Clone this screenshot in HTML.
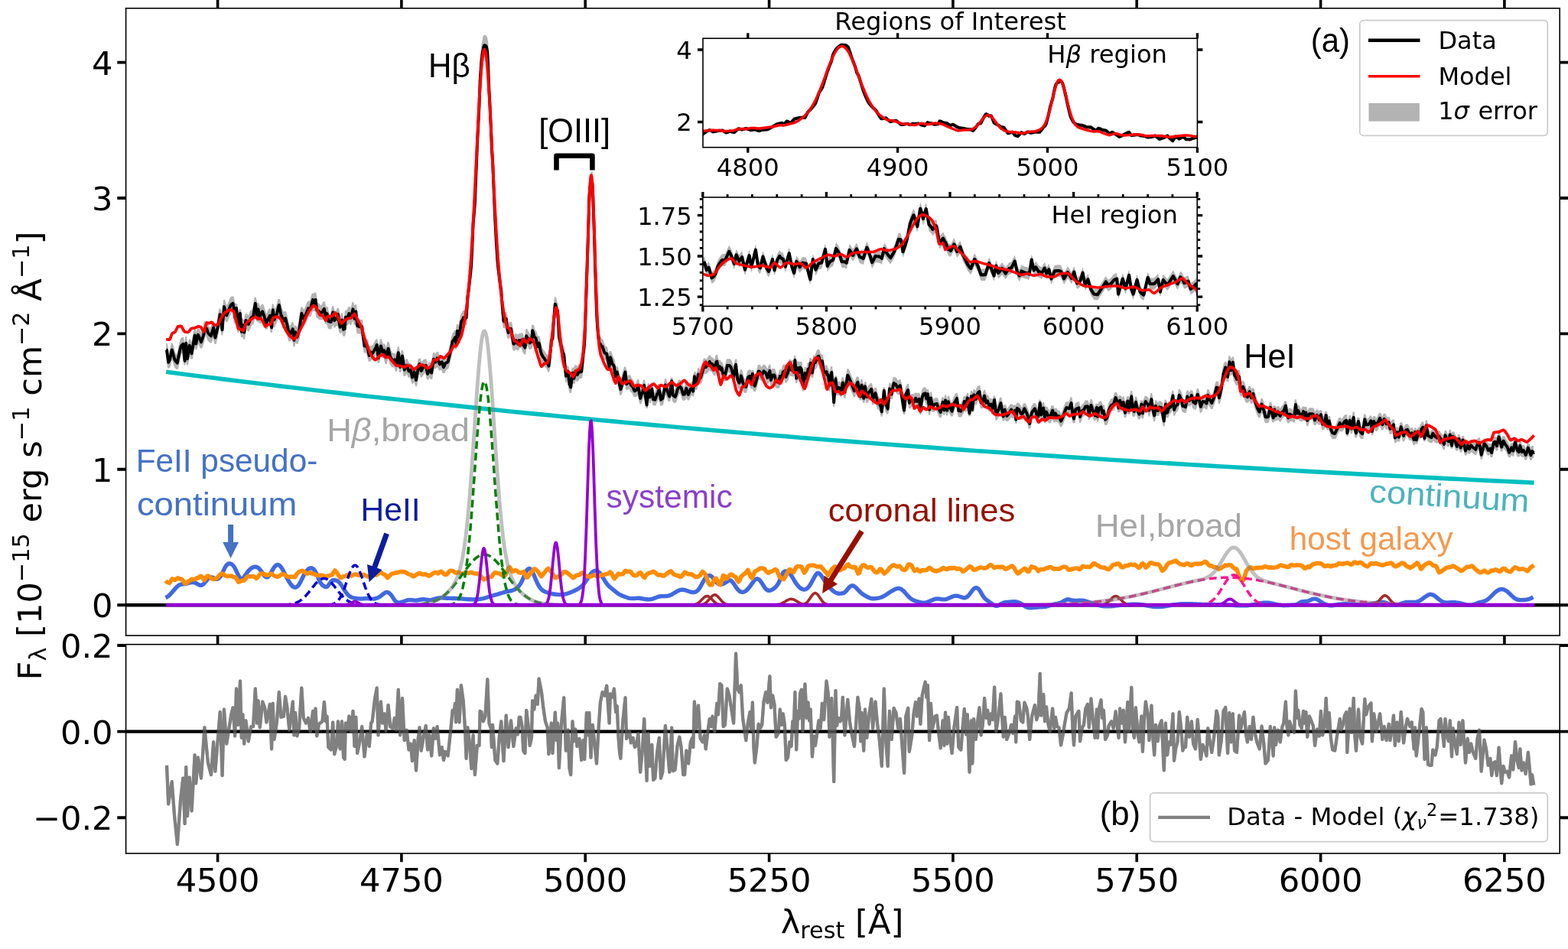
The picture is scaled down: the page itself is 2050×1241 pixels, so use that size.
<!DOCTYPE html>
<html><head><meta charset="utf-8"><title>Spectral decomposition</title>
<style>html,body{margin:0;padding:0;background:#fff}svg{display:block}</style></head>
<body>
<svg width="2050" height="1241" viewBox="0 0 2050 1241" role="img" aria-label="Spectral decomposition of an AGN spectrum">
<defs>
<clipPath id="cm"><rect x="164.6" y="10.8" width="1874.6" height="820.3"/></clipPath>
<clipPath id="c2"><rect x="164.6" y="842.7" width="1874.6" height="273.3"/></clipPath>
</defs>
<rect width="2050" height="1241" fill="#fff"/>
<g clip-path="url(#cm)" fill="none" stroke-linejoin="round" stroke-linecap="butt">
<path d="M164.6,791.2 H2039.2" stroke="#000" stroke-width="4.4"/>
<path d="M217.2,448.7 L218.2,448.7 L219.1,450.0 L220.1,457.0 L221.0,461.3 L222.0,457.1 L223.0,452.4 L223.9,448.8 L224.9,448.8 L225.8,448.8 L226.8,452.1 L227.8,455.6 L228.7,459.2 L229.7,462.0 L230.7,463.6 L231.6,462.0 L232.6,457.2 L233.5,452.7 L234.5,448.2 L235.5,444.6 L236.4,442.6 L237.4,441.5 L238.3,440.8 L239.3,440.8 L240.3,440.8 L241.2,450.3 L242.2,439.9 L243.2,439.9 L244.1,439.9 L245.1,450.5 L246.0,447.4 L247.0,443.5 L248.0,443.5 L248.9,443.5 L249.9,446.8 L250.8,446.0 L251.8,440.3 L252.8,434.6 L253.7,429.6 L254.7,429.6 L255.6,429.6 L256.6,434.3 L257.6,430.1 L258.5,429.6 L259.5,429.6 L260.5,429.6 L261.4,431.8 L262.4,434.1 L263.3,434.4 L264.3,431.6 L265.3,428.5 L266.2,422.6 L267.2,420.1 L268.1,419.9 L269.1,419.9 L270.1,419.9 L271.0,420.2 L272.0,422.8 L273.0,426.0 L273.9,427.3 L274.9,428.4 L275.8,426.6 L276.8,423.4 L277.8,420.3 L278.7,420.3 L279.7,420.3 L280.6,422.6 L281.6,427.4 L282.6,423.3 L283.5,419.1 L284.5,414.6 L285.4,409.2 L286.4,403.4 L287.4,403.4 L288.3,403.4 L289.3,405.9 L290.3,412.5 L291.2,400.4 L292.2,392.1 L293.1,392.1 L294.1,392.1 L295.1,395.1 L296.0,398.6 L297.0,398.5 L297.9,396.1 L298.9,393.7 L299.9,391.4 L300.8,389.3 L301.8,388.1 L302.8,387.4 L303.7,387.4 L304.7,387.4 L305.6,387.6 L306.6,392.8 L307.6,397.0 L308.5,397.0 L309.5,397.0 L310.4,398.0 L311.4,408.2 L312.4,404.5 L313.3,404.2 L314.3,404.2 L315.2,404.2 L316.2,416.8 L317.2,416.8 L318.1,416.8 L319.1,418.8 L320.1,411.8 L321.0,410.2 L322.0,410.2 L322.9,410.2 L323.9,411.7 L324.9,412.0 L325.8,409.6 L326.8,407.2 L327.7,405.8 L328.7,405.2 L329.7,404.5 L330.6,400.9 L331.6,394.6 L332.6,388.6 L333.5,388.6 L334.5,388.6 L335.4,391.9 L336.4,396.2 L337.4,396.2 L338.3,396.2 L339.3,398.3 L340.2,401.2 L341.2,399.3 L342.2,397.8 L343.1,397.8 L344.1,397.8 L345.0,400.0 L346.0,403.0 L347.0,406.0 L347.9,409.8 L348.9,408.9 L349.9,407.0 L350.8,405.3 L351.8,403.5 L352.7,403.5 L353.7,403.5 L354.7,409.8 L355.6,397.4 L356.6,397.4 L357.5,397.4 L358.5,401.4 L359.5,404.1 L360.4,402.1 L361.4,399.1 L362.4,395.0 L363.3,391.1 L364.3,391.1 L365.2,391.1 L366.2,391.3 L367.2,396.1 L368.1,401.0 L369.1,403.6 L370.0,405.7 L371.0,408.0 L372.0,407.0 L372.9,407.0 L373.9,407.0 L374.8,409.7 L375.8,413.5 L376.8,417.6 L377.7,421.9 L378.7,426.2 L379.7,424.9 L380.6,423.1 L381.6,421.3 L382.5,421.3 L383.5,421.3 L384.5,427.6 L385.4,425.6 L386.4,425.6 L387.3,425.6 L388.3,428.6 L389.3,426.0 L390.2,422.6 L391.2,415.6 L392.2,408.5 L393.1,401.4 L394.1,401.4 L395.0,401.4 L396.0,402.5 L397.0,405.1 L397.9,403.4 L398.9,401.7 L399.8,399.4 L400.8,396.8 L401.8,394.3 L402.7,393.8 L403.7,393.8 L404.6,393.8 L405.6,391.6 L406.6,387.8 L407.5,384.2 L408.5,383.6 L409.5,383.6 L410.4,383.6 L411.4,382.5 L412.3,382.5 L413.3,382.5 L414.3,388.4 L415.2,395.8 L416.2,396.2 L417.1,396.8 L418.1,397.7 L419.1,399.0 L420.0,398.9 L421.0,397.4 L422.0,395.7 L422.9,394.3 L423.9,394.3 L424.8,394.3 L425.8,399.5 L426.8,401.3 L427.7,401.3 L428.7,401.3 L429.6,406.4 L430.6,410.7 L431.6,411.0 L432.5,408.0 L433.5,403.0 L434.4,400.2 L435.4,400.2 L436.4,400.2 L437.3,405.3 L438.3,407.3 L439.3,407.3 L440.2,404.0 L441.2,402.8 L442.1,402.8 L443.1,402.8 L444.1,408.9 L445.0,413.6 L446.0,409.4 L446.9,409.4 L447.9,409.4 L448.9,414.8 L449.8,419.3 L450.8,405.9 L451.8,405.8 L452.7,405.8 L453.7,405.2 L454.6,402.4 L455.6,401.0 L456.6,401.0 L457.5,401.0 L458.5,403.1 L459.4,399.2 L460.4,395.1 L461.4,395.1 L462.3,395.1 L463.3,399.6 L464.2,398.2 L465.2,398.2 L466.2,398.2 L467.1,406.9 L468.1,416.7 L469.1,417.1 L470.0,417.5 L471.0,417.7 L471.9,417.7 L472.9,417.7 L473.9,418.0 L474.8,423.3 L475.8,430.5 L476.7,437.7 L477.7,443.4 L478.7,443.4 L479.6,443.4 L480.6,443.4 L481.6,446.4 L482.5,450.7 L483.5,453.0 L484.4,452.0 L485.4,452.0 L486.4,452.0 L487.3,450.9 L488.3,449.3 L489.2,447.6 L490.2,446.1 L491.2,443.6 L492.1,443.6 L493.1,443.6 L494.1,445.5 L495.0,452.3 L496.0,447.8 L496.9,443.4 L497.9,443.4 L498.9,443.4 L499.8,446.7 L500.8,449.4 L501.7,449.4 L502.7,449.4 L503.7,450.5 L504.6,454.6 L505.6,450.9 L506.5,447.1 L507.5,447.1 L508.5,447.1 L509.4,450.2 L510.4,454.3 L511.4,458.4 L512.3,459.9 L513.3,461.4 L514.2,461.9 L515.2,461.9 L516.2,461.9 L517.1,462.2 L518.1,463.2 L519.0,457.2 L520.0,453.3 L521.0,453.3 L521.9,453.3 L522.9,461.5 L523.9,462.5 L524.8,457.8 L525.8,457.8 L526.7,457.8 L527.7,461.7 L528.7,468.2 L529.6,471.3 L530.6,469.2 L531.5,469.2 L532.5,469.2 L533.5,471.0 L534.4,473.6 L535.4,475.3 L536.3,475.3 L537.3,475.3 L538.3,477.1 L539.2,481.5 L540.2,479.9 L541.2,479.6 L542.1,479.6 L543.1,479.6 L544.0,482.9 L545.0,477.5 L546.0,472.5 L546.9,469.3 L547.9,468.6 L548.8,468.6 L549.8,468.6 L550.8,472.3 L551.7,472.9 L552.7,471.3 L553.7,470.2 L554.6,469.8 L555.6,469.4 L556.5,469.4 L557.5,469.4 L558.5,472.9 L559.4,476.6 L560.4,473.8 L561.3,473.8 L562.3,473.8 L563.3,475.3 L564.2,472.3 L565.2,465.7 L566.1,461.0 L567.1,461.0 L568.1,461.0 L569.0,462.7 L570.0,461.2 L571.0,460.1 L571.9,460.1 L572.9,460.1 L573.8,462.6 L574.8,464.8 L575.8,465.0 L576.7,464.6 L577.7,464.6 L578.6,464.6 L579.6,467.6 L580.6,468.0 L581.5,466.2 L582.5,465.7 L583.5,465.1 L584.4,464.6 L585.4,461.4 L586.3,457.5 L587.3,453.5 L588.3,449.3 L589.2,444.7 L590.2,439.9 L591.1,436.6 L592.1,435.3 L593.1,433.9 L594.0,432.0 L595.0,432.0 L595.9,432.0 L596.9,424.0 L597.9,424.0 L598.8,424.0 L599.8,426.0 L600.8,422.0 L601.7,413.1 L602.7,410.6 L603.6,408.9 L604.6,406.7 L605.6,406.2 L606.5,405.8 L607.5,405.7 L608.4,405.7 L609.4,395.1 L610.4,379.8 L611.3,371.8 L612.3,363.8 L613.3,355.5 L614.2,346.7 L615.2,336.7 L616.1,318.1 L617.1,295.6 L618.1,277.3 L619.0,265.8 L620.0,252.8 L620.9,228.8 L621.9,204.6 L622.9,180.4 L623.8,160.5 L624.8,141.3 L625.7,120.6 L626.7,92.5 L627.7,77.9 L628.6,65.9 L629.6,57.8 L630.6,52.3 L631.5,47.7 L632.5,45.8 L633.4,45.8 L634.4,45.8 L635.4,46.8 L636.3,46.8 L637.3,49.7 L638.2,55.2 L639.2,75.9 L640.2,98.8 L641.1,118.9 L642.1,138.1 L643.1,160.0 L644.0,184.4 L645.0,196.5 L645.9,220.2 L646.9,243.9 L647.9,266.8 L648.8,287.2 L649.8,304.6 L650.7,320.8 L651.7,333.8 L652.7,342.9 L653.6,350.7 L654.6,358.4 L655.5,365.8 L656.5,374.2 L657.5,387.1 L658.4,399.3 L659.4,409.4 L660.4,407.9 L661.3,407.9 L662.3,407.9 L663.2,412.3 L664.2,419.0 L665.2,422.4 L666.1,421.4 L667.1,420.8 L668.0,420.8 L669.0,420.8 L670.0,426.2 L670.9,432.0 L671.9,437.9 L672.9,437.9 L673.8,436.2 L674.8,436.2 L675.7,436.2 L676.7,437.8 L677.7,436.3 L678.6,436.3 L679.6,436.3 L680.5,436.1 L681.5,435.3 L682.5,435.3 L683.4,435.3 L684.4,438.5 L685.3,442.3 L686.3,438.3 L687.3,429.9 L688.2,429.9 L689.2,429.9 L690.2,432.2 L691.1,433.6 L692.1,435.3 L693.0,437.5 L694.0,437.4 L695.0,425.0 L695.9,424.9 L696.9,424.9 L697.8,424.9 L698.8,428.6 L699.8,431.4 L700.7,432.4 L701.7,433.9 L702.7,438.6 L703.6,439.5 L704.6,439.5 L705.5,439.5 L706.5,443.7 L707.5,448.4 L708.4,452.5 L709.4,455.1 L710.3,456.9 L711.3,458.3 L712.3,459.3 L713.2,460.9 L714.2,462.7 L715.1,463.3 L716.1,463.6 L717.1,465.5 L718.0,456.8 L719.0,446.6 L720.0,436.0 L720.9,434.6 L721.9,426.7 L722.8,412.5 L723.8,399.4 L724.8,388.5 L725.7,388.5 L726.7,388.5 L727.6,391.1 L728.6,396.0 L729.6,396.0 L730.5,404.5 L731.5,423.3 L732.5,434.0 L733.4,438.2 L734.4,441.9 L735.3,446.7 L736.3,450.8 L737.3,453.3 L738.2,454.7 L739.2,465.7 L740.1,475.8 L741.1,478.5 L742.1,478.5 L743.0,478.5 L744.0,480.8 L744.9,489.8 L745.9,492.8 L746.9,484.6 L747.8,480.7 L748.8,480.7 L749.8,480.7 L750.7,480.1 L751.7,477.2 L752.6,477.2 L753.6,477.2 L754.6,479.1 L755.5,478.4 L756.5,476.3 L757.4,476.3 L758.4,476.3 L759.4,476.2 L760.3,467.8 L761.3,457.0 L762.3,449.5 L763.2,439.3 L764.2,413.8 L765.1,383.1 L766.1,350.4 L767.1,324.5 L768.0,295.1 L769.0,259.9 L769.9,238.4 L770.9,229.9 L771.9,226.7 L772.8,224.6 L773.8,224.6 L774.7,224.6 L775.7,232.6 L776.7,257.1 L777.6,287.9 L778.6,321.3 L779.6,354.9 L780.5,386.2 L781.5,408.3 L782.4,422.5 L783.4,432.0 L784.4,437.9 L785.3,440.6 L786.3,441.9 L787.2,443.2 L788.2,443.8 L789.2,446.0 L790.1,448.9 L791.1,451.7 L792.1,452.9 L793.0,453.3 L794.0,453.6 L794.9,458.2 L795.9,463.3 L796.9,459.1 L797.8,459.1 L798.8,459.1 L799.7,460.6 L800.7,464.2 L801.7,466.8 L802.6,468.4 L803.6,470.1 L804.6,475.4 L805.5,478.9 L806.5,478.9 L807.4,478.9 L808.4,481.3 L809.4,486.0 L810.3,490.6 L811.3,496.1 L812.2,494.8 L813.2,489.7 L814.2,486.3 L815.1,482.9 L816.1,479.4 L817.0,479.4 L818.0,479.4 L819.0,483.1 L819.9,492.1 L820.9,491.1 L821.9,490.3 L822.8,490.3 L823.8,490.3 L824.7,491.6 L825.7,494.6 L826.7,495.8 L827.6,496.8 L828.6,497.8 L829.5,500.9 L830.5,502.0 L831.5,500.8 L832.4,498.3 L833.4,496.2 L834.4,496.2 L835.3,496.2 L836.3,502.0 L837.2,507.9 L838.2,506.9 L839.2,504.6 L840.1,500.6 L841.1,496.5 L842.0,496.5 L843.0,496.5 L844.0,502.5 L844.9,510.3 L845.9,506.3 L846.8,501.6 L847.8,501.6 L848.8,501.6 L849.7,506.6 L850.7,503.1 L851.7,502.3 L852.6,502.3 L853.6,502.3 L854.5,509.7 L855.5,513.8 L856.5,511.8 L857.4,509.2 L858.4,506.8 L859.3,505.1 L860.3,502.1 L861.3,502.1 L862.2,502.1 L863.2,503.1 L864.2,509.1 L865.1,513.2 L866.1,509.3 L867.0,504.6 L868.0,499.8 L869.0,495.3 L869.9,495.3 L870.9,495.3 L871.8,498.6 L872.8,501.4 L873.8,504.0 L874.7,506.5 L875.7,500.5 L876.6,493.8 L877.6,493.8 L878.6,493.8 L879.5,494.2 L880.5,505.8 L881.5,509.3 L882.4,509.1 L883.4,506.3 L884.3,502.7 L885.3,500.3 L886.3,498.4 L887.2,496.5 L888.2,496.5 L889.1,496.5 L890.1,497.2 L891.1,498.4 L892.0,500.5 L893.0,503.7 L894.0,506.9 L894.9,504.3 L895.9,501.1 L896.8,501.1 L897.8,501.1 L898.8,501.1 L899.7,504.1 L900.7,503.6 L901.6,501.1 L902.6,500.0 L903.6,499.6 L904.5,499.6 L905.5,499.6 L906.4,489.7 L907.4,485.8 L908.4,485.8 L909.3,485.8 L910.3,489.5 L911.3,485.3 L912.2,481.2 L913.2,481.2 L914.1,481.2 L915.1,483.2 L916.1,481.8 L917.0,478.6 L918.0,475.3 L918.9,471.4 L919.9,468.4 L920.9,468.4 L921.8,468.4 L922.8,469.7 L923.8,469.4 L924.7,468.4 L925.7,466.5 L926.6,464.4 L927.6,464.4 L928.6,464.4 L929.5,465.8 L930.5,467.4 L931.4,467.4 L932.4,467.4 L933.4,470.6 L934.3,469.5 L935.3,465.5 L936.2,463.9 L937.2,463.9 L938.2,463.9 L939.1,469.1 L940.1,470.9 L941.1,470.9 L942.0,470.9 L943.0,473.3 L943.9,473.3 L944.9,474.3 L945.9,478.3 L946.8,480.7 L947.8,478.7 L948.7,475.0 L949.7,470.0 L950.7,469.2 L951.6,469.2 L952.6,469.2 L953.6,469.2 L954.5,469.3 L955.5,470.2 L956.4,471.6 L957.4,474.3 L958.4,477.4 L959.3,478.0 L960.3,472.7 L961.2,469.4 L962.2,469.4 L963.2,469.4 L964.1,478.2 L965.1,486.4 L966.0,489.7 L967.0,486.7 L968.0,483.1 L968.9,483.1 L969.9,483.1 L970.9,486.1 L971.8,490.6 L972.8,493.3 L973.7,495.3 L974.7,495.9 L975.7,491.2 L976.6,486.9 L977.6,484.5 L978.5,483.7 L979.5,483.5 L980.5,483.5 L981.4,483.5 L982.4,484.9 L983.4,484.1 L984.3,484.1 L985.3,484.1 L986.2,492.4 L987.2,491.6 L988.2,488.3 L989.1,484.3 L990.1,479.9 L991.0,476.9 L992.0,476.9 L993.0,476.9 L993.9,477.3 L994.9,479.0 L995.8,479.9 L996.8,478.1 L997.8,476.9 L998.7,476.9 L999.7,476.9 L1000.7,477.8 L1001.6,478.6 L1002.6,480.4 L1003.5,482.2 L1004.5,479.1 L1005.5,476.7 L1006.4,476.7 L1007.4,476.7 L1008.3,484.3 L1009.3,481.9 L1010.3,481.9 L1011.2,481.9 L1012.2,482.0 L1013.2,482.0 L1014.1,484.4 L1015.1,488.3 L1016.0,490.3 L1017.0,490.6 L1018.0,487.2 L1018.9,483.5 L1019.9,483.5 L1020.8,483.5 L1021.8,482.7 L1022.8,477.9 L1023.7,477.5 L1024.7,476.7 L1025.6,476.7 L1026.6,476.7 L1027.6,479.2 L1028.5,479.9 L1029.5,476.9 L1030.5,473.1 L1031.4,470.1 L1032.4,470.1 L1033.3,470.1 L1034.3,471.2 L1035.3,471.1 L1036.2,471.1 L1037.2,471.1 L1038.1,465.0 L1039.1,465.0 L1040.1,465.0 L1041.0,471.1 L1042.0,472.6 L1043.0,472.6 L1043.9,472.6 L1044.9,473.2 L1045.8,472.7 L1046.8,472.7 L1047.8,472.7 L1048.7,474.1 L1049.7,484.9 L1050.6,485.4 L1051.6,479.8 L1052.6,479.8 L1053.5,479.8 L1054.5,481.4 L1055.4,474.6 L1056.4,474.6 L1057.4,474.5 L1058.3,468.3 L1059.3,468.3 L1060.3,468.3 L1061.2,469.5 L1062.2,470.8 L1063.1,464.7 L1064.1,464.7 L1065.1,464.7 L1066.0,462.7 L1067.0,460.3 L1067.9,457.9 L1068.9,457.1 L1069.9,457.1 L1070.8,457.1 L1071.8,458.4 L1072.8,462.3 L1073.7,463.5 L1074.7,463.5 L1075.6,463.5 L1076.6,468.2 L1077.6,474.9 L1078.5,478.3 L1079.5,477.5 L1080.4,477.5 L1081.4,477.5 L1082.4,481.8 L1083.3,481.9 L1084.3,486.2 L1085.2,484.5 L1086.2,479.0 L1087.2,479.0 L1088.1,479.0 L1089.1,488.3 L1090.1,501.3 L1091.0,494.5 L1092.0,491.3 L1092.9,491.3 L1093.9,491.3 L1094.9,499.0 L1095.8,498.7 L1096.8,498.7 L1097.7,498.7 L1098.7,500.0 L1099.7,498.8 L1100.6,493.3 L1101.6,493.3 L1102.6,493.3 L1103.5,496.1 L1104.5,498.9 L1105.4,493.1 L1106.4,487.5 L1107.4,482.2 L1108.3,482.2 L1109.3,482.2 L1110.2,483.9 L1111.2,485.9 L1112.2,488.6 L1113.1,490.9 L1114.1,493.3 L1115.1,495.8 L1116.0,498.1 L1117.0,500.3 L1117.9,497.9 L1118.9,495.0 L1119.9,492.6 L1120.8,492.6 L1121.8,492.6 L1122.7,493.4 L1123.7,497.4 L1124.7,500.7 L1125.6,495.7 L1126.6,495.7 L1127.5,495.7 L1128.5,501.8 L1129.5,502.2 L1130.4,499.2 L1131.4,499.2 L1132.4,499.2 L1133.3,505.2 L1134.3,506.5 L1135.2,504.5 L1136.2,503.3 L1137.2,502.1 L1138.1,500.9 L1139.1,500.9 L1140.0,500.9 L1141.0,506.0 L1142.0,509.8 L1142.9,507.3 L1143.9,507.1 L1144.9,507.1 L1145.8,507.1 L1146.8,511.2 L1147.7,515.2 L1148.7,518.3 L1149.7,519.4 L1150.6,520.2 L1151.6,521.7 L1152.5,524.2 L1153.5,515.8 L1154.5,506.4 L1155.4,506.4 L1156.4,506.4 L1157.3,507.7 L1158.3,515.3 L1159.3,521.1 L1160.2,521.0 L1161.2,509.6 L1162.2,500.4 L1163.1,500.4 L1164.1,500.4 L1165.0,502.9 L1166.0,500.1 L1167.0,495.6 L1167.9,492.9 L1168.9,492.9 L1169.8,492.9 L1170.8,493.5 L1171.8,494.1 L1172.7,495.3 L1173.7,497.3 L1174.7,497.7 L1175.6,496.0 L1176.6,496.0 L1177.5,496.0 L1178.5,499.9 L1179.5,506.3 L1180.4,513.0 L1181.4,519.4 L1182.3,517.0 L1183.3,507.5 L1184.3,505.6 L1185.2,503.8 L1186.2,501.9 L1187.1,501.9 L1188.1,501.9 L1189.1,511.1 L1190.0,516.1 L1191.0,515.5 L1192.0,515.1 L1192.9,515.1 L1193.9,515.1 L1194.8,515.7 L1195.8,513.6 L1196.8,513.6 L1197.7,513.6 L1198.7,513.9 L1199.6,514.3 L1200.6,513.8 L1201.6,513.8 L1202.5,513.8 L1203.5,520.0 L1204.5,513.1 L1205.4,509.4 L1206.4,507.3 L1207.3,506.7 L1208.3,506.3 L1209.3,506.3 L1210.2,506.3 L1211.2,508.6 L1212.1,509.2 L1213.1,509.2 L1214.1,509.2 L1215.0,518.0 L1216.0,512.6 L1216.9,512.6 L1217.9,512.6 L1218.9,517.4 L1219.8,522.3 L1220.8,521.3 L1221.8,520.4 L1222.7,520.4 L1223.7,520.1 L1224.6,520.1 L1225.6,520.1 L1226.6,522.2 L1227.5,524.8 L1228.5,527.0 L1229.4,528.0 L1230.4,523.5 L1231.4,519.2 L1232.3,519.2 L1233.3,519.2 L1234.3,521.5 L1235.2,516.4 L1236.2,516.4 L1237.1,516.4 L1238.1,522.3 L1239.1,517.7 L1240.0,517.7 L1241.0,517.7 L1241.9,521.0 L1242.9,524.4 L1243.9,526.5 L1244.8,525.1 L1245.8,521.7 L1246.7,519.1 L1247.7,517.4 L1248.7,515.6 L1249.6,513.8 L1250.6,513.8 L1251.6,513.8 L1252.5,516.4 L1253.5,523.4 L1254.4,529.4 L1255.4,529.5 L1256.4,527.2 L1257.3,525.4 L1258.3,523.5 L1259.2,519.5 L1260.2,518.0 L1261.2,518.0 L1262.1,518.0 L1263.1,516.8 L1264.1,513.8 L1265.0,513.8 L1266.0,513.8 L1266.9,520.9 L1267.9,518.9 L1268.9,511.0 L1269.8,511.0 L1270.8,511.0 L1271.7,512.8 L1272.7,509.3 L1273.7,509.3 L1274.6,509.3 L1275.6,511.2 L1276.5,507.8 L1277.5,505.8 L1278.5,504.7 L1279.4,504.0 L1280.4,504.0 L1281.4,504.0 L1282.3,509.8 L1283.3,516.7 L1284.2,516.2 L1285.2,512.7 L1286.2,509.7 L1287.1,509.7 L1288.1,509.7 L1289.0,513.9 L1290.0,516.5 L1291.0,516.5 L1291.9,516.5 L1292.9,518.7 L1293.9,521.2 L1294.8,521.0 L1295.8,521.0 L1296.7,521.0 L1297.7,522.2 L1298.7,517.4 L1299.6,517.4 L1300.6,517.4 L1301.5,519.4 L1302.5,527.7 L1303.5,530.3 L1304.4,528.3 L1305.4,525.7 L1306.3,522.6 L1307.3,519.6 L1308.3,519.6 L1309.2,519.6 L1310.2,523.8 L1311.2,529.1 L1312.1,530.4 L1313.1,529.3 L1314.0,529.3 L1315.0,529.3 L1316.0,532.3 L1316.9,534.3 L1317.9,533.1 L1318.8,531.6 L1319.8,530.0 L1320.8,528.4 L1321.7,528.4 L1322.7,528.4 L1323.7,528.5 L1324.6,529.9 L1325.6,529.4 L1326.5,529.4 L1327.5,529.4 L1328.5,529.4 L1329.4,526.6 L1330.4,526.6 L1331.3,526.6 L1332.3,527.5 L1333.3,528.0 L1334.2,530.0 L1335.2,531.9 L1336.1,532.8 L1337.1,529.8 L1338.1,527.3 L1339.0,527.3 L1340.0,527.3 L1341.0,527.6 L1341.9,529.8 L1342.9,531.7 L1343.8,534.0 L1344.8,536.9 L1345.8,541.5 L1346.7,538.1 L1347.7,533.3 L1348.6,530.9 L1349.6,529.6 L1350.6,528.2 L1351.5,527.0 L1352.5,527.0 L1353.5,527.0 L1354.4,527.7 L1355.4,530.7 L1356.3,534.5 L1357.3,530.9 L1358.3,522.8 L1359.2,522.8 L1360.2,522.8 L1361.1,524.0 L1362.1,528.4 L1363.1,526.0 L1364.0,526.0 L1365.0,526.0 L1365.9,531.1 L1366.9,531.4 L1367.9,531.4 L1368.8,531.4 L1369.8,532.7 L1370.8,534.8 L1371.7,536.1 L1372.7,535.7 L1373.6,533.0 L1374.6,530.3 L1375.6,530.3 L1376.5,530.3 L1377.5,530.5 L1378.4,534.1 L1379.4,533.7 L1380.4,533.7 L1381.3,533.7 L1382.3,535.4 L1383.3,536.6 L1384.2,536.6 L1385.2,536.6 L1386.1,538.4 L1387.1,540.8 L1388.1,539.1 L1389.0,536.8 L1390.0,533.9 L1390.9,531.0 L1391.9,528.4 L1392.9,526.1 L1393.8,525.2 L1394.8,525.2 L1395.7,525.2 L1396.7,525.6 L1397.7,525.1 L1398.6,522.1 L1399.6,519.2 L1400.6,519.2 L1401.5,519.2 L1402.5,526.4 L1403.4,533.6 L1404.4,532.2 L1405.4,527.4 L1406.3,526.9 L1407.3,526.4 L1408.2,525.9 L1409.2,525.3 L1410.2,525.3 L1411.1,525.3 L1412.1,531.3 L1413.1,531.5 L1414.0,529.2 L1415.0,528.5 L1415.9,528.5 L1416.9,526.6 L1417.9,524.4 L1418.8,523.5 L1419.8,523.5 L1420.7,523.4 L1421.7,523.4 L1422.7,523.4 L1423.6,527.6 L1424.6,526.4 L1425.5,522.1 L1426.5,522.1 L1427.5,522.1 L1428.4,525.0 L1429.4,527.8 L1430.4,530.1 L1431.3,532.4 L1432.3,527.8 L1433.2,527.8 L1434.2,527.8 L1435.2,528.5 L1436.1,526.3 L1437.1,525.4 L1438.0,524.6 L1439.0,524.6 L1440.0,524.6 L1440.9,526.7 L1441.9,529.6 L1442.9,529.6 L1443.8,529.6 L1444.8,534.5 L1445.7,539.4 L1446.7,537.5 L1447.7,533.9 L1448.6,529.3 L1449.6,526.7 L1450.5,524.6 L1451.5,522.7 L1452.5,521.5 L1453.4,521.3 L1454.4,521.2 L1455.4,519.2 L1456.3,516.1 L1457.3,513.0 L1458.2,513.0 L1459.2,513.0 L1460.2,513.4 L1461.1,516.0 L1462.1,519.5 L1463.0,517.1 L1464.0,517.1 L1465.0,517.1 L1465.9,517.9 L1466.9,519.9 L1467.8,518.6 L1468.8,518.6 L1469.8,518.6 L1470.7,524.6 L1471.7,524.2 L1472.7,519.8 L1473.6,518.3 L1474.6,518.3 L1475.5,518.3 L1476.5,520.5 L1477.5,515.1 L1478.4,511.1 L1479.4,511.1 L1480.3,511.1 L1481.3,520.3 L1482.3,527.8 L1483.2,522.0 L1484.2,518.7 L1485.2,518.7 L1486.1,518.7 L1487.1,522.8 L1488.0,527.0 L1489.0,530.8 L1490.0,528.3 L1490.9,523.2 L1491.9,523.2 L1492.8,523.2 L1493.8,524.2 L1494.8,523.1 L1495.7,519.9 L1496.7,517.7 L1497.6,517.7 L1498.6,517.7 L1499.6,518.6 L1500.5,519.6 L1501.5,520.2 L1502.5,523.2 L1503.4,518.6 L1504.4,514.1 L1505.3,514.1 L1506.3,514.1 L1507.3,520.6 L1508.2,527.5 L1509.2,528.9 L1510.1,523.2 L1511.1,523.2 L1512.1,523.2 L1513.0,525.4 L1514.0,526.2 L1515.0,524.4 L1515.9,524.4 L1516.9,524.4 L1517.8,524.8 L1518.8,525.2 L1519.8,526.4 L1520.7,532.0 L1521.7,533.2 L1522.6,522.7 L1523.6,522.7 L1524.6,522.7 L1525.5,524.4 L1526.5,527.7 L1527.4,525.0 L1528.4,524.7 L1529.4,524.5 L1530.3,520.6 L1531.3,515.6 L1532.3,510.7 L1533.2,510.7 L1534.2,510.7 L1535.1,517.7 L1536.1,523.3 L1537.1,522.3 L1538.0,521.7 L1539.0,519.1 L1539.9,513.8 L1540.9,508.7 L1541.9,508.7 L1542.8,508.7 L1543.8,510.8 L1544.8,512.8 L1545.7,516.2 L1546.7,520.4 L1547.6,523.2 L1548.6,523.2 L1549.6,521.4 L1550.5,515.3 L1551.5,510.6 L1552.4,510.6 L1553.4,510.6 L1554.4,512.6 L1555.3,512.9 L1556.3,510.5 L1557.2,510.3 L1558.2,510.3 L1559.2,510.3 L1560.1,514.1 L1561.1,517.9 L1562.1,518.4 L1563.0,515.4 L1564.0,511.1 L1564.9,508.0 L1565.9,508.0 L1566.9,508.0 L1567.8,511.4 L1568.8,514.8 L1569.7,519.2 L1570.7,519.3 L1571.7,517.0 L1572.6,517.0 L1573.6,517.0 L1574.6,517.1 L1575.5,517.3 L1576.5,517.7 L1577.4,513.7 L1578.4,509.1 L1579.4,509.1 L1580.3,509.1 L1581.3,511.5 L1582.2,513.8 L1583.2,515.7 L1584.2,516.8 L1585.1,514.5 L1586.1,512.1 L1587.0,508.5 L1588.0,504.6 L1589.0,500.6 L1589.9,498.5 L1590.9,498.5 L1591.9,498.5 L1592.8,498.8 L1593.8,503.6 L1594.7,504.5 L1595.7,500.3 L1596.7,493.9 L1597.6,486.9 L1598.6,480.2 L1599.5,477.0 L1600.5,473.9 L1601.5,472.9 L1602.4,472.9 L1603.4,472.9 L1604.4,476.9 L1605.3,473.6 L1606.3,465.3 L1607.2,465.3 L1608.2,465.3 L1609.2,468.4 L1610.1,468.5 L1611.1,466.5 L1612.0,466.5 L1613.0,466.5 L1614.0,473.7 L1614.9,481.4 L1615.9,483.5 L1616.8,485.0 L1617.8,484.6 L1618.8,483.8 L1619.7,483.8 L1620.7,483.8 L1621.7,490.0 L1622.6,498.8 L1623.6,498.4 L1624.5,498.3 L1625.5,498.3 L1626.5,498.3 L1627.4,501.5 L1628.4,503.7 L1629.3,507.1 L1630.3,509.7 L1631.3,507.7 L1632.2,505.1 L1633.2,505.1 L1634.2,505.1 L1635.1,505.6 L1636.1,509.1 L1637.0,507.5 L1638.0,507.5 L1639.0,507.5 L1639.9,509.2 L1640.9,513.4 L1641.8,516.9 L1642.8,519.6 L1643.8,522.4 L1644.7,525.1 L1645.7,527.4 L1646.6,527.5 L1647.6,524.2 L1648.6,520.8 L1649.5,520.8 L1650.5,520.8 L1651.5,523.0 L1652.4,525.9 L1653.4,529.0 L1654.3,532.9 L1655.3,536.9 L1656.3,537.7 L1657.2,536.5 L1658.2,532.2 L1659.1,528.0 L1660.1,525.5 L1661.1,525.5 L1662.0,525.5 L1663.0,529.0 L1664.0,532.5 L1664.9,530.2 L1665.9,530.2 L1666.8,530.2 L1667.8,530.4 L1668.8,532.9 L1669.7,531.1 L1670.7,531.1 L1671.6,531.1 L1672.6,532.0 L1673.6,534.0 L1674.5,532.4 L1675.5,530.7 L1676.4,530.4 L1677.4,529.6 L1678.4,526.9 L1679.3,524.2 L1680.3,524.2 L1681.3,524.2 L1682.2,525.2 L1683.2,531.3 L1684.1,535.4 L1685.1,533.6 L1686.1,533.6 L1687.0,533.6 L1688.0,534.3 L1688.9,534.9 L1689.9,535.4 L1690.9,535.7 L1691.8,530.9 L1692.8,522.2 L1693.8,522.2 L1694.7,522.2 L1695.7,526.5 L1696.6,530.1 L1697.6,530.1 L1698.6,530.1 L1699.5,532.3 L1700.5,534.4 L1701.4,534.4 L1702.4,531.9 L1703.4,531.5 L1704.3,531.5 L1705.3,531.5 L1706.2,532.1 L1707.2,532.1 L1708.2,532.1 L1709.1,536.3 L1710.1,536.1 L1711.1,533.4 L1712.0,533.4 L1713.0,533.3 L1713.9,533.3 L1714.9,533.3 L1715.9,533.3 L1716.8,533.4 L1717.8,534.0 L1718.7,537.4 L1719.7,538.1 L1720.7,535.8 L1721.6,535.8 L1722.6,535.8 L1723.6,536.1 L1724.5,538.1 L1725.5,536.2 L1726.4,536.2 L1727.4,536.2 L1728.4,537.1 L1729.3,542.6 L1730.3,545.1 L1731.2,542.2 L1732.2,537.8 L1733.2,537.8 L1734.1,537.8 L1735.1,538.8 L1736.0,544.7 L1737.0,544.0 L1738.0,544.0 L1738.9,544.0 L1739.9,548.7 L1740.9,553.4 L1741.8,555.8 L1742.8,557.9 L1743.7,559.0 L1744.7,558.6 L1745.7,556.6 L1746.6,554.5 L1747.6,552.4 L1748.5,550.3 L1749.5,548.1 L1750.5,546.0 L1751.4,546.0 L1752.4,546.0 L1753.4,547.1 L1754.3,547.8 L1755.3,546.5 L1756.2,544.8 L1757.2,543.3 L1758.2,542.7 L1759.1,542.1 L1760.1,542.1 L1761.0,542.1 L1762.0,550.7 L1763.0,545.9 L1763.9,542.9 L1764.9,542.9 L1765.9,542.9 L1766.8,547.6 L1767.8,543.2 L1768.7,538.4 L1769.7,538.4 L1770.7,538.4 L1771.6,546.9 L1772.6,554.5 L1773.5,550.7 L1774.5,545.7 L1775.5,545.7 L1776.4,545.7 L1777.4,546.0 L1778.3,551.7 L1779.3,556.7 L1780.3,558.2 L1781.2,553.4 L1782.2,547.5 L1783.2,541.6 L1784.1,541.6 L1785.1,541.6 L1786.0,543.5 L1787.0,547.6 L1788.0,547.6 L1788.9,546.7 L1789.9,545.3 L1790.8,543.6 L1791.8,543.6 L1792.8,543.6 L1793.7,546.1 L1794.7,546.4 L1795.7,544.0 L1796.6,544.0 L1797.6,544.0 L1798.5,545.6 L1799.5,547.0 L1800.5,544.9 L1801.4,542.8 L1802.4,540.7 L1803.3,539.8 L1804.3,539.8 L1805.3,539.8 L1806.2,542.4 L1807.2,544.9 L1808.1,542.1 L1809.1,540.7 L1810.1,540.7 L1811.0,540.7 L1812.0,542.1 L1813.0,544.9 L1813.9,545.4 L1814.9,545.2 L1815.8,545.2 L1816.8,545.2 L1817.8,549.8 L1818.7,551.2 L1819.7,549.7 L1820.6,548.2 L1821.6,548.2 L1822.6,548.2 L1823.5,552.7 L1824.5,562.1 L1825.5,558.2 L1826.4,558.2 L1827.4,558.2 L1828.3,560.2 L1829.3,557.3 L1830.3,552.8 L1831.2,552.3 L1832.2,552.3 L1833.1,552.3 L1834.1,555.7 L1835.1,559.1 L1836.0,557.4 L1837.0,555.2 L1837.9,554.7 L1838.9,554.4 L1839.9,554.4 L1840.8,554.4 L1841.8,556.1 L1842.8,558.3 L1843.7,560.2 L1844.7,558.9 L1845.6,558.9 L1846.6,558.9 L1847.6,561.7 L1848.5,561.8 L1849.5,559.5 L1850.4,559.5 L1851.4,559.5 L1852.4,562.6 L1853.3,560.0 L1854.3,559.0 L1855.3,558.2 L1856.2,557.2 L1857.2,555.0 L1858.1,552.9 L1859.1,551.5 L1860.1,551.5 L1861.0,551.5 L1862.0,556.1 L1862.9,555.3 L1863.9,549.4 L1864.9,549.4 L1865.8,549.4 L1866.8,554.8 L1867.7,560.9 L1868.7,562.8 L1869.7,563.4 L1870.6,563.9 L1871.6,561.7 L1872.6,559.7 L1873.5,559.7 L1874.5,559.7 L1875.4,561.0 L1876.4,562.3 L1877.4,563.7 L1878.3,564.1 L1879.3,563.5 L1880.2,563.2 L1881.2,563.2 L1882.2,563.2 L1883.1,564.7 L1884.1,566.3 L1885.1,567.1 L1886.0,568.4 L1887.0,569.6 L1887.9,566.3 L1888.9,562.8 L1889.9,562.8 L1890.8,562.8 L1891.8,565.5 L1892.7,568.1 L1893.7,566.7 L1894.7,561.8 L1895.6,561.8 L1896.6,561.8 L1897.5,566.2 L1898.5,564.5 L1899.5,564.5 L1900.4,564.5 L1901.4,565.1 L1902.4,567.1 L1903.3,569.7 L1904.3,572.4 L1905.2,571.5 L1906.2,567.9 L1907.2,567.9 L1908.1,567.9 L1909.1,570.1 L1910.0,574.7 L1911.0,570.4 L1912.0,570.1 L1912.9,570.1 L1913.9,570.1 L1914.9,573.6 L1915.8,577.3 L1916.8,578.0 L1917.7,575.4 L1918.7,575.4 L1919.7,575.4 L1920.6,577.5 L1921.6,576.7 L1922.5,575.6 L1923.5,575.6 L1924.5,575.6 L1925.4,576.6 L1926.4,577.7 L1927.3,578.6 L1928.3,579.2 L1929.3,578.1 L1930.2,575.2 L1931.2,573.7 L1932.2,572.9 L1933.1,572.2 L1934.1,572.2 L1935.0,572.2 L1936.0,578.0 L1937.0,583.1 L1937.9,579.4 L1938.9,575.7 L1939.8,573.3 L1940.8,573.3 L1941.8,573.3 L1942.7,574.3 L1943.7,575.4 L1944.7,577.2 L1945.6,579.3 L1946.6,580.3 L1947.5,580.0 L1948.5,580.0 L1949.5,580.0 L1950.4,579.1 L1951.4,574.4 L1952.3,571.1 L1953.3,570.7 L1954.3,570.7 L1955.2,570.7 L1956.2,571.9 L1957.1,570.9 L1958.1,566.6 L1959.1,565.6 L1960.0,565.6 L1961.0,565.6 L1962.0,569.4 L1962.9,572.9 L1963.9,571.7 L1964.8,569.8 L1965.8,569.8 L1966.8,569.8 L1967.7,571.6 L1968.7,573.8 L1969.6,574.9 L1970.6,576.2 L1971.6,577.6 L1972.5,580.3 L1973.5,582.8 L1974.5,580.5 L1975.4,578.9 L1976.4,578.9 L1977.3,578.9 L1978.3,578.0 L1979.3,573.9 L1980.2,571.7 L1981.2,571.7 L1982.1,571.7 L1983.1,575.6 L1984.1,579.6 L1985.0,582.1 L1986.0,577.4 L1986.9,577.4 L1987.9,577.4 L1988.9,577.8 L1989.8,581.4 L1990.8,581.8 L1991.8,581.8 L1992.7,581.8 L1993.7,583.8 L1994.6,585.9 L1995.6,583.1 L1996.6,579.8 L1997.5,579.8 L1998.5,579.8 L1999.4,580.2 L2000.4,582.7 L2001.4,585.2 L2002.3,583.1 L2003.3,583.1 L2004.3,583.1 L2005.2,584.0 L2005.2,598.7 L2004.3,598.7 L2003.3,599.3 L2002.3,602.0 L2001.4,602.0 L2000.4,602.0 L1999.4,599.1 L1998.5,596.6 L1997.5,597.1 L1996.6,599.8 L1995.6,601.7 L1994.6,601.7 L1993.7,601.7 L1992.7,599.8 L1991.8,597.8 L1990.8,597.7 L1989.8,597.7 L1988.9,597.7 L1987.9,595.4 L1986.9,596.7 L1986.0,597.4 L1985.0,597.4 L1984.1,597.4 L1983.1,596.2 L1982.1,593.7 L1981.2,589.9 L1980.2,592.2 L1979.3,596.7 L1978.3,596.7 L1977.3,596.7 L1976.4,594.9 L1975.4,596.8 L1974.5,598.2 L1973.5,598.2 L1972.5,598.2 L1971.6,597.0 L1970.6,594.3 L1969.6,591.8 L1968.7,590.4 L1967.7,589.2 L1966.8,588.1 L1965.8,586.1 L1964.8,589.4 L1963.9,590.5 L1962.9,590.5 L1962.0,590.5 L1961.0,587.3 L1960.0,583.8 L1959.1,585.3 L1958.1,589.4 L1957.1,589.4 L1956.2,589.4 L1955.2,588.5 L1954.3,586.2 L1953.3,588.7 L1952.3,593.3 L1951.4,598.1 L1950.4,598.1 L1949.5,598.1 L1948.5,597.7 L1947.5,595.1 L1946.6,595.6 L1945.6,595.6 L1944.7,595.6 L1943.7,593.4 L1942.7,591.4 L1941.8,589.6 L1940.8,589.9 L1939.8,593.5 L1938.9,597.1 L1937.9,600.8 L1937.0,600.8 L1936.0,600.8 L1935.0,597.7 L1934.1,592.2 L1933.1,588.0 L1932.2,589.5 L1931.2,592.2 L1930.2,595.0 L1929.3,595.0 L1928.3,595.0 L1927.3,593.9 L1926.4,593.3 L1925.4,592.7 L1924.5,591.9 L1923.5,590.9 L1922.5,593.0 L1921.6,593.6 L1920.6,593.6 L1919.7,593.6 L1918.7,592.2 L1917.7,594.5 L1916.8,595.4 L1915.8,595.4 L1914.9,595.4 L1913.9,591.5 L1912.9,587.9 L1912.0,589.0 L1911.0,591.8 L1910.0,591.8 L1909.1,591.8 L1908.1,589.5 L1907.2,585.9 L1906.2,589.4 L1905.2,589.6 L1904.3,589.6 L1903.3,589.6 L1902.4,586.7 L1901.4,584.1 L1900.4,581.6 L1899.5,586.3 L1898.5,586.8 L1897.5,586.8 L1896.6,586.8 L1895.6,581.2 L1894.7,584.3 L1893.7,584.3 L1892.7,584.3 L1891.8,583.4 L1890.8,582.6 L1889.9,580.8 L1888.9,587.9 L1887.9,587.9 L1887.0,587.9 L1886.0,585.9 L1885.1,584.0 L1884.1,582.8 L1883.1,581.6 L1882.2,580.9 L1881.2,579.3 L1880.2,579.1 L1879.3,579.4 L1878.3,579.4 L1877.4,579.4 L1876.4,578.7 L1875.4,578.3 L1874.5,576.9 L1873.5,576.4 L1872.6,579.2 L1871.6,579.2 L1870.6,579.2 L1869.7,579.0 L1868.7,578.5 L1867.7,578.0 L1866.8,577.5 L1865.8,575.6 L1864.9,570.2 L1863.9,577.3 L1862.9,577.3 L1862.0,577.3 L1861.0,577.0 L1860.1,571.0 L1859.1,569.9 L1858.1,572.0 L1857.2,573.0 L1856.2,573.8 L1855.3,574.8 L1854.3,577.3 L1853.3,580.4 L1852.4,580.5 L1851.4,580.5 L1850.4,580.5 L1849.5,582.1 L1848.5,582.1 L1847.6,582.1 L1846.6,579.3 L1845.6,576.4 L1844.7,576.0 L1843.7,576.0 L1842.8,576.0 L1841.8,575.0 L1840.8,573.1 L1839.9,571.0 L1838.9,570.1 L1837.9,572.2 L1837.0,574.7 L1836.0,577.2 L1835.1,577.2 L1834.1,577.2 L1833.1,573.8 L1832.2,570.5 L1831.2,572.2 L1830.3,576.6 L1829.3,577.7 L1828.3,577.7 L1827.4,577.7 L1826.4,576.7 L1825.5,579.2 L1824.5,579.2 L1823.5,579.2 L1822.6,576.8 L1821.6,567.7 L1820.6,566.3 L1819.7,567.2 L1818.7,568.1 L1817.8,568.1 L1816.8,568.1 L1815.8,564.9 L1814.9,561.2 L1813.9,561.7 L1813.0,561.7 L1812.0,561.7 L1811.0,560.1 L1810.1,557.4 L1809.1,560.5 L1808.1,562.4 L1807.2,562.4 L1806.2,562.4 L1805.3,560.2 L1804.3,557.7 L1803.3,558.1 L1802.4,560.1 L1801.4,562.2 L1800.5,564.0 L1799.5,564.0 L1798.5,564.0 L1797.6,562.4 L1796.6,561.5 L1795.7,566.9 L1794.7,569.6 L1793.7,569.6 L1792.8,569.6 L1791.8,561.3 L1790.8,561.8 L1789.9,562.7 L1788.9,562.9 L1788.0,562.9 L1787.0,562.9 L1786.0,562.8 L1785.1,562.8 L1784.1,562.6 L1783.2,568.3 L1782.2,574.0 L1781.2,574.0 L1780.3,574.0 L1779.3,574.0 L1778.3,573.0 L1777.4,571.5 L1776.4,566.7 L1775.5,565.8 L1774.5,570.9 L1773.5,572.4 L1772.6,572.4 L1771.6,572.4 L1770.7,569.5 L1769.7,562.1 L1768.7,563.7 L1767.8,567.3 L1766.8,567.3 L1765.9,567.3 L1764.9,562.8 L1763.9,565.8 L1763.0,570.5 L1762.0,570.5 L1761.0,570.5 L1760.1,569.4 L1759.1,558.6 L1758.2,560.0 L1757.2,561.7 L1756.2,563.0 L1755.3,563.9 L1754.3,564.5 L1753.4,564.5 L1752.4,564.5 L1751.4,563.3 L1750.5,565.3 L1749.5,567.4 L1748.5,569.4 L1747.6,571.5 L1746.6,573.4 L1745.7,574.3 L1744.7,574.3 L1743.7,574.3 L1742.8,574.0 L1741.8,573.8 L1740.9,572.8 L1739.9,570.7 L1738.9,568.4 L1738.0,563.8 L1737.0,562.5 L1736.0,562.5 L1735.1,562.5 L1734.1,561.2 L1733.2,557.5 L1732.2,560.3 L1731.2,561.3 L1730.3,562.2 L1729.3,562.2 L1728.4,562.2 L1727.4,557.9 L1726.4,555.0 L1725.5,555.8 L1724.5,555.8 L1723.6,555.8 L1722.6,553.6 L1721.6,553.5 L1720.7,555.8 L1719.7,556.2 L1718.7,556.2 L1717.8,556.2 L1716.8,552.9 L1715.9,549.6 L1714.9,549.0 L1713.9,549.1 L1713.0,549.1 L1712.0,551.6 L1711.1,554.6 L1710.1,557.2 L1709.1,557.2 L1708.2,557.2 L1707.2,551.8 L1706.2,550.6 L1705.3,550.6 L1704.3,550.6 L1703.4,550.0 L1702.4,551.2 L1701.4,551.2 L1700.5,551.2 L1699.5,550.2 L1698.6,549.9 L1697.6,547.9 L1696.6,548.4 L1695.7,548.4 L1694.7,548.4 L1693.8,546.5 L1692.8,552.4 L1691.8,552.4 L1690.9,552.4 L1689.9,551.5 L1688.9,551.2 L1688.0,551.0 L1687.0,550.4 L1686.1,552.1 L1685.1,553.4 L1684.1,553.4 L1683.2,553.4 L1682.2,551.0 L1681.3,547.0 L1680.3,542.7 L1679.3,545.3 L1678.4,546.1 L1677.4,546.4 L1676.4,548.0 L1675.5,549.9 L1674.5,551.6 L1673.6,551.6 L1672.6,551.6 L1671.6,549.6 L1670.7,548.5 L1669.7,550.1 L1668.8,550.3 L1667.8,550.3 L1666.8,550.3 L1665.9,552.4 L1664.9,552.4 L1664.0,552.4 L1663.0,551.5 L1662.0,548.1 L1661.1,544.7 L1660.1,547.8 L1659.1,552.0 L1658.2,553.1 L1657.2,553.2 L1656.3,553.2 L1655.3,553.2 L1654.3,553.2 L1653.4,552.3 L1652.4,548.5 L1651.5,544.7 L1650.5,541.7 L1649.5,540.0 L1648.6,543.3 L1647.6,546.4 L1646.6,546.4 L1645.7,546.4 L1644.7,545.2 L1643.8,543.2 L1642.8,540.9 L1641.8,538.3 L1640.9,535.6 L1639.9,532.9 L1639.0,529.6 L1638.0,526.0 L1637.0,528.0 L1636.1,528.0 L1635.1,528.0 L1634.2,525.4 L1633.2,524.0 L1632.2,526.5 L1631.3,526.7 L1630.3,526.7 L1629.3,526.7 L1628.4,526.0 L1627.4,523.4 L1626.5,520.1 L1625.5,518.0 L1624.5,516.7 L1623.6,518.4 L1622.6,518.4 L1621.7,518.4 L1620.7,515.4 L1619.7,506.9 L1618.8,503.0 L1617.8,504.0 L1616.8,504.0 L1615.9,504.0 L1614.9,502.0 L1614.0,500.5 L1613.0,498.5 L1612.0,491.1 L1611.1,490.5 L1610.1,490.7 L1609.2,490.7 L1608.2,490.7 L1607.2,490.9 L1606.3,499.3 L1605.3,499.3 L1604.4,499.3 L1603.4,498.1 L1602.4,494.1 L1601.5,494.2 L1600.5,497.4 L1599.5,503.9 L1598.6,510.6 L1597.6,516.9 L1596.7,520.9 L1595.7,524.9 L1594.7,528.0 L1593.8,528.0 L1592.8,528.0 L1591.9,520.1 L1590.9,517.2 L1589.9,521.1 L1589.0,524.9 L1588.0,528.4 L1587.0,530.6 L1586.1,532.8 L1585.1,535.0 L1584.2,535.0 L1583.2,535.0 L1582.2,533.4 L1581.3,531.8 L1580.3,530.0 L1579.4,529.9 L1578.4,535.6 L1577.4,535.6 L1576.5,535.6 L1575.5,534.4 L1574.6,533.7 L1573.6,533.4 L1572.6,535.3 L1571.7,537.8 L1570.7,539.7 L1569.7,539.7 L1568.8,539.7 L1567.8,535.2 L1566.9,530.9 L1565.9,527.7 L1564.9,531.6 L1564.0,535.7 L1563.0,535.7 L1562.1,535.7 L1561.1,535.0 L1560.1,534.5 L1559.2,533.9 L1558.2,530.3 L1557.2,529.1 L1556.3,531.4 L1555.3,531.4 L1554.4,531.4 L1553.4,530.9 L1552.4,531.4 L1551.5,537.4 L1550.5,540.1 L1549.6,540.1 L1548.6,540.1 L1547.6,539.2 L1546.7,539.1 L1545.7,539.1 L1544.8,536.3 L1543.8,532.3 L1542.8,529.0 L1541.9,530.0 L1540.9,535.1 L1539.9,537.6 L1539.0,538.3 L1538.0,539.2 L1537.1,541.1 L1536.1,543.6 L1535.1,543.6 L1534.2,543.6 L1533.2,533.8 L1532.3,536.6 L1531.3,540.4 L1530.3,540.6 L1529.4,540.8 L1528.4,543.4 L1527.4,546.3 L1526.5,546.3 L1525.5,546.3 L1524.6,545.1 L1523.6,548.8 L1522.6,557.6 L1521.7,557.6 L1520.7,557.6 L1519.8,552.7 L1518.8,547.6 L1517.8,542.2 L1516.9,541.0 L1515.9,542.0 L1515.0,544.0 L1514.0,544.0 L1513.0,544.0 L1512.1,543.4 L1511.1,544.6 L1510.1,551.2 L1509.2,551.2 L1508.2,551.2 L1507.3,547.4 L1506.3,543.3 L1505.3,536.6 L1504.4,539.1 L1503.4,544.4 L1502.5,544.4 L1501.5,544.4 L1500.5,540.0 L1499.6,536.2 L1498.6,535.6 L1497.6,535.9 L1496.7,539.0 L1495.7,543.8 L1494.8,547.4 L1493.8,547.4 L1492.8,547.4 L1491.9,544.0 L1490.9,547.7 L1490.0,548.6 L1489.0,548.6 L1488.0,548.6 L1487.1,546.5 L1486.1,542.8 L1485.2,538.7 L1484.2,543.9 L1483.2,545.1 L1482.3,545.1 L1481.3,545.1 L1480.3,543.6 L1479.4,536.3 L1478.4,536.5 L1477.5,541.7 L1476.5,541.9 L1475.5,541.9 L1474.6,541.9 L1473.6,540.1 L1472.7,544.4 L1471.7,546.3 L1470.7,546.3 L1469.8,546.3 L1468.8,540.5 L1467.8,537.8 L1466.9,537.8 L1465.9,537.8 L1465.0,536.9 L1464.0,539.1 L1463.0,539.2 L1462.1,539.2 L1461.1,539.2 L1460.2,535.5 L1459.2,532.1 L1458.2,532.2 L1457.3,535.2 L1456.3,537.1 L1455.4,537.2 L1454.4,537.5 L1453.4,538.6 L1452.5,540.4 L1451.5,542.5 L1450.5,545.0 L1449.6,549.5 L1448.6,552.9 L1447.7,554.9 L1446.7,555.9 L1445.7,555.9 L1444.8,555.9 L1443.8,554.8 L1442.9,550.1 L1441.9,547.5 L1440.9,547.5 L1440.0,547.5 L1439.0,542.5 L1438.0,542.1 L1437.1,545.5 L1436.1,551.7 L1435.2,551.7 L1434.2,551.7 L1433.2,548.1 L1432.3,550.3 L1431.3,550.3 L1430.4,550.3 L1429.4,548.0 L1428.4,545.8 L1427.5,543.6 L1426.5,542.2 L1425.5,546.3 L1424.6,548.9 L1423.6,548.9 L1422.7,548.9 L1421.7,543.4 L1420.7,539.4 L1419.8,540.3 L1418.8,542.4 L1417.9,544.3 L1416.9,544.3 L1415.9,544.9 L1415.0,547.2 L1414.0,549.9 L1413.1,552.7 L1412.1,552.7 L1411.1,552.7 L1410.2,546.9 L1409.2,542.2 L1408.2,542.7 L1407.3,543.2 L1406.3,547.8 L1405.4,553.0 L1404.4,553.1 L1403.4,553.1 L1402.5,553.1 L1401.5,549.2 L1400.6,542.2 L1399.6,541.0 L1398.6,542.2 L1397.7,542.2 L1396.7,542.2 L1395.7,541.9 L1394.8,541.9 L1393.8,544.1 L1392.9,546.6 L1391.9,549.5 L1390.9,552.3 L1390.0,554.5 L1389.0,556.5 L1388.1,558.3 L1387.1,558.3 L1386.1,558.3 L1385.2,556.1 L1384.2,553.9 L1383.3,552.2 L1382.3,552.2 L1381.3,552.2 L1380.4,550.9 L1379.4,552.5 L1378.4,552.5 L1377.5,552.5 L1376.5,549.7 L1375.6,548.6 L1374.6,551.2 L1373.6,553.6 L1372.7,553.6 L1371.7,553.6 L1370.8,552.4 L1369.8,551.6 L1368.8,550.3 L1367.9,550.4 L1366.9,553.0 L1365.9,553.0 L1365.0,553.0 L1364.0,546.7 L1363.1,547.1 L1362.1,549.3 L1361.1,549.3 L1360.2,549.3 L1359.2,546.6 L1358.3,552.1 L1357.3,552.1 L1356.3,552.1 L1355.4,551.1 L1354.4,550.0 L1353.5,546.4 L1352.5,544.0 L1351.5,545.3 L1350.6,546.6 L1349.6,548.9 L1348.6,553.6 L1347.7,558.8 L1346.7,560.7 L1345.8,560.7 L1344.8,560.7 L1343.8,556.8 L1342.9,552.3 L1341.9,549.6 L1341.0,547.3 L1340.0,545.5 L1339.0,545.5 L1338.1,548.4 L1337.1,548.5 L1336.1,548.8 L1335.2,548.8 L1334.2,548.8 L1333.3,547.5 L1332.3,545.7 L1331.3,543.7 L1330.4,545.1 L1329.4,554.0 L1328.5,554.0 L1327.5,554.0 L1326.5,549.0 L1325.6,547.1 L1324.6,547.1 L1323.7,547.1 L1322.7,545.6 L1321.7,545.7 L1320.8,547.2 L1319.8,548.7 L1318.8,549.9 L1317.9,551.0 L1316.9,551.0 L1316.0,551.0 L1315.0,550.8 L1314.0,547.9 L1313.1,550.6 L1312.1,550.6 L1311.2,550.6 L1310.2,549.3 L1309.2,544.8 L1308.3,539.7 L1307.3,541.5 L1306.3,544.0 L1305.4,545.9 L1304.4,547.8 L1303.5,549.7 L1302.5,549.7 L1301.5,549.7 L1300.6,543.4 L1299.6,538.1 L1298.7,541.5 L1297.7,541.5 L1296.7,541.5 L1295.8,539.3 L1294.8,538.1 L1293.9,538.1 L1292.9,538.1 L1291.9,537.4 L1291.0,534.7 L1290.0,533.9 L1289.0,533.9 L1288.1,533.9 L1287.1,530.1 L1286.2,532.3 L1285.2,533.9 L1284.2,534.2 L1283.3,534.2 L1282.3,534.2 L1281.4,532.8 L1280.4,526.1 L1279.4,522.2 L1278.5,524.1 L1277.5,527.4 L1276.5,529.7 L1275.6,529.7 L1274.6,529.7 L1273.7,529.0 L1272.7,539.3 L1271.7,539.3 L1270.8,539.3 L1269.8,537.8 L1268.9,544.2 L1267.9,544.2 L1266.9,544.2 L1266.0,543.9 L1265.0,536.9 L1264.1,538.6 L1263.1,538.6 L1262.1,538.6 L1261.2,536.7 L1260.2,539.4 L1259.2,541.2 L1258.3,543.0 L1257.3,545.2 L1256.4,545.4 L1255.4,545.4 L1254.4,545.4 L1253.5,545.2 L1252.5,545.1 L1251.6,539.3 L1250.6,532.5 L1249.6,533.4 L1248.7,535.1 L1247.7,537.6 L1246.7,541.0 L1245.8,544.6 L1244.8,544.6 L1243.9,544.6 L1242.9,544.2 L1241.9,542.3 L1241.0,540.2 L1240.0,538.8 L1239.1,543.6 L1238.1,543.6 L1237.1,543.6 L1236.2,538.2 L1235.2,543.1 L1234.3,543.1 L1233.3,543.1 L1232.3,539.4 L1231.4,543.8 L1230.4,546.4 L1229.4,546.4 L1228.5,546.4 L1227.5,544.7 L1226.6,542.8 L1225.6,540.6 L1224.6,538.1 L1223.7,536.4 L1222.7,537.2 L1221.8,538.2 L1220.8,539.1 L1219.8,539.1 L1218.9,539.1 L1217.9,538.3 L1216.9,536.1 L1216.0,542.9 L1215.0,542.9 L1214.1,542.9 L1213.1,534.1 L1212.1,529.2 L1211.2,529.2 L1210.2,529.2 L1209.3,524.9 L1208.3,523.7 L1207.3,525.7 L1206.4,529.3 L1205.4,536.0 L1204.5,542.1 L1203.5,542.1 L1202.5,542.1 L1201.6,536.8 L1200.6,531.3 L1199.6,532.4 L1198.7,532.4 L1197.7,532.4 L1196.8,532.4 L1195.8,532.8 L1194.8,532.8 L1193.9,532.8 L1192.9,531.8 L1192.0,532.2 L1191.0,533.1 L1190.0,534.3 L1189.1,534.3 L1188.1,534.3 L1187.1,527.4 L1186.2,522.0 L1185.2,523.9 L1184.3,533.1 L1183.3,542.0 L1182.3,542.0 L1181.4,542.0 L1180.4,540.8 L1179.5,535.4 L1178.5,529.2 L1177.5,522.7 L1176.6,516.5 L1175.6,516.0 L1174.7,516.0 L1173.7,516.0 L1172.7,515.9 L1171.8,514.0 L1170.8,512.0 L1169.8,510.9 L1168.9,512.3 L1167.9,516.6 L1167.0,521.8 L1166.0,522.0 L1165.0,522.0 L1164.1,522.0 L1163.1,525.9 L1162.2,537.0 L1161.2,541.5 L1160.2,541.5 L1159.3,541.5 L1158.3,539.2 L1157.3,537.0 L1156.4,531.4 L1155.4,531.9 L1154.5,540.3 L1153.5,544.8 L1152.5,544.8 L1151.6,544.8 L1150.6,540.0 L1149.7,537.6 L1148.7,536.1 L1147.7,535.4 L1146.8,534.3 L1145.8,531.3 L1144.9,527.5 L1143.9,526.1 L1142.9,528.5 L1142.0,529.5 L1141.0,529.5 L1140.0,529.5 L1139.1,522.4 L1138.1,519.8 L1137.2,521.0 L1136.2,522.9 L1135.2,525.0 L1134.3,527.1 L1133.3,527.1 L1132.4,527.1 L1131.4,521.6 L1130.4,526.9 L1129.5,526.9 L1128.5,526.9 L1127.5,524.4 L1126.6,521.6 L1125.6,523.6 L1124.7,523.6 L1123.7,523.6 L1122.7,517.3 L1121.8,514.1 L1120.8,511.8 L1119.9,514.5 L1118.9,516.8 L1117.9,519.2 L1117.0,519.2 L1116.0,519.2 L1115.1,517.2 L1114.1,514.7 L1113.1,512.5 L1112.2,510.1 L1111.2,507.7 L1110.2,505.5 L1109.3,502.9 L1108.3,504.4 L1107.4,509.9 L1106.4,515.5 L1105.4,521.1 L1104.5,521.1 L1103.5,521.1 L1102.6,517.3 L1101.6,515.4 L1100.6,518.7 L1099.7,518.7 L1098.7,518.7 L1097.7,518.0 L1096.8,516.6 L1095.8,517.0 L1094.9,517.0 L1093.9,517.0 L1092.9,516.9 L1092.0,524.1 L1091.0,532.0 L1090.1,532.0 L1089.1,532.0 L1088.1,517.9 L1087.2,505.2 L1086.2,506.9 L1085.2,511.5 L1084.3,511.5 L1083.3,511.5 L1082.4,503.1 L1081.4,499.0 L1080.4,498.9 L1079.5,495.5 L1078.5,495.7 L1077.6,495.7 L1076.6,495.7 L1075.6,492.2 L1074.7,485.7 L1073.7,483.3 L1072.8,483.3 L1071.8,483.3 L1070.8,479.9 L1069.9,476.1 L1068.9,478.0 L1067.9,480.3 L1067.0,482.7 L1066.0,482.7 L1065.1,482.7 L1064.1,488.2 L1063.1,494.3 L1062.2,494.3 L1061.2,494.3 L1060.3,492.2 L1059.3,491.8 L1058.3,492.6 L1057.4,492.6 L1056.4,498.5 L1055.4,503.3 L1054.5,503.3 L1053.5,503.3 L1052.6,502.4 L1051.6,507.4 L1050.6,511.8 L1049.7,511.8 L1048.7,511.8 L1047.8,501.9 L1046.8,491.4 L1045.8,494.7 L1044.9,494.7 L1043.9,494.7 L1043.0,496.8 L1042.0,501.0 L1041.0,501.0 L1040.1,501.0 L1039.1,491.6 L1038.1,492.6 L1037.2,492.6 L1036.2,492.6 L1035.3,491.9 L1034.3,491.9 L1033.3,491.9 L1032.4,490.4 L1031.4,494.2 L1030.5,497.0 L1029.5,498.9 L1028.5,500.7 L1027.6,500.7 L1026.6,500.7 L1025.6,496.4 L1024.7,495.1 L1023.7,499.8 L1022.8,503.0 L1021.8,503.0 L1020.8,503.0 L1019.9,504.2 L1018.9,507.4 L1018.0,508.1 L1017.0,508.1 L1016.0,508.1 L1015.1,507.5 L1014.1,507.1 L1013.2,505.2 L1012.2,501.5 L1011.2,499.5 L1010.3,501.5 L1009.3,504.3 L1008.3,504.3 L1007.4,504.3 L1006.4,501.3 L1005.5,499.3 L1004.5,502.1 L1003.5,502.1 L1002.6,502.1 L1001.6,500.2 L1000.7,497.5 L999.7,495.8 L998.7,495.3 L997.8,497.3 L996.8,498.2 L995.8,498.2 L994.9,498.2 L993.9,497.1 L993.0,496.2 L992.0,497.0 L991.0,501.3 L990.1,505.2 L989.1,508.4 L988.2,511.7 L987.2,512.0 L986.2,512.0 L985.3,512.0 L984.3,509.2 L983.4,508.2 L982.4,508.2 L981.4,508.2 L980.5,506.1 L979.5,501.5 L978.5,503.8 L977.6,508.0 L976.6,512.6 L975.7,514.1 L974.7,514.1 L973.7,514.1 L972.8,513.5 L971.8,512.0 L970.9,510.1 L969.9,507.5 L968.9,503.6 L968.0,507.7 L967.0,508.4 L966.0,508.4 L965.1,508.4 L964.1,506.6 L963.2,503.4 L962.2,495.4 L961.2,495.2 L960.3,500.5 L959.3,500.5 L958.4,500.5 L957.4,498.0 L956.4,494.7 L955.5,491.6 L954.5,488.9 L953.6,487.6 L952.6,486.7 L951.6,487.4 L950.7,492.2 L949.7,495.9 L948.7,498.8 L947.8,498.8 L946.8,498.8 L945.9,498.1 L944.9,498.1 L943.9,495.5 L943.0,491.6 L942.0,491.6 L941.1,491.6 L940.1,490.7 L939.1,490.7 L938.2,490.7 L937.2,486.6 L936.2,486.9 L935.3,491.2 L934.3,491.2 L933.4,491.2 L932.4,490.2 L931.4,488.0 L930.5,485.9 L929.5,485.9 L928.6,485.4 L927.6,484.0 L926.6,485.8 L925.7,486.8 L924.7,487.7 L923.8,488.9 L922.8,488.9 L921.8,488.9 L920.9,488.7 L919.9,492.6 L918.9,495.8 L918.0,498.9 L917.0,501.8 L916.1,501.8 L915.1,501.8 L914.1,501.7 L913.2,502.3 L912.2,506.4 L911.3,510.0 L910.3,510.0 L909.3,510.0 L908.4,506.5 L907.4,518.2 L906.4,518.2 L905.5,518.2 L904.5,516.9 L903.6,517.7 L902.6,520.1 L901.6,522.5 L900.7,523.4 L899.7,523.4 L898.8,523.4 L897.8,520.6 L896.8,520.8 L895.9,523.6 L894.9,523.7 L894.0,523.7 L893.0,523.7 L892.0,523.3 L891.1,520.1 L890.1,517.1 L889.1,515.0 L888.2,515.1 L887.2,516.9 L886.3,519.2 L885.3,522.7 L884.3,525.4 L883.4,527.0 L882.4,527.0 L881.5,527.0 L880.5,526.3 L879.5,525.6 L878.6,522.2 L877.6,517.1 L876.6,523.8 L875.7,525.3 L874.7,525.3 L873.8,525.3 L872.8,522.9 L871.8,520.5 L870.9,517.9 L869.9,516.4 L869.0,521.0 L868.0,525.6 L867.0,529.4 L866.1,530.0 L865.1,530.8 L864.2,530.8 L863.2,530.8 L862.2,525.4 L861.3,521.6 L860.3,523.2 L859.3,525.5 L858.4,528.1 L857.4,530.6 L856.5,530.6 L855.5,530.6 L854.5,530.2 L853.6,530.0 L852.6,526.0 L851.7,523.3 L850.7,527.2 L849.7,527.2 L848.8,527.2 L847.8,523.0 L846.8,534.1 L845.9,534.1 L844.9,534.1 L844.0,533.0 L843.0,526.6 L842.0,519.0 L841.1,521.0 L840.1,523.3 L839.2,525.6 L838.2,528.5 L837.2,528.5 L836.3,528.5 L835.3,524.3 L834.4,518.5 L833.4,517.3 L832.4,518.6 L831.5,519.2 L830.5,519.2 L829.5,519.2 L828.6,519.2 L827.6,517.4 L826.7,514.4 L825.7,513.5 L824.7,512.5 L823.8,511.3 L822.8,508.4 L821.9,508.9 L820.9,509.8 L819.9,509.8 L819.0,509.8 L818.0,509.8 L817.0,500.1 L816.1,503.3 L815.1,506.6 L814.2,511.5 L813.2,515.0 L812.2,516.8 L811.3,516.8 L810.3,516.8 L809.4,512.8 L808.4,507.5 L807.4,502.9 L806.5,499.9 L805.5,499.9 L804.6,499.9 L803.6,498.8 L802.6,492.7 L801.7,487.5 L800.7,485.8 L799.7,484.4 L798.8,481.7 L797.8,485.5 L796.9,485.5 L795.9,485.5 L794.9,485.0 L794.0,480.9 L793.0,476.0 L792.1,471.4 L791.1,471.2 L790.1,470.8 L789.2,469.6 L788.2,466.9 L787.2,464.0 L786.3,461.9 L785.3,461.4 L784.4,460.1 L783.4,458.8 L782.4,456.2 L781.5,450.5 L780.5,441.2 L779.6,427.3 L778.6,405.8 L777.6,375.2 L776.7,342.4 L775.7,309.8 L774.7,279.7 L773.8,255.7 L772.8,253.0 L771.9,261.4 L770.9,282.4 L769.9,316.8 L769.0,345.6 L768.0,370.8 L767.1,402.8 L766.1,432.7 L765.1,457.6 L764.2,467.5 L763.2,474.8 L762.3,485.3 L761.3,493.4 L760.3,495.0 L759.4,495.0 L758.4,495.0 L757.4,495.6 L756.5,497.2 L755.5,498.7 L754.6,498.7 L753.6,498.7 L752.6,497.2 L751.7,502.1 L750.7,502.1 L749.8,502.1 L748.8,501.7 L747.8,509.6 L746.9,514.0 L745.9,514.0 L744.9,514.0 L744.0,511.7 L743.0,506.7 L742.1,497.9 L741.1,499.9 L740.1,499.9 L739.2,499.9 L738.2,493.1 L737.3,483.3 L736.3,472.5 L735.3,471.2 L734.4,468.7 L733.4,464.8 L732.5,460.1 L731.5,456.5 L730.5,452.4 L729.6,441.9 L728.6,423.6 L727.6,416.0 L726.7,416.0 L725.7,418.6 L724.8,431.4 L723.8,445.3 L722.8,452.9 L721.9,454.4 L720.9,464.6 L720.0,474.6 L719.0,483.1 L718.0,486.5 L717.1,486.5 L716.1,486.5 L715.1,483.0 L714.2,481.2 L713.2,480.9 L712.3,480.3 L711.3,478.6 L710.3,477.0 L709.4,476.1 L708.4,474.6 L707.5,472.9 L706.5,470.4 L705.5,466.4 L704.6,461.8 L703.6,461.5 L702.7,461.5 L701.7,461.5 L700.7,456.9 L699.8,452.3 L698.8,450.8 L697.8,449.8 L696.9,447.2 L695.9,455.7 L695.0,456.3 L694.0,457.0 L693.0,457.0 L692.1,457.0 L691.1,455.8 L690.2,453.6 L689.2,452.0 L688.2,456.6 L687.3,463.6 L686.3,463.6 L685.3,463.6 L684.4,461.9 L683.4,460.4 L682.5,456.8 L681.5,454.8 L680.5,455.0 L679.6,455.0 L678.6,457.2 L677.7,458.3 L676.7,458.3 L675.7,458.3 L674.8,456.2 L673.8,457.8 L672.9,458.8 L671.9,458.8 L670.9,458.8 L670.0,456.1 L669.0,450.5 L668.0,444.8 L667.1,441.1 L666.1,442.8 L665.2,442.8 L664.2,442.8 L663.2,442.5 L662.3,437.8 L661.3,431.2 L660.4,429.3 L659.4,429.3 L658.4,429.3 L657.5,428.6 L656.5,418.5 L655.5,406.7 L654.6,394.1 L653.6,385.9 L652.7,378.7 L651.7,371.1 L650.7,363.5 L649.8,354.6 L648.8,341.9 L647.9,326.1 L646.9,309.1 L645.9,289.2 L645.0,266.7 L644.0,243.5 L643.1,220.2 L642.1,208.4 L641.1,184.5 L640.2,163.0 L639.2,144.3 L638.2,124.5 L637.3,102.0 L636.3,81.7 L635.4,76.3 L634.4,73.5 L633.4,74.3 L632.5,78.8 L631.5,84.2 L630.6,92.2 L629.6,104.0 L628.6,118.3 L627.7,145.9 L626.7,166.2 L625.7,185.0 L624.8,204.5 L623.8,228.2 L622.9,252.0 L621.9,275.4 L620.9,288.2 L620.0,299.4 L619.0,317.3 L618.1,339.3 L617.1,357.5 L616.1,367.3 L615.2,375.8 L614.2,383.9 L613.3,391.7 L612.3,399.5 L611.3,414.5 L610.4,425.3 L609.4,425.3 L608.4,425.3 L607.5,425.3 L606.5,425.8 L605.6,428.0 L604.6,429.5 L603.6,432.0 L602.7,440.7 L601.7,449.0 L600.8,449.0 L599.8,449.0 L598.8,447.4 L597.9,451.3 L596.9,456.7 L595.9,456.7 L595.0,456.7 L594.0,453.6 L593.1,454.9 L592.1,458.1 L591.1,462.8 L590.2,467.3 L589.2,471.4 L588.3,475.3 L587.3,479.1 L586.3,482.1 L585.4,482.7 L584.4,483.2 L583.5,483.7 L582.5,485.5 L581.5,487.8 L580.6,487.9 L579.6,487.9 L578.6,487.9 L577.7,485.1 L576.7,483.6 L575.8,484.6 L574.8,484.6 L573.8,484.6 L572.9,482.4 L571.9,480.2 L571.0,480.9 L570.0,482.2 L569.0,482.2 L568.1,482.2 L567.1,483.3 L566.1,489.7 L565.2,496.1 L564.2,496.1 L563.3,496.1 L562.3,494.9 L561.3,493.9 L560.4,496.6 L559.4,496.6 L558.5,496.6 L557.5,495.1 L556.5,490.3 L555.6,487.7 L554.6,488.7 L553.7,490.2 L552.7,491.8 L551.7,493.5 L550.8,493.5 L549.8,493.5 L548.8,489.6 L547.9,489.9 L546.9,494.7 L546.0,499.9 L545.0,505.3 L544.0,505.3 L543.1,505.3 L542.1,501.3 L541.2,499.8 L540.2,501.7 L539.2,501.7 L538.3,501.7 L537.3,498.6 L536.3,494.4 L535.4,493.8 L534.4,493.8 L533.5,493.8 L532.5,491.0 L531.5,488.7 L530.6,490.7 L529.6,492.0 L528.7,492.0 L527.7,492.0 L526.7,485.7 L525.8,480.1 L524.8,484.8 L523.9,487.1 L522.9,487.1 L521.9,487.1 L521.0,479.1 L520.0,480.8 L519.0,485.8 L518.1,485.8 L517.1,485.8 L516.2,482.9 L515.2,480.3 L514.2,480.3 L513.3,480.3 L512.3,480.3 L511.4,479.1 L510.4,477.6 L509.4,476.1 L508.5,472.2 L507.5,468.8 L506.5,472.5 L505.6,476.0 L504.6,476.0 L503.7,476.0 L502.7,472.8 L501.7,468.5 L500.8,468.2 L499.8,468.2 L498.9,468.2 L497.9,465.9 L496.9,470.2 L496.0,474.8 L495.0,474.8 L494.1,474.8 L493.1,472.7 L492.1,464.1 L491.2,465.6 L490.2,467.3 L489.2,468.9 L488.3,470.2 L487.3,470.8 L486.4,470.8 L485.4,470.9 L484.4,472.8 L483.5,472.8 L482.5,472.8 L481.6,472.7 L480.6,468.6 L479.6,464.5 L478.7,461.6 L477.7,461.6 L476.7,461.6 L475.8,461.5 L474.8,456.0 L473.9,448.9 L472.9,442.0 L471.9,436.8 L471.0,436.6 L470.0,436.6 L469.1,436.6 L468.1,436.3 L467.1,435.9 L466.2,435.5 L465.2,426.0 L464.2,424.8 L463.3,424.8 L462.3,424.8 L461.4,418.9 L460.4,422.3 L459.4,425.0 L458.5,425.0 L457.5,425.0 L456.6,422.6 L455.6,424.3 L454.6,425.7 L453.7,425.7 L452.7,425.7 L451.8,438.1 L450.8,439.8 L449.8,439.8 L448.9,439.8 L447.9,438.9 L446.9,433.7 L446.0,435.9 L445.0,435.9 L444.1,435.9 L443.1,433.9 L442.1,427.9 L441.2,426.4 L440.2,426.4 L439.3,426.5 L438.3,428.4 L437.3,428.4 L436.4,428.4 L435.4,424.4 L434.4,427.1 L433.5,430.6 L432.5,430.6 L431.6,430.6 L430.6,430.3 L429.6,430.0 L428.7,429.7 L427.7,425.5 L426.8,423.8 L425.8,423.8 L424.8,423.8 L423.9,418.8 L422.9,416.7 L422.0,418.2 L421.0,418.3 L420.0,418.3 L419.1,418.3 L418.1,418.3 L417.1,418.3 L416.2,417.0 L415.2,416.2 L414.3,415.6 L413.3,415.2 L412.3,408.0 L411.4,407.3 L410.4,407.3 L409.5,407.3 L408.5,407.4 L407.5,411.0 L406.6,414.2 L405.6,414.2 L404.6,414.2 L403.7,413.7 L402.7,416.2 L401.8,418.7 L400.8,421.0 L399.8,422.5 L398.9,424.2 L397.9,425.8 L397.0,425.8 L396.0,425.8 L395.0,424.3 L394.1,427.6 L393.1,434.5 L392.2,441.3 L391.2,444.6 L390.2,447.4 L389.3,449.7 L388.3,449.7 L387.3,449.7 L386.4,447.9 L385.4,453.5 L384.5,453.5 L383.5,453.5 L382.5,446.2 L381.6,443.5 L380.6,445.2 L379.7,446.6 L378.7,446.6 L377.7,446.6 L376.8,444.8 L375.8,440.6 L374.8,436.4 L373.9,432.4 L372.9,428.8 L372.0,428.9 L371.0,428.9 L370.0,428.9 L369.1,427.1 L368.1,424.8 L367.2,422.8 L366.2,420.3 L365.2,415.4 L364.3,414.4 L363.3,418.3 L362.4,421.3 L361.4,423.2 L360.4,425.4 L359.5,427.9 L358.5,427.9 L357.5,427.9 L356.6,430.5 L355.6,435.2 L354.7,435.2 L353.7,435.2 L352.7,428.8 L351.8,426.1 L350.8,428.0 L349.9,430.3 L348.9,430.7 L347.9,430.7 L347.0,430.7 L346.0,428.8 L345.0,425.1 L344.1,422.2 L343.1,419.3 L342.2,420.4 L341.2,423.0 L340.2,423.0 L339.3,423.0 L338.3,421.9 L337.4,420.4 L336.4,420.4 L335.4,420.4 L334.5,418.2 L333.5,414.0 L332.6,420.1 L331.6,423.7 L330.6,424.3 L329.7,424.9 L328.7,426.3 L327.7,428.6 L326.8,430.9 L325.8,433.3 L324.9,433.3 L323.9,433.3 L322.9,432.1 L322.0,430.7 L321.0,437.6 L320.1,443.7 L319.1,443.7 L318.1,443.7 L317.2,440.9 L316.2,440.9 L315.2,440.9 L314.3,436.0 L313.3,429.8 L312.4,435.0 L311.4,435.0 L310.4,435.0 L309.5,427.2 L308.5,422.7 L307.6,422.7 L306.6,422.7 L305.6,419.6 L304.7,412.3 L303.7,407.7 L302.8,408.8 L301.8,410.9 L300.8,413.1 L299.9,415.4 L298.9,417.8 L297.9,420.1 L297.0,421.3 L296.0,421.3 L295.1,421.3 L294.1,417.9 L293.1,419.7 L292.2,432.6 L291.2,438.2 L290.3,438.2 L289.3,438.2 L288.3,431.5 L287.4,428.2 L286.4,433.5 L285.4,437.8 L284.5,441.9 L283.5,445.9 L282.6,449.9 L281.6,449.9 L280.6,449.9 L279.7,447.0 L278.7,442.0 L277.8,445.2 L276.8,448.5 L275.8,448.5 L274.9,448.5 L273.9,447.7 L273.0,446.9 L272.0,445.8 L271.0,444.6 L270.1,441.5 L269.1,438.9 L268.1,441.3 L267.2,447.0 L266.2,450.0 L265.3,452.7 L264.3,455.4 L263.3,455.4 L262.4,455.4 L261.4,454.8 L260.5,452.5 L259.5,450.3 L258.5,452.7 L257.6,456.9 L256.6,456.9 L255.6,456.9 L254.7,454.8 L253.7,458.6 L252.8,464.1 L251.8,469.7 L250.8,469.7 L249.9,469.7 L248.9,468.2 L248.0,465.4 L247.0,471.8 L246.0,477.4 L245.1,477.4 L244.1,477.4 L243.2,472.1 L242.2,477.5 L241.2,477.5 L240.3,477.5 L239.3,468.2 L238.3,460.8 L237.4,462.7 L236.4,466.3 L235.5,470.6 L234.5,475.0 L233.5,479.6 L232.6,483.1 L231.6,483.1 L230.7,483.1 L229.7,482.1 L228.7,481.2 L227.8,479.6 L226.8,476.9 L225.8,473.4 L224.9,470.3 L223.9,474.8 L223.0,479.0 L222.0,481.1 L221.0,481.6 L220.1,481.6 L219.1,481.6 L218.2,474.8 L217.2,468.0Z" fill="#808080" fill-opacity="0.6" stroke="none"/>
<path d="M217.2,457.7 L218.0,457.8 L218.4,461.1 L219.7,470.0 L220.2,473.9 L220.9,472.5 L221.9,470.6 L222.2,469.5 L223.4,463.7 L224.7,457.6 L224.7,457.5 L225.0,458.1 L225.9,461.4 L227.2,466.0 L228.1,469.3 L228.4,470.1 L228.9,471.2 L229.7,472.4 L230.9,473.6 L231.9,474.7 L232.2,473.0 L232.8,469.4 L233.4,466.5 L234.7,460.8 L235.9,455.1 L236.0,454.9 L236.7,452.8 L237.2,451.9 L238.4,450.5 L239.3,449.9 L239.7,453.5 L240.9,466.0 L241.4,470.5 L241.6,472.0 L242.2,463.2 L243.2,448.8 L243.4,451.9 L244.7,466.0 L245.0,469.1 L245.9,463.5 L246.1,462.4 L247.2,455.1 L247.7,451.6 L248.4,454.1 L249.7,458.4 L250.0,459.7 L250.6,462.3 L250.9,460.2 L252.2,452.8 L253.4,445.5 L254.6,438.5 L254.7,438.8 L254.7,439.0 L255.9,447.6 L256.2,449.5 L257.2,445.2 L258.4,439.7 L258.9,437.8 L259.4,438.7 L259.7,439.3 L260.9,442.2 L262.2,445.2 L262.5,446.0 L263.0,447.5 L263.4,445.9 L264.7,442.5 L265.9,438.8 L266.4,437.0 L267.2,431.9 L267.4,429.8 L268.4,429.4 L269.7,429.1 L270.3,429.9 L270.9,431.8 L271.9,435.2 L272.2,435.5 L273.4,437.2 L273.5,437.2 L274.7,438.3 L275.9,439.3 L276.0,439.4 L276.6,436.6 L277.2,434.5 L278.4,430.6 L279.1,428.4 L279.7,432.0 L280.5,437.0 L280.9,439.2 L281.4,441.6 L282.2,438.3 L283.4,433.0 L284.7,427.6 L285.2,425.4 L285.9,421.5 L287.2,414.2 L287.7,411.1 L288.4,416.1 L289.7,424.6 L289.9,426.1 L290.6,431.4 L290.9,427.0 L292.2,410.0 L292.9,401.0 L293.4,402.6 L293.8,403.8 L294.7,406.8 L295.9,411.3 L296.2,412.4 L297.2,410.0 L297.7,408.7 L298.4,406.9 L299.7,403.9 L300.9,400.9 L301.6,399.4 L302.2,398.4 L302.3,398.3 L303.4,397.4 L304.5,396.7 L304.7,397.4 L305.5,401.8 L305.9,404.5 L307.2,414.6 L307.2,415.2 L308.4,407.3 L308.6,405.7 L309.0,403.0 L309.7,409.7 L310.9,422.7 L311.3,426.1 L311.8,424.1 L312.2,421.5 L313.4,413.5 L314.0,409.8 L314.7,418.8 L314.9,421.9 L315.8,433.8 L315.9,433.1 L317.2,426.2 L317.4,425.1 L318.0,429.8 L318.4,431.9 L319.2,434.7 L319.7,431.0 L320.9,421.9 L321.2,420.3 L321.4,419.0 L322.2,420.0 L323.4,421.9 L324.7,423.9 L324.8,424.1 L325.1,423.4 L325.9,421.2 L327.2,418.1 L328.2,415.7 L328.4,415.6 L329.7,414.8 L329.8,414.7 L330.9,413.9 L331.1,413.8 L332.2,406.7 L333.4,398.9 L333.7,397.4 L333.8,396.8 L334.7,403.0 L335.9,412.0 L336.0,412.7 L337.2,406.9 L337.6,404.7 L337.6,404.5 L338.4,408.4 L339.7,414.0 L339.8,414.8 L340.7,411.9 L340.9,411.4 L342.2,408.9 L343.2,407.4 L343.4,407.9 L343.8,408.9 L344.7,411.4 L345.9,415.3 L346.1,415.9 L346.9,419.2 L347.2,419.7 L348.4,422.1 L348.4,422.0 L349.7,418.9 L350.1,418.0 L350.9,416.4 L352.2,414.1 L352.9,412.8 L353.4,417.0 L354.0,421.5 L354.7,425.8 L355.1,428.3 L355.9,416.7 L356.7,405.3 L357.1,407.7 L357.2,408.1 L358.4,417.6 L358.5,418.4 L359.7,415.4 L360.2,414.0 L360.9,412.7 L361.9,410.7 L362.2,409.5 L363.4,404.3 L364.1,401.3 L364.7,399.4 L364.8,399.0 L365.9,404.3 L367.2,410.6 L367.5,412.4 L368.1,413.1 L368.4,413.8 L369.7,416.6 L370.9,419.6 L370.9,419.5 L372.0,418.2 L372.2,417.9 L373.1,416.3 L373.4,417.4 L374.7,422.2 L375.4,424.8 L375.9,427.3 L375.9,427.4 L377.2,433.0 L378.3,438.0 L378.4,437.8 L379.7,435.9 L379.8,435.7 L380.9,433.7 L382.2,431.4 L382.8,430.2 L383.4,436.0 L384.4,444.8 L384.5,444.3 L384.7,443.2 L385.9,435.8 L386.2,434.2 L387.2,437.2 L387.6,438.6 L388.4,440.7 L388.4,440.8 L389.7,437.0 L390.9,433.2 L391.1,432.6 L391.5,429.7 L392.2,425.0 L393.4,415.9 L394.3,409.7 L394.7,410.9 L395.4,413.2 L395.9,414.5 L396.7,416.7 L397.2,416.0 L398.4,413.8 L399.7,411.7 L400.1,410.9 L400.1,410.9 L400.9,408.8 L402.2,405.5 L403.0,403.3 L403.4,403.4 L404.6,403.9 L404.8,403.9 L405.7,404.6 L405.9,403.9 L407.1,399.1 L408.4,394.4 L409.1,392.0 L409.6,394.1 L410.3,396.7 L410.7,398.8 L410.9,397.8 L412.1,393.0 L412.5,391.9 L413.4,398.9 L414.2,404.7 L414.3,405.5 L414.6,405.5 L415.9,406.3 L417.0,407.0 L417.1,407.4 L418.1,408.7 L418.4,408.7 L419.6,408.7 L420.9,408.6 L421.5,408.6 L422.0,407.0 L422.1,406.6 L423.4,404.6 L423.9,403.9 L424.6,408.2 L425.9,414.7 L425.9,414.7 L426.0,414.8 L427.1,411.3 L427.5,410.0 L428.4,414.3 L429.0,417.9 L429.3,420.1 L429.6,420.2 L430.9,420.6 L432.1,421.0 L432.7,421.1 L433.4,418.0 L433.7,416.5 L434.6,411.6 L435.2,408.5 L435.9,412.3 L437.1,418.9 L437.2,419.2 L438.4,416.8 L438.4,416.8 L439.6,416.9 L440.1,417.3 L440.9,414.6 L441.9,411.0 L442.1,412.4 L442.3,413.4 L443.4,420.2 L444.6,427.9 L444.6,427.8 L445.9,423.5 L446.2,422.1 L446.9,418.4 L447.1,420.0 L448.4,426.9 L449.1,430.9 L449.6,430.5 L450.1,430.3 L450.7,430.2 L450.9,427.4 L451.8,414.7 L452.1,414.9 L453.4,415.9 L454.1,416.5 L454.6,414.7 L454.8,414.2 L455.9,411.2 L456.3,410.0 L457.1,412.1 L458.4,415.2 L458.6,415.6 L459.5,412.5 L459.6,412.0 L460.9,406.8 L461.5,404.3 L462.1,408.0 L463.4,415.8 L463.4,416.0 L463.5,416.7 L464.6,410.6 L465.3,407.5 L465.9,413.5 L467.1,426.0 L467.1,426.1 L467.3,426.2 L468.4,426.6 L469.6,427.2 L469.8,427.3 L470.9,427.1 L472.1,427.1 L472.8,427.2 L473.2,427.6 L473.4,429.1 L474.6,438.3 L475.9,447.6 L476.5,452.3 L476.7,452.5 L477.1,452.5 L478.4,452.6 L479.6,452.5 L479.9,452.4 L480.6,455.5 L480.9,456.7 L482.1,462.1 L482.8,465.1 L483.4,464.1 L484.6,461.6 L485.1,460.6 L485.3,460.9 L485.9,461.4 L486.7,462.2 L487.1,461.5 L488.4,459.7 L489.6,457.6 L490.0,456.8 L490.8,456.0 L490.9,455.8 L492.1,452.7 L492.7,451.0 L493.4,457.3 L494.5,468.4 L494.6,467.8 L495.5,463.7 L495.9,461.7 L497.1,455.9 L497.9,452.4 L498.4,454.1 L499.6,458.5 L500.1,460.4 L500.9,458.9 L500.9,458.8 L502.1,458.1 L502.4,458.1 L503.4,462.7 L504.1,465.4 L504.6,467.2 L504.6,467.2 L505.9,462.5 L507.1,457.6 L507.6,455.9 L508.0,457.2 L508.4,458.8 L509.6,464.1 L510.3,467.0 L510.9,468.0 L512.1,469.9 L512.7,470.7 L513.4,471.7 L513.6,472.0 L514.1,471.7 L514.6,471.2 L515.9,470.2 L515.9,470.2 L517.1,474.2 L518.1,477.2 L518.4,475.9 L518.8,473.7 L519.6,468.5 L520.8,461.1 L520.9,461.4 L522.1,471.9 L523.1,480.0 L523.4,478.5 L523.4,478.1 L524.6,472.3 L525.9,466.2 L526.0,465.5 L527.1,473.1 L528.4,481.5 L528.7,483.7 L528.9,483.4 L529.6,482.1 L530.9,479.4 L531.6,477.7 L532.1,478.8 L532.8,480.5 L533.4,482.0 L534.5,485.5 L534.6,485.4 L535.9,484.3 L536.7,483.6 L536.8,483.6 L537.1,484.9 L538.4,490.5 L539.0,493.6 L539.6,492.6 L540.6,490.3 L540.9,489.5 L541.7,486.3 L542.1,488.2 L543.4,494.2 L544.0,497.1 L544.6,493.6 L545.3,489.5 L545.9,486.6 L546.7,482.0 L547.1,480.5 L548.4,476.4 L548.5,476.0 L549.6,480.2 L550.0,481.8 L550.7,484.9 L550.9,484.7 L552.1,482.5 L553.4,480.5 L553.9,479.5 L554.1,479.3 L554.6,479.0 L555.9,478.4 L556.8,478.0 L557.1,479.6 L558.4,486.0 L558.6,487.3 L559.1,489.0 L559.6,487.5 L560.9,483.9 L561.5,481.9 L562.1,483.4 L563.3,486.4 L563.4,486.5 L563.4,486.5 L564.0,487.3 L564.2,487.5 L564.5,485.5 L564.6,485.0 L565.1,481.6 L565.7,477.6 L565.9,476.4 L566.3,473.8 L566.8,470.2 L566.9,469.8 L567.1,469.8 L567.2,469.9 L567.4,470.3 L568.0,471.3 L568.4,472.0 L568.6,472.5 L569.1,473.6 L569.2,473.7 L569.6,472.8 L569.7,472.6 L570.3,471.5 L570.9,470.3 L570.9,470.2 L571.1,469.7 L571.5,468.8 L571.6,468.3 L572.0,469.3 L572.1,469.5 L572.6,470.7 L573.2,472.1 L573.4,472.5 L573.8,473.4 L574.3,474.8 L574.6,475.4 L574.9,476.2 L575.0,476.4 L575.5,475.4 L575.8,474.7 L575.9,474.6 L576.1,474.4 L576.6,473.9 L577.1,473.6 L577.2,473.5 L577.7,473.3 L577.8,473.6 L578.4,475.4 L578.4,475.5 L579.0,477.3 L579.5,479.0 L579.6,479.2 L580.0,480.1 L580.1,479.9 L580.5,479.2 L580.7,478.8 L580.9,478.4 L581.3,477.5 L581.8,476.0 L582.1,475.3 L582.2,475.1 L582.4,475.0 L583.0,474.7 L583.4,474.5 L583.6,474.4 L584.1,474.1 L584.6,473.8 L584.7,473.7 L585.2,473.4 L585.3,473.4 L585.6,473.2 L585.9,472.2 L585.9,472.1 L586.4,469.8 L587.0,467.5 L587.1,467.2 L587.6,465.2 L588.2,462.8 L588.4,462.1 L588.8,460.4 L589.0,459.5 L589.3,457.8 L589.6,456.5 L589.9,455.2 L589.9,455.1 L590.5,452.3 L590.9,450.4 L591.1,449.4 L591.6,446.5 L591.7,446.4 L592.1,445.8 L592.2,445.6 L592.8,444.8 L593.0,444.5 L593.4,444.4 L593.4,444.4 L593.5,444.4 L593.9,443.2 L594.5,442.1 L594.6,442.0 L595.0,441.2 L595.1,441.7 L595.7,445.8 L595.9,447.0 L596.1,448.8 L596.1,448.9 L596.3,448.0 L596.8,442.8 L597.1,440.4 L597.4,437.6 L597.9,432.6 L598.0,432.7 L598.4,433.8 L598.6,434.5 L599.1,436.2 L599.6,437.6 L599.7,437.9 L600.0,438.9 L600.3,439.6 L600.6,440.7 L600.9,438.9 L600.9,438.8 L601.4,433.7 L602.0,428.6 L602.1,427.9 L602.6,423.3 L602.9,420.5 L603.2,420.4 L603.4,420.3 L603.8,419.9 L604.0,419.7 L604.3,419.0 L604.6,418.5 L604.9,417.8 L605.5,416.5 L605.8,415.6 L605.8,415.7 L606.1,415.7 L606.6,415.7 L607.1,415.6 L607.2,415.5 L607.8,415.1 L608.1,414.8 L608.3,415.2 L608.4,415.2 L608.9,415.6 L609.5,415.7 L609.6,415.7 L609.6,415.7 L610.1,408.9 L610.7,400.1 L610.8,397.4 L611.2,391.0 L611.4,387.9 L611.8,385.2 L612.1,383.2 L612.4,380.9 L613.0,376.2 L613.3,373.0 L613.6,371.1 L613.7,369.9 L614.1,366.3 L614.6,362.4 L614.7,361.3 L615.3,355.9 L615.8,350.3 L615.9,350.1 L616.4,344.4 L616.4,343.2 L617.0,330.5 L617.1,328.7 L617.6,317.4 L618.2,303.8 L618.3,299.6 L618.6,292.7 L618.7,291.5 L619.3,284.9 L619.6,281.7 L619.9,278.0 L620.5,270.8 L620.8,266.1 L620.9,265.6 L621.1,261.3 L621.6,247.1 L622.1,235.6 L622.2,232.8 L622.8,218.4 L623.3,204.4 L623.4,203.9 L623.8,193.0 L623.9,190.1 L624.5,178.3 L624.6,176.6 L625.1,166.6 L625.7,155.3 L625.8,151.9 L626.2,144.3 L626.5,139.7 L626.8,129.8 L627.1,121.6 L627.4,112.6 L627.6,106.1 L628.0,100.5 L628.3,95.0 L628.6,92.0 L629.1,84.4 L629.4,80.8 L629.6,79.1 L629.7,78.0 L630.3,72.9 L630.8,69.0 L630.9,68.9 L631.4,65.8 L631.7,65.0 L632.0,62.9 L632.1,62.6 L632.6,60.6 L633.2,59.3 L633.3,59.1 L633.7,59.1 L634.3,60.1 L634.4,60.2 L634.6,59.9 L634.9,59.7 L635.5,60.3 L635.8,61.1 L636.1,61.8 L636.6,64.4 L637.1,67.1 L637.2,67.8 L637.3,68.5 L637.8,78.7 L638.3,91.1 L638.4,91.5 L638.9,105.0 L639.5,119.2 L639.5,119.9 L639.6,120.8 L640.1,130.1 L640.7,141.2 L640.8,144.7 L641.2,152.8 L641.8,164.1 L641.8,164.9 L642.1,172.3 L642.4,180.6 L642.9,194.7 L643.0,195.4 L643.3,200.0 L643.5,202.6 L644.0,208.7 L644.1,210.9 L644.6,222.4 L644.7,225.2 L645.3,239.4 L645.8,253.0 L645.9,253.4 L646.4,267.2 L647.0,280.6 L647.1,282.5 L647.4,289.8 L647.6,293.1 L648.2,303.7 L648.3,306.9 L648.7,314.0 L649.3,323.8 L649.6,328.3 L649.9,333.2 L650.3,340.0 L650.5,341.5 L650.8,345.2 L651.0,347.2 L651.6,352.5 L652.1,356.4 L652.2,357.4 L652.8,361.8 L653.0,363.5 L653.3,366.2 L653.4,366.4 L653.9,371.0 L654.5,375.3 L654.6,375.8 L655.1,379.2 L655.3,380.3 L655.7,385.7 L655.8,388.1 L656.2,393.4 L656.8,400.8 L657.1,404.2 L657.4,408.0 L657.5,409.6 L658.0,414.3 L658.3,418.1 L658.5,420.2 L658.5,420.2 L659.1,420.0 L659.6,419.7 L659.7,419.6 L660.3,419.0 L660.8,418.3 L660.9,418.2 L661.4,417.3 L661.7,416.8 L662.0,419.5 L662.1,420.2 L662.6,424.2 L662.6,424.3 L663.2,428.0 L663.3,428.9 L663.7,431.0 L664.3,433.7 L664.6,434.9 L664.6,435.1 L664.9,434.2 L665.5,432.7 L665.7,432.2 L665.8,432.0 L666.0,431.8 L666.6,431.3 L667.1,430.8 L667.2,430.7 L667.8,430.1 L668.0,429.8 L668.3,431.7 L668.4,431.8 L668.8,434.4 L668.9,435.0 L669.5,438.4 L669.6,438.9 L670.1,441.9 L670.7,445.4 L670.8,446.4 L671.2,448.8 L671.4,449.5 L671.8,449.6 L672.0,449.7 L672.1,449.6 L672.4,449.3 L673.0,448.6 L673.3,448.0 L673.5,447.6 L674.1,446.5 L674.6,445.6 L674.7,445.4 L674.7,445.3 L675.3,446.1 L675.8,447.1 L675.8,447.1 L675.9,447.2 L676.4,448.5 L677.0,449.8 L677.0,449.8 L677.1,449.6 L677.6,448.2 L678.2,446.7 L678.3,446.2 L678.7,445.1 L678.8,445.0 L679.3,445.6 L679.6,445.8 L679.8,446.0 L679.9,445.9 L680.4,445.5 L680.5,445.6 L680.8,445.6 L681.0,445.5 L681.6,445.2 L682.1,444.8 L682.2,444.7 L682.6,444.3 L682.8,445.0 L683.3,447.2 L683.3,447.3 L683.9,450.0 L684.2,451.4 L684.5,451.3 L684.5,451.4 L684.6,451.5 L685.1,452.4 L685.7,453.4 L685.8,453.7 L686.2,454.4 L686.4,454.7 L686.8,451.4 L687.1,449.1 L687.4,446.5 L688.0,441.4 L688.2,439.1 L688.3,439.5 L688.4,439.7 L688.5,440.1 L689.1,441.3 L689.6,442.1 L689.7,442.2 L690.3,442.9 L690.5,443.1 L690.8,443.8 L690.8,443.9 L691.4,445.1 L692.0,446.4 L692.1,446.6 L692.6,448.0 L692.7,448.5 L693.1,447.8 L693.2,447.7 L693.3,447.6 L693.7,447.3 L694.3,446.9 L694.6,446.8 L694.9,446.6 L695.0,446.5 L695.5,440.2 L695.8,435.6 L696.0,432.9 L696.1,432.2 L696.6,433.5 L697.0,434.4 L697.1,434.8 L697.2,435.2 L697.8,437.5 L698.3,440.1 L698.3,440.2 L698.3,440.2 L698.9,440.7 L699.5,441.3 L699.6,441.4 L700.1,441.9 L700.6,442.4 L700.7,442.7 L700.8,443.6 L700.9,443.8 L701.2,445.5 L701.8,448.3 L702.1,449.6 L702.4,451.1 L702.8,453.3 L703.0,453.0 L703.3,452.0 L703.5,451.4 L704.1,449.9 L704.6,448.6 L704.6,448.5 L704.7,448.7 L704.8,449.2 L705.3,451.4 L705.8,454.2 L705.8,454.3 L706.4,457.1 L707.0,459.6 L707.1,460.0 L707.6,461.9 L707.9,462.9 L708.0,463.0 L708.1,463.4 L708.3,463.8 L708.7,464.6 L709.3,465.6 L709.6,466.1 L709.9,466.5 L710.3,467.1 L710.5,467.3 L710.8,467.6 L711.0,467.8 L711.6,468.5 L711.8,468.8 L712.1,469.4 L712.2,469.6 L712.8,470.8 L713.0,471.2 L713.3,471.5 L713.3,471.6 L713.9,472.0 L714.5,472.3 L714.6,472.3 L715.1,472.4 L715.6,472.2 L715.7,472.2 L715.7,472.6 L715.8,473.0 L716.2,474.7 L716.8,476.9 L717.1,477.8 L717.4,478.7 L717.4,478.8 L718.0,475.0 L718.3,471.9 L718.5,470.1 L719.1,464.7 L719.6,459.9 L719.7,458.7 L720.3,452.1 L720.8,445.3 L720.8,445.3 L720.8,445.3 L721.4,444.6 L722.0,443.5 L722.1,443.4 L722.4,442.7 L722.6,440.1 L723.1,431.5 L723.3,428.9 L723.7,423.0 L724.3,415.0 L724.6,411.4 L724.9,407.6 L725.5,401.0 L725.8,397.8 L725.8,397.9 L726.0,398.3 L726.6,400.4 L727.1,402.9 L727.2,403.6 L727.6,406.6 L727.8,406.0 L728.3,405.4 L728.3,405.4 L728.9,405.9 L729.1,406.5 L729.5,412.6 L729.6,414.0 L730.1,423.4 L730.6,434.9 L730.8,438.4 L730.9,440.9 L731.2,442.0 L731.8,444.5 L732.1,445.7 L732.4,447.0 L733.0,449.4 L733.3,450.7 L733.5,451.4 L733.6,451.7 L734.1,454.4 L734.6,456.7 L734.7,457.2 L735.3,459.5 L735.8,461.2 L735.8,461.3 L736.4,462.5 L737.0,463.2 L737.1,463.2 L737.2,463.3 L737.6,467.2 L738.1,473.7 L738.3,475.5 L738.7,479.8 L739.3,485.6 L739.6,488.2 L739.9,491.2 L739.9,491.7 L740.4,490.8 L740.8,490.0 L741.0,489.5 L741.5,488.4 L741.6,488.2 L742.1,487.1 L742.2,486.8 L742.6,485.7 L742.8,486.9 L743.3,492.0 L743.3,492.2 L743.9,497.5 L744.4,502.3 L744.5,502.4 L744.6,502.6 L745.1,503.6 L745.4,504.4 L745.6,504.9 L745.8,505.4 L746.2,506.5 L746.2,506.6 L746.8,501.8 L747.1,499.6 L747.4,497.0 L747.9,492.2 L748.3,489.1 L748.5,487.7 L748.5,487.9 L749.1,490.8 L749.3,491.9 L749.6,492.6 L749.7,492.9 L750.3,494.3 L750.5,494.7 L750.8,493.2 L750.8,493.1 L751.4,490.1 L752.0,487.1 L752.1,486.7 L752.3,485.5 L752.6,485.7 L753.1,486.6 L753.2,486.8 L753.3,486.9 L753.7,488.0 L754.3,489.5 L754.5,490.2 L754.6,490.2 L754.9,489.7 L755.4,488.8 L755.8,488.2 L756.0,487.8 L756.6,486.8 L757.1,485.9 L757.2,485.7 L757.2,485.6 L757.5,484.8 L757.8,485.3 L758.3,485.9 L758.3,485.9 L758.9,486.3 L759.5,486.4 L759.6,486.4 L760.1,486.1 L760.2,486.1 L760.3,485.2 L760.6,482.4 L760.8,480.9 L761.2,477.3 L761.8,471.4 L762.1,468.3 L762.4,464.5 L762.4,463.8 L762.9,460.7 L763.3,457.7 L763.5,455.8 L764.1,449.5 L764.2,447.9 L764.6,439.3 L764.7,436.3 L765.3,420.1 L765.8,402.7 L765.8,402.2 L766.4,382.7 L766.9,364.3 L767.0,362.6 L767.1,360.6 L767.6,347.6 L768.1,332.0 L768.3,327.2 L768.7,316.2 L768.7,316.2 L769.3,294.4 L769.6,284.5 L769.9,273.7 L770.3,259.9 L770.4,256.9 L770.8,251.2 L771.0,248.4 L771.6,242.7 L772.1,240.6 L772.2,240.4 L772.5,241.3 L772.7,238.7 L773.3,235.7 L773.3,235.7 L773.9,236.4 L774.5,240.7 L774.6,241.6 L774.8,244.6 L775.1,250.7 L775.6,266.1 L775.8,271.2 L776.2,283.6 L776.8,302.6 L777.1,311.8 L777.4,322.4 L777.7,334.2 L777.9,342.5 L778.3,355.3 L778.5,362.4 L779.1,381.5 L779.6,396.0 L779.7,399.4 L780.0,407.4 L780.2,413.2 L780.8,422.7 L780.8,422.9 L781.4,431.0 L782.0,437.4 L782.1,438.1 L782.6,442.2 L782.6,442.7 L783.1,445.8 L783.3,446.7 L783.7,448.3 L784.3,449.6 L784.6,449.9 L784.9,450.0 L784.9,450.0 L785.4,451.3 L785.8,451.9 L786.0,452.1 L786.6,452.5 L786.9,452.5 L787.1,452.7 L787.2,452.8 L787.6,453.2 L787.7,453.6 L788.3,455.3 L788.3,455.3 L788.9,457.1 L789.5,458.8 L789.6,459.1 L790.1,460.5 L790.5,461.7 L790.6,461.7 L790.8,461.8 L790.8,461.8 L791.2,461.9 L791.8,462.1 L792.1,462.2 L792.4,462.3 L792.9,462.5 L793.2,462.5 L793.3,463.1 L793.5,464.4 L794.1,467.8 L794.6,470.3 L794.7,470.9 L794.7,471.0 L795.2,473.5 L795.8,475.9 L795.8,476.0 L796.4,478.4 L796.6,479.2 L797.0,475.7 L797.1,475.0 L797.5,470.4 L797.8,468.1 L797.9,467.1 L798.1,467.5 L798.3,467.9 L798.7,469.1 L799.3,471.2 L799.6,472.2 L799.9,473.4 L800.2,474.7 L800.4,475.1 L800.8,475.8 L800.9,475.9 L801.0,476.1 L801.6,477.0 L802.1,477.8 L802.2,478.0 L802.7,479.0 L802.9,479.2 L803.3,482.2 L803.3,482.3 L804.6,490.3 L804.8,491.8 L805.1,492.6 L805.8,490.4 L806.7,486.5 L807.0,488.0 L808.3,493.9 L808.5,495.1 L808.7,495.8 L809.5,500.1 L810.1,503.4 L810.8,506.4 L811.4,509.2 L812.0,507.4 L813.3,502.8 L813.4,502.2 L814.1,498.3 L814.5,496.9 L815.8,492.4 L817.0,488.0 L817.3,486.9 L817.5,486.4 L818.3,494.5 L819.1,502.4 L819.5,501.9 L820.3,501.0 L820.8,500.5 L822.0,499.4 L823.1,498.4 L823.3,498.8 L824.2,501.1 L824.5,502.2 L824.9,503.6 L825.8,504.2 L827.0,505.6 L827.6,506.1 L828.3,508.4 L828.9,510.0 L829.5,511.0 L829.9,511.4 L830.8,510.8 L832.0,509.9 L832.1,509.8 L833.3,506.8 L833.6,506.1 L834.4,504.5 L834.5,505.6 L835.8,513.2 L837.0,520.8 L837.1,520.9 L838.3,517.1 L838.3,517.1 L839.5,514.2 L840.0,513.4 L840.8,510.0 L842.0,504.9 L842.2,504.0 L843.3,513.2 L843.8,517.1 L844.5,522.5 L845.6,529.5 L845.8,527.2 L847.0,512.2 L847.4,507.9 L848.3,512.3 L848.5,513.1 L849.5,518.8 L849.6,519.4 L850.8,514.8 L852.0,509.8 L852.3,508.6 L853.3,515.6 L854.1,522.2 L854.5,521.9 L854.7,521.8 L855.8,522.2 L856.4,522.8 L857.0,521.0 L858.3,517.6 L859.1,515.3 L859.5,514.8 L860.2,513.7 L860.8,512.0 L861.8,508.6 L862.0,510.1 L863.3,517.9 L864.0,522.9 L864.1,522.8 L864.5,522.4 L865.8,521.4 L866.3,521.1 L867.0,517.5 L868.3,511.4 L869.5,505.3 L869.9,503.5 L870.3,505.2 L870.8,506.6 L872.0,510.2 L872.6,511.7 L873.3,513.5 L874.5,516.7 L875.3,518.6 L875.8,514.9 L877.0,506.1 L878.2,498.4 L878.2,498.2 L878.3,499.1 L879.5,514.0 L879.8,516.9 L880.8,517.6 L882.0,518.6 L882.7,519.0 L883.3,517.5 L884.4,514.3 L884.5,513.9 L885.6,509.7 L885.8,509.5 L887.0,507.1 L888.3,504.7 L888.3,504.6 L889.5,506.0 L889.9,506.5 L890.6,507.2 L890.8,507.9 L892.0,511.9 L893.3,516.0 L893.3,516.0 L894.5,515.2 L894.6,515.2 L895.1,515.5 L895.8,512.9 L897.0,508.7 L897.3,507.8 L898.3,510.9 L899.5,514.7 L900.0,516.0 L900.0,515.9 L900.8,514.1 L902.0,510.9 L902.9,508.5 L903.3,508.4 L904.5,507.9 L905.2,507.5 L905.8,509.7 L906.3,511.7 L906.3,511.7 L907.0,502.9 L907.9,492.3 L908.3,493.9 L909.5,498.7 L910.4,501.8 L910.8,500.0 L912.0,494.7 L912.6,492.3 L913.0,489.5 L913.3,490.1 L914.5,492.4 L915.7,494.2 L915.8,494.1 L916.5,492.1 L917.0,490.3 L918.3,486.3 L918.7,485.2 L919.5,481.3 L919.6,481.0 L920.8,477.4 L920.9,476.9 L922.0,478.8 L922.7,480.3 L922.7,480.3 L923.3,479.4 L924.5,478.3 L925.4,477.3 L925.8,477.0 L925.8,476.9 L927.0,474.5 L927.7,473.1 L928.3,474.1 L929.0,475.3 L929.5,476.6 L929.9,477.8 L930.8,476.9 L931.5,476.1 L932.0,478.1 L932.9,480.9 L933.3,481.5 L934.4,482.7 L934.5,482.1 L935.8,475.8 L936.0,474.7 L937.0,472.8 L937.3,472.6 L938.3,478.5 L938.9,482.6 L939.1,482.1 L939.5,481.4 L940.8,480.2 L941.2,479.4 L942.0,482.9 L942.3,483.5 L943.3,481.4 L943.4,480.9 L944.5,485.2 L945.7,490.2 L945.8,489.8 L946.2,488.9 L947.0,489.4 L947.9,490.4 L948.3,489.1 L949.5,484.4 L950.1,482.0 L950.8,478.1 L950.8,477.8 L952.0,478.0 L953.3,477.9 L953.5,477.9 L954.5,478.9 L955.5,480.3 L955.8,480.9 L956.2,482.2 L957.0,484.7 L958.3,489.1 L958.7,490.6 L959.1,493.2 L959.5,490.8 L960.8,484.0 L962.0,477.1 L962.1,476.8 L962.6,481.9 L963.3,487.6 L964.3,496.4 L964.5,496.9 L965.8,499.6 L966.5,500.7 L966.6,500.6 L967.0,499.3 L968.3,493.9 L968.8,491.3 L969.5,493.1 L970.4,496.5 L970.8,498.5 L971.1,500.2 L972.0,502.1 L973.3,504.6 L973.3,504.7 L973.5,505.0 L974.5,505.8 L975.3,505.9 L975.8,503.8 L977.0,497.7 L977.8,494.5 L978.2,493.2 L978.3,493.2 L979.5,492.2 L980.5,492.0 L980.8,493.6 L982.0,501.2 L982.1,501.6 L982.9,497.0 L983.3,494.3 L983.9,488.7 L984.5,494.4 L985.4,502.2 L985.8,502.6 L986.8,504.8 L986.8,504.7 L987.0,504.0 L988.3,499.7 L989.5,495.5 L989.5,495.5 L990.8,489.7 L991.7,485.4 L992.0,485.5 L993.1,486.0 L993.3,486.2 L994.0,487.7 L994.5,488.1 L995.8,489.5 L996.2,490.1 L997.0,488.4 L997.0,488.3 L998.3,485.8 L998.5,485.3 L999.5,486.3 L1000.8,487.3 L1001.2,487.4 L1001.7,489.1 L1002.0,490.1 L1003.3,493.5 L1003.4,494.0 L1004.5,490.8 L1005.8,486.8 L1006.4,484.8 L1006.4,484.8 L1007.0,489.9 L1007.9,497.0 L1008.2,496.1 L1009.5,492.4 L1010.2,490.4 L1010.7,490.8 L1011.0,491.0 L1012.0,490.7 L1012.4,490.3 L1013.2,493.3 L1014.5,498.3 L1014.7,499.1 L1014.9,498.7 L1015.7,498.8 L1017.0,499.7 L1017.6,500.1 L1018.2,498.1 L1019.5,493.6 L1019.6,493.1 L1019.8,491.9 L1020.7,493.4 L1022.0,494.7 L1022.1,494.7 L1023.2,488.8 L1023.7,486.5 L1024.5,486.2 L1025.1,486.0 L1025.7,485.2 L1025.9,484.9 L1027.0,489.4 L1027.7,492.9 L1028.2,490.9 L1028.2,490.9 L1029.5,488.4 L1030.0,487.6 L1030.7,484.3 L1032.0,479.5 L1032.2,478.8 L1032.9,478.8 L1033.2,479.6 L1034.5,483.8 L1034.5,483.7 L1035.7,481.1 L1036.3,479.7 L1037.0,483.3 L1037.6,485.5 L1037.8,485.9 L1038.2,482.0 L1039.4,471.0 L1039.5,472.2 L1040.7,488.7 L1041.2,494.8 L1041.5,491.9 L1042.0,488.2 L1043.0,480.9 L1043.2,481.8 L1044.5,487.0 L1044.6,487.4 L1045.7,482.3 L1046.1,480.4 L1047.0,481.6 L1047.0,481.7 L1047.9,483.0 L1048.2,486.9 L1049.5,503.7 L1049.5,504.1 L1050.7,498.5 L1052.0,491.8 L1052.0,491.8 L1052.4,487.9 L1053.2,491.1 L1054.5,494.8 L1054.7,495.4 L1055.7,487.9 L1056.4,483.5 L1056.5,482.7 L1057.0,483.4 L1058.1,484.8 L1058.2,483.7 L1059.5,475.8 L1059.6,474.8 L1060.7,480.8 L1061.1,482.7 L1061.9,487.6 L1062.0,486.9 L1063.2,478.8 L1064.1,473.3 L1064.5,473.2 L1065.7,473.8 L1065.8,473.8 L1065.9,474.2 L1067.0,471.5 L1068.2,468.6 L1068.2,468.5 L1068.9,466.8 L1069.5,466.1 L1070.4,465.8 L1070.7,466.9 L1072.0,471.9 L1072.7,474.7 L1072.8,474.5 L1073.2,473.8 L1074.5,472.5 L1074.9,472.1 L1075.7,477.6 L1077.0,486.1 L1077.2,487.5 L1077.5,487.2 L1078.2,486.9 L1079.5,486.9 L1080.5,486.0 L1080.7,487.2 L1081.4,490.3 L1082.0,490.7 L1082.8,490.2 L1083.2,493.8 L1084.4,503.8 L1084.5,502.9 L1084.5,502.7 L1085.7,495.8 L1087.0,488.7 L1087.3,486.9 L1088.2,497.8 L1088.4,500.1 L1089.5,515.0 L1090.2,526.4 L1090.7,519.8 L1092.0,502.8 L1092.3,497.6 L1092.5,495.3 L1093.2,502.4 L1094.0,509.9 L1094.5,509.2 L1095.7,507.5 L1096.3,506.7 L1097.0,507.1 L1097.0,507.1 L1098.2,509.1 L1098.5,509.6 L1099.5,510.4 L1100.0,510.5 L1100.0,510.5 L1100.7,506.6 L1101.8,500.5 L1102.0,501.5 L1103.1,507.4 L1103.2,507.8 L1104.5,512.8 L1104.5,512.9 L1105.7,505.5 L1107.0,498.1 L1107.0,497.8 L1108.2,491.2 L1108.3,490.7 L1109.5,492.7 L1110.7,495.5 L1110.9,496.1 L1111.2,497.2 L1112.0,498.8 L1113.2,501.9 L1113.9,503.8 L1114.5,505.0 L1115.6,507.8 L1115.7,508.1 L1116.9,511.3 L1117.0,511.0 L1118.2,507.8 L1119.1,505.7 L1119.5,504.4 L1119.5,504.2 L1120.7,501.2 L1121.4,499.8 L1122.0,502.7 L1123.2,507.7 L1123.4,508.4 L1123.6,508.4 L1124.5,514.3 L1125.2,518.5 L1125.7,512.3 L1126.5,503.8 L1126.6,504.0 L1127.0,506.4 L1128.2,514.3 L1129.2,520.9 L1129.5,518.8 L1130.7,507.9 L1131.0,505.3 L1131.3,506.7 L1132.0,511.0 L1133.2,518.8 L1133.3,519.1 L1134.5,516.4 L1135.7,513.6 L1136.0,513.0 L1136.0,513.0 L1137.0,511.8 L1138.2,510.3 L1139.3,508.9 L1139.5,509.8 L1140.7,519.2 L1141.1,522.4 L1141.4,521.7 L1142.0,520.3 L1143.2,517.2 L1144.5,514.1 L1144.5,513.9 L1145.7,519.0 L1147.0,524.0 L1147.2,525.0 L1147.7,526.2 L1148.2,527.0 L1149.5,528.0 L1149.9,528.3 L1150.7,529.9 L1151.6,532.1 L1152.0,533.8 L1152.8,538.5 L1153.2,535.0 L1154.5,523.8 L1155.5,513.9 L1155.7,511.4 L1155.8,510.8 L1157.0,520.5 L1158.0,528.3 L1158.2,528.8 L1159.5,531.7 L1160.7,534.7 L1160.7,534.6 L1161.0,531.7 L1162.0,520.0 L1163.0,508.3 L1163.2,508.9 L1164.5,512.2 L1165.7,515.5 L1165.7,515.2 L1167.0,508.4 L1167.2,507.0 L1168.2,502.7 L1168.6,501.1 L1169.5,501.6 L1170.7,502.5 L1171.5,503.0 L1171.9,504.0 L1172.0,504.1 L1173.2,506.7 L1174.2,508.6 L1174.5,508.1 L1175.7,505.8 L1176.6,504.3 L1176.9,504.2 L1177.0,504.6 L1178.2,512.5 L1179.1,518.9 L1179.5,521.1 L1180.5,528.0 L1180.7,529.1 L1182.0,536.1 L1182.1,536.7 L1183.2,526.0 L1184.3,515.3 L1184.4,515.2 L1184.5,515.2 L1185.7,513.0 L1187.0,510.5 L1187.2,510.0 L1188.2,520.3 L1188.8,526.9 L1189.1,526.2 L1189.5,525.7 L1190.7,524.4 L1192.0,523.5 L1192.2,523.4 L1192.2,523.3 L1193.2,523.2 L1194.4,524.2 L1194.5,524.3 L1195.4,525.4 L1195.7,524.6 L1197.0,521.2 L1197.1,520.7 L1198.2,523.1 L1198.9,524.9 L1199.3,523.8 L1199.5,523.5 L1200.7,522.3 L1201.6,521.9 L1202.0,524.6 L1203.2,533.5 L1203.2,533.6 L1203.4,534.7 L1204.5,528.0 L1205.7,519.4 L1205.7,519.3 L1207.0,516.0 L1207.1,515.7 L1208.2,514.9 L1209.4,514.5 L1209.7,514.3 L1210.7,519.1 L1211.0,520.4 L1211.3,521.4 L1211.9,519.0 L1212.9,515.2 L1213.2,518.2 L1214.4,529.5 L1215.1,535.8 L1215.7,530.6 L1215.7,530.5 L1216.9,520.5 L1216.9,520.7 L1218.2,526.9 L1219.2,531.8 L1219.4,531.5 L1220.7,530.3 L1221.9,529.0 L1222.5,528.4 L1223.2,528.5 L1223.5,528.5 L1224.4,528.1 L1224.8,528.0 L1225.7,530.4 L1226.9,533.7 L1227.0,533.9 L1228.2,536.3 L1228.2,536.3 L1229.4,538.6 L1229.7,539.1 L1230.7,534.6 L1231.9,528.8 L1232.6,525.8 L1232.9,527.0 L1233.2,528.9 L1234.4,536.4 L1234.4,536.4 L1235.7,526.2 L1236.0,523.5 L1236.9,529.1 L1237.6,532.8 L1238.2,536.3 L1238.3,536.7 L1239.4,528.1 L1239.8,525.1 L1240.7,528.0 L1241.9,532.3 L1242.1,532.8 L1243.2,535.0 L1244.4,537.5 L1244.6,537.8 L1245.4,534.5 L1245.7,533.4 L1246.9,529.0 L1247.3,527.9 L1248.2,526.2 L1249.4,524.0 L1250.7,521.7 L1251.1,520.9 L1251.6,525.1 L1251.9,527.2 L1253.2,536.2 L1253.3,537.2 L1254.4,537.4 L1255.7,537.6 L1256.3,537.8 L1256.3,537.5 L1256.9,535.8 L1258.2,533.5 L1258.5,532.8 L1259.4,531.1 L1259.5,531.0 L1260.7,525.2 L1260.8,524.9 L1261.9,528.2 L1263.0,531.2 L1263.2,530.0 L1263.4,529.0 L1264.4,522.5 L1264.8,520.3 L1265.7,526.7 L1266.9,536.1 L1267.5,540.5 L1268.1,534.7 L1268.2,533.4 L1269.4,521.3 L1269.7,518.3 L1270.7,528.7 L1271.3,535.7 L1271.9,529.3 L1272.0,529.1 L1273.1,516.3 L1273.2,516.5 L1274.4,519.1 L1275.7,521.8 L1275.8,522.1 L1276.9,517.8 L1277.4,516.1 L1278.2,514.5 L1278.7,513.6 L1279.4,512.9 L1280.5,512.1 L1280.7,513.2 L1281.3,517.8 L1281.9,522.0 L1282.6,526.5 L1283.2,526.2 L1284.4,525.8 L1284.8,525.6 L1285.7,522.6 L1286.9,518.0 L1287.1,517.5 L1287.6,520.0 L1288.2,522.4 L1289.3,526.9 L1289.4,526.8 L1290.7,524.9 L1291.1,524.3 L1291.9,526.7 L1293.2,530.3 L1293.4,530.8 L1293.8,530.1 L1294.4,529.5 L1295.6,528.6 L1295.7,528.8 L1296.9,531.8 L1297.8,534.0 L1298.2,532.5 L1299.4,526.4 L1300.1,523.0 L1300.7,528.2 L1300.9,530.0 L1301.9,538.7 L1302.3,542.2 L1303.2,540.6 L1304.4,538.1 L1305.7,535.6 L1305.7,535.5 L1306.9,531.8 L1308.2,527.9 L1308.4,527.2 L1309.4,532.8 L1309.5,533.1 L1310.2,537.0 L1310.7,539.2 L1311.8,544.5 L1311.9,543.8 L1313.2,537.8 L1313.6,535.7 L1314.4,538.3 L1315.7,542.1 L1316.3,544.0 L1316.9,543.2 L1317.3,542.8 L1318.2,541.7 L1319.2,540.4 L1319.4,540.0 L1320.7,538.0 L1321.9,536.0 L1322.1,535.6 L1323.2,537.0 L1323.5,537.5 L1324.4,539.6 L1324.4,539.5 L1325.7,538.1 L1326.9,536.9 L1327.1,536.7 L1327.5,540.8 L1328.2,548.4 L1328.2,548.7 L1329.4,537.3 L1329.8,533.8 L1330.7,534.8 L1331.4,535.4 L1331.9,535.3 L1332.0,535.3 L1333.2,537.6 L1334.4,540.0 L1334.9,541.0 L1335.7,540.8 L1336.9,540.6 L1337.2,540.6 L1337.6,539.0 L1338.2,537.3 L1339.4,534.3 L1339.4,534.2 L1340.7,537.0 L1341.5,538.8 L1341.9,539.5 L1342.4,540.3 L1343.2,542.7 L1343.9,544.9 L1344.4,547.3 L1345.4,552.2 L1345.7,552.9 L1346.2,554.0 L1346.9,550.1 L1348.2,543.2 L1348.6,541.4 L1349.1,539.4 L1349.4,539.0 L1350.7,537.3 L1351.9,535.6 L1352.9,534.3 L1353.2,534.9 L1354.0,537.1 L1354.4,538.5 L1355.2,542.1 L1355.7,542.5 L1356.9,544.1 L1357.4,544.4 L1357.9,541.3 L1358.2,539.5 L1359.4,529.2 L1359.7,526.9 L1360.7,536.7 L1361.3,542.6 L1361.9,540.0 L1362.6,537.5 L1363.2,536.0 L1364.2,533.5 L1364.4,535.1 L1365.7,543.4 L1366.0,545.4 L1366.5,543.9 L1366.9,542.7 L1368.0,538.7 L1368.2,539.1 L1369.4,541.7 L1370.2,543.5 L1370.7,543.7 L1371.9,544.8 L1372.0,544.9 L1372.7,546.0 L1373.2,544.7 L1374.4,541.3 L1375.7,537.9 L1376.1,536.7 L1376.9,539.8 L1378.2,544.4 L1378.3,545.1 L1379.4,542.1 L1379.9,540.6 L1380.7,542.0 L1381.4,543.3 L1381.9,544.1 L1382.2,544.5 L1383.2,544.4 L1384.4,544.3 L1384.4,544.3 L1385.7,547.3 L1386.9,550.2 L1387.1,550.7 L1388.2,548.6 L1389.2,546.4 L1389.4,546.0 L1390.0,544.4 L1390.7,542.6 L1391.8,539.0 L1391.9,538.8 L1393.2,535.5 L1393.9,533.8 L1394.4,533.1 L1394.5,533.0 L1395.7,533.4 L1396.9,534.1 L1397.9,534.4 L1398.2,534.0 L1398.6,533.2 L1399.4,530.6 L1400.0,528.7 L1400.6,527.1 L1400.7,527.6 L1401.9,537.2 L1402.4,541.1 L1403.2,544.2 L1404.0,547.6 L1404.4,545.2 L1405.7,538.4 L1406.2,535.3 L1406.3,535.3 L1406.9,535.0 L1408.2,534.3 L1409.4,533.7 L1410.3,533.2 L1410.6,535.9 L1410.9,537.9 L1411.9,544.0 L1412.1,545.0 L1413.1,541.9 L1414.4,538.2 L1414.8,537.3 L1415.6,536.4 L1415.6,536.4 L1416.9,536.4 L1417.0,536.4 L1418.1,533.8 L1419.3,531.4 L1419.4,531.4 L1420.3,531.4 L1420.6,531.4 L1421.9,531.3 L1422.0,531.3 L1423.1,538.3 L1423.8,541.8 L1424.4,539.3 L1425.0,536.8 L1425.6,533.8 L1426.5,529.9 L1426.9,531.2 L1428.1,534.9 L1428.7,536.5 L1429.4,538.0 L1430.6,540.9 L1431.3,542.4 L1431.6,543.5 L1431.9,542.2 L1433.1,536.2 L1433.9,532.8 L1434.4,538.5 L1435.0,545.1 L1435.6,540.8 L1436.6,534.7 L1436.9,534.4 L1437.5,533.8 L1438.1,533.2 L1439.4,532.2 L1439.5,532.1 L1440.6,538.2 L1441.1,540.3 L1441.9,539.2 L1442.2,538.7 L1442.9,537.4 L1443.1,538.9 L1444.4,545.2 L1445.1,548.8 L1445.6,548.3 L1446.9,547.0 L1446.9,546.9 L1448.0,544.4 L1448.1,543.9 L1449.4,538.1 L1449.6,537.0 L1450.6,534.3 L1450.8,533.9 L1451.9,531.7 L1453.0,529.6 L1453.1,529.6 L1454.4,529.3 L1455.5,529.2 L1455.6,529.2 L1455.7,529.2 L1456.9,525.3 L1458.1,521.4 L1458.6,520.0 L1459.4,522.0 L1460.2,524.1 L1460.4,525.0 L1460.6,525.7 L1461.9,530.4 L1462.6,533.5 L1463.1,530.6 L1464.1,524.5 L1464.2,523.6 L1464.4,524.1 L1465.6,528.1 L1466.5,530.6 L1466.9,529.8 L1468.1,527.3 L1468.7,526.1 L1469.4,530.2 L1470.3,536.1 L1470.6,537.8 L1471.0,539.9 L1471.9,535.7 L1473.1,530.0 L1474.3,524.4 L1474.4,524.8 L1475.6,534.7 L1475.9,536.9 L1476.6,533.3 L1476.9,531.7 L1478.1,524.8 L1479.3,518.3 L1479.4,519.2 L1480.6,531.1 L1481.1,535.4 L1481.9,536.6 L1482.9,538.2 L1483.1,536.6 L1484.4,528.8 L1484.4,528.5 L1484.9,525.7 L1485.6,528.7 L1486.9,534.0 L1487.8,538.2 L1488.1,538.9 L1489.4,541.7 L1489.4,541.7 L1490.6,537.6 L1490.7,537.5 L1491.9,531.1 L1492.3,528.5 L1493.1,534.2 L1493.8,539.5 L1493.9,540.6 L1494.4,537.9 L1495.6,531.6 L1496.1,529.1 L1496.9,527.6 L1497.9,525.0 L1498.1,525.5 L1498.5,526.5 L1499.4,527.5 L1500.6,528.3 L1500.6,528.3 L1501.9,533.7 L1502.4,536.6 L1503.1,532.6 L1503.2,532.3 L1504.4,526.6 L1505.4,522.1 L1505.6,523.9 L1506.9,532.7 L1507.4,536.3 L1508.1,539.2 L1509.2,543.4 L1509.4,542.2 L1509.4,541.8 L1510.6,533.4 L1511.0,530.8 L1511.9,532.9 L1513.1,535.7 L1513.7,537.1 L1514.1,535.8 L1514.4,535.2 L1515.6,532.8 L1515.9,532.3 L1516.9,532.8 L1518.1,533.2 L1518.6,533.1 L1518.8,534.3 L1519.4,537.7 L1520.6,544.5 L1521.8,550.5 L1521.9,549.4 L1523.1,535.8 L1523.5,531.7 L1523.8,528.5 L1524.4,531.4 L1525.6,537.7 L1526.1,539.9 L1526.9,537.3 L1528.1,533.5 L1528.3,532.9 L1529.4,532.7 L1529.8,532.6 L1530.5,532.4 L1530.6,532.0 L1531.9,525.7 L1533.1,519.3 L1533.5,517.5 L1534.4,528.0 L1535.0,536.0 L1535.6,534.4 L1536.0,533.4 L1536.9,531.6 L1537.3,530.8 L1538.1,530.2 L1539.4,529.4 L1539.5,529.2 L1540.6,523.6 L1540.7,523.2 L1541.8,516.7 L1541.9,516.9 L1543.1,519.5 L1544.0,521.4 L1544.4,522.7 L1545.4,526.8 L1545.6,527.9 L1546.3,531.2 L1546.9,531.1 L1548.1,531.2 L1548.5,531.2 L1549.4,532.0 L1550.0,532.4 L1550.1,532.0 L1550.6,528.8 L1551.9,520.9 L1552.2,518.4 L1553.1,520.1 L1554.4,522.8 L1554.8,523.7 L1554.9,524.2 L1555.6,522.6 L1556.9,519.5 L1557.9,517.1 L1558.1,518.1 L1559.4,522.9 L1560.1,525.9 L1560.6,526.2 L1561.9,526.9 L1562.6,527.4 L1563.0,527.7 L1563.1,527.4 L1564.4,521.8 L1565.6,516.2 L1565.7,515.6 L1566.9,519.5 L1568.0,523.4 L1568.1,524.0 L1569.4,529.9 L1569.8,531.9 L1570.4,530.6 L1570.6,530.0 L1571.9,526.8 L1572.5,525.0 L1573.1,525.1 L1574.4,525.3 L1575.2,525.5 L1575.6,525.7 L1576.6,526.5 L1576.9,526.8 L1577.4,527.6 L1578.1,523.5 L1579.2,516.9 L1579.4,517.3 L1580.6,520.4 L1581.3,522.1 L1581.9,523.1 L1581.9,523.2 L1583.1,525.3 L1584.2,527.0 L1584.4,526.6 L1585.6,523.7 L1586.9,520.7 L1587.1,520.1 L1587.6,518.3 L1588.1,516.3 L1589.4,511.3 L1590.5,506.7 L1590.6,506.7 L1591.9,507.1 L1592.3,507.2 L1592.3,507.3 L1593.1,514.3 L1593.8,520.4 L1594.4,518.3 L1595.6,513.1 L1596.8,508.2 L1596.9,507.6 L1597.0,506.8 L1598.1,498.9 L1599.4,489.9 L1599.5,489.1 L1600.6,485.3 L1601.7,481.9 L1601.9,481.4 L1602.2,480.4 L1603.1,484.3 L1604.4,489.6 L1605.1,492.9 L1605.6,488.3 L1605.6,488.1 L1606.9,477.3 L1607.3,473.3 L1608.1,476.6 L1608.7,479.5 L1609.4,483.1 L1609.6,484.4 L1610.6,479.5 L1611.8,473.7 L1611.8,473.8 L1612.6,479.3 L1613.1,483.1 L1614.1,490.8 L1614.3,491.1 L1615.6,493.0 L1616.5,494.6 L1616.8,495.5 L1617.0,496.0 L1618.1,493.9 L1619.3,492.4 L1619.6,492.1 L1620.1,493.3 L1620.6,497.6 L1621.8,508.9 L1622.0,509.6 L1622.4,510.5 L1623.1,509.3 L1624.3,507.0 L1625.1,505.7 L1625.6,506.9 L1626.7,510.4 L1626.8,510.1 L1626.9,510.0 L1628.1,514.3 L1629.1,517.7 L1629.3,517.8 L1630.6,518.8 L1630.6,518.8 L1630.9,519.3 L1631.8,516.8 L1633.1,513.6 L1633.6,512.2 L1633.7,512.4 L1634.3,514.4 L1635.6,519.1 L1635.9,520.2 L1636.8,518.3 L1637.6,516.6 L1638.1,515.4 L1638.4,514.8 L1639.3,519.0 L1640.4,523.5 L1640.6,524.1 L1641.8,527.6 L1642.3,528.9 L1643.1,531.2 L1643.3,531.9 L1644.3,534.5 L1645.6,537.2 L1646.2,538.2 L1646.7,538.6 L1646.8,538.0 L1648.1,533.7 L1649.3,529.4 L1649.6,528.6 L1650.1,529.9 L1650.6,531.2 L1651.8,534.9 L1652.3,536.3 L1653.1,539.5 L1654.3,544.6 L1654.5,545.4 L1655.6,545.5 L1656.4,545.4 L1656.8,545.4 L1657.9,545.4 L1658.1,544.6 L1659.3,539.2 L1660.6,533.7 L1660.8,532.6 L1661.8,536.2 L1662.6,539.0 L1663.1,540.6 L1664.3,545.2 L1664.7,546.4 L1665.6,540.0 L1666.2,535.5 L1666.8,538.2 L1668.0,543.5 L1668.1,543.5 L1668.9,542.2 L1669.3,541.3 L1670.6,539.1 L1671.0,538.4 L1671.8,540.2 L1673.1,542.8 L1673.7,544.0 L1674.3,542.6 L1675.1,540.9 L1675.6,540.0 L1676.4,538.6 L1676.8,538.4 L1678.1,538.1 L1678.2,538.0 L1679.3,534.8 L1680.6,531.3 L1680.9,530.6 L1681.4,533.9 L1681.8,536.7 L1682.6,541.9 L1683.1,543.0 L1684.3,546.1 L1684.4,546.4 L1685.6,542.8 L1686.0,541.4 L1686.1,541.4 L1686.8,542.0 L1688.1,542.7 L1688.9,543.2 L1689.3,543.3 L1690.6,543.6 L1690.8,543.7 L1691.8,544.7 L1692.1,545.0 L1693.1,536.1 L1693.9,528.9 L1694.3,531.9 L1695.5,539.3 L1695.6,540.0 L1695.7,540.7 L1696.8,538.1 L1697.3,537.1 L1698.1,539.0 L1699.3,541.8 L1699.4,541.9 L1699.5,542.2 L1700.0,542.0 L1700.6,542.5 L1701.8,543.8 L1701.8,543.6 L1703.1,540.5 L1704.0,538.1 L1704.3,539.3 L1705.6,543.9 L1705.6,543.9 L1706.3,542.4 L1706.8,540.9 L1707.4,539.5 L1708.1,543.5 L1709.2,549.8 L1709.3,549.3 L1710.6,545.4 L1711.7,541.7 L1711.8,541.4 L1711.9,541.2 L1713.1,541.3 L1714.3,541.1 L1714.6,541.1 L1715.6,541.1 L1715.6,541.1 L1716.8,541.8 L1716.8,541.8 L1718.1,546.2 L1719.1,549.6 L1719.3,549.0 L1720.6,546.0 L1721.8,543.1 L1721.9,542.9 L1722.0,542.8 L1723.1,544.7 L1724.3,547.7 L1724.9,549.2 L1725.6,546.9 L1726.8,542.6 L1726.9,542.2 L1728.1,548.7 L1728.1,549.1 L1729.2,554.7 L1729.3,554.6 L1730.6,553.4 L1731.7,552.3 L1731.8,551.6 L1733.1,546.0 L1733.7,543.1 L1734.3,547.9 L1735.2,554.2 L1735.5,556.4 L1735.6,556.2 L1736.8,552.9 L1737.7,550.4 L1738.1,552.1 L1739.3,558.1 L1740.0,561.3 L1740.6,562.6 L1740.6,562.8 L1741.8,565.3 L1742.2,566.2 L1743.1,566.5 L1744.3,566.8 L1745.2,567.0 L1745.6,566.2 L1746.8,563.7 L1746.9,563.5 L1747.8,561.4 L1748.1,560.9 L1749.3,558.2 L1750.6,555.5 L1751.7,553.0 L1751.8,553.4 L1753.1,556.3 L1753.5,557.3 L1754.3,556.3 L1754.7,555.9 L1755.6,555.1 L1755.7,555.0 L1756.8,553.1 L1758.0,551.1 L1758.1,551.0 L1759.3,550.2 L1760.2,549.7 L1760.6,554.8 L1761.0,560.8 L1761.3,566.4 L1761.8,564.0 L1763.1,557.8 L1764.3,551.7 L1764.7,549.7 L1765.6,553.8 L1766.8,559.8 L1767.0,560.5 L1767.2,559.1 L1768.1,554.6 L1769.3,547.7 L1769.7,545.8 L1770.6,553.7 L1771.5,561.5 L1771.8,562.6 L1773.0,566.4 L1773.1,566.3 L1773.5,563.8 L1774.3,559.3 L1775.6,552.8 L1776.0,550.8 L1776.8,555.8 L1778.1,563.1 L1778.2,563.9 L1779.3,565.6 L1779.7,566.1 L1780.6,566.8 L1781.1,567.3 L1781.8,563.2 L1783.1,555.6 L1784.3,548.3 L1784.3,548.5 L1785.2,551.5 L1785.6,553.0 L1786.1,555.4 L1786.8,555.3 L1788.1,555.4 L1788.8,555.1 L1789.1,555.2 L1789.3,555.0 L1790.6,553.4 L1791.8,551.3 L1792.4,550.3 L1793.1,556.2 L1793.9,564.0 L1794.3,561.7 L1794.6,560.0 L1795.6,554.5 L1796.2,550.9 L1796.8,551.9 L1798.1,554.0 L1799.3,556.1 L1799.6,556.5 L1800.6,554.4 L1801.6,552.1 L1801.8,551.6 L1803.1,549.0 L1804.1,546.8 L1804.3,547.5 L1805.6,550.8 L1806.3,552.7 L1806.8,553.9 L1807.4,555.3 L1808.1,553.3 L1809.3,549.1 L1809.7,547.9 L1810.6,549.0 L1811.0,549.6 L1811.8,551.8 L1812.6,554.4 L1813.1,554.1 L1814.3,553.4 L1815.5,552.5 L1815.7,552.4 L1815.7,552.3 L1816.8,557.3 L1817.5,560.8 L1818.0,560.3 L1819.3,559.1 L1819.8,558.6 L1820.5,557.4 L1821.8,555.5 L1821.9,555.3 L1822.0,555.3 L1823.0,564.8 L1823.8,572.5 L1824.3,572.2 L1825.1,570.9 L1825.5,569.0 L1826.5,565.1 L1826.8,565.9 L1828.0,569.5 L1828.8,571.7 L1829.3,569.3 L1830.5,563.4 L1831.3,559.9 L1831.7,558.1 L1831.8,558.4 L1833.0,562.8 L1834.3,567.1 L1835.1,569.9 L1835.5,568.6 L1836.8,565.3 L1837.6,563.2 L1837.8,562.8 L1838.0,562.6 L1839.3,562.0 L1840.0,561.8 L1840.5,562.9 L1841.8,565.7 L1843.0,568.2 L1843.4,568.7 L1843.8,568.6 L1844.3,568.1 L1845.5,566.4 L1845.7,566.2 L1846.8,569.7 L1848.0,573.4 L1848.5,574.8 L1848.6,575.0 L1849.3,570.4 L1850.1,564.9 L1850.5,567.5 L1851.7,575.3 L1851.8,575.0 L1853.0,570.9 L1854.0,567.9 L1854.3,567.4 L1854.6,567.1 L1855.5,566.1 L1856.8,565.2 L1857.9,563.5 L1858.0,562.9 L1858.5,561.0 L1859.3,560.3 L1860.3,558.7 L1860.5,560.5 L1861.8,568.4 L1862.5,573.2 L1862.6,572.7 L1863.0,569.2 L1864.3,559.9 L1864.8,556.4 L1865.5,560.6 L1866.5,566.2 L1866.8,568.3 L1867.0,569.8 L1868.0,570.3 L1869.3,571.0 L1869.3,571.0 L1870.5,571.7 L1871.5,572.2 L1871.8,571.3 L1872.0,570.8 L1873.0,567.6 L1873.3,566.8 L1874.3,568.0 L1875.5,569.7 L1876.5,571.1 L1876.6,571.0 L1876.8,571.0 L1878.0,571.8 L1878.7,572.6 L1879.3,571.8 L1880.5,570.5 L1880.6,570.5 L1881.6,570.5 L1881.8,571.0 L1882.9,573.8 L1883.0,573.7 L1883.4,573.3 L1884.3,574.6 L1885.5,576.2 L1886.1,576.9 L1886.8,578.3 L1887.6,580.1 L1887.9,580.9 L1888.0,580.1 L1889.3,570.7 L1889.5,569.1 L1890.5,572.0 L1891.7,575.3 L1891.8,575.4 L1893.0,576.5 L1893.8,577.2 L1894.0,577.3 L1894.3,575.9 L1895.5,569.7 L1895.8,568.4 L1896.8,574.7 L1898.0,582.7 L1898.0,582.7 L1899.3,573.2 L1899.6,570.7 L1900.5,572.6 L1901.7,574.9 L1901.8,575.2 L1902.5,577.4 L1903.0,578.7 L1904.3,582.4 L1904.8,584.0 L1905.5,581.2 L1906.4,578.1 L1906.8,576.5 L1907.5,573.9 L1908.0,576.8 L1909.3,583.4 L1909.7,585.6 L1910.5,583.4 L1911.0,581.7 L1911.8,578.6 L1912.4,575.4 L1913.0,577.7 L1914.3,582.1 L1915.5,587.0 L1915.7,587.9 L1916.0,589.6 L1916.8,587.5 L1918.0,584.4 L1918.7,582.4 L1918.9,582.9 L1919.3,583.8 L1920.5,586.4 L1921.0,587.2 L1921.8,585.5 L1923.0,582.8 L1923.2,582.4 L1923.5,582.7 L1924.3,583.5 L1925.5,584.9 L1925.9,585.4 L1926.8,585.9 L1928.0,586.6 L1928.2,586.8 L1929.3,587.9 L1929.3,588.0 L1930.5,584.3 L1931.5,581.4 L1931.8,581.2 L1933.0,580.2 L1933.7,579.4 L1934.0,578.9 L1934.3,580.5 L1935.5,587.9 L1936.7,594.8 L1936.8,594.6 L1938.0,589.7 L1939.2,585.3 L1939.3,585.0 L1940.5,580.2 L1940.5,580.2 L1941.8,581.5 L1943.0,582.8 L1943.0,582.8 L1944.3,585.5 L1945.4,588.1 L1945.5,588.4 L1945.7,588.9 L1946.8,587.9 L1948.0,586.9 L1948.4,586.6 L1949.3,590.2 L1949.3,590.5 L1950.2,592.0 L1950.5,590.7 L1951.8,584.2 L1952.9,579.0 L1953.0,578.7 L1953.2,578.3 L1954.3,577.9 L1954.7,577.8 L1955.5,579.8 L1956.8,582.8 L1956.9,583.2 L1958.0,578.5 L1959.3,573.0 L1959.5,571.9 L1959.6,571.3 L1960.5,574.7 L1961.4,578.3 L1961.8,579.4 L1963.0,583.8 L1963.2,584.6 L1964.3,580.9 L1965.5,576.7 L1965.5,576.7 L1965.8,577.0 L1966.8,578.8 L1967.7,581.0 L1968.0,581.2 L1969.3,582.8 L1970.4,584.2 L1970.4,584.3 L1970.5,584.4 L1971.8,587.8 L1973.0,591.4 L1973.1,591.8 L1974.3,590.2 L1975.1,588.5 L1975.5,587.2 L1976.1,585.3 L1976.8,586.8 L1978.0,589.1 L1978.3,589.7 L1979.3,585.1 L1979.8,582.5 L1980.5,579.9 L1981.0,578.2 L1981.8,581.2 L1983.0,586.3 L1983.5,588.0 L1984.3,589.5 L1984.5,589.9 L1985.5,590.9 L1985.7,591.1 L1986.8,585.6 L1987.3,582.7 L1988.0,585.2 L1989.2,589.6 L1989.3,589.8 L1989.5,591.0 L1990.5,590.0 L1991.8,588.8 L1991.8,588.8 L1993.0,591.4 L1994.3,594.0 L1994.7,595.0 L1995.5,593.1 L1996.2,591.2 L1996.8,589.5 L1997.9,585.6 L1998.0,586.0 L1999.3,589.2 L2000.1,591.3 L2000.5,592.5 L2000.9,593.7 L2001.5,595.3 L2001.8,594.3 L2003.0,590.0 L2003.0,589.9 L2004.3,591.0 L2005.3,591.8 L2005.5,591.6 L2005.6,591.5" stroke="#000" stroke-width="3.9"/>
<path d="M217.2,443.8 L218.4,443.9 L219.7,444.0 L220.9,444.1 L221.9,444.1 L222.2,443.7 L223.4,440.4 L224.7,436.9 L225.0,436.3 L225.9,435.6 L227.2,435.0 L228.4,434.3 L228.9,433.9 L229.7,432.7 L230.9,430.1 L232.2,427.7 L232.8,426.9 L233.4,426.8 L234.7,426.6 L235.9,426.5 L236.7,426.4 L237.2,426.8 L238.4,428.8 L239.7,431.3 L240.9,433.4 L241.4,433.9 L242.2,434.0 L243.4,434.2 L244.7,434.3 L245.9,434.4 L246.1,434.4 L247.2,433.4 L248.4,431.6 L249.7,430.0 L250.0,429.7 L250.9,429.5 L252.2,429.2 L253.4,429.0 L254.7,428.8 L254.7,428.8 L255.9,428.3 L257.2,427.7 L258.4,427.2 L259.4,426.9 L259.7,426.9 L260.9,427.2 L262.2,427.6 L262.5,427.7 L263.4,428.9 L264.7,431.3 L265.9,433.5 L266.4,433.9 L267.2,432.4 L268.4,427.9 L269.7,423.5 L270.3,422.2 L270.9,422.2 L272.2,422.4 L273.4,422.5 L273.5,422.5 L274.7,422.1 L275.9,421.6 L276.6,421.4 L277.2,421.8 L278.4,423.2 L279.7,424.7 L280.5,425.3 L280.9,425.3 L282.2,425.0 L283.4,424.5 L284.7,424.0 L285.2,423.8 L285.9,422.7 L287.2,420.3 L288.4,417.4 L289.7,414.8 L289.9,414.4 L290.9,412.8 L292.2,410.9 L293.4,409.3 L293.8,408.9 L294.7,408.3 L295.9,407.5 L297.2,406.9 L297.7,406.6 L298.4,406.2 L299.7,405.6 L300.9,405.2 L301.6,405.0 L302.2,405.2 L303.4,405.8 L304.7,406.7 L305.5,407.4 L305.9,408.4 L307.2,413.0 L308.4,418.2 L308.6,419.1 L309.7,423.1 L310.9,427.9 L311.8,430.0 L312.2,430.2 L313.4,430.5 L314.7,430.7 L314.9,430.8 L315.9,431.3 L317.2,432.1 L318.0,432.4 L318.4,431.7 L319.7,428.1 L320.9,424.3 L321.2,423.8 L322.2,422.6 L323.4,421.3 L324.7,420.2 L325.1,419.9 L325.9,419.2 L327.2,418.4 L328.4,417.6 L329.7,416.8 L329.8,416.7 L330.9,415.9 L332.2,415.1 L333.4,414.5 L333.7,414.4 L334.7,415.0 L335.9,416.1 L337.2,417.0 L337.6,417.2 L338.4,417.0 L339.7,416.5 L340.7,416.3 L340.9,416.4 L342.2,417.9 L343.4,420.0 L343.8,420.6 L344.7,422.4 L345.9,425.3 L346.9,426.9 L347.2,426.8 L348.4,425.9 L349.7,424.8 L350.1,424.6 L350.9,424.4 L352.2,424.2 L353.4,423.9 L354.0,423.8 L354.7,422.5 L355.9,418.8 L357.1,416.0 L357.2,415.9 L358.4,415.1 L359.7,414.5 L360.2,414.4 L360.9,414.4 L362.2,414.5 L363.4,414.6 L364.1,414.7 L364.7,415.0 L365.9,416.3 L367.2,417.9 L368.1,419.1 L368.4,419.8 L369.7,422.7 L370.9,425.9 L372.0,428.5 L372.2,428.8 L373.4,431.2 L374.7,433.5 L375.9,435.5 L375.9,435.5 L377.2,437.2 L378.4,438.7 L379.7,440.1 L379.8,440.2 L380.9,441.1 L382.2,442.1 L383.4,442.9 L384.5,443.3 L384.7,443.2 L385.9,442.2 L387.2,440.7 L387.6,440.2 L388.4,438.9 L389.7,436.6 L390.9,434.3 L391.5,433.2 L392.2,431.9 L393.4,429.4 L394.7,426.9 L395.4,425.3 L395.9,424.2 L397.2,421.3 L398.4,418.3 L399.7,415.4 L400.1,414.4 L400.9,412.8 L402.2,410.4 L403.4,408.1 L404.6,406.0 L404.8,405.8 L405.9,404.3 L407.1,402.6 L408.4,401.0 L409.6,399.9 L410.3,399.5 L410.9,399.9 L412.1,401.0 L413.4,402.5 L414.2,403.4 L414.6,404.4 L415.9,407.5 L417.1,410.5 L418.1,412.0 L418.4,412.1 L419.6,412.4 L420.9,412.6 L422.0,412.8 L422.1,413.0 L423.4,415.0 L424.6,417.4 L425.9,419.1 L425.9,419.1 L427.1,417.0 L428.4,414.4 L429.0,413.6 L429.6,413.6 L430.9,413.6 L432.1,413.6 L433.4,413.6 L433.7,413.6 L434.6,412.9 L435.9,411.5 L437.1,409.9 L438.4,408.9 L438.4,408.9 L439.6,410.5 L440.9,413.1 L442.1,415.6 L442.3,416.0 L443.4,418.1 L444.6,420.8 L445.9,422.7 L446.2,423.0 L447.1,422.4 L448.4,421.0 L449.6,419.5 L450.1,419.1 L450.9,418.6 L452.1,418.0 L453.4,417.4 L454.6,416.8 L454.8,416.7 L455.9,416.4 L457.1,416.0 L458.4,415.6 L459.5,415.2 L459.6,415.1 L460.9,413.5 L462.1,411.7 L463.4,410.5 L463.4,410.5 L464.6,412.1 L465.9,414.5 L467.1,417.2 L467.3,417.5 L468.4,419.5 L469.6,421.9 L470.9,424.3 L472.1,427.0 L472.8,428.5 L473.4,430.4 L474.6,434.9 L475.9,439.7 L476.7,442.5 L477.1,443.8 L478.4,447.4 L479.6,450.9 L480.6,453.5 L480.9,454.2 L482.1,457.3 L483.4,460.3 L484.6,463.1 L485.3,464.4 L485.9,465.2 L487.1,467.0 L488.4,468.6 L489.6,469.9 L490.8,470.7 L490.9,470.6 L492.1,469.7 L493.4,468.2 L494.6,466.7 L495.5,466.0 L495.9,465.8 L497.1,465.1 L498.4,464.5 L499.6,464.0 L500.9,463.6 L500.9,463.6 L502.1,465.0 L503.4,466.9 L504.1,467.5 L504.6,467.5 L505.9,467.2 L507.1,466.9 L508.0,466.8 L508.4,467.0 L509.6,468.2 L510.9,469.9 L512.1,471.6 L512.7,472.2 L513.4,473.0 L514.1,473.8 L514.6,474.4 L515.9,475.7 L517.1,477.0 L518.4,478.0 L518.8,478.2 L519.6,478.2 L520.9,478.3 L522.1,478.4 L523.4,478.5 L523.4,478.5 L524.6,478.8 L525.9,479.2 L527.1,479.6 L528.4,480.0 L528.9,480.0 L529.6,479.8 L530.9,478.9 L532.1,478.0 L532.8,477.7 L533.4,477.8 L534.6,478.0 L535.9,478.2 L536.7,478.5 L537.1,478.8 L538.4,480.4 L539.6,482.2 L540.6,483.2 L540.9,483.1 L542.1,482.5 L543.4,481.6 L544.6,480.6 L545.3,480.0 L545.9,479.7 L547.1,478.7 L548.4,477.8 L549.6,477.1 L550.0,476.9 L550.9,477.0 L552.1,477.2 L553.4,477.6 L553.9,477.7 L554.6,478.2 L555.9,479.4 L557.1,480.7 L558.4,481.5 L558.6,481.6 L559.6,481.3 L560.9,480.8 L562.1,480.1 L563.3,479.3 L563.4,479.2 L563.4,479.2 L564.0,478.1 L564.5,476.8 L564.6,476.6 L565.1,475.3 L565.7,473.7 L565.9,473.3 L566.3,472.3 L566.8,471.2 L567.1,470.8 L567.2,470.7 L567.4,470.6 L568.0,470.6 L568.4,470.6 L568.6,470.7 L569.1,470.7 L569.6,470.8 L569.7,470.8 L570.3,470.8 L570.9,470.7 L570.9,470.7 L571.1,470.7 L571.5,470.4 L572.0,470.0 L572.1,469.9 L572.6,469.4 L573.2,468.8 L573.4,468.6 L573.8,468.1 L574.3,467.5 L574.6,467.2 L574.9,466.8 L575.5,466.3 L575.8,466.0 L575.9,466.0 L576.1,466.0 L576.6,466.1 L577.1,466.4 L577.2,466.5 L577.8,466.9 L578.4,467.4 L578.4,467.4 L579.0,467.9 L579.5,468.2 L579.6,468.3 L580.1,468.4 L580.5,468.3 L580.7,468.2 L580.9,468.0 L581.3,467.7 L581.8,467.2 L582.1,466.9 L582.4,466.6 L583.0,466.1 L583.4,465.7 L583.6,465.5 L584.1,464.8 L584.6,464.3 L584.7,464.2 L585.2,463.6 L585.3,463.5 L585.9,462.9 L585.9,462.9 L586.4,462.3 L587.0,461.7 L587.1,461.6 L587.6,461.1 L588.2,460.4 L588.4,460.2 L588.8,459.7 L589.3,459.0 L589.6,458.6 L589.9,458.2 L589.9,458.1 L590.5,457.2 L590.9,456.6 L591.1,456.2 L591.6,455.2 L592.1,454.4 L592.2,454.2 L592.8,453.1 L593.0,452.7 L593.4,452.4 L593.4,452.4 L593.9,452.4 L594.5,452.6 L594.6,452.6 L595.1,452.8 L595.7,452.9 L595.9,452.8 L596.1,452.7 L596.3,452.5 L596.8,451.7 L597.1,451.3 L597.4,450.8 L598.0,449.8 L598.4,449.1 L598.6,448.7 L599.1,447.5 L599.6,446.6 L599.7,446.3 L600.0,445.7 L600.3,445.2 L600.9,444.1 L600.9,444.1 L601.4,442.9 L602.0,441.7 L602.1,441.5 L602.6,440.4 L603.2,438.8 L603.4,438.3 L603.8,437.0 L604.0,436.3 L604.3,434.7 L604.6,433.6 L604.9,432.2 L605.5,429.6 L605.8,427.8 L606.1,426.7 L606.6,423.7 L607.1,421.2 L607.2,420.6 L607.8,417.2 L608.3,413.7 L608.4,413.5 L608.9,409.7 L609.5,405.5 L609.6,404.9 L610.1,401.1 L610.7,396.4 L610.8,394.9 L611.2,391.3 L611.8,385.9 L612.1,383.2 L612.4,380.1 L613.0,374.0 L613.3,369.8 L613.6,367.4 L614.1,360.4 L614.6,354.5 L614.7,353.0 L615.3,345.2 L615.8,337.2 L615.9,336.9 L616.4,328.2 L617.0,319.1 L617.1,317.8 L617.6,309.5 L618.2,299.5 L618.3,296.4 L618.7,289.1 L619.3,278.4 L619.6,273.2 L619.9,267.3 L620.5,255.9 L620.8,248.5 L621.1,244.3 L621.6,232.4 L622.1,222.8 L622.2,220.5 L622.8,208.4 L623.3,196.7 L623.4,196.3 L623.9,184.3 L624.5,172.5 L624.6,170.9 L625.1,160.9 L625.7,149.5 L625.8,146.1 L626.2,138.6 L626.8,128.1 L627.1,123.3 L627.4,118.1 L628.0,108.8 L628.3,103.3 L628.6,100.3 L629.1,92.5 L629.6,86.8 L629.7,85.5 L630.3,79.5 L630.8,74.6 L630.9,74.4 L631.4,70.4 L632.0,67.4 L632.1,67.0 L632.6,65.5 L633.2,64.6 L633.3,64.6 L633.7,64.9 L634.3,66.3 L634.6,67.3 L634.9,68.8 L635.5,72.3 L635.8,75.1 L636.1,76.9 L636.6,82.4 L637.1,87.5 L637.2,88.9 L637.8,96.2 L638.3,104.2 L638.4,104.4 L638.9,113.3 L639.5,122.9 L639.6,124.2 L640.1,133.0 L640.7,143.6 L640.8,146.9 L641.2,154.7 L641.8,166.1 L642.1,171.5 L642.4,177.7 L643.0,189.5 L643.3,197.0 L643.5,201.3 L644.1,213.2 L644.6,222.7 L644.7,225.1 L645.3,236.8 L645.8,247.9 L645.9,248.3 L646.4,259.6 L647.0,270.6 L647.1,272.1 L647.6,281.3 L648.2,291.6 L648.3,294.7 L648.7,301.5 L649.3,311.1 L649.6,315.4 L649.9,320.2 L650.5,328.9 L650.8,334.2 L651.0,337.1 L651.6,344.9 L652.1,350.8 L652.2,352.2 L652.8,359.2 L653.3,365.5 L653.4,365.7 L653.9,371.8 L654.5,377.5 L654.6,378.2 L655.1,382.8 L655.7,387.8 L655.8,389.2 L656.2,392.4 L656.8,396.8 L657.1,398.7 L657.4,400.8 L658.0,404.5 L658.3,406.8 L658.5,408.0 L659.1,411.3 L659.6,413.8 L659.7,414.4 L660.3,417.2 L660.8,419.8 L660.9,419.9 L661.4,422.4 L662.0,424.7 L662.1,425.0 L662.6,426.9 L662.6,426.9 L663.2,428.0 L663.3,428.2 L663.7,428.5 L664.3,428.6 L664.6,428.6 L664.9,428.6 L665.5,429.0 L665.7,429.2 L665.8,429.5 L666.0,430.0 L666.6,431.3 L667.1,432.3 L667.2,432.6 L667.8,433.9 L668.3,435.1 L668.4,435.2 L668.8,436.3 L668.9,436.5 L669.5,438.2 L669.6,438.4 L670.1,439.8 L670.7,441.5 L670.8,442.0 L671.2,443.1 L671.8,444.5 L672.0,444.9 L672.1,445.1 L672.4,445.5 L673.0,446.0 L673.3,446.2 L673.5,446.3 L674.1,446.5 L674.6,446.6 L674.7,446.6 L675.3,446.8 L675.8,447.2 L675.8,447.2 L675.9,447.2 L676.4,447.9 L677.0,448.7 L677.1,448.8 L677.6,449.4 L678.2,450.2 L678.3,450.4 L678.7,450.9 L679.3,451.5 L679.6,451.7 L679.8,451.9 L679.9,451.9 L680.5,451.3 L680.8,450.7 L681.0,450.3 L681.6,448.9 L682.1,447.7 L682.2,447.4 L682.8,445.9 L683.3,444.7 L683.3,444.6 L683.9,443.7 L684.5,443.3 L684.5,443.4 L684.6,443.4 L685.1,444.1 L685.7,444.8 L685.8,445.0 L686.2,445.5 L686.8,446.3 L687.1,446.6 L687.4,447.0 L688.0,447.6 L688.3,448.0 L688.4,448.0 L688.5,448.0 L689.1,447.7 L689.6,447.2 L689.7,447.0 L690.3,446.2 L690.8,445.2 L690.8,445.2 L691.4,444.2 L692.0,443.4 L692.1,443.3 L692.6,442.8 L693.1,442.5 L693.2,442.6 L693.3,442.7 L693.7,443.0 L694.3,443.4 L694.6,443.6 L694.9,443.9 L695.5,444.4 L695.8,444.7 L696.0,444.8 L696.6,445.3 L697.0,445.7 L697.1,445.9 L697.2,446.1 L697.8,447.6 L698.3,449.3 L698.3,449.3 L698.9,451.3 L699.5,453.3 L699.6,453.6 L700.1,455.4 L700.7,457.4 L700.8,458.0 L700.9,458.2 L701.2,459.3 L701.8,461.2 L702.1,462.0 L702.4,463.0 L703.0,464.9 L703.3,466.1 L703.5,466.8 L704.1,468.6 L704.6,470.0 L704.7,470.4 L704.8,470.7 L705.3,472.1 L705.8,473.9 L705.8,474.0 L706.4,475.9 L707.0,477.5 L707.1,477.7 L707.6,478.8 L707.9,479.3 L708.1,479.2 L708.3,479.1 L708.7,478.7 L709.3,478.1 L709.6,477.8 L709.9,477.4 L710.5,476.7 L710.8,476.2 L711.0,476.0 L711.6,475.5 L711.8,475.4 L712.1,475.4 L712.2,475.4 L712.8,475.4 L713.3,475.4 L713.3,475.4 L713.9,475.3 L714.5,475.0 L714.6,475.0 L715.1,474.6 L715.6,473.9 L715.7,473.8 L715.8,473.6 L716.2,472.9 L716.8,471.6 L717.1,470.8 L717.4,469.8 L718.0,467.6 L718.3,465.9 L718.5,464.9 L719.1,461.6 L719.6,458.6 L719.7,457.8 L720.3,453.5 L720.8,448.8 L720.8,448.6 L721.4,443.4 L722.0,437.8 L722.1,437.0 L722.6,432.0 L723.1,426.2 L723.3,424.5 L723.7,420.7 L724.3,415.5 L724.6,413.3 L724.9,411.0 L725.5,407.2 L725.8,405.4 L726.0,404.5 L726.6,402.9 L727.1,402.4 L727.2,402.4 L727.8,403.2 L728.3,405.2 L728.3,405.2 L728.9,408.4 L729.5,412.5 L729.6,413.1 L730.1,417.4 L730.6,422.9 L730.8,424.7 L731.2,428.8 L731.8,435.0 L732.1,437.9 L732.4,441.1 L733.0,447.1 L733.3,450.7 L733.5,452.7 L734.1,458.0 L734.6,461.8 L734.7,462.7 L735.3,466.9 L735.8,470.5 L735.8,470.6 L736.4,473.7 L737.0,476.3 L737.1,476.6 L737.6,478.5 L738.1,480.2 L738.3,480.7 L738.7,481.7 L739.3,482.8 L739.6,483.3 L739.9,483.8 L740.4,484.5 L740.8,484.9 L741.0,485.1 L741.5,485.5 L741.6,485.6 L742.1,485.9 L742.2,486.0 L742.8,486.4 L743.3,486.7 L743.3,486.7 L743.9,487.0 L744.5,487.3 L744.6,487.4 L745.1,487.7 L745.4,487.9 L745.6,488.1 L745.8,488.3 L746.2,488.7 L746.8,489.5 L747.1,489.9 L747.4,490.4 L747.9,491.2 L748.3,491.7 L748.5,491.9 L749.1,492.4 L749.3,492.6 L749.6,492.3 L749.7,492.2 L750.3,491.2 L750.8,490.0 L750.8,490.0 L751.4,488.6 L752.0,487.2 L752.1,487.0 L752.6,485.9 L753.1,484.9 L753.2,484.7 L753.3,484.7 L753.7,484.5 L754.3,484.2 L754.6,484.1 L754.9,483.9 L755.4,483.6 L755.8,483.4 L756.0,483.3 L756.6,482.9 L757.1,482.5 L757.2,482.4 L757.2,482.4 L757.8,481.4 L758.3,480.2 L758.3,480.2 L758.9,478.6 L759.5,476.8 L759.6,476.6 L760.1,474.7 L760.3,473.8 L760.6,472.3 L760.8,471.5 L761.2,469.3 L761.8,465.5 L762.1,463.4 L762.4,460.7 L762.9,454.7 L763.3,450.2 L763.5,447.4 L764.1,438.6 L764.6,430.3 L764.7,428.1 L765.3,416.0 L765.8,402.6 L765.8,402.2 L766.4,386.8 L767.0,369.9 L767.1,367.5 L767.6,352.0 L768.1,333.4 L768.3,327.7 L768.7,314.7 L769.3,296.3 L769.6,288.0 L769.9,279.0 L770.4,263.4 L770.8,254.6 L771.0,250.1 L771.6,239.7 L772.1,233.7 L772.2,232.6 L772.7,229.3 L773.3,229.6 L773.3,229.7 L773.9,233.9 L774.5,241.7 L774.6,243.0 L775.1,252.6 L775.6,266.3 L775.8,270.9 L776.2,282.2 L776.8,299.5 L777.1,307.9 L777.4,317.6 L777.9,336.0 L778.3,347.5 L778.5,354.0 L779.1,371.1 L779.6,384.1 L779.7,387.1 L780.2,401.6 L780.8,414.1 L780.8,414.4 L781.4,425.6 L782.0,435.1 L782.1,436.2 L782.6,443.0 L783.1,449.4 L783.3,451.1 L783.7,454.6 L784.3,458.6 L784.6,460.2 L784.9,461.7 L785.4,464.1 L785.8,465.3 L786.0,465.8 L786.6,467.1 L786.9,467.5 L787.1,468.0 L787.2,468.3 L787.7,469.7 L788.3,471.1 L788.3,471.2 L788.9,472.7 L789.5,474.1 L789.6,474.3 L790.1,475.5 L790.6,476.7 L790.8,476.9 L790.8,477.0 L791.2,477.7 L791.8,478.8 L792.1,479.3 L792.4,479.9 L792.9,481.0 L793.3,481.6 L793.5,481.9 L794.1,482.7 L794.6,483.1 L794.7,483.2 L794.7,483.2 L795.2,483.1 L795.8,482.9 L795.8,482.9 L796.4,482.7 L797.0,482.6 L797.1,482.5 L797.5,482.4 L797.8,482.4 L798.1,482.9 L798.3,483.2 L798.7,484.1 L799.3,485.8 L799.6,486.7 L799.9,487.7 L800.4,489.5 L800.8,490.6 L800.9,491.0 L801.0,491.2 L801.6,492.9 L802.1,494.3 L802.2,494.6 L802.7,496.4 L803.3,498.1 L803.3,498.1 L804.6,500.8 L804.8,501.2 L805.8,499.5 L807.0,496.1 L808.3,493.1 L808.7,492.6 L809.5,493.6 L810.8,496.5 L812.0,499.6 L813.3,501.8 L813.4,501.9 L814.5,501.6 L815.8,501.1 L817.0,500.5 L817.3,500.4 L818.3,499.9 L819.5,499.3 L820.3,498.9 L820.8,498.8 L822.0,498.5 L823.3,498.3 L824.2,498.2 L824.5,498.4 L825.8,500.2 L827.0,502.6 L828.3,504.6 L828.9,505.2 L829.5,505.1 L830.8,504.6 L832.0,504.1 L833.3,503.7 L833.6,503.6 L834.5,503.7 L835.8,503.9 L837.0,504.1 L838.3,504.4 L838.3,504.4 L839.5,505.6 L840.8,507.3 L842.0,509.1 L843.3,510.4 L843.8,510.7 L844.5,510.2 L845.8,509.0 L847.0,507.5 L848.3,506.1 L848.5,506.0 L849.5,505.2 L850.8,504.2 L852.0,503.4 L853.3,502.6 L854.5,502.1 L854.7,502.1 L855.8,502.8 L857.0,504.3 L858.3,505.9 L859.5,507.2 L860.2,507.5 L860.8,507.2 L862.0,505.7 L863.3,504.2 L864.1,503.6 L864.5,503.7 L865.8,504.1 L867.0,504.7 L868.3,505.3 L869.5,505.8 L870.3,506.0 L870.8,505.8 L872.0,505.0 L873.3,503.8 L874.5,502.6 L875.8,501.3 L877.0,500.3 L878.2,499.7 L878.3,499.8 L879.5,500.5 L880.8,501.6 L882.0,502.8 L883.3,503.8 L884.4,504.4 L884.5,504.4 L885.8,503.9 L887.0,503.2 L888.3,502.4 L889.5,501.5 L889.9,501.3 L890.8,500.5 L892.0,499.3 L893.3,498.1 L894.5,497.4 L894.6,497.4 L895.8,498.2 L897.0,499.5 L898.3,501.1 L899.5,502.4 L900.0,502.9 L900.8,503.2 L902.0,503.8 L903.3,504.3 L904.5,504.8 L905.8,505.1 L906.3,505.2 L907.0,505.0 L908.3,504.4 L909.5,503.7 L910.8,502.8 L912.0,501.8 L912.6,501.3 L913.3,499.6 L914.5,495.6 L915.8,491.2 L916.5,488.8 L917.0,486.8 L918.3,482.1 L919.5,478.0 L919.6,477.8 L920.8,475.7 L922.0,473.8 L922.7,473.2 L923.3,473.7 L924.5,475.8 L925.8,477.8 L925.8,477.8 L927.0,478.2 L928.3,478.4 L929.0,478.6 L929.5,479.2 L930.8,481.2 L932.0,483.2 L932.9,484.1 L933.3,483.9 L934.5,482.4 L935.8,481.1 L936.0,481.0 L937.0,483.1 L938.3,487.3 L939.1,490.3 L939.5,491.9 L940.8,497.7 L942.0,502.4 L942.3,502.9 L943.3,500.5 L944.5,495.8 L945.8,491.8 L946.2,491.1 L947.0,491.9 L948.3,493.7 L949.5,495.4 L950.1,495.8 L950.8,495.5 L952.0,494.3 L953.3,493.0 L954.5,491.7 L955.5,491.1 L955.8,491.3 L957.0,492.5 L958.3,494.4 L958.7,495.0 L959.5,497.9 L960.8,503.4 L962.0,508.7 L962.6,510.7 L963.3,512.0 L964.5,514.4 L965.8,516.3 L966.5,516.9 L967.0,516.0 L968.3,512.2 L969.5,508.0 L970.4,506.0 L970.8,505.9 L972.0,505.6 L973.3,505.3 L973.5,505.2 L974.5,503.9 L975.8,501.4 L977.0,498.9 L978.2,497.4 L978.3,497.4 L979.5,498.6 L980.8,500.4 L982.0,502.1 L982.9,502.9 L983.3,502.3 L984.5,498.9 L985.8,494.6 L986.8,491.9 L987.0,491.7 L988.3,490.7 L989.5,489.7 L990.8,489.0 L992.0,488.3 L993.1,488.0 L993.3,488.1 L994.5,489.7 L995.8,492.0 L997.0,494.3 L997.0,494.3 L998.3,497.1 L999.5,500.1 L1000.8,502.8 L1001.7,504.4 L1002.0,504.7 L1003.3,505.8 L1004.5,506.7 L1005.8,507.3 L1006.4,507.5 L1007.0,507.3 L1008.2,506.6 L1009.5,505.7 L1010.7,504.7 L1011.0,504.4 L1012.0,502.6 L1013.2,499.6 L1014.5,497.1 L1014.9,496.6 L1015.7,497.1 L1017.0,498.6 L1018.2,500.1 L1019.5,501.2 L1019.6,501.3 L1020.7,500.0 L1022.0,497.7 L1023.2,494.9 L1024.5,491.8 L1025.1,490.3 L1025.7,488.2 L1027.0,483.5 L1028.2,479.4 L1028.2,479.4 L1029.5,477.5 L1030.7,475.8 L1032.0,474.5 L1032.9,473.9 L1033.2,474.4 L1034.5,477.8 L1035.7,482.3 L1037.0,486.1 L1037.6,487.2 L1038.2,487.2 L1039.5,487.2 L1040.7,487.2 L1041.5,487.2 L1042.0,487.7 L1043.2,489.7 L1044.5,492.4 L1045.7,495.4 L1047.0,498.2 L1047.0,498.2 L1048.2,501.0 L1049.5,504.0 L1050.7,506.6 L1052.0,508.3 L1052.0,508.3 L1053.2,505.7 L1054.5,501.7 L1055.7,497.2 L1056.4,495.0 L1057.0,493.0 L1058.2,488.7 L1059.5,484.5 L1060.7,480.4 L1061.1,479.4 L1062.0,476.9 L1063.2,473.6 L1064.5,470.6 L1065.7,468.5 L1065.8,468.5 L1067.0,468.1 L1068.2,467.8 L1068.9,467.7 L1069.5,468.4 L1070.7,470.9 L1072.0,474.2 L1072.8,476.3 L1073.2,477.7 L1074.5,482.1 L1075.7,486.8 L1077.0,491.6 L1077.5,493.5 L1078.2,496.7 L1079.5,502.6 L1080.7,507.6 L1081.4,509.1 L1082.0,508.1 L1083.2,504.4 L1084.5,501.3 L1084.5,501.3 L1085.7,501.0 L1087.0,500.7 L1088.2,500.5 L1088.4,500.5 L1089.5,503.0 L1090.7,507.7 L1092.0,511.7 L1092.3,512.2 L1093.2,512.2 L1094.5,512.2 L1095.7,512.2 L1097.0,512.2 L1097.0,512.2 L1098.2,513.4 L1099.5,515.0 L1100.0,515.4 L1100.7,515.1 L1102.0,514.5 L1103.1,513.8 L1103.2,513.7 L1104.5,511.5 L1105.7,508.7 L1107.0,506.1 L1107.0,506.0 L1108.2,504.0 L1109.5,502.0 L1110.7,500.6 L1110.9,500.5 L1112.0,500.9 L1113.2,501.7 L1114.5,502.7 L1115.6,503.6 L1115.7,503.7 L1117.0,505.3 L1118.2,507.0 L1119.5,509.0 L1119.5,509.1 L1120.7,512.1 L1122.0,515.6 L1123.2,518.2 L1123.4,518.5 L1124.5,516.5 L1125.7,513.0 L1126.6,511.5 L1127.0,511.6 L1128.2,512.2 L1129.5,513.2 L1130.7,514.2 L1131.3,514.6 L1132.0,515.2 L1133.2,516.5 L1134.5,517.8 L1135.7,519.0 L1136.0,519.3 L1137.0,520.2 L1138.2,521.3 L1139.5,522.4 L1140.7,523.4 L1141.4,524.0 L1142.0,524.3 L1143.2,525.3 L1144.5,526.2 L1145.7,527.0 L1147.0,527.6 L1147.7,527.9 L1148.2,527.4 L1149.5,525.4 L1150.7,523.3 L1151.6,522.4 L1152.0,522.7 L1153.2,524.8 L1154.5,527.3 L1155.5,528.6 L1155.7,528.5 L1157.0,527.1 L1158.2,525.0 L1159.5,522.7 L1160.7,520.5 L1161.0,520.0 L1162.0,518.4 L1163.2,516.2 L1164.5,514.0 L1165.7,512.1 L1167.0,510.8 L1167.2,510.7 L1168.2,510.7 L1169.5,510.7 L1170.7,510.7 L1171.9,510.7 L1172.0,510.7 L1173.2,510.3 L1174.5,509.8 L1175.7,509.3 L1176.6,509.1 L1177.0,509.5 L1178.2,512.1 L1179.5,515.4 L1180.5,517.7 L1180.7,517.9 L1182.0,519.5 L1183.2,520.8 L1184.4,521.6 L1184.5,521.6 L1185.7,520.9 L1187.0,519.9 L1188.2,518.9 L1189.1,518.5 L1189.5,518.7 L1190.7,519.7 L1192.0,521.2 L1192.2,521.6 L1193.2,525.3 L1194.5,531.3 L1195.4,534.1 L1195.7,534.0 L1197.0,532.9 L1198.2,531.7 L1199.3,531.0 L1199.5,531.2 L1200.7,533.3 L1202.0,536.2 L1203.2,538.0 L1203.2,538.0 L1204.5,536.5 L1205.7,534.3 L1207.0,532.6 L1207.1,532.6 L1208.2,533.3 L1209.4,534.5 L1210.7,535.6 L1211.0,535.7 L1211.9,535.1 L1213.2,533.9 L1214.4,532.6 L1215.7,531.8 L1215.7,531.8 L1216.9,532.1 L1218.2,532.6 L1219.4,533.3 L1220.7,533.9 L1221.9,534.5 L1223.2,534.8 L1223.5,534.9 L1224.4,534.7 L1225.7,534.3 L1226.9,533.8 L1228.2,533.3 L1228.2,533.3 L1229.4,532.5 L1230.7,531.5 L1231.9,530.6 L1232.9,530.2 L1233.2,530.3 L1234.4,530.7 L1235.7,531.2 L1236.9,531.6 L1237.6,531.8 L1238.2,531.6 L1239.4,531.2 L1240.7,530.6 L1241.9,530.0 L1243.2,529.4 L1244.4,528.9 L1245.4,528.6 L1245.7,528.7 L1246.9,529.1 L1248.2,529.7 L1249.4,530.3 L1250.7,530.8 L1251.6,531.0 L1251.9,531.0 L1253.2,530.8 L1254.4,530.5 L1255.7,530.3 L1256.3,530.2 L1256.9,531.0 L1258.2,533.6 L1259.4,535.7 L1259.5,535.7 L1260.7,534.2 L1261.9,532.0 L1263.2,529.7 L1263.4,529.4 L1264.4,527.8 L1265.7,525.9 L1266.9,524.3 L1268.1,523.2 L1268.2,523.1 L1269.4,522.9 L1270.7,522.7 L1271.9,522.4 L1272.0,522.4 L1273.2,521.5 L1274.4,520.2 L1275.7,518.9 L1276.9,517.9 L1277.4,517.7 L1278.2,518.3 L1279.4,520.1 L1280.7,522.2 L1281.3,523.2 L1281.9,524.0 L1283.2,525.9 L1284.4,527.8 L1285.7,529.6 L1286.9,531.1 L1287.6,531.8 L1288.2,532.1 L1289.4,532.5 L1290.7,532.9 L1291.9,533.4 L1293.2,533.8 L1293.8,534.1 L1294.4,534.6 L1295.7,536.0 L1296.9,537.6 L1298.2,539.3 L1299.4,540.8 L1300.7,541.8 L1300.9,541.9 L1301.9,542.1 L1303.2,542.2 L1304.4,542.4 L1305.7,542.5 L1306.9,542.6 L1308.2,542.7 L1309.4,542.7 L1309.5,542.7 L1310.7,542.5 L1311.9,542.2 L1313.2,541.8 L1314.4,541.4 L1315.7,540.9 L1316.9,540.5 L1317.3,540.4 L1318.2,540.0 L1319.4,539.5 L1320.7,538.9 L1321.9,538.4 L1323.2,538.1 L1323.5,538.0 L1324.4,538.8 L1325.7,540.7 L1326.9,542.8 L1327.5,543.5 L1328.2,544.3 L1329.4,545.8 L1330.7,547.0 L1331.4,547.4 L1331.9,547.3 L1333.2,546.7 L1334.4,545.9 L1335.7,545.1 L1336.9,544.5 L1337.6,544.3 L1338.2,544.7 L1339.4,546.1 L1340.7,547.9 L1341.5,549.0 L1341.9,549.3 L1343.2,550.5 L1344.4,551.6 L1345.4,552.1 L1345.7,551.9 L1346.9,549.2 L1348.2,546.4 L1348.6,545.8 L1349.4,545.7 L1350.7,545.4 L1351.9,545.3 L1353.2,545.1 L1354.0,545.1 L1354.4,545.5 L1355.7,547.8 L1356.9,550.6 L1357.9,552.1 L1358.2,552.0 L1359.4,551.1 L1360.7,549.7 L1361.9,548.6 L1362.6,548.2 L1363.2,548.3 L1364.4,548.9 L1365.7,549.5 L1366.5,549.8 L1366.9,549.6 L1368.2,548.8 L1369.4,547.7 L1370.7,546.6 L1371.9,545.9 L1372.0,545.8 L1373.2,545.9 L1374.4,546.0 L1375.7,546.1 L1376.9,546.3 L1378.2,546.4 L1379.4,546.5 L1380.7,546.6 L1381.4,546.6 L1381.9,546.6 L1383.2,546.3 L1384.4,546.0 L1385.7,545.6 L1386.9,545.2 L1388.2,544.7 L1389.2,544.3 L1389.4,544.1 L1390.7,543.1 L1391.9,541.8 L1393.2,540.7 L1393.9,540.4 L1394.4,540.6 L1395.7,541.7 L1396.9,543.0 L1398.2,544.1 L1398.6,544.3 L1399.4,543.7 L1400.0,543.2 L1400.7,542.9 L1401.9,542.5 L1403.2,542.2 L1404.4,541.9 L1405.7,541.7 L1406.3,541.6 L1406.9,541.6 L1408.2,541.6 L1409.4,541.6 L1410.6,541.6 L1410.9,541.6 L1411.9,541.2 L1413.1,540.2 L1414.4,539.1 L1415.6,538.5 L1415.6,538.5 L1416.9,539.1 L1418.1,540.0 L1419.4,541.0 L1420.3,541.6 L1420.6,541.8 L1421.9,542.5 L1423.1,543.2 L1424.4,543.8 L1425.0,544.0 L1425.6,543.8 L1426.9,543.2 L1428.1,542.4 L1429.4,541.6 L1430.6,541.0 L1431.3,540.8 L1431.9,541.0 L1433.1,541.5 L1434.4,542.2 L1435.6,542.9 L1436.9,543.6 L1437.5,544.0 L1438.1,544.3 L1439.4,545.0 L1440.6,545.7 L1441.9,546.2 L1442.2,546.3 L1443.1,546.1 L1444.4,545.8 L1445.6,545.3 L1446.9,544.7 L1446.9,544.7 L1448.1,542.7 L1449.4,539.9 L1450.6,537.2 L1450.8,536.9 L1451.9,535.3 L1453.1,533.6 L1454.4,531.9 L1455.5,530.7 L1455.6,530.6 L1456.9,529.5 L1458.1,528.6 L1459.4,527.8 L1460.2,527.5 L1460.6,527.9 L1461.9,529.7 L1463.1,531.8 L1464.1,533.0 L1464.4,533.2 L1465.6,533.7 L1466.9,534.2 L1468.1,534.6 L1469.4,535.0 L1470.3,535.4 L1470.6,535.4 L1471.9,535.8 L1473.1,536.2 L1474.4,536.5 L1475.6,536.8 L1476.6,536.9 L1476.9,536.9 L1478.1,536.7 L1479.4,536.4 L1480.6,536.1 L1481.9,535.8 L1483.1,535.5 L1484.4,535.4 L1484.4,535.4 L1485.6,535.7 L1486.9,536.2 L1488.1,536.8 L1489.4,537.4 L1490.6,537.7 L1490.7,537.7 L1491.9,535.8 L1493.1,533.1 L1493.8,532.2 L1494.4,532.6 L1495.6,534.2 L1496.9,536.1 L1498.1,537.5 L1498.5,537.7 L1499.4,537.0 L1500.6,535.3 L1501.9,533.5 L1503.1,532.3 L1503.2,532.2 L1504.4,532.4 L1505.6,532.8 L1506.9,533.2 L1508.1,533.6 L1509.4,533.8 L1509.4,533.8 L1510.6,533.6 L1511.9,533.4 L1513.1,533.1 L1514.1,533.0 L1514.4,533.1 L1515.6,534.3 L1516.9,535.9 L1518.1,537.3 L1518.8,537.7 L1519.4,537.3 L1520.6,536.0 L1521.9,534.3 L1523.1,532.6 L1523.5,532.2 L1524.4,531.5 L1525.6,530.5 L1526.9,529.6 L1528.1,528.7 L1529.4,527.8 L1529.8,527.5 L1530.6,526.9 L1531.9,526.0 L1533.1,525.1 L1534.4,524.3 L1535.6,523.7 L1536.0,523.6 L1536.9,523.8 L1538.1,524.3 L1539.4,524.8 L1540.6,525.2 L1540.7,525.2 L1541.9,524.7 L1543.1,524.0 L1544.4,523.2 L1545.4,522.9 L1545.6,522.9 L1546.9,523.7 L1548.1,524.7 L1549.4,525.7 L1550.1,526.0 L1550.6,525.7 L1551.9,524.7 L1553.1,523.4 L1554.4,522.3 L1554.8,522.1 L1555.6,521.8 L1556.9,521.5 L1558.1,521.2 L1559.4,521.0 L1560.6,520.7 L1561.9,520.6 L1562.6,520.5 L1563.1,520.5 L1564.4,520.5 L1565.6,520.5 L1566.9,520.5 L1568.1,520.5 L1569.4,520.5 L1570.4,520.5 L1570.6,520.5 L1571.9,520.0 L1573.1,519.2 L1574.4,518.4 L1575.6,517.7 L1576.6,517.4 L1576.9,517.4 L1578.1,517.8 L1579.4,518.3 L1580.6,518.8 L1581.3,518.9 L1581.9,518.9 L1583.1,518.7 L1584.4,518.4 L1585.6,518.0 L1586.9,517.6 L1587.6,517.4 L1588.1,517.1 L1589.4,516.2 L1590.6,515.1 L1591.9,513.9 L1592.3,513.5 L1593.1,512.1 L1594.4,509.7 L1595.6,507.1 L1596.9,504.3 L1597.0,504.1 L1598.1,501.2 L1599.4,497.8 L1600.6,494.4 L1601.7,491.6 L1601.9,491.1 L1603.1,488.2 L1604.4,485.3 L1605.6,483.0 L1605.6,483.0 L1606.9,481.4 L1608.1,480.2 L1608.7,479.9 L1609.4,480.0 L1610.6,480.4 L1611.8,481.0 L1612.6,481.4 L1613.1,481.9 L1614.3,483.2 L1615.6,484.8 L1616.5,486.1 L1616.8,487.0 L1618.1,490.6 L1619.3,495.1 L1619.6,496.3 L1620.6,503.2 L1621.8,511.5 L1622.0,511.9 L1623.1,511.7 L1624.3,511.3 L1625.1,511.1 L1625.6,513.0 L1626.7,518.2 L1626.8,518.1 L1628.1,517.2 L1629.3,516.0 L1630.6,515.0 L1630.6,515.0 L1631.8,514.6 L1633.1,514.3 L1633.7,514.3 L1634.3,514.8 L1635.6,516.5 L1636.8,518.6 L1637.6,519.7 L1638.1,520.4 L1639.3,522.0 L1640.6,523.7 L1641.8,525.4 L1642.3,526.0 L1643.1,527.2 L1644.3,529.2 L1645.6,530.9 L1646.2,531.5 L1646.8,531.4 L1648.1,531.1 L1649.3,530.8 L1650.1,530.7 L1650.6,530.8 L1651.8,531.1 L1653.1,531.6 L1654.3,532.2 L1655.6,532.7 L1656.4,533.0 L1656.8,533.2 L1658.1,533.6 L1659.3,534.1 L1660.6,534.6 L1661.8,535.0 L1662.6,535.4 L1663.1,535.6 L1664.3,536.2 L1665.6,536.9 L1666.8,537.5 L1668.1,538.1 L1668.9,538.5 L1669.3,538.6 L1670.6,538.9 L1671.8,539.2 L1673.1,539.5 L1674.3,539.8 L1675.1,540.0 L1675.6,540.2 L1676.8,540.8 L1678.1,541.4 L1679.3,542.1 L1680.6,542.8 L1681.4,543.2 L1681.8,543.4 L1683.1,544.1 L1684.3,544.9 L1685.6,545.4 L1686.1,545.5 L1686.8,545.4 L1688.1,544.9 L1689.3,544.4 L1690.6,544.0 L1690.8,544.0 L1691.8,544.4 L1693.1,545.1 L1694.3,545.9 L1695.5,546.3 L1695.6,546.3 L1696.8,546.0 L1698.1,545.6 L1699.3,545.1 L1699.4,545.1 L1700.0,544.4 L1700.6,544.6 L1701.8,545.2 L1703.1,545.9 L1704.3,546.7 L1705.6,547.3 L1706.3,547.5 L1706.8,547.5 L1708.1,547.5 L1709.3,547.5 L1710.6,547.5 L1711.7,547.5 L1711.8,547.5 L1713.1,546.6 L1714.3,545.4 L1715.6,544.4 L1715.6,544.4 L1716.8,544.2 L1718.1,544.0 L1719.3,543.8 L1720.6,543.7 L1721.8,543.6 L1721.9,543.6 L1723.1,544.7 L1724.3,546.4 L1725.6,548.4 L1726.8,550.4 L1728.1,552.2 L1728.1,552.2 L1729.3,553.3 L1730.6,554.4 L1731.8,555.5 L1733.1,556.5 L1734.3,557.3 L1735.2,557.7 L1735.6,557.8 L1736.8,558.0 L1738.1,558.2 L1739.3,558.3 L1740.6,558.5 L1740.6,558.5 L1741.8,558.6 L1743.1,558.8 L1744.3,559.0 L1745.6,559.2 L1746.8,559.3 L1746.9,559.3 L1748.1,559.1 L1749.3,558.9 L1750.6,558.5 L1751.8,558.2 L1753.1,557.9 L1754.3,557.7 L1754.7,557.7 L1755.6,557.7 L1756.8,557.7 L1758.1,557.7 L1759.3,557.7 L1760.6,557.7 L1761.0,557.7 L1761.8,557.9 L1763.1,558.4 L1764.3,559.0 L1765.6,559.6 L1766.8,560.0 L1767.2,560.0 L1768.1,559.9 L1769.3,559.6 L1770.6,559.2 L1771.8,558.8 L1773.1,558.5 L1773.5,558.5 L1774.3,558.8 L1775.6,559.6 L1776.8,560.6 L1778.1,561.6 L1779.3,562.3 L1779.7,562.4 L1780.6,562.3 L1781.8,562.1 L1783.1,561.9 L1784.3,561.7 L1785.2,561.6 L1785.6,561.8 L1786.8,563.1 L1788.1,564.7 L1789.1,565.5 L1789.3,565.4 L1790.6,564.3 L1791.8,562.8 L1793.1,561.0 L1794.3,559.5 L1794.6,559.3 L1795.6,558.6 L1796.8,557.9 L1798.1,557.2 L1799.3,556.6 L1800.6,555.9 L1801.6,555.4 L1801.8,555.3 L1803.1,554.7 L1804.3,554.1 L1805.6,553.4 L1806.3,553.0 L1806.8,552.6 L1808.1,551.4 L1809.3,550.2 L1810.6,549.3 L1811.0,549.1 L1811.8,549.8 L1813.1,551.4 L1814.3,553.4 L1815.5,555.2 L1815.7,555.4 L1816.8,556.5 L1818.0,557.6 L1819.3,558.8 L1820.5,560.0 L1821.8,561.4 L1821.9,561.6 L1823.0,564.5 L1824.3,568.1 L1825.1,569.4 L1825.5,569.3 L1826.8,568.8 L1828.0,568.1 L1829.3,567.4 L1830.5,566.7 L1831.3,566.3 L1831.8,566.2 L1833.0,565.8 L1834.3,565.4 L1835.5,565.1 L1836.8,564.8 L1837.6,564.7 L1838.0,565.0 L1839.3,566.1 L1840.5,567.7 L1841.8,569.3 L1843.0,570.5 L1843.8,571.0 L1844.3,570.8 L1845.5,570.1 L1846.8,569.2 L1848.0,568.2 L1848.5,567.9 L1849.3,567.3 L1850.5,566.2 L1851.8,565.2 L1853.0,564.4 L1854.0,564.0 L1854.3,564.3 L1855.5,566.6 L1856.8,569.4 L1857.9,571.0 L1858.0,570.9 L1859.3,569.0 L1860.5,566.2 L1861.8,563.2 L1862.6,561.6 L1863.0,560.9 L1864.3,558.8 L1865.5,557.0 L1866.5,556.1 L1866.8,556.2 L1868.0,556.6 L1869.3,557.1 L1870.5,557.8 L1871.8,558.4 L1872.0,558.5 L1873.0,559.1 L1874.3,559.8 L1875.5,560.7 L1876.6,561.6 L1876.8,561.8 L1878.0,564.4 L1879.3,567.6 L1880.5,570.9 L1880.6,571.0 L1881.8,575.6 L1882.9,578.8 L1883.0,578.8 L1884.3,577.9 L1885.5,576.7 L1886.8,575.5 L1887.6,574.9 L1888.0,574.8 L1889.3,574.4 L1890.5,574.1 L1891.8,573.8 L1893.0,573.5 L1893.8,573.3 L1894.3,573.2 L1895.5,573.0 L1896.8,572.7 L1898.0,572.4 L1899.3,572.1 L1900.5,571.9 L1901.7,571.8 L1901.8,571.8 L1903.0,572.7 L1904.3,574.1 L1905.5,575.6 L1906.4,576.5 L1906.8,576.9 L1908.0,578.4 L1909.3,579.8 L1910.5,580.9 L1911.0,581.2 L1911.8,580.7 L1913.0,579.3 L1914.3,577.7 L1915.5,576.6 L1915.7,576.5 L1916.8,577.4 L1918.0,578.9 L1918.9,579.6 L1919.3,579.5 L1920.5,578.9 L1921.8,578.2 L1923.0,577.5 L1923.5,577.2 L1924.3,577.1 L1925.5,576.8 L1926.8,576.6 L1928.0,576.5 L1928.2,576.5 L1929.3,576.9 L1930.5,577.7 L1931.8,578.6 L1933.0,579.4 L1933.7,579.6 L1934.3,579.5 L1935.5,579.0 L1936.8,578.4 L1938.0,577.8 L1939.2,577.2 L1939.3,577.2 L1940.5,576.7 L1941.8,576.1 L1943.0,575.6 L1944.3,575.2 L1945.4,574.9 L1945.5,574.9 L1946.8,575.1 L1948.0,575.5 L1949.3,575.7 L1949.3,575.7 L1950.5,573.2 L1951.8,569.1 L1953.0,565.9 L1953.2,565.5 L1954.3,565.3 L1955.5,565.2 L1956.8,565.1 L1958.0,564.9 L1959.3,564.8 L1959.5,564.7 L1960.5,564.4 L1961.8,563.9 L1963.0,563.3 L1964.3,562.8 L1965.5,562.4 L1965.8,562.4 L1966.8,563.1 L1968.0,564.5 L1969.3,566.2 L1970.4,567.9 L1970.5,568.0 L1971.8,570.2 L1973.0,572.7 L1974.3,574.8 L1975.1,575.7 L1975.5,575.6 L1976.8,575.0 L1978.0,574.2 L1979.3,573.5 L1979.8,573.3 L1980.5,573.6 L1981.8,574.5 L1983.0,575.6 L1984.3,576.4 L1984.5,576.5 L1985.5,576.2 L1986.8,575.7 L1988.0,575.2 L1989.2,574.9 L1989.3,574.9 L1990.5,575.3 L1991.8,575.9 L1993.0,576.6 L1994.3,577.3 L1995.5,577.8 L1996.2,578.0 L1996.8,577.8 L1998.0,576.9 L1999.3,575.7 L2000.5,574.5 L2000.9,574.1 L2001.8,573.3 L2003.0,572.1 L2004.3,570.8 L2005.5,569.5 L2005.6,569.4" stroke="#f00" stroke-width="3.8"/>
<path d="M216.4,781.5 L217.9,780.9 L219.4,780.0 L220.9,778.8 L222.4,777.3 L223.9,775.7 L225.4,774.0 L226.9,772.2 L228.4,770.4 L229.9,768.8 L231.4,767.3 L232.9,766.0 L234.4,765.0 L235.9,764.4 L237.4,764.0 L238.9,763.8 L240.4,763.7 L241.9,763.5 L243.4,763.3 L244.9,762.9 L246.4,762.4 L247.9,762.0 L249.4,761.7 L250.9,761.5 L252.4,761.5 L253.9,761.7 L255.4,762.2 L256.9,763.0 L258.4,763.9 L259.9,764.7 L261.4,765.2 L262.9,765.4 L264.4,764.9 L265.9,763.8 L267.4,762.3 L268.9,760.5 L270.4,758.7 L271.9,757.2 L273.4,756.0 L274.9,755.2 L276.4,754.9 L277.9,755.2 L279.4,755.8 L280.9,756.6 L282.4,757.2 L283.9,757.3 L285.4,756.8 L286.9,755.4 L288.4,753.5 L289.9,750.9 L291.4,747.9 L292.9,744.6 L294.4,741.6 L295.9,739.3 L297.4,737.8 L298.9,737.0 L300.4,736.9 L301.9,737.3 L303.4,738.2 L304.9,739.7 L306.4,741.8 L307.9,744.5 L309.4,747.7 L310.9,750.8 L312.4,753.7 L313.9,756.0 L315.4,757.2 L316.9,756.9 L318.4,755.4 L319.9,753.2 L321.4,751.0 L322.9,749.0 L324.4,747.1 L325.9,745.4 L327.4,744.0 L328.9,742.9 L330.4,742.1 L331.9,741.5 L333.4,741.3 L334.9,741.4 L336.4,741.9 L337.9,742.8 L339.4,744.2 L340.9,746.0 L342.4,748.3 L343.9,750.5 L345.4,752.6 L346.9,754.1 L348.4,754.9 L349.9,754.6 L351.4,753.3 L352.9,751.2 L354.4,748.7 L355.9,746.0 L357.4,743.5 L358.9,741.3 L360.4,739.7 L361.9,738.7 L363.4,738.5 L364.9,739.0 L366.4,740.3 L367.9,742.2 L369.4,744.6 L370.9,747.4 L372.4,750.3 L373.9,753.3 L375.4,756.2 L376.9,759.0 L378.4,761.5 L379.9,763.7 L381.4,765.5 L382.9,767.0 L384.4,767.9 L385.9,768.2 L387.4,767.8 L388.9,766.8 L390.4,765.1 L391.9,762.8 L393.4,759.9 L394.9,756.8 L396.4,753.7 L397.9,750.8 L399.4,748.4 L400.9,746.3 L402.4,744.8 L403.9,743.6 L405.4,743.0 L406.9,742.8 L408.4,743.2 L409.9,744.2 L411.4,745.9 L412.9,748.5 L414.4,751.8 L415.9,755.5 L417.4,759.0 L418.9,761.9 L420.4,764.0 L421.9,765.5 L423.4,766.5 L424.9,767.3 L426.4,767.5 L427.9,766.9 L429.4,765.3 L430.9,763.1 L432.4,761.0 L433.9,759.5 L435.4,758.8 L436.9,758.6 L438.4,758.8 L439.9,759.2 L441.4,759.9 L442.9,761.0 L444.4,762.6 L445.9,764.6 L447.4,766.9 L448.9,769.4 L450.4,771.8 L451.9,774.0 L453.4,776.0 L454.9,777.8 L456.4,779.2 L457.9,780.2 L459.4,781.0 L460.9,781.5 L462.4,781.9 L463.9,782.2 L465.4,782.5 L466.9,782.7 L468.4,782.9 L469.9,783.0 L471.4,783.0 L472.9,783.0 L474.4,782.9 L475.9,782.8 L477.4,782.7 L478.9,782.6 L480.4,782.6 L481.9,782.7 L483.4,782.8 L484.9,783.0 L486.4,783.1 L487.9,783.1 L489.4,783.0 L490.9,782.8 L492.4,782.3 L493.9,781.7 L495.4,780.9 L496.9,780.0 L498.4,778.9 L499.9,777.6 L501.4,776.4 L502.9,775.4 L504.4,774.7 L505.9,774.4 L507.4,774.7 L508.9,775.6 L510.4,777.0 L511.9,778.8 L513.4,781.1 L514.9,783.3 L516.4,785.3 L517.9,786.8 L519.4,787.6 L520.9,787.9 L522.4,787.9 L523.9,787.6 L525.4,787.2 L526.9,786.7 L528.4,786.2 L529.9,785.7 L531.4,785.2 L532.9,784.8 L534.4,784.6 L535.9,784.5 L537.4,784.6 L538.9,784.7 L540.4,784.9 L541.9,785.0 L543.4,785.1 L544.9,785.0 L546.4,784.8 L547.9,784.5 L549.4,784.2 L550.9,784.0 L552.4,783.8 L553.9,783.8 L555.4,783.9 L556.9,784.1 L558.4,784.4 L559.9,784.5 L561.4,784.6 L562.9,784.6 L564.4,784.3 L565.9,784.0 L567.4,783.5 L568.9,783.1 L570.4,782.6 L571.9,782.3 L573.4,782.0 L574.9,781.9 L576.4,781.8 L577.9,781.8 L579.4,781.9 L580.9,782.0 L582.4,782.1 L583.9,782.2 L585.4,782.3 L586.9,782.4 L588.4,782.4 L589.9,782.4 L591.4,782.5 L592.9,782.5 L594.4,782.5 L595.9,782.5 L597.4,782.6 L598.9,782.7 L600.4,782.8 L601.9,782.9 L603.4,783.0 L604.9,783.1 L606.4,783.3 L607.9,783.4 L609.4,783.5 L610.9,783.6 L612.4,783.7 L613.9,783.8 L615.4,783.8 L616.9,783.9 L618.4,783.9 L619.9,783.9 L621.4,783.8 L622.9,783.8 L624.4,783.7 L625.9,783.6 L627.4,783.4 L628.9,783.2 L630.4,782.9 L631.9,782.6 L633.4,782.2 L634.9,781.7 L636.4,781.3 L637.9,780.8 L639.4,780.3 L640.9,779.8 L642.4,779.4 L643.9,779.0 L645.4,778.5 L646.9,778.1 L648.4,777.7 L649.9,777.3 L651.4,776.9 L652.9,776.4 L654.4,775.9 L655.9,775.5 L657.4,775.0 L658.9,774.6 L660.4,774.2 L661.9,773.8 L663.4,773.5 L664.9,773.2 L666.4,772.9 L667.9,772.6 L669.4,772.2 L670.9,771.7 L672.4,771.1 L673.9,770.3 L675.4,769.3 L676.9,768.0 L678.4,766.4 L679.9,764.3 L681.4,761.8 L682.9,758.8 L684.4,755.2 L685.9,751.5 L687.4,748.2 L688.9,745.6 L690.4,744.0 L691.9,743.5 L693.4,744.1 L694.9,745.7 L696.4,748.3 L697.9,751.6 L699.4,755.2 L700.9,758.9 L702.4,762.2 L703.9,765.2 L705.4,767.7 L706.9,769.7 L708.4,771.2 L709.9,772.4 L711.4,773.3 L712.9,774.0 L714.4,774.5 L715.9,775.0 L717.4,775.4 L718.9,775.8 L720.4,776.2 L721.9,776.5 L723.4,776.8 L724.9,777.0 L726.4,777.2 L727.9,777.4 L729.4,777.5 L730.9,777.6 L732.4,777.6 L733.9,777.5 L735.4,777.4 L736.9,777.2 L738.4,777.0 L739.9,776.7 L741.4,776.3 L742.9,775.8 L744.4,775.3 L745.9,774.7 L747.4,774.1 L748.9,773.4 L750.4,772.7 L751.9,772.0 L753.4,771.3 L754.9,770.5 L756.4,769.6 L757.9,768.6 L759.4,767.5 L760.9,766.1 L762.4,764.6 L763.9,762.8 L765.4,760.9 L766.9,758.6 L768.4,756.3 L769.9,754.0 L771.4,751.8 L772.9,749.9 L774.4,748.3 L775.9,747.2 L777.4,746.5 L778.9,746.3 L780.4,746.6 L781.9,747.3 L783.4,748.6 L784.9,750.2 L786.4,752.3 L787.9,754.6 L789.4,757.2 L790.9,759.7 L792.4,762.1 L793.9,764.1 L795.4,765.9 L796.9,767.3 L798.4,768.5 L799.9,769.7 L801.4,770.9 L802.9,772.1 L804.4,773.4 L805.9,774.6 L807.4,775.7 L808.9,776.7 L810.4,777.6 L811.9,778.3 L813.4,779.0 L814.9,779.6 L816.4,780.2 L817.9,780.8 L819.4,781.3 L820.9,781.8 L822.4,782.2 L823.9,782.4 L825.4,782.6 L826.9,782.6 L828.4,782.6 L829.9,782.5 L831.4,782.4 L832.9,782.3 L834.4,782.3 L835.9,782.3 L837.4,782.5 L838.9,782.7 L840.4,783.0 L841.9,783.2 L843.4,783.5 L844.9,783.7 L846.4,783.8 L847.9,783.9 L849.4,783.8 L850.9,783.6 L852.4,783.3 L853.9,782.9 L855.4,782.3 L856.9,781.7 L858.4,781.2 L859.9,780.6 L861.4,780.2 L862.9,779.8 L864.4,779.7 L865.9,779.6 L867.4,779.6 L868.9,779.6 L870.4,779.5 L871.9,779.4 L873.4,779.2 L874.9,778.9 L876.4,778.3 L877.9,777.6 L879.4,776.7 L880.9,775.8 L882.4,774.9 L883.9,773.9 L885.4,773.1 L886.9,772.4 L888.4,771.8 L889.9,771.4 L891.4,771.2 L892.9,771.3 L894.4,771.4 L895.9,771.8 L897.4,772.2 L898.9,772.7 L900.4,773.3 L901.9,773.8 L903.4,774.2 L904.9,774.5 L906.4,774.6 L907.9,774.4 L909.4,774.0 L910.9,773.1 L912.4,771.8 L913.9,770.0 L915.4,767.7 L916.9,765.1 L918.4,762.3 L919.9,759.6 L921.4,757.2 L922.9,755.3 L924.4,753.8 L925.9,752.9 L927.4,752.5 L928.9,752.9 L930.4,753.9 L931.9,755.5 L933.4,757.4 L934.9,759.4 L936.4,761.2 L937.9,762.6 L939.4,763.7 L940.9,764.2 L942.4,764.3 L943.9,764.0 L945.4,763.5 L946.9,762.8 L948.4,761.9 L949.9,761.0 L951.4,760.0 L952.9,759.1 L954.4,758.8 L955.9,759.3 L957.4,760.8 L958.9,762.7 L960.4,764.9 L961.9,767.2 L963.4,769.4 L964.9,771.2 L966.4,772.7 L967.9,773.8 L969.4,774.3 L970.9,774.4 L972.4,774.1 L973.9,773.4 L975.4,772.4 L976.9,771.1 L978.4,769.4 L979.9,767.6 L981.4,765.6 L982.9,763.5 L984.4,761.4 L985.9,759.4 L987.4,757.9 L988.9,757.0 L990.4,756.9 L991.9,757.6 L993.4,758.9 L994.9,760.8 L996.4,763.1 L997.9,765.5 L999.4,767.8 L1000.9,769.8 L1002.4,771.2 L1003.9,772.0 L1005.4,772.3 L1006.9,772.1 L1008.4,771.7 L1009.9,770.9 L1011.4,769.9 L1012.9,768.6 L1014.4,767.2 L1015.9,765.4 L1017.4,763.2 L1018.9,760.2 L1020.4,756.6 L1021.9,752.8 L1023.4,749.6 L1024.9,747.8 L1026.4,747.0 L1027.9,747.0 L1029.4,747.5 L1030.9,748.3 L1032.4,749.6 L1033.9,751.5 L1035.4,753.9 L1036.9,756.5 L1038.4,759.1 L1039.9,761.5 L1041.4,763.7 L1042.9,765.6 L1044.4,767.2 L1045.9,768.6 L1047.4,769.7 L1048.9,770.5 L1050.4,770.9 L1051.9,771.0 L1053.4,770.6 L1054.9,769.7 L1056.4,768.4 L1057.9,766.7 L1059.4,764.4 L1060.9,761.8 L1062.4,759.0 L1063.9,756.2 L1065.4,753.5 L1066.9,751.1 L1068.4,749.7 L1069.9,749.4 L1071.4,750.2 L1072.9,751.7 L1074.4,753.7 L1075.9,755.9 L1077.4,758.2 L1078.9,760.6 L1080.4,762.8 L1081.9,764.9 L1083.4,766.8 L1084.9,768.5 L1086.4,770.1 L1087.9,771.6 L1089.4,772.9 L1090.9,774.0 L1092.4,774.9 L1093.9,775.6 L1095.4,776.0 L1096.9,776.2 L1098.4,776.1 L1099.9,776.0 L1101.4,775.8 L1102.9,775.5 L1104.4,774.7 L1105.9,773.2 L1107.4,771.4 L1108.9,769.5 L1110.4,767.9 L1111.9,766.7 L1113.4,766.0 L1114.9,765.9 L1116.4,766.4 L1117.9,767.4 L1119.4,768.8 L1120.9,770.4 L1122.4,772.0 L1123.9,773.5 L1125.4,775.0 L1126.9,776.3 L1128.4,777.4 L1129.9,778.3 L1131.4,779.2 L1132.9,780.0 L1134.4,780.7 L1135.9,781.5 L1137.4,782.1 L1138.9,782.5 L1140.4,782.8 L1141.9,782.8 L1143.4,782.8 L1144.9,782.6 L1146.4,782.4 L1147.9,782.2 L1149.4,781.9 L1150.9,781.5 L1152.4,781.0 L1153.9,780.3 L1155.4,779.6 L1156.9,778.7 L1158.4,777.7 L1159.9,776.7 L1161.4,775.7 L1162.9,774.7 L1164.4,773.8 L1165.9,772.9 L1167.4,772.1 L1168.9,771.2 L1170.4,770.5 L1171.9,769.9 L1173.4,769.5 L1174.9,769.4 L1176.4,769.7 L1177.9,770.3 L1179.4,771.3 L1180.9,772.5 L1182.4,774.0 L1183.9,775.8 L1185.4,777.5 L1186.9,779.2 L1188.4,780.8 L1189.9,782.1 L1191.4,783.2 L1192.9,784.1 L1194.4,784.9 L1195.9,785.5 L1197.4,786.1 L1198.9,786.5 L1200.4,787.0 L1201.9,787.3 L1203.4,787.7 L1204.9,788.0 L1206.4,788.2 L1207.9,788.3 L1209.4,788.2 L1210.9,787.9 L1212.4,787.4 L1213.9,786.9 L1215.4,786.2 L1216.9,785.5 L1218.4,784.9 L1219.9,784.3 L1221.4,783.7 L1222.9,783.3 L1224.4,783.1 L1225.9,783.0 L1227.4,783.1 L1228.9,783.3 L1230.4,783.6 L1231.9,783.8 L1233.4,783.9 L1234.9,783.9 L1236.4,783.7 L1237.9,783.3 L1239.4,782.7 L1240.9,782.1 L1242.4,781.3 L1243.9,780.7 L1245.4,780.0 L1246.9,779.6 L1248.4,779.2 L1249.9,779.1 L1251.4,779.2 L1252.9,779.6 L1254.4,780.0 L1255.9,780.5 L1257.4,781.1 L1258.9,781.5 L1260.4,781.8 L1261.9,781.7 L1263.4,781.1 L1264.9,780.0 L1266.4,778.6 L1267.9,776.7 L1269.4,774.7 L1270.9,772.6 L1272.4,770.8 L1273.9,769.4 L1275.4,768.6 L1276.9,768.6 L1278.4,769.4 L1279.9,770.9 L1281.4,773.0 L1282.9,775.5 L1284.4,778.2 L1285.9,780.5 L1287.4,782.4 L1288.9,783.8 L1290.4,784.9 L1291.9,785.9 L1293.4,787.0 L1294.9,788.2 L1296.4,789.3 L1297.9,790.4 L1299.4,791.4 L1300.9,792.1 L1302.4,792.4 L1303.9,792.3 L1305.4,791.7 L1306.9,790.8 L1308.4,789.9 L1309.9,789.1 L1311.4,788.4 L1312.9,788.0 L1314.4,787.7 L1315.9,787.5 L1317.4,787.4 L1318.9,787.3 L1320.4,787.1 L1321.9,787.0 L1323.4,786.9 L1324.9,786.8 L1326.4,786.8 L1327.9,786.9 L1329.4,787.2 L1330.9,787.6 L1332.4,788.1 L1333.9,788.8 L1335.4,789.7 L1336.9,790.6 L1338.4,791.7 L1339.9,792.7 L1341.4,793.6 L1342.9,794.2 L1344.4,794.6 L1345.9,794.8 L1347.4,794.8 L1348.9,794.7 L1350.4,794.6 L1351.9,794.5 L1353.4,794.4 L1354.9,794.2 L1356.4,794.1 L1357.9,794.0 L1359.4,793.9 L1360.9,793.8 L1362.4,793.7 L1363.9,793.6 L1365.4,793.5 L1366.9,793.3 L1368.4,793.0 L1369.9,792.6 L1371.4,792.2 L1372.9,791.7 L1374.4,791.2 L1375.9,790.7 L1377.4,790.3 L1378.9,789.9 L1380.4,789.6 L1381.9,789.4 L1383.4,789.1 L1384.9,788.7 L1386.4,788.2 L1387.9,787.6 L1389.4,786.8 L1390.9,785.9 L1392.4,785.1 L1393.9,784.4 L1395.4,783.9 L1396.9,783.8 L1398.4,784.1 L1399.9,784.6 L1401.4,785.0 L1402.9,785.2 L1404.4,785.3 L1405.9,785.4 L1407.4,785.4 L1408.9,785.3 L1410.4,785.3 L1411.9,785.2 L1413.4,785.2 L1414.9,785.3 L1416.4,785.5 L1417.9,785.7 L1419.4,786.1 L1420.9,786.5 L1422.4,787.0 L1423.9,787.5 L1425.4,788.0 L1426.9,788.5 L1428.4,789.1 L1429.9,789.6 L1431.4,790.1 L1432.9,790.6 L1434.4,791.0 L1435.9,791.4 L1437.4,791.7 L1438.9,792.0 L1440.4,792.3 L1441.9,792.5 L1443.4,792.7 L1444.9,792.8 L1446.4,792.9 L1447.9,792.9 L1449.4,792.9 L1450.9,792.8 L1452.4,792.7 L1453.9,792.6 L1455.4,792.5 L1456.9,792.3 L1458.4,792.1 L1459.9,791.9 L1461.4,791.8 L1462.9,791.6 L1464.4,791.4 L1465.9,791.3 L1467.4,791.1 L1468.9,791.0 L1470.4,790.9 L1471.9,790.8 L1473.4,790.6 L1474.9,790.6 L1476.4,790.5 L1477.9,790.4 L1479.4,790.3 L1480.9,790.3 L1482.4,790.3 L1483.9,790.2 L1485.4,790.2 L1486.9,790.3 L1488.4,790.3 L1489.9,790.4 L1491.4,790.6 L1492.9,790.7 L1494.4,790.9 L1495.9,791.2 L1497.4,791.5 L1498.9,791.8 L1500.4,792.1 L1501.9,792.4 L1503.4,792.7 L1504.9,792.9 L1506.4,793.2 L1507.9,793.4 L1509.4,793.5 L1510.9,793.6 L1512.4,793.6 L1513.9,793.6 L1515.4,793.6 L1516.9,793.5 L1518.4,793.3 L1519.9,793.2 L1521.4,793.0 L1522.9,792.8 L1524.4,792.5 L1525.9,792.3 L1527.4,792.0 L1528.9,791.8 L1530.4,791.5 L1531.9,791.3 L1533.4,791.0 L1534.9,790.8 L1536.4,790.6 L1537.9,790.4 L1539.4,790.2 L1540.9,790.1 L1542.4,789.9 L1543.9,789.8 L1545.4,789.7 L1546.9,789.7 L1548.4,789.7 L1549.9,789.6 L1551.4,789.6 L1552.9,789.7 L1554.4,789.7 L1555.9,789.7 L1557.4,789.8 L1558.9,789.8 L1560.4,789.9 L1561.9,790.0 L1563.4,790.0 L1564.9,790.1 L1566.4,790.2 L1567.9,790.2 L1569.4,790.3 L1570.9,790.4 L1572.4,790.4 L1573.9,790.4 L1575.4,790.5 L1576.9,790.5 L1578.4,790.5 L1579.9,790.5 L1581.4,790.5 L1582.9,790.5 L1584.4,790.5 L1585.9,790.5 L1587.4,790.5 L1588.9,790.6 L1590.4,790.6 L1591.9,790.6 L1593.4,790.6 L1594.9,790.6 L1596.4,790.6 L1597.9,790.7 L1599.4,790.7 L1600.9,790.8 L1602.4,790.8 L1603.9,790.9 L1605.4,791.0 L1606.9,791.1 L1608.4,791.2 L1609.9,791.3 L1611.4,791.4 L1612.9,791.5 L1614.4,791.6 L1615.9,791.7 L1617.4,791.7 L1618.9,791.8 L1620.4,791.9 L1621.9,791.9 L1623.4,791.9 L1624.9,791.9 L1626.4,791.9 L1627.9,791.9 L1629.4,791.8 L1630.9,791.7 L1632.4,791.6 L1633.9,791.4 L1635.4,791.2 L1636.9,790.9 L1638.4,790.7 L1639.9,790.4 L1641.4,790.1 L1642.9,789.8 L1644.4,789.5 L1645.9,789.2 L1647.4,788.9 L1648.9,788.7 L1650.4,788.5 L1651.9,788.3 L1653.4,788.2 L1654.9,788.1 L1656.4,788.1 L1657.9,788.2 L1659.4,788.4 L1660.9,788.6 L1662.4,788.9 L1663.9,789.2 L1665.4,789.6 L1666.9,789.9 L1668.4,790.3 L1669.9,790.7 L1671.4,791.0 L1672.9,791.2 L1674.4,791.4 L1675.9,791.6 L1677.4,791.6 L1678.9,791.7 L1680.4,791.6 L1681.9,791.6 L1683.4,791.5 L1684.9,791.5 L1686.4,791.4 L1687.9,791.4 L1689.4,791.3 L1690.9,791.3 L1692.4,791.2 L1693.9,791.0 L1695.4,790.5 L1696.9,789.8 L1698.4,788.8 L1699.9,787.8 L1701.4,787.1 L1702.9,786.7 L1704.4,786.6 L1705.9,786.5 L1707.4,786.4 L1708.9,786.3 L1710.4,785.9 L1711.9,785.3 L1713.4,784.6 L1714.9,783.9 L1716.4,783.4 L1717.9,783.1 L1719.4,783.1 L1720.9,783.4 L1722.4,784.1 L1723.9,784.9 L1725.4,785.9 L1726.9,786.9 L1728.4,787.9 L1729.9,788.8 L1731.4,789.6 L1732.9,790.3 L1734.4,790.9 L1735.9,791.3 L1737.4,791.6 L1738.9,791.8 L1740.4,791.8 L1741.9,791.7 L1743.4,791.5 L1744.9,791.3 L1746.4,791.0 L1747.9,790.7 L1749.4,790.5 L1750.9,790.3 L1752.4,790.1 L1753.9,790.0 L1755.4,789.9 L1756.9,789.8 L1758.4,789.8 L1759.9,789.8 L1761.4,789.9 L1762.9,789.9 L1764.4,790.0 L1765.9,790.1 L1767.4,790.2 L1768.9,790.3 L1770.4,790.4 L1771.9,790.5 L1773.4,790.6 L1774.9,790.7 L1776.4,790.7 L1777.9,790.8 L1779.4,790.8 L1780.9,790.8 L1782.4,790.8 L1783.9,790.8 L1785.4,790.7 L1786.9,790.6 L1788.4,790.4 L1789.9,790.2 L1791.4,789.9 L1792.9,789.6 L1794.4,789.3 L1795.9,789.0 L1797.4,788.6 L1798.9,788.3 L1800.4,788.0 L1801.9,787.8 L1803.4,787.6 L1804.9,787.5 L1806.4,787.4 L1807.9,787.5 L1809.4,787.7 L1810.9,788.0 L1812.4,788.5 L1813.9,789.0 L1815.4,789.5 L1816.9,790.0 L1818.4,790.5 L1819.9,790.9 L1821.4,791.2 L1822.9,791.3 L1824.4,791.3 L1825.9,791.1 L1827.4,790.8 L1828.9,790.4 L1830.4,789.9 L1831.9,789.4 L1833.4,788.8 L1834.9,788.4 L1836.4,788.0 L1837.9,787.7 L1839.4,787.5 L1840.9,787.4 L1842.4,787.4 L1843.9,787.5 L1845.4,787.5 L1846.9,787.5 L1848.4,787.5 L1849.9,787.4 L1851.4,787.2 L1852.9,786.8 L1854.4,786.3 L1855.9,785.6 L1857.4,784.7 L1858.9,783.7 L1860.4,782.6 L1861.9,781.5 L1863.4,780.4 L1864.9,779.4 L1866.4,778.5 L1867.9,777.8 L1869.4,777.3 L1870.9,777.3 L1872.4,777.6 L1873.9,778.2 L1875.4,779.0 L1876.9,780.1 L1878.4,781.3 L1879.9,782.6 L1881.4,783.8 L1882.9,785.0 L1884.4,786.0 L1885.9,786.9 L1887.4,787.5 L1888.9,787.8 L1890.4,788.0 L1891.9,788.1 L1893.4,788.0 L1894.9,787.9 L1896.4,787.8 L1897.9,787.7 L1899.4,787.7 L1900.9,787.7 L1902.4,787.8 L1903.9,788.0 L1905.4,788.1 L1906.9,788.4 L1908.4,788.7 L1909.9,789.0 L1911.4,789.4 L1912.9,789.8 L1914.4,790.2 L1915.9,790.6 L1917.4,790.9 L1918.9,791.2 L1920.4,791.3 L1921.9,791.3 L1923.4,791.2 L1924.9,790.9 L1926.4,790.5 L1927.9,790.0 L1929.4,789.5 L1930.9,788.9 L1932.4,788.4 L1933.9,787.9 L1935.4,787.5 L1936.9,787.1 L1938.4,786.8 L1939.9,786.4 L1941.4,785.8 L1942.9,785.2 L1944.4,784.2 L1945.9,783.1 L1947.4,781.8 L1948.9,780.3 L1950.4,778.8 L1951.9,777.3 L1953.4,775.8 L1954.9,774.5 L1956.4,773.3 L1957.9,772.3 L1959.4,771.4 L1960.9,770.9 L1962.4,770.6 L1963.9,770.5 L1965.4,770.8 L1966.9,771.3 L1968.4,772.1 L1969.9,773.1 L1971.4,774.2 L1972.9,775.6 L1974.4,777.0 L1975.9,778.5 L1977.4,779.9 L1978.9,781.3 L1980.4,782.4 L1981.9,783.3 L1983.4,783.9 L1984.9,784.3 L1986.4,784.5 L1987.9,784.6 L1989.4,784.6 L1990.9,784.6 L1992.4,784.5 L1993.9,784.4 L1995.4,784.2 L1996.9,783.9 L1998.4,783.6 L1999.9,783.1 L2001.4,782.5 L2002.9,781.7 L2004.4,780.8" stroke="#4169e1" stroke-width="5.4"/>
<path d="M216.4,759.5 L218.2,761.2 L220.0,761.8 L221.8,762.3 L223.6,759.0 L225.4,756.9 L227.2,758.0 L229.0,758.4 L230.8,757.0 L232.6,755.9 L234.4,756.7 L236.2,757.3 L238.0,757.6 L239.8,760.1 L241.6,763.0 L243.4,762.6 L245.2,761.7 L247.0,759.7 L248.8,758.6 L250.6,757.3 L252.4,757.7 L254.2,757.4 L256.0,756.8 L257.8,755.8 L259.6,755.7 L261.4,753.7 L263.2,753.4 L265.0,755.6 L266.8,758.7 L268.6,756.6 L270.4,753.6 L272.2,753.0 L274.0,754.4 L275.8,756.0 L277.6,757.0 L279.4,757.7 L281.2,756.9 L283.0,756.1 L284.8,754.8 L286.6,752.5 L288.4,750.7 L290.2,750.1 L292.0,750.7 L293.8,752.5 L295.6,753.1 L297.4,753.6 L299.2,753.4 L301.0,753.2 L302.8,753.0 L304.6,754.4 L306.4,754.9 L308.2,755.0 L310.0,758.0 L311.8,761.1 L313.6,760.6 L315.4,759.7 L317.2,759.3 L319.0,759.0 L320.8,757.3 L322.6,754.9 L324.4,753.6 L326.2,754.1 L328.0,753.7 L329.8,753.7 L331.6,753.8 L333.4,755.1 L335.2,756.4 L337.0,754.9 L338.8,752.2 L340.6,750.5 L342.4,750.1 L344.2,750.4 L346.0,750.8 L347.8,752.2 L349.6,752.3 L351.4,751.6 L353.2,750.7 L355.0,750.2 L356.8,751.6 L358.6,753.0 L360.4,753.7 L362.2,754.3 L364.0,753.8 L365.8,752.9 L367.6,751.5 L369.4,751.1 L371.2,750.8 L373.0,752.3 L374.8,753.5 L376.6,754.3 L378.4,754.5 L380.2,754.1 L382.0,754.5 L383.8,754.4 L385.6,754.6 L387.4,751.6 L389.2,749.3 L391.0,747.8 L392.8,746.9 L394.6,746.3 L396.4,746.8 L398.2,747.9 L400.0,749.6 L401.8,750.2 L403.6,749.5 L405.4,748.8 L407.2,749.8 L409.0,750.3 L410.8,750.6 L412.6,751.4 L414.4,752.5 L416.2,752.6 L418.0,752.2 L419.8,752.3 L421.6,752.5 L423.4,753.2 L425.2,753.7 L427.0,753.8 L428.8,753.0 L430.6,752.9 L432.4,752.2 L434.2,751.8 L436.0,748.7 L437.8,746.0 L439.6,747.9 L441.4,750.3 L443.2,753.4 L445.0,755.5 L446.8,755.5 L448.6,753.9 L450.4,753.8 L452.2,753.1 L454.0,752.0 L455.8,751.3 L457.6,752.3 L459.4,753.0 L461.2,752.0 L463.0,751.2 L464.8,750.9 L466.6,751.6 L468.4,751.9 L470.2,752.3 L472.0,751.7 L473.8,751.7 L475.6,751.4 L477.4,752.5 L479.2,753.2 L481.0,754.1 L482.8,753.6 L484.6,753.2 L486.4,752.4 L488.2,751.9 L490.0,752.0 L491.8,751.9 L493.6,751.1 L495.4,749.5 L497.2,748.2 L499.0,749.1 L500.8,750.6 L502.6,751.2 L504.4,752.7 L506.2,755.6 L508.0,754.4 L509.8,752.5 L511.6,750.8 L513.4,750.0 L515.2,749.7 L517.0,748.9 L518.8,749.2 L520.6,748.2 L522.4,747.9 L524.2,747.4 L526.0,747.8 L527.8,747.8 L529.6,748.0 L531.4,749.3 L533.2,750.3 L535.0,751.0 L536.8,751.4 L538.6,752.9 L540.4,753.9 L542.2,753.1 L544.0,751.8 L545.8,750.6 L547.6,749.7 L549.4,749.9 L551.2,750.7 L553.0,751.4 L554.8,751.1 L556.6,750.9 L558.4,751.9 L560.2,753.1 L562.0,752.8 L563.8,751.5 L565.6,750.1 L567.4,749.1 L569.2,748.5 L571.0,749.0 L572.8,749.9 L574.6,748.1 L576.4,747.2 L578.2,748.2 L580.0,750.3 L581.8,751.5 L583.6,751.5 L585.4,749.9 L587.2,747.2 L589.0,746.3 L590.8,746.4 L592.6,746.9 L594.4,748.3 L596.2,749.3 L598.0,748.5 L599.8,748.4 L601.6,749.9 L603.4,750.4 L605.2,750.0 L607.0,749.5 L608.8,749.0 L610.6,749.0 L612.4,749.4 L614.2,748.8 L616.0,748.5 L617.8,748.9 L619.6,749.9 L621.4,750.0 L623.2,750.1 L625.0,750.2 L626.8,751.7 L628.6,753.6 L630.4,755.6 L632.2,757.8 L634.0,757.2 L635.8,756.8 L637.6,754.7 L639.4,754.7 L641.2,754.3 L643.0,754.1 L644.8,751.1 L646.6,748.9 L648.4,749.0 L650.2,749.6 L652.0,749.8 L653.8,750.2 L655.6,751.7 L657.4,752.8 L659.2,752.5 L661.0,751.7 L662.8,747.3 L664.6,743.0 L666.4,741.6 L668.2,744.6 L670.0,747.4 L671.8,746.9 L673.6,745.6 L675.4,746.2 L677.2,747.6 L679.0,748.8 L680.8,749.1 L682.6,748.3 L684.4,747.6 L686.2,750.6 L688.0,754.9 L689.8,754.9 L691.6,752.3 L693.4,749.7 L695.2,748.1 L697.0,745.1 L698.8,743.8 L700.6,744.9 L702.4,746.4 L704.2,748.8 L706.0,751.9 L707.8,753.7 L709.6,751.4 L711.4,749.6 L713.2,747.0 L715.0,744.7 L716.8,743.4 L718.6,745.2 L720.4,747.4 L722.2,749.9 L724.0,752.4 L725.8,755.6 L727.6,755.3 L729.4,754.3 L731.2,753.4 L733.0,752.2 L734.8,750.7 L736.6,748.0 L738.4,747.8 L740.2,748.0 L742.0,749.5 L743.8,750.8 L745.6,752.2 L747.4,753.9 L749.2,755.6 L751.0,754.8 L752.8,752.9 L754.6,752.1 L756.4,752.1 L758.2,751.2 L760.0,749.4 L761.8,749.0 L763.6,750.7 L765.4,752.5 L767.2,753.8 L769.0,753.9 L770.8,754.2 L772.6,753.7 L774.4,752.9 L776.2,751.9 L778.0,752.7 L779.8,753.4 L781.6,754.3 L783.4,753.2 L785.2,752.5 L787.0,751.8 L788.8,752.0 L790.6,751.2 L792.4,750.7 L794.2,750.3 L796.0,749.8 L797.8,748.0 L799.6,749.8 L801.4,753.5 L803.2,756.6 L805.0,754.6 L806.8,752.2 L808.6,750.1 L810.4,750.9 L812.2,750.9 L814.0,750.7 L815.8,748.6 L817.6,746.5 L819.4,747.6 L821.2,747.4 L823.0,747.2 L824.8,747.8 L826.6,750.5 L828.4,752.1 L830.2,752.7 L832.0,752.4 L833.8,751.2 L835.6,749.2 L837.4,748.9 L839.2,751.0 L841.0,754.2 L842.8,755.4 L844.6,752.6 L846.4,750.4 L848.2,749.5 L850.0,749.0 L851.8,748.4 L853.6,747.5 L855.4,747.7 L857.2,749.3 L859.0,751.1 L860.8,752.1 L862.6,751.6 L864.4,752.0 L866.2,753.0 L868.0,753.1 L869.8,751.7 L871.6,750.6 L873.4,748.9 L875.2,747.6 L877.0,746.8 L878.8,748.6 L880.6,751.0 L882.4,751.4 L884.2,752.4 L886.0,752.4 L887.8,753.5 L889.6,754.5 L891.4,753.7 L893.2,751.1 L895.0,748.4 L896.8,749.0 L898.6,750.3 L900.4,750.9 L902.2,751.0 L904.0,750.9 L905.8,752.0 L907.6,753.0 L909.4,754.5 L911.2,754.2 L913.0,754.1 L914.8,752.8 L916.6,750.3 L918.4,747.5 L920.2,748.9 L922.0,750.9 L923.8,754.9 L925.6,761.2 L927.4,764.5 L929.2,765.0 L931.0,764.7 L932.8,760.4 L934.6,756.6 L936.4,756.4 L938.2,760.0 L940.0,763.6 L941.8,764.7 L943.6,759.0 L945.4,752.7 L947.2,753.2 L949.0,756.8 L950.8,756.2 L952.6,753.6 L954.4,751.8 L956.2,751.0 L958.0,752.3 L959.8,753.7 L961.6,754.5 L963.4,758.0 L965.2,760.8 L967.0,758.9 L968.8,754.1 L970.6,752.5 L972.4,750.8 L974.2,750.1 L976.0,747.8 L977.8,745.4 L979.6,749.6 L981.4,754.1 L983.2,756.1 L985.0,751.5 L986.8,747.6 L988.6,746.3 L990.4,745.4 L992.2,744.1 L994.0,743.0 L995.8,743.0 L997.6,743.2 L999.4,743.8 L1001.2,746.4 L1003.0,748.3 L1004.8,749.3 L1006.6,748.0 L1008.4,747.4 L1010.2,746.8 L1012.0,745.4 L1013.8,744.6 L1015.6,745.7 L1017.4,750.2 L1019.2,754.1 L1021.0,755.7 L1022.8,757.2 L1024.6,757.4 L1026.4,754.7 L1028.2,751.4 L1030.0,748.1 L1031.8,744.9 L1033.6,744.8 L1035.4,747.3 L1037.2,748.5 L1039.0,745.7 L1040.8,741.8 L1042.6,740.6 L1044.4,740.8 L1046.2,740.7 L1048.0,741.4 L1049.8,745.7 L1051.6,749.1 L1053.4,746.8 L1055.2,742.8 L1057.0,740.0 L1058.8,739.5 L1060.6,739.5 L1062.4,739.3 L1064.2,739.3 L1066.0,740.1 L1067.8,741.0 L1069.6,741.0 L1071.4,741.1 L1073.2,740.8 L1075.0,743.0 L1076.8,744.9 L1078.6,747.2 L1080.4,749.1 L1082.2,752.0 L1084.0,749.7 L1085.8,747.4 L1087.6,744.4 L1089.4,742.8 L1091.2,741.0 L1093.0,741.4 L1094.8,743.4 L1096.6,745.5 L1098.4,745.7 L1100.2,744.4 L1102.0,743.7 L1103.8,743.3 L1105.6,741.1 L1107.4,739.0 L1109.2,738.0 L1111.0,740.6 L1112.8,741.2 L1114.6,742.1 L1116.4,741.5 L1118.2,741.9 L1120.0,745.3 L1121.8,750.0 L1123.6,748.9 L1125.4,742.2 L1127.2,739.4 L1129.0,739.0 L1130.8,739.6 L1132.6,741.4 L1134.4,742.4 L1136.2,742.1 L1138.0,741.5 L1139.8,742.2 L1141.6,744.9 L1143.4,747.5 L1145.2,748.7 L1147.0,748.5 L1148.8,746.4 L1150.6,744.1 L1152.4,744.7 L1154.2,748.3 L1156.0,750.0 L1157.8,748.7 L1159.6,747.2 L1161.4,745.2 L1163.2,742.2 L1165.0,740.9 L1166.8,739.3 L1168.6,738.9 L1170.4,739.7 L1172.2,740.9 L1174.0,741.0 L1175.8,740.2 L1177.6,741.7 L1179.4,744.4 L1181.2,745.2 L1183.0,745.4 L1184.8,744.1 L1186.6,739.6 L1188.4,737.9 L1190.2,738.5 L1192.0,739.6 L1193.8,743.6 L1195.6,746.5 L1197.4,745.4 L1199.2,744.4 L1201.0,746.3 L1202.8,747.4 L1204.6,746.5 L1206.4,745.3 L1208.2,745.7 L1210.0,745.6 L1211.8,745.3 L1213.6,743.5 L1215.4,742.4 L1217.2,743.4 L1219.0,745.2 L1220.8,746.1 L1222.6,746.8 L1224.4,747.1 L1226.2,746.2 L1228.0,745.9 L1229.8,745.1 L1231.6,743.4 L1233.4,742.6 L1235.2,743.1 L1237.0,744.4 L1238.8,744.3 L1240.6,742.8 L1242.4,742.7 L1244.2,743.2 L1246.0,742.7 L1247.8,742.6 L1249.6,743.2 L1251.4,744.3 L1253.2,743.6 L1255.0,743.9 L1256.8,744.9 L1258.6,747.3 L1260.4,746.8 L1262.2,745.5 L1264.0,743.8 L1265.8,742.3 L1267.6,740.6 L1269.4,741.2 L1271.2,742.9 L1273.0,745.2 L1274.8,745.0 L1276.6,744.4 L1278.4,743.2 L1280.2,742.4 L1282.0,742.1 L1283.8,742.5 L1285.6,742.7 L1287.4,742.9 L1289.2,742.7 L1291.0,741.6 L1292.8,740.2 L1294.6,738.6 L1296.4,739.4 L1298.2,741.0 L1300.0,742.6 L1301.8,741.7 L1303.6,741.4 L1305.4,741.3 L1307.2,741.9 L1309.0,741.1 L1310.8,741.2 L1312.6,742.5 L1314.4,744.2 L1316.2,743.8 L1318.0,742.5 L1319.8,742.0 L1321.6,740.4 L1323.4,740.1 L1325.2,741.7 L1327.0,745.0 L1328.8,747.7 L1330.6,750.0 L1332.4,749.2 L1334.2,747.2 L1336.0,745.9 L1337.8,744.6 L1339.6,743.3 L1341.4,744.1 L1343.2,747.3 L1345.0,747.4 L1346.8,743.9 L1348.6,740.9 L1350.4,741.7 L1352.2,741.9 L1354.0,742.8 L1355.8,744.6 L1357.6,746.8 L1359.4,744.9 L1361.2,744.6 L1363.0,744.8 L1364.8,744.5 L1366.6,743.5 L1368.4,742.8 L1370.2,742.7 L1372.0,741.6 L1373.8,741.5 L1375.6,742.8 L1377.4,744.1 L1379.2,743.7 L1381.0,744.1 L1382.8,743.8 L1384.6,744.1 L1386.4,743.2 L1388.2,742.2 L1390.0,741.3 L1391.8,741.2 L1393.6,741.5 L1395.4,743.5 L1397.2,745.1 L1399.0,745.2 L1400.8,744.2 L1402.6,744.1 L1404.4,743.6 L1406.2,743.0 L1408.0,743.0 L1409.8,744.0 L1411.6,744.5 L1413.4,743.2 L1415.2,740.5 L1417.0,740.5 L1418.8,741.3 L1420.6,741.2 L1422.4,741.1 L1424.2,741.6 L1426.0,740.8 L1427.8,738.8 L1429.6,736.9 L1431.4,736.9 L1433.2,738.4 L1435.0,739.5 L1436.8,740.1 L1438.6,741.6 L1440.4,741.9 L1442.2,742.2 L1444.0,742.1 L1445.8,743.4 L1447.6,744.2 L1449.4,744.6 L1451.2,743.1 L1453.0,741.0 L1454.8,738.8 L1456.6,738.2 L1458.4,738.3 L1460.2,737.3 L1462.0,737.0 L1463.8,737.8 L1465.6,741.1 L1467.4,742.0 L1469.2,741.3 L1471.0,739.7 L1472.8,739.8 L1474.6,739.7 L1476.4,738.7 L1478.2,738.1 L1480.0,738.5 L1481.8,738.8 L1483.6,738.3 L1485.4,739.6 L1487.2,741.3 L1489.0,742.6 L1490.8,741.1 L1492.6,737.5 L1494.4,736.9 L1496.2,739.0 L1498.0,742.1 L1499.8,741.0 L1501.6,738.8 L1503.4,736.0 L1505.2,736.0 L1507.0,736.5 L1508.8,737.4 L1510.6,737.3 L1512.4,738.0 L1514.2,737.7 L1516.0,739.4 L1517.8,742.8 L1519.6,746.4 L1521.4,745.1 L1523.2,743.3 L1525.0,739.9 L1526.8,737.2 L1528.6,735.9 L1530.4,735.6 L1532.2,735.3 L1534.0,734.3 L1535.8,733.6 L1537.6,733.4 L1539.4,735.3 L1541.2,736.4 L1543.0,737.7 L1544.8,738.1 L1546.6,738.5 L1548.4,738.9 L1550.2,737.7 L1552.0,736.7 L1553.8,737.2 L1555.6,738.8 L1557.4,739.5 L1559.2,738.9 L1561.0,737.5 L1562.8,737.3 L1564.6,737.4 L1566.4,737.6 L1568.2,737.0 L1570.0,737.3 L1571.8,736.5 L1573.6,735.7 L1575.4,734.4 L1577.2,735.1 L1579.0,737.4 L1580.8,739.4 L1582.6,740.0 L1584.4,740.0 L1586.2,741.4 L1588.0,741.8 L1589.8,741.8 L1591.6,742.7 L1593.4,744.3 L1595.2,743.4 L1597.0,742.5 L1598.8,741.2 L1600.6,740.1 L1602.4,739.0 L1604.2,739.7 L1606.0,738.8 L1607.8,739.0 L1609.6,739.1 L1611.4,741.3 L1613.2,742.9 L1615.0,744.4 L1616.8,744.1 L1618.6,749.4 L1620.4,754.7 L1622.2,758.1 L1624.0,759.4 L1625.8,758.4 L1627.6,753.1 L1629.4,746.6 L1631.2,744.4 L1633.0,742.8 L1634.8,741.9 L1636.6,742.7 L1638.4,743.6 L1640.2,743.3 L1642.0,742.8 L1643.8,742.4 L1645.6,742.6 L1647.4,742.2 L1649.2,742.2 L1651.0,742.1 L1652.8,741.0 L1654.6,740.8 L1656.4,741.4 L1658.2,742.3 L1660.0,741.9 L1661.8,742.1 L1663.6,742.0 L1665.4,742.3 L1667.2,742.1 L1669.0,741.8 L1670.8,741.1 L1672.6,739.9 L1674.4,739.0 L1676.2,739.2 L1678.0,740.5 L1679.8,740.4 L1681.6,741.3 L1683.4,741.6 L1685.2,741.2 L1687.0,739.2 L1688.8,738.7 L1690.6,739.2 L1692.4,739.4 L1694.2,739.2 L1696.0,738.8 L1697.8,739.0 L1699.6,739.1 L1701.4,739.8 L1703.2,740.6 L1705.0,743.0 L1706.8,743.1 L1708.6,742.1 L1710.4,740.7 L1712.2,741.8 L1714.0,740.0 L1715.8,738.4 L1717.6,737.6 L1719.4,737.3 L1721.2,736.5 L1723.0,736.6 L1724.8,736.8 L1726.6,736.9 L1728.4,737.7 L1730.2,739.4 L1732.0,740.6 L1733.8,740.3 L1735.6,739.6 L1737.4,739.8 L1739.2,740.7 L1741.0,740.5 L1742.8,739.6 L1744.6,739.5 L1746.4,739.5 L1748.2,738.5 L1750.0,736.8 L1751.8,736.9 L1753.6,737.3 L1755.4,737.8 L1757.2,736.8 L1759.0,736.7 L1760.8,736.2 L1762.6,736.3 L1764.4,737.4 L1766.2,738.4 L1768.0,737.5 L1769.8,735.6 L1771.6,735.0 L1773.4,736.3 L1775.2,736.7 L1777.0,735.8 L1778.8,735.4 L1780.6,736.5 L1782.4,738.1 L1784.2,739.3 L1786.0,740.1 L1787.8,740.8 L1789.6,739.3 L1791.4,737.5 L1793.2,736.6 L1795.0,737.5 L1796.8,737.2 L1798.6,736.4 L1800.4,737.2 L1802.2,737.8 L1804.0,738.2 L1805.8,738.5 L1807.6,739.3 L1809.4,738.7 L1811.2,738.0 L1813.0,737.2 L1814.8,737.2 L1816.6,736.8 L1818.4,736.1 L1820.2,737.0 L1822.0,739.1 L1823.8,740.6 L1825.6,740.6 L1827.4,739.5 L1829.2,738.5 L1831.0,737.3 L1832.8,736.1 L1834.6,736.5 L1836.4,737.5 L1838.2,739.8 L1840.0,740.9 L1841.8,741.5 L1843.6,742.6 L1845.4,741.4 L1847.2,740.6 L1849.0,738.9 L1850.8,737.7 L1852.6,736.0 L1854.4,737.6 L1856.2,741.0 L1858.0,744.1 L1859.8,742.1 L1861.6,739.7 L1863.4,738.2 L1865.2,737.2 L1867.0,736.3 L1868.8,735.8 L1870.6,736.6 L1872.4,738.3 L1874.2,739.8 L1876.0,739.8 L1877.8,740.4 L1879.6,744.6 L1881.4,748.6 L1883.2,747.8 L1885.0,746.9 L1886.8,745.4 L1888.6,744.4 L1890.4,742.7 L1892.2,742.1 L1894.0,741.6 L1895.8,741.8 L1897.6,741.2 L1899.4,740.0 L1901.2,740.4 L1903.0,741.7 L1904.8,743.1 L1906.6,744.0 L1908.4,745.4 L1910.2,746.7 L1912.0,746.0 L1913.8,744.4 L1915.6,743.1 L1917.4,741.5 L1919.2,741.2 L1921.0,741.2 L1922.8,740.8 L1924.6,740.1 L1926.4,741.6 L1928.2,743.5 L1930.0,745.2 L1931.8,746.5 L1933.6,748.0 L1935.4,748.8 L1937.2,747.9 L1939.0,747.3 L1940.8,746.1 L1942.6,747.4 L1944.4,748.8 L1946.2,748.7 L1948.0,747.4 L1949.8,745.9 L1951.6,746.2 L1953.4,745.7 L1955.2,744.9 L1957.0,745.5 L1958.8,746.5 L1960.6,747.4 L1962.4,746.5 L1964.2,744.0 L1966.0,743.4 L1967.8,743.7 L1969.6,745.9 L1971.4,746.7 L1973.2,747.5 L1975.0,747.6 L1976.8,745.7 L1978.6,743.7 L1980.4,741.9 L1982.2,742.2 L1984.0,743.2 L1985.8,744.5 L1987.6,744.2 L1989.4,744.0 L1991.2,744.0 L1993.0,744.7 L1994.8,745.4 L1996.6,746.9 L1998.4,745.3 L2000.2,743.2 L2002.0,741.3 L2003.8,740.3 L2005.6,739.2" stroke="#ff8c00" stroke-width="5.6"/>
<path d="M217.2,486.3 L236.0,488.8 L254.9,491.2 L273.7,493.5 L292.5,495.9 L311.4,498.2 L330.2,500.5 L349.0,502.8 L367.9,505.1 L386.7,507.3 L405.6,509.5 L424.4,511.7 L443.2,513.9 L462.1,516.1 L480.9,518.2 L499.7,520.3 L518.6,522.3 L537.4,524.4 L556.2,526.4 L575.1,528.4 L593.9,530.4 L612.7,532.4 L631.6,534.4 L650.4,536.3 L669.2,538.2 L688.1,540.1 L706.9,541.9 L725.7,543.8 L744.6,545.6 L763.4,547.4 L782.3,549.2 L801.1,550.9 L819.9,552.7 L838.8,554.4 L857.6,556.1 L876.4,557.8 L895.3,559.5 L914.1,561.1 L932.9,562.8 L951.8,564.4 L970.6,566.0 L989.4,567.5 L1008.3,569.1 L1027.1,570.6 L1045.9,572.2 L1064.8,573.7 L1083.6,575.2 L1102.5,576.6 L1121.3,578.1 L1140.1,579.5 L1159.0,581.0 L1177.8,582.4 L1196.6,583.8 L1215.5,585.1 L1234.3,586.5 L1253.1,587.9 L1272.0,589.2 L1290.8,590.5 L1309.6,591.8 L1328.5,593.1 L1347.3,594.4 L1366.1,595.6 L1385.0,596.9 L1403.8,598.1 L1422.7,599.3 L1441.5,600.5 L1460.3,601.7 L1479.2,602.9 L1498.0,604.1 L1516.8,605.2 L1535.7,606.4 L1554.5,607.5 L1573.3,608.6 L1592.2,609.7 L1611.0,610.8 L1629.8,611.9 L1648.7,612.9 L1667.5,614.0 L1686.3,615.0 L1705.2,616.1 L1724.0,617.1 L1742.8,618.1 L1761.7,619.1 L1780.5,620.1 L1799.4,621.1 L1818.2,622.1 L1837.0,623.0 L1855.9,624.0 L1874.7,624.9 L1893.5,625.9 L1912.4,626.8 L1931.2,627.7 L1950.0,628.6 L1968.9,629.5 L1987.7,630.4 L2005.6,631.3" stroke="#00bfbf" stroke-width="5.6"/>
<path d="M585.4,791.0 L586.4,790.9 L587.3,790.9 L588.3,790.8 L589.2,790.6 L590.1,790.4 L591.1,790.2 L592.0,789.9 L593.0,789.6 L593.9,789.1 L594.8,788.6 L595.8,787.9 L596.7,787.1 L597.7,786.1 L598.6,784.9 L599.6,783.5 L600.5,781.8 L601.4,779.8 L602.4,777.4 L603.3,774.6 L604.3,771.4 L605.2,767.7 L606.1,763.4 L607.1,758.6 L608.0,753.1 L609.0,747.0 L609.9,740.2 L610.9,732.6 L611.8,724.3 L612.7,715.3 L613.7,705.6 L614.6,695.1 L615.6,684.0 L616.5,672.2 L617.4,659.9 L618.4,647.2 L619.3,634.2 L620.3,620.9 L621.2,607.5 L622.2,594.2 L623.1,581.2 L624.0,568.6 L625.0,556.5 L625.9,545.2 L626.9,534.8 L627.8,525.4 L628.7,517.3 L629.7,510.6 L630.6,505.3 L631.6,501.5 L632.5,499.4 L633.5,498.9 L634.4,500.0 L635.3,502.9 L636.3,507.3 L637.2,513.2 L638.2,520.5 L639.1,529.1 L640.0,538.9 L641.0,549.7 L641.9,561.4 L642.9,573.7 L643.8,586.5 L644.8,599.7 L645.7,613.0 L646.6,626.4 L647.6,639.6 L648.5,652.5 L649.5,665.1 L650.4,677.1 L651.4,688.6 L652.3,699.5 L653.2,709.7 L654.2,719.1 L655.1,727.8 L656.1,735.8 L657.0,743.1 L657.9,749.6 L658.9,755.5 L659.8,760.7 L660.8,765.3 L661.7,769.3 L662.7,772.8 L663.6,775.8 L664.5,778.4 L665.5,780.7 L666.4,782.5 L667.4,784.1 L668.3,785.5 L669.2,786.6 L670.2,787.5 L671.1,788.2 L672.1,788.8 L673.0,789.3 L674.0,789.7 L674.9,790.1 L675.8,790.3 L676.8,790.5 L677.7,790.7 L678.7,790.8 L679.6,790.9 L680.5,791.0 L681.5,791.0" stroke="#008000" stroke-width="3.5" stroke-dasharray="10.0 5.4"/>
<path d="M535.5,791.0 L536.5,791.0 L537.4,790.9 L538.3,790.9 L539.3,790.9 L540.2,790.8 L541.2,790.8 L542.1,790.8 L543.0,790.7 L544.0,790.7 L544.9,790.6 L545.9,790.5 L546.8,790.5 L547.8,790.4 L548.7,790.3 L549.6,790.2 L550.6,790.1 L551.5,790.0 L552.5,789.9 L553.4,789.8 L554.3,789.6 L555.3,789.5 L556.2,789.3 L557.2,789.2 L558.1,789.0 L559.1,788.8 L560.0,788.6 L560.9,788.4 L561.9,788.1 L562.8,787.9 L563.8,787.6 L564.7,787.3 L565.7,787.0 L566.6,786.6 L567.5,786.3 L568.5,785.9 L569.4,785.5 L570.4,785.1 L571.3,784.6 L572.2,784.2 L573.2,783.7 L574.1,783.1 L575.1,782.6 L576.0,782.0 L577.0,781.4 L577.9,780.8 L578.8,780.1 L579.8,779.4 L580.7,778.7 L581.7,777.9 L582.6,777.1 L583.5,776.3 L584.5,775.4 L585.4,774.5 L586.4,773.6 L587.3,772.7 L588.3,771.7 L589.2,770.7 L590.1,769.6 L591.1,768.6 L592.0,767.5 L593.0,766.3 L593.9,765.2 L594.8,764.0 L595.8,762.8 L596.7,761.6 L597.7,760.4 L598.6,759.1 L599.6,757.9 L600.5,756.6 L601.4,755.3 L602.4,754.0 L603.3,752.7 L604.3,751.4 L605.2,750.1 L606.1,748.8 L607.1,747.5 L608.0,746.2 L609.0,744.9 L609.9,743.7 L610.9,742.4 L611.8,741.2 L612.7,740.0 L613.7,738.8 L614.6,737.6 L615.6,736.5 L616.5,735.5 L617.4,734.4 L618.4,733.4 L619.3,732.5 L620.3,731.6 L621.2,730.7 L622.2,729.9 L623.1,729.2 L624.0,728.5 L625.0,727.9 L625.9,727.3 L626.9,726.8 L627.8,726.4 L628.7,726.0 L629.7,725.7 L630.6,725.5 L631.6,725.3 L632.5,725.2 L633.5,725.2 L634.4,725.3 L635.3,725.4 L636.3,725.6 L637.2,725.8 L638.2,726.2 L639.1,726.5 L640.0,727.0 L641.0,727.5 L641.9,728.1 L642.9,728.8 L643.8,729.5 L644.8,730.2 L645.7,731.1 L646.6,731.9 L647.6,732.9 L648.5,733.8 L649.5,734.8 L650.4,735.9 L651.4,737.0 L652.3,738.1 L653.2,739.3 L654.2,740.5 L655.1,741.7 L656.1,742.9 L657.0,744.2 L657.9,745.4 L658.9,746.7 L659.8,748.0 L660.8,749.3 L661.7,750.6 L662.7,751.9 L663.6,753.2 L664.5,754.5 L665.5,755.8 L666.4,757.1 L667.4,758.4 L668.3,759.7 L669.2,760.9 L670.2,762.1 L671.1,763.3 L672.1,764.5 L673.0,765.7 L674.0,766.8 L674.9,767.9 L675.8,769.0 L676.8,770.1 L677.7,771.1 L678.7,772.1 L679.6,773.1 L680.5,774.0 L681.5,774.9 L682.4,775.8 L683.4,776.6 L684.3,777.4 L685.3,778.2 L686.2,779.0 L687.1,779.7 L688.1,780.4 L689.0,781.0 L690.0,781.6 L690.9,782.2 L691.8,782.8 L692.8,783.4 L693.7,783.9 L694.7,784.4 L695.6,784.8 L696.6,785.3 L697.5,785.7 L698.4,786.1 L699.4,786.4 L700.3,786.8 L701.3,787.1 L702.2,787.4 L703.1,787.7 L704.1,788.0 L705.0,788.2 L706.0,788.5 L706.9,788.7 L707.9,788.9 L708.8,789.1 L709.7,789.2 L710.7,789.4 L711.6,789.6 L712.6,789.7 L713.5,789.8 L714.4,789.9 L715.4,790.1 L716.3,790.2 L717.3,790.3 L718.2,790.3 L719.2,790.4 L720.1,790.5 L721.0,790.6 L722.0,790.6 L722.9,790.7 L723.9,790.7 L724.8,790.8 L725.7,790.8 L726.7,790.9 L727.6,790.9 L728.6,790.9 L729.5,790.9 L730.5,791.0 L731.4,791.0" stroke="#008000" stroke-width="3.5" stroke-dasharray="10.0 5.4"/>
<path d="M1565.8,791.0 L1566.7,791.0 L1567.7,790.9 L1568.6,790.9 L1569.6,790.8 L1570.5,790.7 L1571.4,790.6 L1572.4,790.5 L1573.3,790.3 L1574.3,790.2 L1575.2,790.0 L1576.2,789.7 L1577.1,789.5 L1578.0,789.2 L1579.0,788.8 L1579.9,788.4 L1580.9,788.0 L1581.8,787.5 L1582.8,786.9 L1583.7,786.3 L1584.6,785.6 L1585.6,784.8 L1586.5,784.0 L1587.5,783.1 L1588.4,782.1 L1589.3,781.1 L1590.3,780.0 L1591.2,778.8 L1592.2,777.5 L1593.1,776.2 L1594.1,774.8 L1595.0,773.3 L1595.9,771.8 L1596.9,770.3 L1597.8,768.8 L1598.8,767.2 L1599.7,765.7 L1600.6,764.1 L1601.6,762.6 L1602.5,761.1 L1603.5,759.7 L1604.4,758.4 L1605.4,757.1 L1606.3,756.0 L1607.2,755.0 L1608.2,754.1 L1609.1,753.3 L1610.1,752.7 L1611.0,752.2 L1611.9,751.9 L1612.9,751.8 L1613.8,751.9 L1614.8,752.1 L1615.7,752.4 L1616.7,753.0 L1617.6,753.7 L1618.5,754.5 L1619.5,755.5 L1620.4,756.6 L1621.4,757.8 L1622.3,759.1 L1623.2,760.4 L1624.2,761.9 L1625.1,763.4 L1626.1,764.9 L1627.0,766.4 L1628.0,768.0 L1628.9,769.6 L1629.8,771.1 L1630.8,772.6 L1631.7,774.1 L1632.7,775.5 L1633.6,776.8 L1634.5,778.1 L1635.5,779.4 L1636.4,780.5 L1637.4,781.6 L1638.3,782.6 L1639.3,783.6 L1640.2,784.4 L1641.1,785.2 L1642.1,786.0 L1643.0,786.6 L1644.0,787.2 L1644.9,787.7 L1645.8,788.2 L1646.8,788.6 L1647.7,789.0 L1648.7,789.3 L1649.6,789.6 L1650.6,789.8 L1651.5,790.1 L1652.4,790.2 L1653.4,790.4 L1654.3,790.5 L1655.3,790.7 L1656.2,790.7 L1657.1,790.8 L1658.1,790.9 L1659.0,791.0 L1660.0,791.0" stroke="#ff1493" stroke-width="3.5" stroke-dasharray="10.0 5.4"/>
<path d="M1337.9,791.0 L1338.8,791.0 L1339.8,791.0 L1340.7,791.0 L1341.7,791.0 L1342.6,791.0 L1343.5,790.9 L1344.5,790.9 L1345.4,790.9 L1346.4,790.9 L1347.3,790.9 L1348.3,790.9 L1349.2,790.9 L1350.1,790.9 L1351.1,790.9 L1352.0,790.8 L1353.0,790.8 L1353.9,790.8 L1354.8,790.8 L1355.8,790.8 L1356.7,790.8 L1357.7,790.8 L1358.6,790.8 L1359.6,790.7 L1360.5,790.7 L1361.4,790.7 L1362.4,790.7 L1363.3,790.7 L1364.3,790.7 L1365.2,790.6 L1366.1,790.6 L1367.1,790.6 L1368.0,790.6 L1369.0,790.6 L1369.9,790.5 L1370.9,790.5 L1371.8,790.5 L1372.7,790.5 L1373.7,790.4 L1374.6,790.4 L1375.6,790.4 L1376.5,790.4 L1377.4,790.4 L1378.4,790.3 L1379.3,790.3 L1380.3,790.3 L1381.2,790.2 L1382.2,790.2 L1383.1,790.2 L1384.0,790.1 L1385.0,790.1 L1385.9,790.1 L1386.9,790.1 L1387.8,790.0 L1388.7,790.0 L1389.7,789.9 L1390.6,789.9 L1391.6,789.9 L1392.5,789.8 L1393.5,789.8 L1394.4,789.8 L1395.3,789.7 L1396.3,789.7 L1397.2,789.6 L1398.2,789.6 L1399.1,789.5 L1400.0,789.5 L1401.0,789.4 L1401.9,789.4 L1402.9,789.3 L1403.8,789.3 L1404.8,789.2 L1405.7,789.2 L1406.6,789.1 L1407.6,789.1 L1408.5,789.0 L1409.5,788.9 L1410.4,788.9 L1411.4,788.8 L1412.3,788.8 L1413.2,788.7 L1414.2,788.6 L1415.1,788.6 L1416.1,788.5 L1417.0,788.4 L1417.9,788.4 L1418.9,788.3 L1419.8,788.2 L1420.8,788.1 L1421.7,788.1 L1422.7,788.0 L1423.6,787.9 L1424.5,787.8 L1425.5,787.7 L1426.4,787.6 L1427.4,787.6 L1428.3,787.5 L1429.2,787.4 L1430.2,787.3 L1431.1,787.2 L1432.1,787.1 L1433.0,787.0 L1434.0,786.9 L1434.9,786.8 L1435.8,786.7 L1436.8,786.6 L1437.7,786.5 L1438.7,786.4 L1439.6,786.3 L1440.5,786.2 L1441.5,786.0 L1442.4,785.9 L1443.4,785.8 L1444.3,785.7 L1445.3,785.6 L1446.2,785.4 L1447.1,785.3 L1448.1,785.2 L1449.0,785.1 L1450.0,784.9 L1450.9,784.8 L1451.8,784.7 L1452.8,784.5 L1453.7,784.4 L1454.7,784.3 L1455.6,784.1 L1456.6,784.0 L1457.5,783.8 L1458.4,783.7 L1459.4,783.5 L1460.3,783.4 L1461.3,783.2 L1462.2,783.1 L1463.1,782.9 L1464.1,782.7 L1465.0,782.6 L1466.0,782.4 L1466.9,782.2 L1467.9,782.1 L1468.8,781.9 L1469.7,781.7 L1470.7,781.5 L1471.6,781.4 L1472.6,781.2 L1473.5,781.0 L1474.4,780.8 L1475.4,780.6 L1476.3,780.5 L1477.3,780.3 L1478.2,780.1 L1479.2,779.9 L1480.1,779.7 L1481.0,779.5 L1482.0,779.3 L1482.9,779.1 L1483.9,778.9 L1484.8,778.7 L1485.7,778.5 L1486.7,778.3 L1487.6,778.1 L1488.6,777.8 L1489.5,777.6 L1490.5,777.4 L1491.4,777.2 L1492.3,777.0 L1493.3,776.8 L1494.2,776.5 L1495.2,776.3 L1496.1,776.1 L1497.1,775.9 L1498.0,775.7 L1498.9,775.4 L1499.9,775.2 L1500.8,775.0 L1501.8,774.7 L1502.7,774.5 L1503.6,774.3 L1504.6,774.0 L1505.5,773.8 L1506.5,773.6 L1507.4,773.3 L1508.4,773.1 L1509.3,772.8 L1510.2,772.6 L1511.2,772.4 L1512.1,772.1 L1513.1,771.9 L1514.0,771.6 L1514.9,771.4 L1515.9,771.1 L1516.8,770.9 L1517.8,770.7 L1518.7,770.4 L1519.7,770.2 L1520.6,769.9 L1521.5,769.7 L1522.5,769.4 L1523.4,769.2 L1524.4,768.9 L1525.3,768.7 L1526.2,768.4 L1527.2,768.2 L1528.1,768.0 L1529.1,767.7 L1530.0,767.5 L1531.0,767.2 L1531.9,767.0 L1532.8,766.7 L1533.8,766.5 L1534.7,766.3 L1535.7,766.0 L1536.6,765.8 L1537.5,765.5 L1538.5,765.3 L1539.4,765.1 L1540.4,764.8 L1541.3,764.6 L1542.3,764.4 L1543.2,764.1 L1544.1,763.9 L1545.1,763.7 L1546.0,763.4 L1547.0,763.2 L1547.9,763.0 L1548.8,762.8 L1549.8,762.6 L1550.7,762.3 L1551.7,762.1 L1552.6,761.9 L1553.6,761.7 L1554.5,761.5 L1555.4,761.3 L1556.4,761.1 L1557.3,760.9 L1558.3,760.7 L1559.2,760.5 L1560.1,760.3 L1561.1,760.1 L1562.0,759.9 L1563.0,759.7 L1563.9,759.5 L1564.9,759.4 L1565.8,759.2 L1566.7,759.0 L1567.7,758.8 L1568.6,758.7 L1569.6,758.5 L1570.5,758.4 L1571.4,758.2 L1572.4,758.0 L1573.3,757.9 L1574.3,757.7 L1575.2,757.6 L1576.2,757.5 L1577.1,757.3 L1578.0,757.2 L1579.0,757.1 L1579.9,756.9 L1580.9,756.8 L1581.8,756.7 L1582.8,756.6 L1583.7,756.5 L1584.6,756.4 L1585.6,756.3 L1586.5,756.2 L1587.5,756.1 L1588.4,756.0 L1589.3,755.9 L1590.3,755.8 L1591.2,755.8 L1592.2,755.7 L1593.1,755.6 L1594.1,755.6 L1595.0,755.5 L1595.9,755.5 L1596.9,755.4 L1597.8,755.4 L1598.8,755.3 L1599.7,755.3 L1600.6,755.3 L1601.6,755.2 L1602.5,755.2 L1603.5,755.2 L1604.4,755.2 L1605.4,755.2 L1606.3,755.2 L1607.2,755.2 L1608.2,755.2 L1609.1,755.2 L1610.1,755.2 L1611.0,755.2 L1611.9,755.3 L1612.9,755.3 L1613.8,755.3 L1614.8,755.4 L1615.7,755.4 L1616.7,755.5 L1617.6,755.5 L1618.5,755.6 L1619.5,755.6 L1620.4,755.7 L1621.4,755.8 L1622.3,755.8 L1623.2,755.9 L1624.2,756.0 L1625.1,756.1 L1626.1,756.2 L1627.0,756.3 L1628.0,756.4 L1628.9,756.5 L1629.8,756.6 L1630.8,756.7 L1631.7,756.8 L1632.7,756.9 L1633.6,757.0 L1634.5,757.2 L1635.5,757.3 L1636.4,757.4 L1637.4,757.6 L1638.3,757.7 L1639.3,757.9 L1640.2,758.0 L1641.1,758.2 L1642.1,758.3 L1643.0,758.5 L1644.0,758.6 L1644.9,758.8 L1645.8,759.0 L1646.8,759.2 L1647.7,759.3 L1648.7,759.5 L1649.6,759.7 L1650.6,759.9 L1651.5,760.1 L1652.4,760.3 L1653.4,760.4 L1654.3,760.6 L1655.3,760.8 L1656.2,761.0 L1657.1,761.2 L1658.1,761.5 L1659.0,761.7 L1660.0,761.9 L1660.9,762.1 L1661.9,762.3 L1662.8,762.5 L1663.7,762.7 L1664.7,763.0 L1665.6,763.2 L1666.6,763.4 L1667.5,763.6 L1668.5,763.9 L1669.4,764.1 L1670.3,764.3 L1671.3,764.5 L1672.2,764.8 L1673.2,765.0 L1674.1,765.3 L1675.0,765.5 L1676.0,765.7 L1676.9,766.0 L1677.9,766.2 L1678.8,766.4 L1679.8,766.7 L1680.7,766.9 L1681.6,767.2 L1682.6,767.4 L1683.5,767.7 L1684.5,767.9 L1685.4,768.2 L1686.3,768.4 L1687.3,768.6 L1688.2,768.9 L1689.2,769.1 L1690.1,769.4 L1691.1,769.6 L1692.0,769.9 L1692.9,770.1 L1693.9,770.4 L1694.8,770.6 L1695.8,770.9 L1696.7,771.1 L1697.6,771.3 L1698.6,771.6 L1699.5,771.8 L1700.5,772.1 L1701.4,772.3 L1702.4,772.6 L1703.3,772.8 L1704.2,773.0 L1705.2,773.3 L1706.1,773.5 L1707.1,773.8 L1708.0,774.0 L1708.9,774.2 L1709.9,774.5 L1710.8,774.7 L1711.8,774.9 L1712.7,775.1 L1713.7,775.4 L1714.6,775.6 L1715.5,775.8 L1716.5,776.1 L1717.4,776.3 L1718.4,776.5 L1719.3,776.7 L1720.2,776.9 L1721.2,777.2 L1722.1,777.4 L1723.1,777.6 L1724.0,777.8 L1725.0,778.0 L1725.9,778.2 L1726.8,778.4 L1727.8,778.6 L1728.7,778.8 L1729.7,779.0 L1730.6,779.2 L1731.5,779.4 L1732.5,779.6 L1733.4,779.8 L1734.4,780.0 L1735.3,780.2 L1736.3,780.4 L1737.2,780.6 L1738.1,780.8 L1739.1,781.0 L1740.0,781.2 L1741.0,781.3 L1741.9,781.5 L1742.8,781.7 L1743.8,781.9 L1744.7,782.0 L1745.7,782.2 L1746.6,782.4 L1747.6,782.5 L1748.5,782.7 L1749.4,782.9 L1750.4,783.0 L1751.3,783.2 L1752.3,783.3 L1753.2,783.5 L1754.2,783.6 L1755.1,783.8 L1756.0,783.9 L1757.0,784.1 L1757.9,784.2 L1758.9,784.4 L1759.8,784.5 L1760.7,784.6 L1761.7,784.8 L1762.6,784.9 L1763.6,785.0 L1764.5,785.2 L1765.5,785.3 L1766.4,785.4 L1767.3,785.5 L1768.3,785.7 L1769.2,785.8 L1770.2,785.9 L1771.1,786.0 L1772.0,786.1 L1773.0,786.2 L1773.9,786.4 L1774.9,786.5 L1775.8,786.6 L1776.8,786.7 L1777.7,786.8 L1778.6,786.9 L1779.6,787.0 L1780.5,787.1 L1781.5,787.2 L1782.4,787.3 L1783.3,787.4 L1784.3,787.5 L1785.2,787.5 L1786.2,787.6 L1787.1,787.7 L1788.1,787.8 L1789.0,787.9 L1789.9,788.0 L1790.9,788.0 L1791.8,788.1 L1792.8,788.2 L1793.7,788.3 L1794.6,788.3 L1795.6,788.4 L1796.5,788.5 L1797.5,788.6 L1798.4,788.6 L1799.4,788.7 L1800.3,788.8 L1801.2,788.8 L1802.2,788.9 L1803.1,788.9 L1804.1,789.0 L1805.0,789.1 L1805.9,789.1 L1806.9,789.2 L1807.8,789.2 L1808.8,789.3 L1809.7,789.3 L1810.7,789.4 L1811.6,789.4 L1812.5,789.5 L1813.5,789.5 L1814.4,789.6 L1815.4,789.6 L1816.3,789.7 L1817.2,789.7 L1818.2,789.7 L1819.1,789.8 L1820.1,789.8 L1821.0,789.9 L1822.0,789.9 L1822.9,789.9 L1823.8,790.0 L1824.8,790.0 L1825.7,790.0 L1826.7,790.1 L1827.6,790.1 L1828.5,790.1 L1829.5,790.2 L1830.4,790.2 L1831.4,790.2 L1832.3,790.3 L1833.3,790.3 L1834.2,790.3 L1835.1,790.3 L1836.1,790.4 L1837.0,790.4 L1838.0,790.4 L1838.9,790.4 L1839.9,790.5 L1840.8,790.5 L1841.7,790.5 L1842.7,790.5 L1843.6,790.6 L1844.6,790.6 L1845.5,790.6 L1846.4,790.6 L1847.4,790.6 L1848.3,790.7 L1849.3,790.7 L1850.2,790.7 L1851.2,790.7 L1852.1,790.7 L1853.0,790.7 L1854.0,790.7 L1854.9,790.8 L1855.9,790.8 L1856.8,790.8 L1857.7,790.8 L1858.7,790.8 L1859.6,790.8 L1860.6,790.8 L1861.5,790.9 L1862.5,790.9 L1863.4,790.9 L1864.3,790.9 L1865.3,790.9 L1866.2,790.9 L1867.2,790.9 L1868.1,790.9 L1869.0,790.9 L1870.0,790.9 L1870.9,791.0 L1871.9,791.0 L1872.8,791.0 L1873.8,791.0 L1874.7,791.0" stroke="#ff1493" stroke-width="3.5" stroke-dasharray="10.0 5.4"/>
<path d="M370.7,791.0 L371.6,791.0 L372.6,790.9 L373.5,790.9 L374.5,790.8 L375.4,790.7 L376.4,790.7 L377.3,790.6 L378.2,790.4 L379.2,790.3 L380.1,790.2 L381.1,790.0 L382.0,789.8 L382.9,789.6 L383.9,789.4 L384.8,789.1 L385.8,788.8 L386.7,788.4 L387.7,788.1 L388.6,787.6 L389.5,787.2 L390.5,786.7 L391.4,786.1 L392.4,785.5 L393.3,784.9 L394.3,784.2 L395.2,783.4 L396.1,782.7 L397.1,781.8 L398.0,780.9 L399.0,779.9 L399.9,779.0 L400.8,777.9 L401.8,776.8 L402.7,775.7 L403.7,774.6 L404.6,773.4 L405.6,772.2 L406.5,771.0 L407.4,769.8 L408.4,768.6 L409.3,767.3 L410.3,766.2 L411.2,765.0 L412.1,763.9 L413.1,762.8 L414.0,761.8 L415.0,760.9 L415.9,760.0 L416.9,759.2 L417.8,758.5 L418.7,757.9 L419.7,757.4 L420.6,757.0 L421.6,756.7 L422.5,756.5 L423.4,756.4 L424.4,756.5 L425.3,756.6 L426.3,756.9 L427.2,757.3 L428.2,757.8 L429.1,758.4 L430.0,759.1 L431.0,759.9 L431.9,760.7 L432.9,761.7 L433.8,762.7 L434.7,763.8 L435.7,764.9 L436.6,766.0 L437.6,767.2 L438.5,768.4 L439.5,769.6 L440.4,770.8 L441.3,772.0 L442.3,773.2 L443.2,774.4 L444.2,775.6 L445.1,776.7 L446.0,777.8 L447.0,778.8 L447.9,779.8 L448.9,780.8 L449.8,781.7 L450.8,782.5 L451.7,783.3 L452.6,784.1 L453.6,784.8 L454.5,785.5 L455.5,786.1 L456.4,786.6 L457.3,787.1 L458.3,787.6 L459.2,788.0 L460.2,788.4 L461.1,788.7 L462.1,789.0 L463.0,789.3 L463.9,789.6 L464.9,789.8 L465.8,790.0 L466.8,790.2 L467.7,790.3 L468.6,790.4 L469.6,790.5 L470.5,790.6 L471.5,790.7 L472.4,790.8 L473.4,790.9 L474.3,790.9 L475.2,791.0 L476.2,791.0" stroke="#0000cd" stroke-width="3.5" stroke-dasharray="10.0 5.4"/>
<path d="M429.1,791.0 L430.0,790.9 L431.0,790.8 L431.9,790.7 L432.9,790.6 L433.8,790.4 L434.7,790.1 L435.7,789.8 L436.6,789.5 L437.6,789.0 L438.5,788.5 L439.5,787.8 L440.4,787.0 L441.3,786.1 L442.3,785.1 L443.2,783.9 L444.2,782.5 L445.1,781.0 L446.0,779.2 L447.0,777.3 L447.9,775.2 L448.9,772.9 L449.8,770.5 L450.8,768.0 L451.7,765.3 L452.6,762.5 L453.6,759.7 L454.5,756.9 L455.5,754.2 L456.4,751.5 L457.3,749.0 L458.3,746.7 L459.2,744.6 L460.2,742.8 L461.1,741.3 L462.1,740.2 L463.0,739.5 L463.9,739.2 L464.9,739.3 L465.8,739.9 L466.8,740.8 L467.7,742.0 L468.6,743.7 L469.6,745.6 L470.5,747.8 L471.5,750.3 L472.4,752.8 L473.4,755.6 L474.3,758.3 L475.2,761.2 L476.2,763.9 L477.1,766.7 L478.1,769.3 L479.0,771.8 L480.0,774.1 L480.9,776.3 L481.8,778.3 L482.8,780.1 L483.7,781.8 L484.7,783.2 L485.6,784.5 L486.5,785.7 L487.5,786.6 L488.4,787.5 L489.4,788.2 L490.3,788.8 L491.3,789.2 L492.2,789.6 L493.1,790.0 L494.1,790.2 L495.0,790.5 L496.0,790.6 L496.9,790.8 L497.8,790.9 L498.8,791.0 L499.7,791.0" stroke="#0000cd" stroke-width="3.5" stroke-dasharray="10.0 5.4"/>
<path d="M904.7,791.0 L905.6,791.0 L906.6,790.8 L907.5,790.7 L908.5,790.5 L909.4,790.2 L910.3,789.9 L911.3,789.4 L912.2,788.9 L913.2,788.3 L914.1,787.5 L915.0,786.7 L916.0,785.8 L916.9,784.8 L917.9,783.8 L918.8,782.9 L919.8,781.9 L920.7,781.1 L921.6,780.4 L922.6,779.9 L923.5,779.6 L924.5,779.5 L925.4,779.6 L926.3,780.0 L927.3,780.6 L928.2,781.3 L929.2,782.1 L930.1,783.1 L931.1,784.1 L932.0,785.1 L932.9,786.0 L933.9,786.9 L934.8,787.7 L935.8,788.4 L936.7,789.0 L937.6,789.5 L938.6,790.0 L939.5,790.3 L940.5,790.5 L941.4,790.7 L942.4,790.9 L943.3,791.0 L944.2,791.1" stroke="#a52a2a" stroke-width="3.6"/>
<path d="M915.0,791.0 L916.0,790.9 L916.9,790.7 L917.9,790.6 L918.8,790.3 L919.8,790.0 L920.7,789.5 L921.6,789.0 L922.6,788.4 L923.5,787.6 L924.5,786.8 L925.4,785.8 L926.3,784.7 L927.3,783.6 L928.2,782.5 L929.2,781.4 L930.1,780.4 L931.1,779.5 L932.0,778.7 L932.9,778.2 L933.9,777.9 L934.8,777.9 L935.8,778.1 L936.7,778.6 L937.6,779.3 L938.6,780.2 L939.5,781.2 L940.5,782.3 L941.4,783.4 L942.4,784.5 L943.3,785.6 L944.2,786.6 L945.2,787.5 L946.1,788.3 L947.1,788.9 L948.0,789.5 L948.9,789.9 L949.9,790.2 L950.8,790.5 L951.8,790.7 L952.7,790.9 L953.7,791.0 L954.6,791.1" stroke="#a52a2a" stroke-width="3.6"/>
<path d="M1013.0,791.0 L1013.9,791.0 L1014.9,790.9 L1015.8,790.8 L1016.8,790.6 L1017.7,790.5 L1018.6,790.2 L1019.6,790.0 L1020.5,789.7 L1021.5,789.3 L1022.4,788.9 L1023.3,788.4 L1024.3,787.9 L1025.2,787.4 L1026.2,786.8 L1027.1,786.2 L1028.1,785.7 L1029.0,785.1 L1029.9,784.6 L1030.9,784.2 L1031.8,783.8 L1032.8,783.6 L1033.7,783.4 L1034.6,783.4 L1035.6,783.5 L1036.5,783.7 L1037.5,784.0 L1038.4,784.4 L1039.4,784.9 L1040.3,785.4 L1041.2,785.9 L1042.2,786.5 L1043.1,787.1 L1044.1,787.6 L1045.0,788.2 L1045.9,788.7 L1046.9,789.1 L1047.8,789.5 L1048.8,789.8 L1049.7,790.1 L1050.7,790.4 L1051.6,790.6 L1052.5,790.7 L1053.5,790.8 L1054.4,790.9 L1055.4,791.0" stroke="#a52a2a" stroke-width="3.6"/>
<path d="M1046.9,791.0 L1047.8,790.9 L1048.8,790.8 L1049.7,790.6 L1050.7,790.4 L1051.6,790.0 L1052.5,789.5 L1053.5,788.9 L1054.4,788.2 L1055.4,787.3 L1056.3,786.2 L1057.2,785.0 L1058.2,783.7 L1059.1,782.3 L1060.1,780.9 L1061.0,779.5 L1062.0,778.2 L1062.9,777.1 L1063.8,776.3 L1064.8,775.8 L1065.7,775.6 L1066.7,775.8 L1067.6,776.3 L1068.5,777.1 L1069.5,778.1 L1070.4,779.4 L1071.4,780.8 L1072.3,782.2 L1073.3,783.6 L1074.2,784.9 L1075.1,786.2 L1076.1,787.2 L1077.0,788.1 L1078.0,788.9 L1078.9,789.5 L1079.9,790.0 L1080.8,790.3 L1081.7,790.6 L1082.7,790.8 L1083.6,790.9 L1084.6,791.0" stroke="#a52a2a" stroke-width="3.6"/>
<path d="M1438.7,791.1 L1439.6,791.0 L1440.5,790.9 L1441.5,790.7 L1442.4,790.6 L1443.4,790.3 L1444.3,790.0 L1445.3,789.6 L1446.2,789.1 L1447.1,788.5 L1448.1,787.8 L1449.0,787.0 L1450.0,786.1 L1450.9,785.1 L1451.8,784.2 L1452.8,783.2 L1453.7,782.2 L1454.7,781.4 L1455.6,780.6 L1456.6,780.0 L1457.5,779.7 L1458.4,779.5 L1459.4,779.6 L1460.3,779.9 L1461.3,780.4 L1462.2,781.0 L1463.1,781.8 L1464.1,782.8 L1465.0,783.7 L1466.0,784.7 L1466.9,785.7 L1467.9,786.6 L1468.8,787.5 L1469.7,788.2 L1470.7,788.8 L1471.6,789.4 L1472.6,789.8 L1473.5,790.2 L1474.4,790.5 L1475.4,790.7 L1476.3,790.8 L1477.3,790.9 L1478.2,791.0" stroke="#a52a2a" stroke-width="3.6"/>
<path d="M1792.8,791.0 L1793.7,790.9 L1794.6,790.7 L1795.6,790.5 L1796.5,790.2 L1797.5,789.9 L1798.4,789.4 L1799.4,788.8 L1800.3,788.1 L1801.2,787.2 L1802.2,786.3 L1803.1,785.2 L1804.1,784.1 L1805.0,783.0 L1805.9,781.9 L1806.9,780.9 L1807.8,780.0 L1808.8,779.3 L1809.7,778.9 L1810.7,778.8 L1811.6,778.9 L1812.5,779.3 L1813.5,780.0 L1814.4,780.8 L1815.4,781.8 L1816.3,782.9 L1817.2,784.1 L1818.2,785.2 L1819.1,786.2 L1820.1,787.2 L1821.0,788.1 L1822.0,788.8 L1822.9,789.4 L1823.8,789.9 L1824.8,790.2 L1825.7,790.5 L1826.7,790.7 L1827.6,790.9 L1828.5,791.0" stroke="#a52a2a" stroke-width="3.6"/>
<path d="M535.5,791.0 L536.5,791.0 L537.4,790.9 L538.3,790.9 L539.3,790.9 L540.2,790.8 L541.2,790.8 L542.1,790.8 L543.0,790.7 L544.0,790.7 L544.9,790.6 L545.9,790.5 L546.8,790.5 L547.8,790.4 L548.7,790.3 L549.6,790.2 L550.6,790.1 L551.5,790.0 L552.5,789.9 L553.4,789.8 L554.3,789.6 L555.3,789.5 L556.2,789.3 L557.2,789.2 L558.1,789.0 L559.1,788.8 L560.0,788.6 L560.9,788.4 L561.9,788.1 L562.8,787.9 L563.8,787.6 L564.7,787.3 L565.7,787.0 L566.6,786.6 L567.5,786.3 L568.5,785.9 L569.4,785.5 L570.4,785.1 L571.3,784.6 L572.2,784.2 L573.2,783.7 L574.1,783.1 L575.1,782.6 L576.0,782.0 L577.0,781.4 L577.9,780.7 L578.8,780.1 L579.8,779.4 L580.7,778.6 L581.7,777.8 L582.6,777.0 L583.5,776.2 L584.5,775.3 L585.4,774.3 L586.4,773.4 L587.3,772.3 L588.3,771.2 L589.2,770.1 L590.1,768.9 L591.1,767.6 L592.0,766.2 L593.0,764.7 L593.9,763.1 L594.8,761.4 L595.8,759.6 L596.7,757.5 L597.7,755.3 L598.6,752.9 L599.6,750.2 L600.5,747.2 L601.4,743.9 L602.4,740.2 L603.3,736.1 L604.3,731.6 L605.2,726.6 L606.1,721.0 L607.1,714.9 L608.0,708.1 L609.0,700.7 L609.9,692.6 L610.9,683.8 L611.8,674.3 L612.7,664.1 L613.7,653.2 L614.6,641.5 L615.6,629.3 L616.5,616.5 L617.4,603.2 L618.4,589.5 L619.3,575.4 L620.3,561.3 L621.2,547.0 L622.2,533.0 L623.1,519.2 L624.0,505.9 L625.0,493.2 L625.9,481.3 L626.9,470.4 L627.8,460.6 L628.7,452.1 L629.7,445.1 L630.6,439.5 L631.6,435.6 L632.5,433.4 L633.5,432.9 L634.4,434.1 L635.3,437.0 L636.3,441.6 L637.2,447.8 L638.2,455.5 L639.1,464.5 L640.0,474.7 L641.0,486.1 L641.9,498.3 L642.9,511.3 L643.8,524.8 L644.8,538.7 L645.7,552.9 L646.6,567.1 L647.6,581.2 L648.5,595.1 L649.5,608.7 L650.4,621.8 L651.4,634.4 L652.3,646.4 L653.2,657.7 L654.2,668.4 L655.1,678.3 L656.1,687.5 L657.0,696.0 L657.9,703.8 L658.9,711.0 L659.8,717.5 L660.8,723.4 L661.7,728.7 L662.7,733.5 L663.6,737.9 L664.5,741.8 L665.5,745.3 L666.4,748.5 L667.4,751.3 L668.3,753.9 L669.2,756.3 L670.2,758.4 L671.1,760.4 L672.1,762.2 L673.0,763.8 L674.0,765.4 L674.9,766.8 L675.8,768.1 L676.8,769.4 L677.7,770.6 L678.7,771.7 L679.6,772.8 L680.5,773.8 L681.5,774.7 L682.4,775.6 L683.4,776.5 L684.3,777.4 L685.3,778.2 L686.2,778.9 L687.1,779.6 L688.1,780.3 L689.0,781.0 L690.0,781.6 L690.9,782.2 L691.8,782.8 L692.8,783.4 L693.7,783.9 L694.7,784.4 L695.6,784.8 L696.6,785.3 L697.5,785.7 L698.4,786.1 L699.4,786.4 L700.3,786.8 L701.3,787.1 L702.2,787.4 L703.1,787.7 L704.1,788.0 L705.0,788.2 L706.0,788.5 L706.9,788.7 L707.9,788.9 L708.8,789.1 L709.7,789.2 L710.7,789.4 L711.6,789.6 L712.6,789.7 L713.5,789.8 L714.4,789.9 L715.4,790.1 L716.3,790.2 L717.3,790.3 L718.2,790.3 L719.2,790.4 L720.1,790.5 L721.0,790.6 L722.0,790.6 L722.9,790.7 L723.9,790.7 L724.8,790.8 L725.7,790.8 L726.7,790.9 L727.6,790.9 L728.6,790.9 L729.5,790.9 L730.5,791.0 L731.4,791.0" stroke="#808080" stroke-opacity="0.5" stroke-width="4.8"/>
<path d="M1337.9,791.0 L1338.8,791.0 L1339.8,791.0 L1340.7,791.0 L1341.7,791.0 L1342.6,791.0 L1343.5,790.9 L1344.5,790.9 L1345.4,790.9 L1346.4,790.9 L1347.3,790.9 L1348.3,790.9 L1349.2,790.9 L1350.1,790.9 L1351.1,790.9 L1352.0,790.8 L1353.0,790.8 L1353.9,790.8 L1354.8,790.8 L1355.8,790.8 L1356.7,790.8 L1357.7,790.8 L1358.6,790.8 L1359.6,790.7 L1360.5,790.7 L1361.4,790.7 L1362.4,790.7 L1363.3,790.7 L1364.3,790.7 L1365.2,790.6 L1366.1,790.6 L1367.1,790.6 L1368.0,790.6 L1369.0,790.6 L1369.9,790.5 L1370.9,790.5 L1371.8,790.5 L1372.7,790.5 L1373.7,790.4 L1374.6,790.4 L1375.6,790.4 L1376.5,790.4 L1377.4,790.4 L1378.4,790.3 L1379.3,790.3 L1380.3,790.3 L1381.2,790.2 L1382.2,790.2 L1383.1,790.2 L1384.0,790.1 L1385.0,790.1 L1385.9,790.1 L1386.9,790.1 L1387.8,790.0 L1388.7,790.0 L1389.7,789.9 L1390.6,789.9 L1391.6,789.9 L1392.5,789.8 L1393.5,789.8 L1394.4,789.8 L1395.3,789.7 L1396.3,789.7 L1397.2,789.6 L1398.2,789.6 L1399.1,789.5 L1400.0,789.5 L1401.0,789.4 L1401.9,789.4 L1402.9,789.3 L1403.8,789.3 L1404.8,789.2 L1405.7,789.2 L1406.6,789.1 L1407.6,789.1 L1408.5,789.0 L1409.5,788.9 L1410.4,788.9 L1411.4,788.8 L1412.3,788.8 L1413.2,788.7 L1414.2,788.6 L1415.1,788.6 L1416.1,788.5 L1417.0,788.4 L1417.9,788.4 L1418.9,788.3 L1419.8,788.2 L1420.8,788.1 L1421.7,788.1 L1422.7,788.0 L1423.6,787.9 L1424.5,787.8 L1425.5,787.7 L1426.4,787.6 L1427.4,787.6 L1428.3,787.5 L1429.2,787.4 L1430.2,787.3 L1431.1,787.2 L1432.1,787.1 L1433.0,787.0 L1434.0,786.9 L1434.9,786.8 L1435.8,786.7 L1436.8,786.6 L1437.7,786.5 L1438.7,786.4 L1439.6,786.3 L1440.5,786.2 L1441.5,786.0 L1442.4,785.9 L1443.4,785.8 L1444.3,785.7 L1445.3,785.6 L1446.2,785.4 L1447.1,785.3 L1448.1,785.2 L1449.0,785.1 L1450.0,784.9 L1450.9,784.8 L1451.8,784.7 L1452.8,784.5 L1453.7,784.4 L1454.7,784.3 L1455.6,784.1 L1456.6,784.0 L1457.5,783.8 L1458.4,783.7 L1459.4,783.5 L1460.3,783.4 L1461.3,783.2 L1462.2,783.1 L1463.1,782.9 L1464.1,782.7 L1465.0,782.6 L1466.0,782.4 L1466.9,782.2 L1467.9,782.1 L1468.8,781.9 L1469.7,781.7 L1470.7,781.5 L1471.6,781.4 L1472.6,781.2 L1473.5,781.0 L1474.4,780.8 L1475.4,780.6 L1476.3,780.5 L1477.3,780.3 L1478.2,780.1 L1479.2,779.9 L1480.1,779.7 L1481.0,779.5 L1482.0,779.3 L1482.9,779.1 L1483.9,778.9 L1484.8,778.7 L1485.7,778.5 L1486.7,778.3 L1487.6,778.1 L1488.6,777.8 L1489.5,777.6 L1490.5,777.4 L1491.4,777.2 L1492.3,777.0 L1493.3,776.8 L1494.2,776.5 L1495.2,776.3 L1496.1,776.1 L1497.1,775.9 L1498.0,775.7 L1498.9,775.4 L1499.9,775.2 L1500.8,775.0 L1501.8,774.7 L1502.7,774.5 L1503.6,774.3 L1504.6,774.0 L1505.5,773.8 L1506.5,773.6 L1507.4,773.3 L1508.4,773.1 L1509.3,772.8 L1510.2,772.6 L1511.2,772.4 L1512.1,772.1 L1513.1,771.9 L1514.0,771.6 L1514.9,771.4 L1515.9,771.1 L1516.8,770.9 L1517.8,770.7 L1518.7,770.4 L1519.7,770.2 L1520.6,769.9 L1521.5,769.7 L1522.5,769.4 L1523.4,769.2 L1524.4,768.9 L1525.3,768.7 L1526.2,768.4 L1527.2,768.2 L1528.1,768.0 L1529.1,767.7 L1530.0,767.5 L1531.0,767.2 L1531.9,767.0 L1532.8,766.7 L1533.8,766.5 L1534.7,766.3 L1535.7,766.0 L1536.6,765.8 L1537.5,765.5 L1538.5,765.3 L1539.4,765.1 L1540.4,764.8 L1541.3,764.6 L1542.3,764.4 L1543.2,764.1 L1544.1,763.9 L1545.1,763.7 L1546.0,763.4 L1547.0,763.2 L1547.9,763.0 L1548.8,762.8 L1549.8,762.6 L1550.7,762.3 L1551.7,762.1 L1552.6,761.9 L1553.6,761.7 L1554.5,761.5 L1555.4,761.3 L1556.4,761.1 L1557.3,760.9 L1558.3,760.7 L1559.2,760.4 L1560.1,760.2 L1561.1,760.0 L1562.0,759.8 L1563.0,759.6 L1563.9,759.4 L1564.9,759.2 L1565.8,759.0 L1566.7,758.8 L1567.7,758.6 L1568.6,758.3 L1569.6,758.1 L1570.5,757.9 L1571.4,757.6 L1572.4,757.3 L1573.3,757.0 L1574.3,756.7 L1575.2,756.4 L1576.2,756.0 L1577.1,755.6 L1578.0,755.2 L1579.0,754.7 L1579.9,754.2 L1580.9,753.6 L1581.8,753.0 L1582.8,752.3 L1583.7,751.6 L1584.6,750.8 L1585.6,749.9 L1586.5,749.0 L1587.5,748.0 L1588.4,746.9 L1589.3,745.8 L1590.3,744.6 L1591.2,743.3 L1592.2,742.0 L1593.1,740.6 L1594.1,739.1 L1595.0,737.6 L1595.9,736.1 L1596.9,734.5 L1597.8,732.9 L1598.8,731.3 L1599.7,729.8 L1600.6,728.2 L1601.6,726.6 L1602.5,725.2 L1603.5,723.7 L1604.4,722.4 L1605.4,721.1 L1606.3,720.0 L1607.2,718.9 L1608.2,718.1 L1609.1,717.3 L1610.1,716.7 L1611.0,716.3 L1611.9,716.0 L1612.9,715.9 L1613.8,716.0 L1614.8,716.2 L1615.7,716.7 L1616.7,717.2 L1617.6,718.0 L1618.5,718.9 L1619.5,719.9 L1620.4,721.1 L1621.4,722.3 L1622.3,723.7 L1623.2,725.1 L1624.2,726.7 L1625.1,728.2 L1626.1,729.9 L1627.0,731.5 L1628.0,733.2 L1628.9,734.8 L1629.8,736.5 L1630.8,738.1 L1631.7,739.7 L1632.7,741.2 L1633.6,742.7 L1634.5,744.1 L1635.5,745.5 L1636.4,746.8 L1637.4,748.0 L1638.3,749.2 L1639.3,750.2 L1640.2,751.3 L1641.1,752.2 L1642.1,753.1 L1643.0,753.9 L1644.0,754.7 L1644.9,755.3 L1645.8,756.0 L1646.8,756.6 L1647.7,757.1 L1648.7,757.6 L1649.6,758.1 L1650.6,758.5 L1651.5,758.9 L1652.4,759.3 L1653.4,759.6 L1654.3,760.0 L1655.3,760.3 L1656.2,760.6 L1657.1,760.9 L1658.1,761.1 L1659.0,761.4 L1660.0,761.7 L1660.9,761.9 L1661.9,762.2 L1662.8,762.4 L1663.7,762.7 L1664.7,762.9 L1665.6,763.1 L1666.6,763.4 L1667.5,763.6 L1668.5,763.8 L1669.4,764.1 L1670.3,764.3 L1671.3,764.5 L1672.2,764.8 L1673.2,765.0 L1674.1,765.2 L1675.0,765.5 L1676.0,765.7 L1676.9,766.0 L1677.9,766.2 L1678.8,766.4 L1679.8,766.7 L1680.7,766.9 L1681.6,767.2 L1682.6,767.4 L1683.5,767.7 L1684.5,767.9 L1685.4,768.2 L1686.3,768.4 L1687.3,768.6 L1688.2,768.9 L1689.2,769.1 L1690.1,769.4 L1691.1,769.6 L1692.0,769.9 L1692.9,770.1 L1693.9,770.4 L1694.8,770.6 L1695.8,770.9 L1696.7,771.1 L1697.6,771.3 L1698.6,771.6 L1699.5,771.8 L1700.5,772.1 L1701.4,772.3 L1702.4,772.6 L1703.3,772.8 L1704.2,773.0 L1705.2,773.3 L1706.1,773.5 L1707.1,773.8 L1708.0,774.0 L1708.9,774.2 L1709.9,774.5 L1710.8,774.7 L1711.8,774.9 L1712.7,775.1 L1713.7,775.4 L1714.6,775.6 L1715.5,775.8 L1716.5,776.1 L1717.4,776.3 L1718.4,776.5 L1719.3,776.7 L1720.2,776.9 L1721.2,777.2 L1722.1,777.4 L1723.1,777.6 L1724.0,777.8 L1725.0,778.0 L1725.9,778.2 L1726.8,778.4 L1727.8,778.6 L1728.7,778.8 L1729.7,779.0 L1730.6,779.2 L1731.5,779.4 L1732.5,779.6 L1733.4,779.8 L1734.4,780.0 L1735.3,780.2 L1736.3,780.4 L1737.2,780.6 L1738.1,780.8 L1739.1,781.0 L1740.0,781.2 L1741.0,781.3 L1741.9,781.5 L1742.8,781.7 L1743.8,781.9 L1744.7,782.0 L1745.7,782.2 L1746.6,782.4 L1747.6,782.5 L1748.5,782.7 L1749.4,782.9 L1750.4,783.0 L1751.3,783.2 L1752.3,783.3 L1753.2,783.5 L1754.2,783.6 L1755.1,783.8 L1756.0,783.9 L1757.0,784.1 L1757.9,784.2 L1758.9,784.4 L1759.8,784.5 L1760.7,784.6 L1761.7,784.8 L1762.6,784.9 L1763.6,785.0 L1764.5,785.2 L1765.5,785.3 L1766.4,785.4 L1767.3,785.5 L1768.3,785.7 L1769.2,785.8 L1770.2,785.9 L1771.1,786.0 L1772.0,786.1 L1773.0,786.2 L1773.9,786.4 L1774.9,786.5 L1775.8,786.6 L1776.8,786.7 L1777.7,786.8 L1778.6,786.9 L1779.6,787.0 L1780.5,787.1 L1781.5,787.2 L1782.4,787.3 L1783.3,787.4 L1784.3,787.5 L1785.2,787.5 L1786.2,787.6 L1787.1,787.7 L1788.1,787.8 L1789.0,787.9 L1789.9,788.0 L1790.9,788.0 L1791.8,788.1 L1792.8,788.2 L1793.7,788.3 L1794.6,788.3 L1795.6,788.4 L1796.5,788.5 L1797.5,788.6 L1798.4,788.6 L1799.4,788.7 L1800.3,788.8 L1801.2,788.8 L1802.2,788.9 L1803.1,788.9 L1804.1,789.0 L1805.0,789.1 L1805.9,789.1 L1806.9,789.2 L1807.8,789.2 L1808.8,789.3 L1809.7,789.3 L1810.7,789.4 L1811.6,789.4 L1812.5,789.5 L1813.5,789.5 L1814.4,789.6 L1815.4,789.6 L1816.3,789.7 L1817.2,789.7 L1818.2,789.7 L1819.1,789.8 L1820.1,789.8 L1821.0,789.9 L1822.0,789.9 L1822.9,789.9 L1823.8,790.0 L1824.8,790.0 L1825.7,790.0 L1826.7,790.1 L1827.6,790.1 L1828.5,790.1 L1829.5,790.2 L1830.4,790.2 L1831.4,790.2 L1832.3,790.3 L1833.3,790.3 L1834.2,790.3 L1835.1,790.3 L1836.1,790.4 L1837.0,790.4 L1838.0,790.4 L1838.9,790.4 L1839.9,790.5 L1840.8,790.5 L1841.7,790.5 L1842.7,790.5 L1843.6,790.6 L1844.6,790.6 L1845.5,790.6 L1846.4,790.6 L1847.4,790.6 L1848.3,790.7 L1849.3,790.7 L1850.2,790.7 L1851.2,790.7 L1852.1,790.7 L1853.0,790.7 L1854.0,790.7 L1854.9,790.8 L1855.9,790.8 L1856.8,790.8 L1857.7,790.8 L1858.7,790.8 L1859.6,790.8 L1860.6,790.8 L1861.5,790.9 L1862.5,790.9 L1863.4,790.9 L1864.3,790.9 L1865.3,790.9 L1866.2,790.9 L1867.2,790.9 L1868.1,790.9 L1869.0,790.9 L1870.0,790.9 L1870.9,791.0 L1871.9,791.0 L1872.8,791.0 L1873.8,791.0 L1874.7,791.0" stroke="#808080" stroke-opacity="0.5" stroke-width="4.8"/>
<path d="M217.2,791.2 H2006.2" stroke="#9400d3" stroke-width="4.8"/>
<path d="M615.6,791.2 L616.5,791.1 L617.4,791.0 L618.4,790.8 L619.3,790.4 L620.3,789.7 L621.2,788.5 L622.2,786.6 L623.1,783.8 L624.0,779.7 L625.0,774.3 L625.9,767.3 L626.9,759.1 L627.8,749.8 L628.7,740.2 L629.7,731.3 L630.6,723.8 L631.6,718.8 L632.5,716.9 L633.5,718.3 L634.4,722.8 L635.3,729.9 L636.3,738.7 L637.2,748.3 L638.2,757.6 L639.1,766.1 L640.0,773.3 L641.0,779.0 L641.9,783.2 L642.9,786.2 L643.8,788.2 L644.8,789.5 L645.7,790.3 L646.6,790.7 L647.6,791.0 L648.5,791.1 L649.5,791.1" stroke="#9400d3" stroke-width="3.8"/>
<path d="M709.7,791.1 L710.7,791.1 L711.6,790.9 L712.6,790.6 L713.5,790.1 L714.4,789.2 L715.4,787.8 L716.3,785.6 L717.3,782.3 L718.2,777.7 L719.2,771.6 L720.1,764.0 L721.0,754.9 L722.0,744.9 L722.9,734.6 L723.9,724.9 L724.8,717.0 L725.7,711.6 L726.7,709.4 L727.6,710.8 L728.6,715.5 L729.5,723.0 L730.5,732.3 L731.4,742.5 L732.3,752.7 L733.3,762.0 L734.2,770.0 L735.2,776.5 L736.1,781.4 L737.1,785.0 L738.0,787.4 L738.9,789.0 L739.9,790.0 L740.8,790.5 L741.8,790.9 L742.7,791.0 L743.6,791.1 L744.6,791.2" stroke="#9400d3" stroke-width="3.8"/>
<path d="M754.0,791.1 L754.9,791.1 L755.9,790.9 L756.8,790.6 L757.8,790.1 L758.7,789.0 L759.7,787.1 L760.6,783.9 L761.5,778.9 L762.5,771.1 L763.4,759.9 L764.4,744.5 L765.3,724.6 L766.2,700.1 L767.2,671.9 L768.1,641.7 L769.1,611.8 L770.0,585.0 L771.0,564.3 L771.9,552.1 L772.8,550.1 L773.8,558.3 L774.7,575.8 L775.7,600.5 L776.6,629.5 L777.5,659.9 L778.5,689.2 L779.4,715.3 L780.4,737.1 L781.3,754.3 L782.3,767.1 L783.2,776.1 L784.1,782.2 L785.1,786.0 L786.0,788.4 L787.0,789.7 L787.9,790.4 L788.8,790.8 L789.8,791.0 L790.7,791.1 L791.7,791.2" stroke="#9400d3" stroke-width="3.8"/>
<path d="M449.8,791.1 L450.8,791.1 L451.7,791.0 L452.6,790.9 L453.6,790.7 L454.5,790.5 L455.5,790.2 L456.4,789.8 L457.3,789.4 L458.3,788.9 L459.2,788.3 L460.2,787.8 L461.1,787.3 L462.1,786.9 L463.0,786.7 L463.9,786.6 L464.9,786.7 L465.8,786.9 L466.8,787.3 L467.7,787.8 L468.6,788.4 L469.6,788.9 L470.5,789.4 L471.5,789.9 L472.4,790.2 L473.4,790.5 L474.3,790.8 L475.2,790.9 L476.2,791.0 L477.1,791.1 L478.1,791.1" stroke="#9400d3" stroke-width="3.8"/>
<path d="M1589.3,791.2 L1590.3,791.1 L1591.2,791.1 L1592.2,791.0 L1593.1,790.9 L1594.1,790.8 L1595.0,790.6 L1595.9,790.3 L1596.9,790.0 L1597.8,789.5 L1598.8,789.0 L1599.7,788.4 L1600.6,787.7 L1601.6,786.9 L1602.5,786.2 L1603.5,785.4 L1604.4,784.7 L1605.4,784.1 L1606.3,783.7 L1607.2,783.4 L1608.2,783.4 L1609.1,783.6 L1610.1,783.9 L1611.0,784.4 L1611.9,785.1 L1612.9,785.8 L1613.8,786.6 L1614.8,787.3 L1615.7,788.1 L1616.7,788.7 L1617.6,789.3 L1618.5,789.8 L1619.5,790.2 L1620.4,790.5 L1621.4,790.7 L1622.3,790.9 L1623.2,791.0 L1624.2,791.1 L1625.1,791.1 L1626.1,791.1" stroke="#9400d3" stroke-width="3.8"/>
</g>
<g clip-path="url(#c2)" fill="none" stroke-linejoin="round">
<path d="M218.0,1000.8 L220.2,1051.3 L224.7,1022.1 L228.1,1067.1 L231.9,1104.2 L236.0,1046.8 L239.3,1017.6 L241.6,1077.2 L243.2,1003.0 L245.0,1067.1 L247.7,1016.5 L250.6,1060.3 L254.6,987.3 L256.2,1024.4 L258.9,990.6 L263.0,1017.6 L267.4,951.3 L271.9,997.4 L276.0,1013.1 L279.1,970.4 L281.4,1008.6 L287.7,931.1 L290.6,1014.2 L292.9,927.7 L296.2,972.6 L302.3,934.4 L304.5,925.4 L307.2,962.5 L309.0,900.7 L311.3,947.9 L314.0,890.6 L315.8,964.8 L317.4,934.4 L319.2,972.6 L321.4,942.3 L324.8,969.3 L328.2,950.2 L331.1,950.2 L333.8,900.7 L336.0,945.7 L337.6,916.4 L339.8,951.3 L343.2,917.6 L346.1,925.4 L348.4,944.5 L352.9,920.9 L355.1,979.4 L356.7,919.8 L358.5,967.0 L361.9,944.5 L364.8,905.2 L367.5,937.8 L370.9,936.7 L373.1,910.8 L375.4,925.4 L378.3,954.7 L382.8,917.6 L384.4,961.4 L386.2,932.2 L388.4,962.5 L391.1,952.4 L394.3,899.6 L396.7,938.9 L400.1,945.7 L403.0,938.9 L405.7,956.9 L409.1,929.9 L410.7,953.5 L412.5,926.6 L414.3,962.5 L417.0,946.8 L421.5,943.4 L423.9,918.2 L426.0,943.4 L427.5,936.7 L429.3,977.1 L432.7,980.5 L435.2,944.5 L437.2,986.1 L440.1,974.9 L441.9,943.4 L444.6,979.4 L446.9,943.4 L449.1,990.6 L450.7,992.9 L451.8,945.7 L454.1,954.7 L456.3,936.7 L458.6,956.9 L461.5,929.9 L463.5,976.0 L465.3,937.8 L467.1,985.0 L469.8,972.6 L473.2,950.2 L476.5,989.5 L479.9,959.2 L482.8,976.0 L485.1,945.7 L486.7,943.4 L490.0,914.2 L492.7,899.6 L494.5,961.4 L497.9,917.6 L500.1,945.7 L502.4,933.3 L504.6,955.8 L507.6,922.1 L510.3,950.2 L513.6,952.4 L515.9,938.9 L518.1,954.7 L520.8,901.8 L523.1,961.4 L526.0,913.1 L528.7,968.2 L531.6,954.7 L534.5,980.5 L536.8,972.6 L539.0,995.1 L541.7,968.2 L544.0,1007.5 L546.7,965.9 L548.5,951.3 L550.7,981.6 L554.1,961.4 L556.8,949.0 L559.1,980.5 L561.5,961.4 L564.2,988.4 L566.9,952.4 L569.2,965.9 L571.6,950.2 L575.0,987.3 L577.7,977.1 L580.0,994.0 L582.2,982.8 L585.6,988.4 L589.0,956.9 L591.7,928.8 L593.5,931.1 L595.0,919.8 L596.1,944.5 L597.9,901.8 L600.6,944.5 L602.9,896.2 L605.8,917.6 L608.1,954.7 L609.6,991.8 L611.4,951.3 L613.7,969.3 L616.4,1005.2 L618.6,961.4 L620.9,1013.1 L623.8,974.9 L626.5,974.9 L627.6,929.9 L629.4,931.1 L631.7,943.4 L634.4,936.7 L637.3,888.3 L639.5,945.7 L641.8,952.4 L642.9,977.1 L644.0,947.9 L647.4,994.0 L650.3,998.5 L653.0,961.4 L655.3,943.4 L657.5,981.6 L658.5,995.1 L661.7,935.6 L664.6,977.1 L668.0,942.3 L671.4,976.0 L674.7,952.4 L677.0,960.3 L678.8,937.8 L680.4,937.8 L682.6,950.2 L684.2,981.6 L686.4,985.0 L688.2,928.8 L690.5,947.9 L692.7,974.9 L695.0,964.8 L696.1,916.4 L698.3,927.7 L700.6,909.7 L702.8,920.9 L704.6,887.7 L708.0,905.2 L710.3,925.4 L713.0,943.4 L715.7,951.3 L717.4,986.1 L720.8,945.7 L722.4,985.0 L725.8,931.7 L727.6,968.2 L729.1,945.7 L730.9,1004.1 L733.6,950.2 L737.2,912.4 L739.9,981.6 L742.6,954.7 L744.4,1004.1 L746.2,1013.1 L748.5,943.4 L750.5,969.3 L752.3,953.5 L754.5,976.0 L757.5,965.9 L760.2,994.0 L762.4,968.2 L764.2,992.9 L766.9,932.2 L768.7,961.4 L770.3,932.2 L772.5,990.6 L774.8,947.9 L777.7,974.9 L780.0,998.5 L782.6,952.4 L784.9,918.7 L787.6,905.2 L790.5,909.7 L793.2,896.7 L796.6,945.7 L797.9,907.4 L800.2,911.9 L802.9,900.7 L805.1,931.1 L806.7,923.2 L808.5,963.7 L810.1,983.9 L811.4,991.8 L814.1,945.7 L817.5,912.4 L819.1,965.9 L823.1,956.9 L824.9,971.5 L827.6,964.8 L829.9,977.1 L832.1,974.9 L834.4,959.2 L837.1,1009.7 L840.0,979.4 L842.2,940.0 L845.6,1021.0 L847.4,959.2 L849.6,1001.9 L852.3,973.8 L854.1,1019.9 L856.4,1017.6 L859.1,983.9 L861.8,964.8 L864.0,1017.6 L866.3,1009.7 L869.9,949.0 L872.6,979.4 L875.3,1009.7 L878.2,951.7 L879.8,1008.2 L882.7,1006.4 L885.6,974.9 L888.3,963.7 L890.6,977.1 L893.3,1013.1 L895.1,1013.1 L897.3,981.6 L900.0,998.5 L902.9,970.4 L905.2,964.8 L906.3,977.1 L907.9,917.6 L910.4,952.4 L913.0,922.7 L915.7,965.9 L918.7,970.4 L920.9,961.4 L922.7,979.4 L925.4,956.9 L927.7,940.0 L929.9,950.2 L931.5,936.7 L934.4,956.9 L937.3,919.8 L938.9,934.4 L941.2,894.0 L943.4,896.2 L945.7,950.2 L947.9,947.9 L950.8,900.7 L953.5,909.7 L956.2,926.6 L959.1,945.7 L962.1,854.6 L964.3,900.7 L966.6,905.2 L968.8,896.2 L971.1,938.9 L973.3,954.7 L975.3,968.2 L977.8,945.7 L980.5,931.1 L982.1,954.7 L983.9,918.7 L985.4,977.1 L986.8,997.4 L989.5,974.9 L991.7,946.8 L994.0,952.4 L996.2,947.9 L998.5,917.6 L1001.2,905.2 L1003.4,918.7 L1006.4,884.3 L1007.9,925.4 L1010.2,909.7 L1012.4,920.9 L1014.7,963.7 L1017.6,959.2 L1019.8,927.7 L1022.1,947.9 L1023.7,933.3 L1025.9,947.9 L1027.7,994.0 L1030.0,990.6 L1032.2,970.4 L1034.5,976.0 L1036.3,943.4 L1037.8,952.4 L1039.4,905.2 L1041.2,980.5 L1043.0,929.9 L1044.6,940.0 L1046.1,906.3 L1047.9,901.8 L1049.5,956.9 L1052.4,894.6 L1054.7,938.9 L1056.5,918.7 L1058.1,942.3 L1059.6,927.7 L1061.9,989.5 L1064.1,962.5 L1065.9,974.9 L1068.2,959.2 L1070.4,942.3 L1072.7,952.4 L1074.9,919.8 L1077.2,941.2 L1080.5,890.6 L1082.8,907.4 L1084.4,963.7 L1087.3,913.1 L1090.2,1022.1 L1092.5,903.0 L1094.0,949.0 L1096.3,938.9 L1098.5,943.4 L1100.0,941.2 L1101.8,911.9 L1104.5,961.4 L1108.3,914.9 L1111.2,945.7 L1113.9,961.4 L1116.9,976.0 L1119.1,947.9 L1121.4,911.9 L1123.6,925.4 L1125.2,969.3 L1126.5,932.2 L1129.2,981.6 L1131.0,927.7 L1133.3,964.8 L1136.0,936.7 L1139.3,914.2 L1141.1,952.4 L1144.5,917.6 L1147.2,947.9 L1149.9,968.2 L1152.8,1001.9 L1155.8,900.7 L1158.0,965.9 L1160.7,1001.9 L1163.0,929.9 L1165.7,967.0 L1168.6,926.1 L1171.5,932.2 L1174.2,952.4 L1176.9,940.0 L1179.1,970.4 L1182.1,1010.9 L1184.3,936.7 L1187.2,925.9 L1188.8,982.8 L1192.2,962.5 L1194.4,934.4 L1197.1,918.2 L1198.9,936.7 L1201.6,913.7 L1203.4,946.8 L1205.7,909.2 L1209.7,891.7 L1211.3,911.9 L1212.9,896.2 L1215.1,968.2 L1216.9,919.8 L1219.2,952.4 L1222.5,936.7 L1224.8,935.6 L1227.0,956.9 L1229.7,978.3 L1232.6,942.3 L1234.4,974.9 L1236.0,931.7 L1238.3,972.6 L1239.8,937.8 L1242.1,965.9 L1244.6,985.0 L1247.3,952.4 L1251.1,925.0 L1253.3,977.1 L1256.3,980.5 L1258.5,952.4 L1260.8,927.2 L1263.0,960.3 L1264.8,934.4 L1267.5,1009.7 L1269.7,942.3 L1271.3,998.5 L1273.1,940.0 L1275.8,967.0 L1278.7,938.9 L1280.5,925.4 L1282.6,961.4 L1284.8,947.9 L1287.1,913.1 L1289.3,938.9 L1291.1,928.8 L1293.4,946.8 L1295.6,933.3 L1297.8,941.2 L1300.1,898.5 L1302.3,956.9 L1305.7,934.4 L1308.4,907.4 L1310.2,938.9 L1311.8,963.7 L1313.6,937.8 L1316.3,967.0 L1319.2,959.2 L1322.1,947.9 L1324.4,959.2 L1327.1,936.7 L1328.2,970.4 L1329.8,917.6 L1332.0,918.7 L1334.9,942.3 L1337.2,944.5 L1339.4,918.7 L1342.4,926.6 L1343.9,936.7 L1346.2,967.0 L1349.1,936.7 L1352.9,922.1 L1355.2,941.2 L1357.4,934.4 L1359.7,880.9 L1361.3,935.6 L1364.2,908.1 L1366.0,943.4 L1368.0,924.3 L1370.2,945.7 L1372.7,956.9 L1376.1,926.6 L1378.3,952.4 L1379.9,937.8 L1382.2,950.2 L1384.4,951.3 L1387.1,974.4 L1390.0,959.2 L1391.8,947.5 L1394.5,932.2 L1397.9,926.6 L1400.6,906.3 L1402.4,952.4 L1404.0,974.4 L1406.2,936.7 L1410.3,929.9 L1412.1,969.3 L1414.8,951.3 L1417.0,947.9 L1419.3,926.6 L1422.0,920.9 L1423.8,951.3 L1426.5,913.7 L1428.7,938.9 L1431.6,964.8 L1433.9,927.7 L1435.0,964.8 L1436.6,928.8 L1439.5,915.3 L1441.1,938.9 L1442.9,928.8 L1445.1,967.0 L1448.0,961.4 L1449.6,949.0 L1453.0,943.4 L1455.7,952.4 L1458.6,930.4 L1460.4,947.9 L1462.6,964.8 L1464.2,926.6 L1466.5,945.7 L1468.7,928.8 L1471.0,970.4 L1474.3,918.2 L1475.9,956.9 L1479.3,898.9 L1481.1,954.7 L1482.9,964.8 L1484.9,925.4 L1487.8,961.4 L1489.4,970.4 L1492.3,936.7 L1493.9,982.8 L1496.1,937.8 L1497.9,917.6 L1500.6,934.4 L1502.4,968.2 L1505.4,922.7 L1507.4,965.9 L1509.2,987.3 L1511.0,947.9 L1513.7,969.3 L1515.9,949.0 L1518.6,942.3 L1521.8,1007.5 L1523.8,945.7 L1526.1,987.3 L1528.3,970.4 L1530.5,973.8 L1533.5,933.3 L1535.0,994.7 L1537.3,978.3 L1539.5,970.4 L1541.8,931.1 L1544.0,950.2 L1546.3,981.6 L1548.5,976.0 L1550.0,977.1 L1552.2,937.8 L1554.9,963.7 L1557.9,943.4 L1560.1,972.6 L1563.0,979.4 L1565.7,941.2 L1568.0,965.9 L1569.8,992.9 L1572.5,973.8 L1575.2,980.5 L1577.4,988.4 L1579.2,952.4 L1581.9,970.4 L1584.2,983.9 L1587.1,964.8 L1590.5,929.5 L1592.3,936.7 L1593.8,987.3 L1596.8,968.2 L1599.5,929.9 L1602.2,925.0 L1605.1,985.0 L1607.3,932.2 L1609.6,970.4 L1611.8,933.3 L1614.1,981.6 L1617.0,983.9 L1620.1,935.6 L1622.4,952.4 L1626.9,931.1 L1629.1,961.4 L1630.9,970.4 L1633.6,950.2 L1635.9,967.0 L1638.4,937.8 L1640.4,956.9 L1643.3,970.4 L1646.7,979.4 L1649.6,949.7 L1652.3,972.6 L1654.5,998.5 L1657.9,994.0 L1660.8,950.2 L1664.7,988.4 L1666.2,951.3 L1668.0,973.8 L1671.0,954.7 L1673.7,970.4 L1676.4,950.2 L1678.2,945.7 L1680.9,917.6 L1682.6,950.2 L1684.4,961.4 L1686.0,943.4 L1688.9,952.4 L1692.1,958.0 L1693.9,903.6 L1695.7,938.9 L1697.3,928.8 L1699.5,947.9 L1701.8,952.4 L1704.0,929.9 L1705.6,945.7 L1707.4,931.1 L1709.2,963.7 L1711.9,936.7 L1714.6,943.4 L1716.8,949.0 L1719.1,974.9 L1722.0,953.5 L1724.9,962.5 L1726.9,929.9 L1729.2,961.4 L1731.7,946.8 L1733.7,913.1 L1735.5,952.4 L1737.7,932.2 L1740.0,965.9 L1742.2,980.5 L1745.2,981.6 L1747.8,963.7 L1751.7,940.0 L1753.5,954.7 L1755.7,947.9 L1758.0,935.6 L1760.2,931.1 L1761.3,983.9 L1764.7,926.6 L1767.0,958.0 L1769.7,913.1 L1771.5,964.8 L1773.0,981.6 L1776.0,927.7 L1778.2,963.7 L1781.1,972.6 L1784.3,914.2 L1786.1,934.4 L1788.8,924.3 L1792.4,919.4 L1793.9,969.3 L1796.2,933.3 L1799.6,956.9 L1804.1,933.3 L1807.4,967.0 L1809.7,950.2 L1812.6,968.2 L1815.7,946.8 L1817.5,968.2 L1819.8,954.7 L1822.0,935.6 L1823.8,974.9 L1826.5,944.5 L1828.8,969.3 L1831.7,931.1 L1835.1,971.5 L1837.8,950.2 L1840.0,940.0 L1843.4,950.2 L1845.7,944.5 L1848.6,979.4 L1850.1,951.3 L1851.7,988.4 L1854.6,963.7 L1858.5,927.2 L1860.3,931.1 L1862.5,992.9 L1864.8,951.3 L1867.0,999.6 L1869.3,1000.8 L1871.5,1000.8 L1873.3,980.5 L1876.5,987.3 L1878.7,977.1 L1881.6,942.3 L1883.4,940.0 L1886.1,959.2 L1887.9,976.0 L1889.5,940.0 L1891.7,961.4 L1894.0,969.3 L1895.8,942.3 L1898.0,989.5 L1899.6,952.4 L1902.5,972.6 L1904.8,986.1 L1907.5,944.5 L1909.7,973.8 L1912.4,942.3 L1916.0,997.4 L1918.7,965.9 L1921.0,983.9 L1923.2,972.6 L1925.9,983.9 L1929.3,991.8 L1931.5,965.9 L1934.0,954.7 L1936.7,1008.6 L1940.5,967.7 L1943.0,979.4 L1945.7,1000.8 L1948.4,991.8 L1950.2,1014.2 L1952.9,997.4 L1954.7,996.3 L1956.9,1014.2 L1959.6,977.6 L1961.4,1001.9 L1963.2,1024.4 L1965.5,1001.9 L1967.7,1009.7 L1970.4,1008.6 L1973.1,1016.5 L1976.1,988.4 L1978.3,1006.4 L1981.0,970.0 L1983.5,995.1 L1985.7,1004.1 L1987.3,979.4 L1989.5,1007.5 L1991.8,997.4 L1994.7,1012.0 L1997.9,983.9 L2000.1,1008.6 L2001.5,1025.5 L2003.0,1013.1 L2005.3,1026.6" stroke="#808080" stroke-width="4.2"/>
<path d="M164.6,956.6 H2039.2" stroke="#000" stroke-width="4.4" stroke-opacity="1"/>
<path d="M218.0,1000.8 L220.2,1051.3 L224.7,1022.1 L228.1,1067.1 L231.9,1104.2 L236.0,1046.8 L239.3,1017.6 L241.6,1077.2 L243.2,1003.0 L245.0,1067.1 L247.7,1016.5 L250.6,1060.3 L254.6,987.3 L256.2,1024.4 L258.9,990.6 L263.0,1017.6 L267.4,951.3 L271.9,997.4 L276.0,1013.1 L279.1,970.4 L281.4,1008.6 L287.7,931.1 L290.6,1014.2 L292.9,927.7 L296.2,972.6 L302.3,934.4 L304.5,925.4 L307.2,962.5 L309.0,900.7 L311.3,947.9 L314.0,890.6 L315.8,964.8 L317.4,934.4 L319.2,972.6 L321.4,942.3 L324.8,969.3 L328.2,950.2 L331.1,950.2 L333.8,900.7 L336.0,945.7 L337.6,916.4 L339.8,951.3 L343.2,917.6 L346.1,925.4 L348.4,944.5 L352.9,920.9 L355.1,979.4 L356.7,919.8 L358.5,967.0 L361.9,944.5 L364.8,905.2 L367.5,937.8 L370.9,936.7 L373.1,910.8 L375.4,925.4 L378.3,954.7 L382.8,917.6 L384.4,961.4 L386.2,932.2 L388.4,962.5 L391.1,952.4 L394.3,899.6 L396.7,938.9 L400.1,945.7 L403.0,938.9 L405.7,956.9 L409.1,929.9 L410.7,953.5 L412.5,926.6 L414.3,962.5 L417.0,946.8 L421.5,943.4 L423.9,918.2 L426.0,943.4 L427.5,936.7 L429.3,977.1 L432.7,980.5 L435.2,944.5 L437.2,986.1 L440.1,974.9 L441.9,943.4 L444.6,979.4 L446.9,943.4 L449.1,990.6 L450.7,992.9 L451.8,945.7 L454.1,954.7 L456.3,936.7 L458.6,956.9 L461.5,929.9 L463.5,976.0 L465.3,937.8 L467.1,985.0 L469.8,972.6 L473.2,950.2 L476.5,989.5 L479.9,959.2 L482.8,976.0 L485.1,945.7 L486.7,943.4 L490.0,914.2 L492.7,899.6 L494.5,961.4 L497.9,917.6 L500.1,945.7 L502.4,933.3 L504.6,955.8 L507.6,922.1 L510.3,950.2 L513.6,952.4 L515.9,938.9 L518.1,954.7 L520.8,901.8 L523.1,961.4 L526.0,913.1 L528.7,968.2 L531.6,954.7 L534.5,980.5 L536.8,972.6 L539.0,995.1 L541.7,968.2 L544.0,1007.5 L546.7,965.9 L548.5,951.3 L550.7,981.6 L554.1,961.4 L556.8,949.0 L559.1,980.5 L561.5,961.4 L564.2,988.4 L566.9,952.4 L569.2,965.9 L571.6,950.2 L575.0,987.3 L577.7,977.1 L580.0,994.0 L582.2,982.8 L585.6,988.4 L589.0,956.9 L591.7,928.8 L593.5,931.1 L595.0,919.8 L596.1,944.5 L597.9,901.8 L600.6,944.5 L602.9,896.2 L605.8,917.6 L608.1,954.7 L609.6,991.8 L611.4,951.3 L613.7,969.3 L616.4,1005.2 L618.6,961.4 L620.9,1013.1 L623.8,974.9 L626.5,974.9 L627.6,929.9 L629.4,931.1 L631.7,943.4 L634.4,936.7 L637.3,888.3 L639.5,945.7 L641.8,952.4 L642.9,977.1 L644.0,947.9 L647.4,994.0 L650.3,998.5 L653.0,961.4 L655.3,943.4 L657.5,981.6 L658.5,995.1 L661.7,935.6 L664.6,977.1 L668.0,942.3 L671.4,976.0 L674.7,952.4 L677.0,960.3 L678.8,937.8 L680.4,937.8 L682.6,950.2 L684.2,981.6 L686.4,985.0 L688.2,928.8 L690.5,947.9 L692.7,974.9 L695.0,964.8 L696.1,916.4 L698.3,927.7 L700.6,909.7 L702.8,920.9 L704.6,887.7 L708.0,905.2 L710.3,925.4 L713.0,943.4 L715.7,951.3 L717.4,986.1 L720.8,945.7 L722.4,985.0 L725.8,931.7 L727.6,968.2 L729.1,945.7 L730.9,1004.1 L733.6,950.2 L737.2,912.4 L739.9,981.6 L742.6,954.7 L744.4,1004.1 L746.2,1013.1 L748.5,943.4 L750.5,969.3 L752.3,953.5 L754.5,976.0 L757.5,965.9 L760.2,994.0 L762.4,968.2 L764.2,992.9 L766.9,932.2 L768.7,961.4 L770.3,932.2 L772.5,990.6 L774.8,947.9 L777.7,974.9 L780.0,998.5 L782.6,952.4 L784.9,918.7 L787.6,905.2 L790.5,909.7 L793.2,896.7 L796.6,945.7 L797.9,907.4 L800.2,911.9 L802.9,900.7 L805.1,931.1 L806.7,923.2 L808.5,963.7 L810.1,983.9 L811.4,991.8 L814.1,945.7 L817.5,912.4 L819.1,965.9 L823.1,956.9 L824.9,971.5 L827.6,964.8 L829.9,977.1 L832.1,974.9 L834.4,959.2 L837.1,1009.7 L840.0,979.4 L842.2,940.0 L845.6,1021.0 L847.4,959.2 L849.6,1001.9 L852.3,973.8 L854.1,1019.9 L856.4,1017.6 L859.1,983.9 L861.8,964.8 L864.0,1017.6 L866.3,1009.7 L869.9,949.0 L872.6,979.4 L875.3,1009.7 L878.2,951.7 L879.8,1008.2 L882.7,1006.4 L885.6,974.9 L888.3,963.7 L890.6,977.1 L893.3,1013.1 L895.1,1013.1 L897.3,981.6 L900.0,998.5 L902.9,970.4 L905.2,964.8 L906.3,977.1 L907.9,917.6 L910.4,952.4 L913.0,922.7 L915.7,965.9 L918.7,970.4 L920.9,961.4 L922.7,979.4 L925.4,956.9 L927.7,940.0 L929.9,950.2 L931.5,936.7 L934.4,956.9 L937.3,919.8 L938.9,934.4 L941.2,894.0 L943.4,896.2 L945.7,950.2 L947.9,947.9 L950.8,900.7 L953.5,909.7 L956.2,926.6 L959.1,945.7 L962.1,854.6 L964.3,900.7 L966.6,905.2 L968.8,896.2 L971.1,938.9 L973.3,954.7 L975.3,968.2 L977.8,945.7 L980.5,931.1 L982.1,954.7 L983.9,918.7 L985.4,977.1 L986.8,997.4 L989.5,974.9 L991.7,946.8 L994.0,952.4 L996.2,947.9 L998.5,917.6 L1001.2,905.2 L1003.4,918.7 L1006.4,884.3 L1007.9,925.4 L1010.2,909.7 L1012.4,920.9 L1014.7,963.7 L1017.6,959.2 L1019.8,927.7 L1022.1,947.9 L1023.7,933.3 L1025.9,947.9 L1027.7,994.0 L1030.0,990.6 L1032.2,970.4 L1034.5,976.0 L1036.3,943.4 L1037.8,952.4 L1039.4,905.2 L1041.2,980.5 L1043.0,929.9 L1044.6,940.0 L1046.1,906.3 L1047.9,901.8 L1049.5,956.9 L1052.4,894.6 L1054.7,938.9 L1056.5,918.7 L1058.1,942.3 L1059.6,927.7 L1061.9,989.5 L1064.1,962.5 L1065.9,974.9 L1068.2,959.2 L1070.4,942.3 L1072.7,952.4 L1074.9,919.8 L1077.2,941.2 L1080.5,890.6 L1082.8,907.4 L1084.4,963.7 L1087.3,913.1 L1090.2,1022.1 L1092.5,903.0 L1094.0,949.0 L1096.3,938.9 L1098.5,943.4 L1100.0,941.2 L1101.8,911.9 L1104.5,961.4 L1108.3,914.9 L1111.2,945.7 L1113.9,961.4 L1116.9,976.0 L1119.1,947.9 L1121.4,911.9 L1123.6,925.4 L1125.2,969.3 L1126.5,932.2 L1129.2,981.6 L1131.0,927.7 L1133.3,964.8 L1136.0,936.7 L1139.3,914.2 L1141.1,952.4 L1144.5,917.6 L1147.2,947.9 L1149.9,968.2 L1152.8,1001.9 L1155.8,900.7 L1158.0,965.9 L1160.7,1001.9 L1163.0,929.9 L1165.7,967.0 L1168.6,926.1 L1171.5,932.2 L1174.2,952.4 L1176.9,940.0 L1179.1,970.4 L1182.1,1010.9 L1184.3,936.7 L1187.2,925.9 L1188.8,982.8 L1192.2,962.5 L1194.4,934.4 L1197.1,918.2 L1198.9,936.7 L1201.6,913.7 L1203.4,946.8 L1205.7,909.2 L1209.7,891.7 L1211.3,911.9 L1212.9,896.2 L1215.1,968.2 L1216.9,919.8 L1219.2,952.4 L1222.5,936.7 L1224.8,935.6 L1227.0,956.9 L1229.7,978.3 L1232.6,942.3 L1234.4,974.9 L1236.0,931.7 L1238.3,972.6 L1239.8,937.8 L1242.1,965.9 L1244.6,985.0 L1247.3,952.4 L1251.1,925.0 L1253.3,977.1 L1256.3,980.5 L1258.5,952.4 L1260.8,927.2 L1263.0,960.3 L1264.8,934.4 L1267.5,1009.7 L1269.7,942.3 L1271.3,998.5 L1273.1,940.0 L1275.8,967.0 L1278.7,938.9 L1280.5,925.4 L1282.6,961.4 L1284.8,947.9 L1287.1,913.1 L1289.3,938.9 L1291.1,928.8 L1293.4,946.8 L1295.6,933.3 L1297.8,941.2 L1300.1,898.5 L1302.3,956.9 L1305.7,934.4 L1308.4,907.4 L1310.2,938.9 L1311.8,963.7 L1313.6,937.8 L1316.3,967.0 L1319.2,959.2 L1322.1,947.9 L1324.4,959.2 L1327.1,936.7 L1328.2,970.4 L1329.8,917.6 L1332.0,918.7 L1334.9,942.3 L1337.2,944.5 L1339.4,918.7 L1342.4,926.6 L1343.9,936.7 L1346.2,967.0 L1349.1,936.7 L1352.9,922.1 L1355.2,941.2 L1357.4,934.4 L1359.7,880.9 L1361.3,935.6 L1364.2,908.1 L1366.0,943.4 L1368.0,924.3 L1370.2,945.7 L1372.7,956.9 L1376.1,926.6 L1378.3,952.4 L1379.9,937.8 L1382.2,950.2 L1384.4,951.3 L1387.1,974.4 L1390.0,959.2 L1391.8,947.5 L1394.5,932.2 L1397.9,926.6 L1400.6,906.3 L1402.4,952.4 L1404.0,974.4 L1406.2,936.7 L1410.3,929.9 L1412.1,969.3 L1414.8,951.3 L1417.0,947.9 L1419.3,926.6 L1422.0,920.9 L1423.8,951.3 L1426.5,913.7 L1428.7,938.9 L1431.6,964.8 L1433.9,927.7 L1435.0,964.8 L1436.6,928.8 L1439.5,915.3 L1441.1,938.9 L1442.9,928.8 L1445.1,967.0 L1448.0,961.4 L1449.6,949.0 L1453.0,943.4 L1455.7,952.4 L1458.6,930.4 L1460.4,947.9 L1462.6,964.8 L1464.2,926.6 L1466.5,945.7 L1468.7,928.8 L1471.0,970.4 L1474.3,918.2 L1475.9,956.9 L1479.3,898.9 L1481.1,954.7 L1482.9,964.8 L1484.9,925.4 L1487.8,961.4 L1489.4,970.4 L1492.3,936.7 L1493.9,982.8 L1496.1,937.8 L1497.9,917.6 L1500.6,934.4 L1502.4,968.2 L1505.4,922.7 L1507.4,965.9 L1509.2,987.3 L1511.0,947.9 L1513.7,969.3 L1515.9,949.0 L1518.6,942.3 L1521.8,1007.5 L1523.8,945.7 L1526.1,987.3 L1528.3,970.4 L1530.5,973.8 L1533.5,933.3 L1535.0,994.7 L1537.3,978.3 L1539.5,970.4 L1541.8,931.1 L1544.0,950.2 L1546.3,981.6 L1548.5,976.0 L1550.0,977.1 L1552.2,937.8 L1554.9,963.7 L1557.9,943.4 L1560.1,972.6 L1563.0,979.4 L1565.7,941.2 L1568.0,965.9 L1569.8,992.9 L1572.5,973.8 L1575.2,980.5 L1577.4,988.4 L1579.2,952.4 L1581.9,970.4 L1584.2,983.9 L1587.1,964.8 L1590.5,929.5 L1592.3,936.7 L1593.8,987.3 L1596.8,968.2 L1599.5,929.9 L1602.2,925.0 L1605.1,985.0 L1607.3,932.2 L1609.6,970.4 L1611.8,933.3 L1614.1,981.6 L1617.0,983.9 L1620.1,935.6 L1622.4,952.4 L1626.9,931.1 L1629.1,961.4 L1630.9,970.4 L1633.6,950.2 L1635.9,967.0 L1638.4,937.8 L1640.4,956.9 L1643.3,970.4 L1646.7,979.4 L1649.6,949.7 L1652.3,972.6 L1654.5,998.5 L1657.9,994.0 L1660.8,950.2 L1664.7,988.4 L1666.2,951.3 L1668.0,973.8 L1671.0,954.7 L1673.7,970.4 L1676.4,950.2 L1678.2,945.7 L1680.9,917.6 L1682.6,950.2 L1684.4,961.4 L1686.0,943.4 L1688.9,952.4 L1692.1,958.0 L1693.9,903.6 L1695.7,938.9 L1697.3,928.8 L1699.5,947.9 L1701.8,952.4 L1704.0,929.9 L1705.6,945.7 L1707.4,931.1 L1709.2,963.7 L1711.9,936.7 L1714.6,943.4 L1716.8,949.0 L1719.1,974.9 L1722.0,953.5 L1724.9,962.5 L1726.9,929.9 L1729.2,961.4 L1731.7,946.8 L1733.7,913.1 L1735.5,952.4 L1737.7,932.2 L1740.0,965.9 L1742.2,980.5 L1745.2,981.6 L1747.8,963.7 L1751.7,940.0 L1753.5,954.7 L1755.7,947.9 L1758.0,935.6 L1760.2,931.1 L1761.3,983.9 L1764.7,926.6 L1767.0,958.0 L1769.7,913.1 L1771.5,964.8 L1773.0,981.6 L1776.0,927.7 L1778.2,963.7 L1781.1,972.6 L1784.3,914.2 L1786.1,934.4 L1788.8,924.3 L1792.4,919.4 L1793.9,969.3 L1796.2,933.3 L1799.6,956.9 L1804.1,933.3 L1807.4,967.0 L1809.7,950.2 L1812.6,968.2 L1815.7,946.8 L1817.5,968.2 L1819.8,954.7 L1822.0,935.6 L1823.8,974.9 L1826.5,944.5 L1828.8,969.3 L1831.7,931.1 L1835.1,971.5 L1837.8,950.2 L1840.0,940.0 L1843.4,950.2 L1845.7,944.5 L1848.6,979.4 L1850.1,951.3 L1851.7,988.4 L1854.6,963.7 L1858.5,927.2 L1860.3,931.1 L1862.5,992.9 L1864.8,951.3 L1867.0,999.6 L1869.3,1000.8 L1871.5,1000.8 L1873.3,980.5 L1876.5,987.3 L1878.7,977.1 L1881.6,942.3 L1883.4,940.0 L1886.1,959.2 L1887.9,976.0 L1889.5,940.0 L1891.7,961.4 L1894.0,969.3 L1895.8,942.3 L1898.0,989.5 L1899.6,952.4 L1902.5,972.6 L1904.8,986.1 L1907.5,944.5 L1909.7,973.8 L1912.4,942.3 L1916.0,997.4 L1918.7,965.9 L1921.0,983.9 L1923.2,972.6 L1925.9,983.9 L1929.3,991.8 L1931.5,965.9 L1934.0,954.7 L1936.7,1008.6 L1940.5,967.7 L1943.0,979.4 L1945.7,1000.8 L1948.4,991.8 L1950.2,1014.2 L1952.9,997.4 L1954.7,996.3 L1956.9,1014.2 L1959.6,977.6 L1961.4,1001.9 L1963.2,1024.4 L1965.5,1001.9 L1967.7,1009.7 L1970.4,1008.6 L1973.1,1016.5 L1976.1,988.4 L1978.3,1006.4 L1981.0,970.0 L1983.5,995.1 L1985.7,1004.1 L1987.3,979.4 L1989.5,1007.5 L1991.8,997.4 L1994.7,1012.0 L1997.9,983.9 L2000.1,1008.6 L2001.5,1025.5 L2003.0,1013.1 L2005.3,1026.6" stroke="#808080" stroke-width="4.2" stroke-opacity="0.55"/>
</g>
<g stroke="#000" fill="none">
<rect x="164.6" y="10.8" width="1874.6" height="820.3" fill="none" stroke="#000" stroke-width="1.6"/>
<rect x="164.6" y="842.7" width="1874.6" height="273.3" fill="none" stroke="#000" stroke-width="1.6"/>
<path d="M284.6,10.8 V-0.5 M284.6,831.1 V842.7 M284.6,1116.0 V1127.3 M524.9,10.8 V-0.5 M524.9,831.1 V842.7 M524.9,1116.0 V1127.3 M765.2,10.8 V-0.5 M765.2,831.1 V842.7 M765.2,1116.0 V1127.3 M1005.6,10.8 V-0.5 M1005.6,831.1 V842.7 M1005.6,1116.0 V1127.3 M1245.9,10.8 V-0.5 M1245.9,831.1 V842.7 M1245.9,1116.0 V1127.3 M1486.2,10.8 V-0.5 M1486.2,831.1 V842.7 M1486.2,1116.0 V1127.3 M1726.6,10.8 V-0.5 M1726.6,831.1 V842.7 M1726.6,1116.0 V1127.3 M1966.9,10.8 V-0.5 M1966.9,831.1 V842.7 M1966.9,1116.0 V1127.3" stroke-width="3.6"/>
<path d="M153.3,791.2 H164.6 M2039.2,791.2 H2050.5 M153.3,613.8 H164.6 M2039.2,613.8 H2050.5 M153.3,436.4 H164.6 M2039.2,436.4 H2050.5 M153.3,259.0 H164.6 M2039.2,259.0 H2050.5 M153.3,81.6 H164.6 M2039.2,81.6 H2050.5 M153.3,1069.2 H164.6 M2039.2,1069.2 H2050.5 M153.3,956.6 H164.6 M2039.2,956.6 H2050.5 M153.3,844.0 H164.6 M2039.2,844.0 H2050.5" stroke-width="3.9"/>
</g>
<g font-family="'DejaVu Sans','Liberation Sans',sans-serif" font-size="43.2" fill="#000">
<text x="284.6" y="1166.0" text-anchor="middle">4500</text>
<text x="524.9" y="1166.0" text-anchor="middle">4750</text>
<text x="765.2" y="1166.0" text-anchor="middle">5000</text>
<text x="1005.6" y="1166.0" text-anchor="middle">5250</text>
<text x="1245.9" y="1166.0" text-anchor="middle">5500</text>
<text x="1486.2" y="1166.0" text-anchor="middle">5750</text>
<text x="1726.6" y="1166.0" text-anchor="middle">6000</text>
<text x="1966.9" y="1166.0" text-anchor="middle">6250</text>
<text x="147.6" y="807.1" text-anchor="end">0</text>
<text x="147.6" y="629.7" text-anchor="end">1</text>
<text x="147.6" y="452.3" text-anchor="end">2</text>
<text x="147.6" y="274.9" text-anchor="end">3</text>
<text x="147.6" y="97.5" text-anchor="end">4</text>
<text x="147.6" y="1085.1" text-anchor="end">−0.2</text>
<text x="147.6" y="972.5" text-anchor="end">0.0</text>
<text x="147.6" y="859.9" text-anchor="end">0.2</text>
<text x="1101" y="1220.6" text-anchor="middle">λ<tspan font-size="30.3" dy="6.5">rest</tspan><tspan dy="-6.5"> [Å]</tspan></text>
<text transform="translate(53.6,596.0) rotate(-90)" text-anchor="middle">F<tspan font-size="30.3" dy="6.5">λ</tspan><tspan dy="-6.5"> [10</tspan><tspan font-size="30.3" dy="-16">−15</tspan><tspan dy="16"> erg s</tspan><tspan font-size="30.3" dy="-16">−1</tspan><tspan dy="16"> cm</tspan><tspan font-size="30.3" dy="-16">−2</tspan><tspan dy="16"> Å</tspan><tspan font-size="30.3" dy="-16">−1</tspan><tspan dy="16">]</tspan></text>
</g>
<g font-family="'DejaVu Sans','Liberation Sans',sans-serif" font-size="32.2" fill="#000">
<clipPath id="i1"><rect x="919.0" y="50.2" width="646.4" height="142.5"/></clipPath>
<rect x="919.0" y="50.2" width="646.4" height="142.5" fill="#fff"/>
<g clip-path="url(#i1)" fill="none" stroke-linejoin="round">
<path d="M904.1,170.2 L905.1,170.7 L906.0,171.3 L907.0,171.9 L908.0,172.4 L909.0,172.7 L910.0,172.5 L910.9,172.2 L911.9,171.9 L912.9,171.4 L913.9,171.0 L914.9,171.4 L915.8,172.0 L916.8,172.6 L917.8,173.2 L918.8,173.7 L919.7,173.0 L920.7,172.2 L921.7,171.5 L922.7,170.8 L923.7,170.1 L924.6,169.5 L925.6,169.0 L926.6,168.6 L927.6,168.2 L928.6,168.4 L929.5,168.9 L930.5,169.4 L931.5,169.9 L932.5,170.5 L933.5,170.2 L934.4,170.0 L935.4,169.8 L936.4,169.6 L937.4,169.4 L938.4,169.2 L939.3,169.0 L940.3,168.9 L941.3,168.8 L942.3,168.7 L943.3,168.7 L944.2,168.6 L945.2,168.9 L946.2,169.6 L947.2,170.2 L948.2,170.9 L949.1,171.5 L950.1,171.3 L951.1,170.9 L952.1,170.6 L953.0,170.2 L954.0,169.8 L955.0,169.9 L956.0,170.2 L957.0,170.5 L957.9,170.8 L958.9,171.0 L959.9,171.2 L960.9,170.3 L961.9,169.4 L962.8,168.5 L963.8,167.7 L964.8,166.9 L965.8,166.4 L966.8,166.6 L967.7,166.9 L968.7,167.1 L969.7,167.4 L970.7,167.3 L971.7,167.0 L972.6,166.8 L973.6,166.5 L974.6,166.1 L975.6,166.2 L976.6,166.5 L977.5,166.8 L978.5,167.1 L979.5,167.4 L980.5,167.7 L981.5,168.0 L982.4,168.0 L983.4,167.8 L984.4,167.6 L985.4,167.5 L986.3,167.4 L987.3,167.4 L988.3,167.7 L989.3,168.2 L990.3,168.6 L991.2,168.9 L992.2,169.1 L993.2,168.9 L994.2,168.6 L995.2,168.3 L996.1,168.0 L997.1,167.8 L998.1,167.7 L999.1,167.7 L1000.1,167.6 L1001.0,167.5 L1002.0,167.4 L1003.0,167.4 L1004.0,167.0 L1005.0,166.5 L1005.9,166.0 L1006.9,165.5 L1007.9,165.0 L1008.9,164.4 L1009.9,163.9 L1010.8,163.3 L1011.8,162.7 L1012.8,162.1 L1013.8,161.4 L1014.8,160.8 L1015.7,160.1 L1016.7,159.9 L1017.7,159.7 L1018.7,159.6 L1019.6,159.5 L1020.6,159.2 L1021.6,159.0 L1022.6,158.7 L1023.6,159.5 L1024.5,160.4 L1025.5,160.1 L1026.5,158.9 L1027.5,157.8 L1028.5,156.6 L1029.4,156.7 L1030.4,157.1 L1031.4,157.5 L1032.4,157.9 L1033.4,158.3 L1034.3,158.3 L1035.3,157.2 L1036.3,156.0 L1037.3,154.9 L1038.3,153.7 L1039.2,153.1 L1040.2,153.0 L1041.2,152.8 L1042.2,152.6 L1043.2,152.3 L1044.1,152.0 L1045.1,151.8 L1046.1,151.8 L1047.1,151.8 L1048.0,151.7 L1049.0,151.6 L1050.0,151.7 L1051.0,151.8 L1052.0,151.8 L1052.9,150.9 L1053.9,148.9 L1054.9,146.9 L1055.9,144.8 L1056.9,143.7 L1057.8,142.7 L1058.8,141.7 L1059.8,140.6 L1060.8,139.4 L1061.8,138.4 L1062.7,137.2 L1063.7,136.0 L1064.7,134.8 L1065.7,133.4 L1066.7,131.3 L1067.6,128.4 L1068.6,125.5 L1069.6,122.5 L1070.6,119.4 L1071.6,117.6 L1072.5,116.1 L1073.5,114.5 L1074.5,112.9 L1075.5,111.1 L1076.5,107.9 L1077.4,104.7 L1078.4,101.5 L1079.4,98.2 L1080.4,95.0 L1081.3,91.8 L1082.3,89.2 L1083.3,86.5 L1084.3,84.0 L1085.3,81.4 L1086.2,79.0 L1087.2,75.9 L1088.2,72.0 L1089.2,68.4 L1090.2,66.4 L1091.1,64.6 L1092.1,62.9 L1093.1,61.4 L1094.1,60.2 L1095.1,59.2 L1096.0,58.4 L1097.0,57.7 L1098.0,57.1 L1099.0,56.5 L1100.0,56.2 L1100.9,56.0 L1101.9,56.1 L1102.9,56.3 L1103.9,56.2 L1104.9,56.3 L1105.8,56.6 L1106.8,57.1 L1107.8,57.7 L1108.8,58.5 L1109.8,61.2 L1110.7,64.0 L1111.7,67.0 L1112.7,70.1 L1113.7,73.1 L1114.6,75.5 L1115.6,78.0 L1116.6,80.6 L1117.6,83.2 L1118.6,86.4 L1119.5,89.9 L1120.5,92.9 L1121.5,94.5 L1122.5,96.1 L1123.5,99.2 L1124.4,102.4 L1125.4,105.6 L1126.4,108.7 L1127.4,111.8 L1128.4,114.8 L1129.3,117.8 L1130.3,120.2 L1131.3,122.6 L1132.3,124.8 L1133.3,127.0 L1134.2,129.1 L1135.2,131.2 L1136.2,132.6 L1137.2,133.8 L1138.2,135.0 L1139.1,136.1 L1140.1,137.1 L1141.1,138.1 L1142.1,139.2 L1143.1,140.2 L1144.0,141.1 L1145.0,142.0 L1146.0,143.3 L1147.0,145.1 L1147.9,146.8 L1148.9,148.4 L1149.9,150.0 L1150.9,151.4 L1151.9,152.7 L1152.8,153.0 L1153.8,152.9 L1154.8,152.8 L1155.8,152.7 L1156.8,152.5 L1157.7,152.3 L1158.7,152.4 L1159.7,153.5 L1160.7,154.4 L1161.7,155.3 L1162.6,155.9 L1163.6,156.5 L1164.6,157.0 L1165.6,156.6 L1166.6,156.3 L1167.5,156.2 L1168.5,156.0 L1169.5,155.9 L1170.5,155.8 L1171.5,155.7 L1172.4,156.4 L1173.4,157.2 L1174.4,157.9 L1175.4,158.7 L1176.4,159.5 L1177.3,160.3 L1178.3,160.9 L1179.3,161.0 L1180.3,160.9 L1181.2,160.7 L1182.2,160.5 L1183.2,160.3 L1184.2,160.0 L1185.2,159.8 L1186.1,160.0 L1187.1,160.2 L1188.1,160.5 L1189.1,160.8 L1190.1,160.9 L1191.0,160.5 L1192.0,160.2 L1193.0,159.8 L1194.0,159.8 L1195.0,159.9 L1195.9,159.9 L1196.9,159.9 L1197.9,159.9 L1198.9,159.8 L1199.9,159.7 L1200.8,159.6 L1201.8,159.9 L1202.8,160.4 L1203.8,161.1 L1204.8,161.4 L1205.7,161.6 L1206.7,161.8 L1207.7,162.1 L1208.7,162.3 L1209.6,161.5 L1210.6,160.4 L1211.6,159.2 L1212.6,158.1 L1213.6,158.5 L1214.5,158.8 L1215.5,159.0 L1216.5,159.1 L1217.5,159.3 L1218.5,159.6 L1219.4,159.9 L1220.4,160.2 L1221.4,160.5 L1222.4,160.5 L1223.4,160.4 L1224.3,160.3 L1225.3,160.2 L1226.3,160.1 L1227.3,158.5 L1228.3,156.9 L1229.2,156.5 L1230.2,156.8 L1231.2,157.3 L1232.2,157.8 L1233.2,158.4 L1234.1,158.5 L1235.1,158.7 L1236.1,158.8 L1237.1,158.9 L1238.1,159.2 L1239.0,159.8 L1240.0,160.5 L1241.0,161.1 L1242.0,161.7 L1242.9,161.7 L1243.9,161.4 L1244.9,161.1 L1245.9,160.7 L1246.9,161.2 L1247.8,161.8 L1248.8,162.4 L1249.8,163.1 L1250.8,163.6 L1251.8,164.1 L1252.7,164.6 L1253.7,164.8 L1254.7,165.1 L1255.7,165.3 L1256.7,165.5 L1257.6,165.7 L1258.6,165.8 L1259.6,166.0 L1260.6,166.1 L1261.6,166.4 L1262.5,166.7 L1263.5,166.9 L1264.5,167.0 L1265.5,167.0 L1266.5,167.1 L1267.4,167.1 L1268.4,167.1 L1269.4,167.6 L1270.4,168.1 L1271.4,168.6 L1272.3,168.6 L1273.3,167.6 L1274.3,166.5 L1275.3,165.3 L1276.2,164.0 L1277.2,162.6 L1278.2,161.1 L1279.2,159.8 L1280.2,159.6 L1281.1,159.4 L1282.1,159.1 L1283.1,157.3 L1284.1,155.4 L1285.1,153.5 L1286.0,151.7 L1287.0,150.0 L1288.0,148.5 L1289.0,147.1 L1290.0,147.3 L1290.9,147.8 L1291.9,148.6 L1292.9,149.3 L1293.9,149.1 L1294.9,149.1 L1295.8,149.3 L1296.8,151.4 L1297.8,153.8 L1298.8,156.4 L1299.8,158.7 L1300.7,159.2 L1301.7,159.8 L1302.7,160.4 L1303.7,160.9 L1304.7,161.3 L1305.6,161.9 L1306.6,162.6 L1307.6,163.2 L1308.6,163.7 L1309.5,164.1 L1310.5,164.4 L1311.5,164.6 L1312.5,164.7 L1313.5,166.2 L1314.4,167.7 L1315.4,169.0 L1316.4,170.3 L1317.4,171.6 L1318.4,172.2 L1319.3,172.0 L1320.3,171.7 L1321.3,171.4 L1322.3,171.1 L1323.3,170.7 L1324.2,171.7 L1325.2,172.9 L1326.2,174.1 L1327.2,175.2 L1328.2,175.5 L1329.1,175.7 L1330.1,176.1 L1331.1,175.9 L1332.1,174.9 L1333.1,173.8 L1334.0,172.7 L1335.0,171.6 L1336.0,171.7 L1337.0,172.3 L1338.0,172.7 L1338.9,173.0 L1339.9,172.8 L1340.9,172.2 L1341.9,171.5 L1342.8,170.8 L1343.8,170.7 L1344.8,170.9 L1345.8,171.2 L1346.8,171.6 L1347.7,171.9 L1348.7,171.7 L1349.7,171.5 L1350.7,171.3 L1351.7,171.0 L1352.6,170.8 L1353.6,170.5 L1354.6,170.6 L1355.6,170.8 L1356.6,170.8 L1357.5,170.9 L1358.5,170.8 L1359.5,170.4 L1360.5,169.4 L1361.5,168.2 L1362.4,166.9 L1363.4,165.4 L1364.4,164.3 L1365.4,163.4 L1366.4,162.1 L1367.3,160.6 L1368.3,157.5 L1369.3,153.9 L1370.3,149.9 L1371.2,145.7 L1372.2,141.2 L1373.2,137.0 L1374.2,133.6 L1375.2,130.1 L1376.1,126.6 L1377.1,122.3 L1378.1,117.5 L1379.1,113.0 L1380.1,109.2 L1381.0,107.2 L1382.0,105.9 L1383.0,105.0 L1384.0,104.8 L1385.0,104.1 L1385.9,103.4 L1386.9,103.6 L1387.9,104.4 L1388.9,105.7 L1389.9,108.7 L1390.8,112.2 L1391.8,116.2 L1392.8,120.4 L1393.8,124.8 L1394.8,129.3 L1395.7,133.8 L1396.7,138.2 L1397.7,142.5 L1398.7,146.5 L1399.7,150.0 L1400.6,152.4 L1401.6,154.4 L1402.6,156.2 L1403.6,157.6 L1404.5,158.7 L1405.5,159.6 L1406.5,160.3 L1407.5,160.7 L1408.5,161.0 L1409.4,161.1 L1410.4,161.3 L1411.4,161.6 L1412.4,161.7 L1413.4,161.7 L1414.3,161.8 L1415.3,162.0 L1416.3,162.4 L1417.3,162.8 L1418.3,163.2 L1419.2,163.6 L1420.2,163.9 L1421.2,164.2 L1422.2,164.3 L1423.2,164.3 L1424.1,164.4 L1425.1,164.4 L1426.1,164.4 L1427.1,164.9 L1428.1,165.7 L1429.0,166.4 L1430.0,167.0 L1431.0,167.6 L1432.0,168.2 L1433.0,168.7 L1433.9,168.3 L1434.9,167.1 L1435.9,165.9 L1436.9,165.9 L1437.8,166.3 L1438.8,166.8 L1439.8,167.3 L1440.8,167.7 L1441.8,168.0 L1442.7,168.2 L1443.7,168.4 L1444.7,168.6 L1445.7,168.8 L1446.7,169.4 L1447.6,170.3 L1448.6,171.1 L1449.6,171.9 L1450.6,172.5 L1451.6,172.2 L1452.5,171.7 L1453.5,171.2 L1454.5,171.2 L1455.5,171.8 L1456.5,172.4 L1457.4,173.0 L1458.4,173.6 L1459.4,174.3 L1460.4,175.1 L1461.4,175.7 L1462.3,176.3 L1463.3,176.8 L1464.3,176.8 L1465.3,176.3 L1466.3,175.9 L1467.2,175.4 L1468.2,174.8 L1469.2,174.0 L1470.2,173.6 L1471.1,173.1 L1472.1,172.7 L1473.1,172.2 L1474.1,171.8 L1475.1,171.3 L1476.0,171.0 L1477.0,172.3 L1478.0,173.6 L1479.0,174.9 L1480.0,175.1 L1480.9,174.9 L1481.9,174.8 L1482.9,174.7 L1483.9,174.5 L1484.9,174.4 L1485.8,174.3 L1486.8,174.2 L1487.8,174.2 L1488.8,174.5 L1489.8,174.9 L1490.7,175.3 L1491.7,175.6 L1492.7,175.7 L1493.7,175.8 L1494.7,175.9 L1495.6,176.1 L1496.6,176.2 L1497.6,176.6 L1498.6,177.0 L1499.6,177.3 L1500.5,177.5 L1501.5,177.6 L1502.5,177.5 L1503.5,177.4 L1504.4,177.3 L1505.4,177.2 L1506.4,177.0 L1507.4,176.7 L1508.4,176.3 L1509.3,176.0 L1510.3,175.8 L1511.3,176.5 L1512.3,177.3 L1513.3,178.1 L1514.2,178.9 L1515.2,179.7 L1516.2,180.0 L1517.2,179.6 L1518.2,179.2 L1519.1,178.9 L1520.1,178.6 L1521.1,178.3 L1522.1,178.0 L1523.1,177.5 L1524.0,176.9 L1525.0,176.4 L1526.0,175.9 L1527.0,176.3 L1528.0,177.4 L1528.9,178.5 L1529.9,179.5 L1530.9,180.4 L1531.9,181.3 L1532.8,182.1 L1533.8,181.6 L1534.8,180.0 L1535.8,178.5 L1536.8,176.9 L1537.7,177.2 L1538.7,177.8 L1539.7,178.5 L1540.7,179.2 L1541.7,179.7 L1542.6,179.1 L1543.6,178.6 L1544.6,178.1 L1545.6,177.6 L1546.6,177.1 L1547.5,177.4 L1548.5,178.4 L1549.5,179.4 L1550.5,180.3 L1551.5,180.5 L1552.4,180.5 L1553.4,180.5 L1554.4,180.6 L1555.4,180.6 L1556.4,180.3 L1557.3,179.9 L1558.3,179.6 L1559.3,179.2 L1560.3,178.8 L1561.3,178.6 L1562.2,178.4 L1563.2,178.1 L1564.2,177.8 L1565.2,177.3 L1566.1,176.9 L1567.1,177.6 L1568.1,178.4 L1569.1,179.2 L1570.1,180.1 L1571.0,180.7 L1572.0,180.6 L1573.0,180.5 L1574.0,180.4 L1575.0,180.3 L1575.9,179.9 L1576.9,179.3 L1577.9,178.6 L1578.9,178.0 L1579.9,177.4 L1580.8,176.7 L1580.8,180.4 L1579.9,181.1 L1578.9,181.7 L1577.9,182.3 L1576.9,182.9 L1575.9,183.5 L1575.0,183.9 L1574.0,184.0 L1573.0,184.1 L1572.0,184.2 L1571.0,184.3 L1570.1,183.7 L1569.1,182.9 L1568.1,182.1 L1567.1,181.3 L1566.1,180.6 L1565.2,181.0 L1564.2,181.5 L1563.2,181.8 L1562.2,182.1 L1561.3,182.2 L1560.3,182.5 L1559.3,182.9 L1558.3,183.2 L1557.3,183.5 L1556.4,183.9 L1555.4,184.2 L1554.4,184.2 L1553.4,184.1 L1552.4,184.1 L1551.5,184.1 L1550.5,184.0 L1549.5,183.0 L1548.5,182.0 L1547.5,181.1 L1546.6,180.8 L1545.6,181.3 L1544.6,181.8 L1543.6,182.3 L1542.6,182.8 L1541.7,183.3 L1540.7,182.9 L1539.7,182.2 L1538.7,181.5 L1537.7,180.9 L1536.8,180.6 L1535.8,182.1 L1534.8,183.6 L1533.8,185.2 L1532.8,185.7 L1531.9,184.9 L1530.9,184.0 L1529.9,183.2 L1528.9,182.2 L1528.0,181.1 L1527.0,180.0 L1526.0,179.6 L1525.0,180.1 L1524.0,180.6 L1523.1,181.2 L1522.1,181.7 L1521.1,182.0 L1520.1,182.3 L1519.1,182.6 L1518.2,182.9 L1517.2,183.3 L1516.2,183.7 L1515.2,183.3 L1514.2,182.5 L1513.3,181.8 L1512.3,181.0 L1511.3,180.2 L1510.3,179.5 L1509.3,179.8 L1508.4,180.0 L1507.4,180.4 L1506.4,180.7 L1505.4,180.9 L1504.4,181.0 L1503.5,181.1 L1502.5,181.2 L1501.5,181.3 L1500.5,181.2 L1499.6,181.0 L1498.6,180.7 L1497.6,180.3 L1496.6,179.9 L1495.6,179.8 L1494.7,179.7 L1493.7,179.5 L1492.7,179.4 L1491.7,179.3 L1490.7,179.1 L1489.8,178.6 L1488.8,178.3 L1487.8,178.0 L1486.8,178.0 L1485.8,178.1 L1484.9,178.2 L1483.9,178.3 L1482.9,178.4 L1481.9,178.5 L1480.9,178.7 L1480.0,178.8 L1479.0,178.7 L1478.0,177.4 L1477.0,176.1 L1476.0,174.8 L1475.1,175.1 L1474.1,175.6 L1473.1,176.0 L1472.1,176.5 L1471.1,176.9 L1470.2,177.4 L1469.2,177.8 L1468.2,178.5 L1467.2,179.1 L1466.3,179.6 L1465.3,180.1 L1464.3,180.5 L1463.3,180.5 L1462.3,180.0 L1461.4,179.5 L1460.4,178.8 L1459.4,178.1 L1458.4,177.4 L1457.4,176.8 L1456.5,176.2 L1455.5,175.6 L1454.5,175.0 L1453.5,175.0 L1452.5,175.6 L1451.6,176.0 L1450.6,176.3 L1449.6,175.7 L1448.6,174.9 L1447.6,174.1 L1446.7,173.3 L1445.7,172.7 L1444.7,172.5 L1443.7,172.3 L1442.7,172.1 L1441.8,171.9 L1440.8,171.7 L1439.8,171.2 L1438.8,170.7 L1437.8,170.3 L1436.9,169.9 L1435.9,169.9 L1434.9,171.0 L1433.9,172.2 L1433.0,172.6 L1432.0,172.1 L1431.0,171.5 L1430.0,171.0 L1429.0,170.4 L1428.1,169.6 L1427.1,168.9 L1426.1,168.4 L1425.1,168.4 L1424.1,168.4 L1423.2,168.3 L1422.2,168.3 L1421.2,168.2 L1420.2,167.9 L1419.2,167.6 L1418.3,167.2 L1417.3,166.8 L1416.3,166.5 L1415.3,166.1 L1414.3,165.9 L1413.4,165.8 L1412.4,165.7 L1411.4,165.6 L1410.4,165.4 L1409.4,165.1 L1408.5,165.1 L1407.5,164.8 L1406.5,164.4 L1405.5,163.7 L1404.5,162.8 L1403.6,161.8 L1402.6,160.4 L1401.6,158.7 L1400.6,156.7 L1399.7,154.4 L1398.7,150.9 L1397.7,146.9 L1396.7,142.8 L1395.7,138.4 L1394.8,134.0 L1393.8,129.6 L1392.8,125.3 L1391.8,121.1 L1390.8,117.3 L1389.9,113.8 L1388.9,110.9 L1387.9,109.5 L1386.9,108.8 L1385.9,108.6 L1385.0,109.3 L1384.0,110.0 L1383.0,110.2 L1382.0,111.0 L1381.0,112.4 L1380.1,114.3 L1379.1,118.0 L1378.1,122.4 L1377.1,127.2 L1376.1,131.4 L1375.2,134.8 L1374.2,138.3 L1373.2,141.6 L1372.2,145.7 L1371.2,150.1 L1370.3,154.3 L1369.3,158.1 L1368.3,161.7 L1367.3,164.7 L1366.4,166.2 L1365.4,167.4 L1364.4,168.3 L1363.4,169.3 L1362.4,170.8 L1361.5,172.1 L1360.5,173.3 L1359.5,174.3 L1358.5,174.7 L1357.5,174.7 L1356.6,174.7 L1355.6,174.6 L1354.6,174.5 L1353.6,174.3 L1352.6,174.6 L1351.7,174.9 L1350.7,175.1 L1349.7,175.3 L1348.7,175.5 L1347.7,175.7 L1346.8,175.4 L1345.8,175.1 L1344.8,174.8 L1343.8,174.6 L1342.8,174.7 L1341.9,175.3 L1340.9,176.0 L1339.9,176.6 L1338.9,176.8 L1338.0,176.5 L1337.0,176.1 L1336.0,175.5 L1335.0,175.4 L1334.0,176.5 L1333.1,177.6 L1332.1,178.6 L1331.1,179.7 L1330.1,179.8 L1329.1,179.5 L1328.2,179.2 L1327.2,178.9 L1326.2,177.8 L1325.2,176.7 L1324.2,175.5 L1323.3,174.6 L1322.3,174.9 L1321.3,175.2 L1320.3,175.5 L1319.3,175.8 L1318.4,176.0 L1317.4,175.5 L1316.4,174.2 L1315.4,172.9 L1314.4,171.6 L1313.5,170.2 L1312.5,168.7 L1311.5,168.5 L1310.5,168.4 L1309.5,168.1 L1308.6,167.7 L1307.6,167.2 L1306.6,166.7 L1305.6,166.0 L1304.7,165.4 L1303.7,165.0 L1302.7,164.4 L1301.7,163.9 L1300.7,163.4 L1299.8,162.8 L1298.8,160.6 L1297.8,158.1 L1296.8,155.7 L1295.8,153.7 L1294.9,153.5 L1293.9,153.5 L1292.9,153.6 L1291.9,152.9 L1290.9,152.2 L1290.0,151.7 L1289.0,151.5 L1288.0,152.9 L1287.0,154.3 L1286.0,156.0 L1285.1,157.7 L1284.1,159.6 L1283.1,161.5 L1282.1,163.2 L1281.1,163.5 L1280.2,163.7 L1279.2,163.9 L1278.2,165.1 L1277.2,166.6 L1276.2,168.0 L1275.3,169.3 L1274.3,170.5 L1273.3,171.5 L1272.3,172.5 L1271.4,172.5 L1270.4,172.0 L1269.4,171.5 L1268.4,171.0 L1267.4,171.0 L1266.5,171.0 L1265.5,171.0 L1264.5,170.9 L1263.5,170.8 L1262.5,170.6 L1261.6,170.3 L1260.6,170.1 L1259.6,169.9 L1258.6,169.8 L1257.6,169.7 L1256.7,169.5 L1255.7,169.3 L1254.7,169.1 L1253.7,168.8 L1252.7,168.6 L1251.8,168.2 L1250.8,167.7 L1249.8,167.1 L1248.8,166.5 L1247.8,165.9 L1246.9,165.3 L1245.9,164.8 L1244.9,165.1 L1243.9,165.5 L1242.9,165.8 L1242.0,165.8 L1241.0,165.2 L1240.0,164.6 L1239.0,163.9 L1238.1,163.3 L1237.1,163.1 L1236.1,162.9 L1235.1,162.8 L1234.1,162.7 L1233.2,162.5 L1232.2,162.0 L1231.2,161.4 L1230.2,161.0 L1229.2,160.7 L1228.3,161.0 L1227.3,162.6 L1226.3,164.2 L1225.3,164.3 L1224.3,164.4 L1223.4,164.5 L1222.4,164.6 L1221.4,164.6 L1220.4,164.3 L1219.4,164.0 L1218.5,163.7 L1217.5,163.4 L1216.5,163.2 L1215.5,163.1 L1214.5,162.9 L1213.6,162.6 L1212.6,162.3 L1211.6,163.4 L1210.6,164.5 L1209.6,165.6 L1208.7,166.3 L1207.7,166.1 L1206.7,165.9 L1205.7,165.7 L1204.8,165.5 L1203.8,165.1 L1202.8,164.5 L1201.8,164.0 L1200.8,163.7 L1199.9,163.8 L1198.9,163.9 L1197.9,164.0 L1196.9,164.0 L1195.9,164.0 L1195.0,164.0 L1194.0,163.9 L1193.0,163.9 L1192.0,164.3 L1191.0,164.6 L1190.1,165.0 L1189.1,164.9 L1188.1,164.6 L1187.1,164.3 L1186.1,164.1 L1185.2,163.9 L1184.2,164.1 L1183.2,164.4 L1182.2,164.6 L1181.2,164.8 L1180.3,165.0 L1179.3,165.1 L1178.3,165.0 L1177.3,164.4 L1176.4,163.6 L1175.4,162.8 L1174.4,162.1 L1173.4,161.3 L1172.4,160.6 L1171.5,159.9 L1170.5,159.9 L1169.5,160.1 L1168.5,160.2 L1167.5,160.3 L1166.6,160.5 L1165.6,160.8 L1164.6,161.2 L1163.6,160.7 L1162.6,160.1 L1161.7,159.5 L1160.7,158.7 L1159.7,157.7 L1158.7,156.6 L1157.7,156.6 L1156.8,156.8 L1155.8,157.0 L1154.8,157.1 L1153.8,157.2 L1152.8,157.3 L1151.9,157.0 L1150.9,155.7 L1149.9,154.3 L1148.9,152.8 L1147.9,151.2 L1147.0,149.5 L1146.0,147.8 L1145.0,146.4 L1144.0,145.6 L1143.1,144.7 L1142.1,143.7 L1141.1,142.6 L1140.1,141.7 L1139.1,140.7 L1138.2,139.6 L1137.2,138.5 L1136.2,137.3 L1135.2,135.9 L1134.2,133.9 L1133.3,131.8 L1132.3,129.6 L1131.3,127.4 L1130.3,125.1 L1129.3,122.7 L1128.4,119.8 L1127.4,116.8 L1126.4,113.8 L1125.4,110.7 L1124.4,107.6 L1123.5,104.5 L1122.5,101.4 L1121.5,99.8 L1120.5,98.3 L1119.5,95.3 L1118.6,91.9 L1117.6,88.8 L1116.6,86.1 L1115.6,83.6 L1114.6,81.1 L1113.7,78.8 L1112.7,75.9 L1111.7,72.8 L1110.7,69.9 L1109.8,67.1 L1108.8,64.4 L1107.8,63.6 L1106.8,63.0 L1105.8,62.5 L1104.9,62.3 L1103.9,62.2 L1102.9,62.3 L1101.9,62.1 L1100.9,62.0 L1100.0,62.2 L1099.0,62.5 L1098.0,63.0 L1097.0,63.7 L1096.0,64.3 L1095.1,65.1 L1094.1,66.1 L1093.1,67.3 L1092.1,68.7 L1091.1,70.4 L1090.2,72.2 L1089.2,74.2 L1088.2,77.7 L1087.2,81.6 L1086.2,84.6 L1085.3,87.0 L1084.3,89.5 L1083.3,92.0 L1082.3,94.6 L1081.3,97.2 L1080.4,100.4 L1079.4,103.5 L1078.4,106.7 L1077.4,109.9 L1076.5,113.0 L1075.5,116.1 L1074.5,117.9 L1073.5,119.5 L1072.5,121.1 L1071.6,122.5 L1070.6,124.3 L1069.6,127.3 L1068.6,130.3 L1067.6,133.2 L1066.7,136.0 L1065.7,138.0 L1064.7,139.4 L1063.7,140.6 L1062.7,141.8 L1061.8,142.9 L1060.8,143.9 L1059.8,145.1 L1058.8,146.1 L1057.8,147.2 L1056.9,148.1 L1055.9,149.2 L1054.9,151.3 L1053.9,153.2 L1052.9,155.1 L1052.0,156.1 L1051.0,156.1 L1050.0,156.0 L1049.0,155.9 L1048.0,156.0 L1047.1,156.1 L1046.1,156.1 L1045.1,156.1 L1044.1,156.3 L1043.2,156.6 L1042.2,156.8 L1041.2,157.1 L1040.2,157.3 L1039.2,157.4 L1038.3,157.9 L1037.3,159.1 L1036.3,160.2 L1035.3,161.3 L1034.3,162.4 L1033.4,162.4 L1032.4,162.0 L1031.4,161.6 L1030.4,161.3 L1029.4,160.9 L1028.5,160.7 L1027.5,161.9 L1026.5,163.1 L1025.5,164.2 L1024.5,164.5 L1023.6,163.7 L1022.6,162.8 L1021.6,163.1 L1020.6,163.3 L1019.6,163.6 L1018.7,163.7 L1017.7,163.9 L1016.7,164.0 L1015.7,164.2 L1014.8,164.9 L1013.8,165.5 L1012.8,166.1 L1011.8,166.7 L1010.8,167.3 L1009.9,167.9 L1008.9,168.4 L1007.9,168.9 L1006.9,169.5 L1005.9,170.0 L1005.0,170.5 L1004.0,171.0 L1003.0,171.3 L1002.0,171.4 L1001.0,171.4 L1000.1,171.5 L999.1,171.6 L998.1,171.7 L997.1,171.7 L996.1,171.9 L995.2,172.2 L994.2,172.5 L993.2,172.8 L992.2,173.0 L991.2,172.8 L990.3,172.5 L989.3,172.1 L988.3,171.7 L987.3,171.3 L986.3,171.3 L985.4,171.4 L984.4,171.5 L983.4,171.7 L982.4,171.9 L981.5,172.0 L980.5,171.7 L979.5,171.4 L978.5,171.1 L977.5,170.8 L976.6,170.5 L975.6,170.1 L974.6,170.1 L973.6,170.4 L972.6,170.7 L971.7,171.0 L970.7,171.2 L969.7,171.3 L968.7,171.0 L967.7,170.8 L966.8,170.6 L965.8,170.4 L964.8,170.8 L963.8,171.6 L962.8,172.4 L961.9,173.3 L960.9,174.2 L959.9,175.0 L958.9,174.9 L957.9,174.7 L957.0,174.4 L956.0,174.1 L955.0,173.7 L954.0,173.7 L953.0,174.1 L952.1,174.4 L951.1,174.8 L950.1,175.1 L949.1,175.3 L948.2,174.7 L947.2,174.1 L946.2,173.5 L945.2,172.8 L944.2,172.5 L943.3,172.6 L942.3,172.6 L941.3,172.7 L940.3,172.8 L939.3,172.9 L938.4,173.0 L937.4,173.2 L936.4,173.5 L935.4,173.7 L934.4,173.9 L933.5,174.1 L932.5,174.3 L931.5,173.8 L930.5,173.3 L929.5,172.8 L928.6,172.3 L927.6,172.1 L926.6,172.5 L925.6,172.9 L924.6,173.4 L923.7,173.9 L922.7,174.6 L921.7,175.3 L920.7,176.0 L919.7,176.8 L918.8,177.5 L917.8,177.0 L916.8,176.4 L915.8,175.8 L914.9,175.2 L913.9,174.8 L912.9,175.3 L911.9,175.7 L910.9,176.0 L910.0,176.3 L909.0,176.5 L908.0,176.3 L907.0,175.7 L906.0,175.1 L905.1,174.6 L904.1,174.0Z" fill="#808080" fill-opacity="0.6" stroke="none"/>
<path d="M903.9,172.1 L904.0,172.1 L904.7,172.4 L907.2,173.9 L908.6,174.7 L909.8,174.4 L911.9,173.8 L912.3,173.6 L914.1,172.8 L914.9,173.3 L917.4,174.9 L918.7,175.7 L919.9,174.7 L921.4,173.6 L922.5,172.9 L924.2,171.6 L925.0,171.2 L927.6,170.1 L927.8,170.0 L930.1,171.1 L931.0,171.6 L932.4,172.4 L932.7,172.3 L935.2,171.8 L937.8,171.2 L938.9,171.0 L939.3,170.9 L940.3,170.8 L942.9,170.7 L944.8,170.6 L945.4,171.0 L948.0,172.7 L948.5,173.0 L949.4,173.5 L950.5,173.1 L953.0,172.1 L954.4,171.6 L955.6,172.0 L958.0,172.8 L958.1,172.8 L958.2,172.8 L959.4,173.0 L959.9,173.1 L960.5,172.6 L960.7,172.4 L961.7,171.5 L962.9,170.5 L963.2,170.1 L964.1,169.4 L965.2,168.5 L965.4,168.4 L965.8,168.4 L966.0,168.4 L966.4,168.5 L967.6,168.8 L968.3,169.0 L968.8,169.1 L969.9,169.4 L970.0,169.4 L970.9,169.2 L971.1,169.1 L972.3,168.8 L973.4,168.5 L973.5,168.5 L974.0,168.3 L974.6,168.1 L975.0,168.0 L975.8,168.2 L976.0,168.3 L977.0,168.6 L978.2,169.0 L978.5,169.1 L979.3,169.3 L980.5,169.7 L981.1,169.9 L981.7,170.1 L981.9,170.1 L982.9,169.9 L983.5,169.7 L983.6,169.7 L984.0,169.6 L985.2,169.5 L986.2,169.4 L986.4,169.4 L987.4,169.3 L987.6,169.4 L988.7,169.9 L988.7,169.9 L989.9,170.4 L991.1,170.8 L991.2,170.9 L992.0,171.1 L992.3,171.1 L993.1,170.9 L993.4,170.8 L993.8,170.7 L994.6,170.4 L995.8,170.0 L996.3,169.9 L996.5,169.8 L997.0,169.8 L998.1,169.7 L998.9,169.6 L999.3,169.6 L1000.5,169.5 L1001.4,169.4 L1001.7,169.4 L1002.6,169.4 L1002.8,169.3 L1003.4,169.3 L1004.0,169.0 L1004.0,169.0 L1005.2,168.4 L1006.4,167.8 L1006.5,167.7 L1007.5,167.1 L1008.7,166.5 L1009.1,166.3 L1009.9,165.9 L1010.3,165.6 L1011.1,165.2 L1011.6,164.8 L1012.2,164.5 L1012.2,164.5 L1013.4,163.7 L1014.2,163.2 L1014.6,162.9 L1015.8,162.2 L1015.8,162.2 L1016.7,162.0 L1016.9,161.9 L1018.1,161.7 L1018.6,161.6 L1019.3,161.6 L1019.3,161.6 L1019.5,161.6 L1020.5,161.3 L1021.6,161.0 L1021.8,161.0 L1022.7,160.8 L1022.8,160.9 L1024.0,162.0 L1024.3,162.3 L1024.9,162.8 L1025.0,162.8 L1025.2,162.6 L1026.3,161.2 L1026.9,160.5 L1027.5,159.8 L1028.6,158.5 L1028.7,158.5 L1029.4,158.8 L1029.9,159.0 L1031.0,159.4 L1032.0,159.8 L1032.2,159.9 L1032.9,160.1 L1033.4,160.3 L1034.1,160.6 L1034.5,160.2 L1034.6,160.1 L1035.7,158.8 L1036.9,157.4 L1037.1,157.2 L1038.1,156.0 L1038.7,155.3 L1039.3,155.2 L1039.6,155.2 L1040.4,155.1 L1040.9,155.0 L1041.6,154.9 L1042.2,154.7 L1042.8,154.5 L1044.0,154.2 L1044.7,154.0 L1044.7,154.0 L1045.1,154.0 L1046.3,154.0 L1047.3,153.9 L1047.5,153.9 L1048.7,153.8 L1049.2,153.7 L1049.8,153.8 L1049.8,153.8 L1051.0,153.9 L1052.2,154.0 L1052.4,154.0 L1052.4,154.0 L1053.4,152.2 L1054.5,149.8 L1054.9,149.1 L1055.7,147.4 L1056.1,146.6 L1056.9,145.9 L1057.5,145.3 L1058.1,144.7 L1059.2,143.5 L1060.0,142.6 L1060.4,142.1 L1060.7,141.8 L1061.6,140.8 L1062.5,139.8 L1062.8,139.5 L1064.0,138.1 L1065.1,136.5 L1065.1,136.5 L1066.2,135.0 L1066.3,134.7 L1067.5,131.3 L1067.6,130.8 L1068.7,127.8 L1069.8,124.2 L1070.2,123.1 L1070.8,121.2 L1071.0,120.9 L1072.2,119.1 L1072.7,118.3 L1073.4,117.3 L1074.5,115.4 L1075.3,114.1 L1075.3,114.0 L1075.7,112.9 L1076.9,109.1 L1077.8,106.0 L1078.1,105.3 L1079.2,101.4 L1080.4,97.7 L1080.4,97.6 L1081.3,94.6 L1081.6,93.9 L1082.8,90.7 L1082.9,90.3 L1083.9,87.6 L1085.1,84.6 L1085.5,83.7 L1086.3,81.7 L1086.8,80.5 L1087.5,77.8 L1088.0,75.6 L1088.6,73.2 L1089.1,71.5 L1089.8,70.0 L1090.6,68.6 L1091.0,67.8 L1092.2,65.7 L1092.8,64.8 L1093.1,64.3 L1093.3,64.0 L1094.5,62.7 L1095.6,61.6 L1095.7,61.6 L1096.9,60.8 L1097.3,60.6 L1098.0,60.0 L1098.2,59.9 L1099.2,59.4 L1100.4,59.0 L1100.7,59.0 L1101.6,59.0 L1102.7,59.3 L1102.8,59.3 L1103.3,59.2 L1103.9,59.2 L1105.1,59.3 L1105.8,59.5 L1106.3,59.7 L1107.4,60.4 L1108.4,61.1 L1108.6,61.3 L1108.8,61.5 L1109.8,64.2 L1110.9,67.5 L1111.0,67.6 L1112.1,71.2 L1113.3,75.0 L1113.4,75.2 L1113.5,75.4 L1114.5,77.9 L1115.7,80.9 L1116.0,81.8 L1116.8,84.0 L1118.0,87.0 L1118.0,87.2 L1118.6,89.1 L1119.2,91.3 L1120.2,95.1 L1120.4,95.3 L1121.1,96.5 L1121.5,97.2 L1122.5,98.8 L1122.7,99.4 L1123.7,102.5 L1123.9,103.2 L1125.1,107.0 L1126.2,110.6 L1126.2,110.7 L1127.4,114.4 L1128.6,118.0 L1128.8,118.5 L1129.4,120.4 L1129.8,121.3 L1130.9,124.2 L1131.3,125.0 L1132.1,126.9 L1133.3,129.5 L1133.8,130.7 L1134.5,132.0 L1135.4,133.8 L1135.6,134.2 L1136.4,135.2 L1136.8,135.7 L1138.0,137.1 L1138.9,138.2 L1139.2,138.4 L1140.3,139.6 L1140.9,140.1 L1141.5,140.8 L1141.5,140.8 L1142.7,142.1 L1143.9,143.2 L1144.0,143.4 L1145.0,144.2 L1145.4,144.6 L1146.2,146.0 L1146.6,146.6 L1147.4,148.0 L1148.6,150.0 L1149.1,150.9 L1149.7,151.9 L1150.0,152.3 L1150.9,153.6 L1151.7,154.6 L1152.1,155.2 L1152.1,155.2 L1153.3,155.1 L1154.2,155.0 L1154.4,155.0 L1155.6,154.9 L1156.8,154.7 L1156.8,154.6 L1158.0,154.4 L1158.5,154.3 L1159.1,155.0 L1159.3,155.2 L1160.3,156.2 L1160.3,156.3 L1161.5,157.2 L1161.9,157.5 L1162.7,158.0 L1163.8,158.8 L1164.4,159.1 L1164.5,159.1 L1165.0,158.9 L1166.2,158.5 L1166.7,158.4 L1166.9,158.3 L1167.4,158.3 L1168.5,158.1 L1169.5,158.0 L1169.7,158.0 L1170.9,157.8 L1171.3,157.7 L1172.0,158.2 L1172.1,158.3 L1173.1,159.0 L1173.3,159.1 L1174.4,160.0 L1174.6,160.2 L1175.6,161.0 L1176.8,161.9 L1177.1,162.2 L1178.0,162.8 L1178.2,163.0 L1179.1,163.0 L1179.4,163.0 L1179.7,163.0 L1180.3,162.9 L1181.5,162.7 L1182.2,162.6 L1182.7,162.5 L1183.8,162.2 L1184.8,161.9 L1185.0,161.9 L1185.1,161.9 L1186.2,162.1 L1187.3,162.3 L1187.4,162.3 L1187.4,162.3 L1188.5,162.7 L1189.7,163.1 L1189.7,163.0 L1189.9,163.0 L1190.9,162.6 L1192.1,162.2 L1192.4,162.1 L1193.2,161.8 L1193.3,161.8 L1194.4,161.9 L1195.0,162.0 L1195.4,162.0 L1195.6,162.0 L1196.5,161.9 L1196.8,161.9 L1197.5,161.9 L1197.9,161.9 L1199.1,161.8 L1200.1,161.7 L1200.3,161.7 L1201.1,161.6 L1201.5,161.8 L1202.6,162.4 L1202.6,162.4 L1203.8,163.1 L1204.3,163.5 L1204.9,163.5 L1205.0,163.5 L1205.1,163.5 L1206.2,163.7 L1207.3,164.0 L1207.7,164.1 L1208.5,164.3 L1208.9,164.4 L1209.7,163.5 L1210.2,162.9 L1210.9,162.2 L1212.0,160.8 L1212.6,160.2 L1212.8,160.3 L1212.9,160.4 L1213.2,160.5 L1214.4,160.8 L1215.3,161.0 L1215.6,161.0 L1216.7,161.2 L1217.1,161.3 L1217.9,161.5 L1217.9,161.5 L1219.1,161.8 L1220.3,162.2 L1220.4,162.2 L1221.4,162.6 L1221.7,162.7 L1222.4,162.5 L1222.6,162.5 L1223.0,162.5 L1223.8,162.4 L1225.0,162.3 L1225.5,162.2 L1226.1,162.2 L1226.3,162.2 L1227.3,160.5 L1228.1,159.3 L1228.5,158.6 L1228.6,158.4 L1229.7,158.7 L1230.4,158.9 L1230.6,159.0 L1230.8,159.2 L1232.0,159.8 L1233.2,160.5 L1233.2,160.5 L1233.2,160.5 L1234.4,160.6 L1235.5,160.8 L1235.7,160.8 L1236.7,161.0 L1237.8,161.1 L1237.9,161.2 L1238.2,161.4 L1238.4,161.5 L1239.1,161.9 L1240.2,162.7 L1240.8,163.0 L1241.4,163.4 L1242.3,164.0 L1242.6,163.9 L1243.3,163.6 L1243.8,163.5 L1244.9,163.1 L1245.9,162.7 L1246.0,162.7 L1246.1,162.8 L1246.3,162.9 L1247.3,163.5 L1248.4,164.2 L1248.5,164.2 L1249.6,165.0 L1250.8,165.7 L1251.0,165.8 L1252.0,166.3 L1252.7,166.5 L1252.9,166.6 L1253.2,166.7 L1253.5,166.8 L1254.3,167.0 L1255.5,167.3 L1256.1,167.4 L1256.7,167.5 L1257.5,167.7 L1257.9,167.7 L1258.6,167.8 L1259.0,167.9 L1260.2,168.0 L1260.7,168.1 L1261.2,168.3 L1261.4,168.3 L1262.6,168.7 L1263.0,168.8 L1263.7,168.8 L1263.7,168.8 L1264.9,169.0 L1266.1,169.0 L1266.3,169.1 L1267.3,169.1 L1268.4,169.0 L1268.5,169.0 L1268.6,169.1 L1268.8,169.2 L1269.6,169.7 L1270.8,170.3 L1271.4,170.5 L1272.0,170.7 L1272.1,170.8 L1273.1,169.8 L1273.9,168.9 L1274.3,168.5 L1275.5,167.0 L1276.4,165.7 L1276.7,165.4 L1277.8,163.7 L1279.0,161.9 L1279.0,161.9 L1279.0,161.9 L1280.2,161.7 L1281.4,161.4 L1281.5,161.3 L1282.2,161.2 L1282.6,160.5 L1283.7,158.2 L1284.1,157.5 L1284.9,155.9 L1286.1,153.8 L1286.6,152.8 L1287.3,151.8 L1288.4,150.1 L1289.1,149.2 L1289.2,149.2 L1289.6,149.3 L1290.8,149.9 L1291.7,150.6 L1292.0,150.8 L1292.7,151.6 L1293.1,151.4 L1294.3,151.2 L1294.3,151.2 L1295.5,151.4 L1295.9,151.5 L1296.7,153.1 L1296.8,153.5 L1297.8,156.0 L1299.0,159.1 L1299.4,160.0 L1299.6,160.7 L1300.2,161.0 L1301.4,161.7 L1301.9,162.0 L1302.5,162.3 L1303.7,162.9 L1304.5,163.3 L1304.9,163.5 L1305.1,163.6 L1306.1,164.3 L1307.0,164.9 L1307.2,165.0 L1308.4,165.6 L1309.5,166.1 L1309.6,166.1 L1310.8,166.4 L1311.9,166.6 L1312.1,166.6 L1312.4,166.7 L1313.1,167.7 L1314.3,169.4 L1314.6,169.9 L1315.5,171.0 L1316.6,172.6 L1317.2,173.3 L1317.8,174.1 L1317.9,174.2 L1319.0,174.0 L1319.7,173.8 L1320.2,173.6 L1321.2,173.3 L1321.3,173.3 L1322.3,173.0 L1322.5,172.9 L1323.4,172.6 L1323.7,172.9 L1324.8,174.3 L1324.9,174.3 L1326.0,175.8 L1327.1,177.0 L1327.2,177.1 L1327.4,177.1 L1328.4,177.4 L1329.1,177.6 L1329.6,177.7 L1329.9,177.9 L1330.7,178.2 L1330.8,178.2 L1331.9,176.9 L1332.5,176.3 L1333.1,175.6 L1334.3,174.3 L1335.0,173.5 L1335.3,173.1 L1335.4,173.2 L1336.6,174.0 L1337.1,174.3 L1337.6,174.4 L1337.8,174.5 L1339.0,174.9 L1339.5,175.0 L1340.1,174.6 L1340.1,174.6 L1341.3,173.8 L1342.5,173.0 L1342.7,172.9 L1343.1,172.6 L1343.7,172.6 L1344.8,172.8 L1345.1,172.9 L1345.2,172.9 L1346.0,173.2 L1347.2,173.6 L1347.7,173.8 L1347.7,173.8 L1348.4,173.7 L1349.5,173.4 L1350.3,173.3 L1350.7,173.2 L1351.9,172.9 L1352.8,172.7 L1353.0,172.6 L1353.1,172.6 L1353.7,172.4 L1354.2,172.5 L1355.4,172.7 L1355.4,172.7 L1356.6,172.8 L1357.8,172.8 L1357.9,172.8 L1358.9,172.7 L1359.2,172.7 L1359.4,172.5 L1360.1,171.7 L1360.5,171.3 L1361.3,170.4 L1362.5,168.8 L1363.0,168.0 L1363.6,167.0 L1363.7,166.8 L1364.8,165.9 L1365.6,165.2 L1366.0,164.7 L1367.2,163.0 L1367.4,162.6 L1368.1,160.3 L1368.3,159.5 L1369.5,155.1 L1370.7,150.5 L1370.7,150.4 L1371.9,145.2 L1372.9,140.3 L1373.0,139.8 L1373.2,139.3 L1374.2,135.8 L1375.4,131.7 L1375.8,130.4 L1376.6,127.5 L1376.6,127.5 L1377.7,121.7 L1378.3,119.0 L1378.9,116.2 L1379.8,112.5 L1380.1,111.7 L1380.8,110.2 L1381.3,109.4 L1382.4,107.9 L1383.4,107.3 L1383.6,107.3 L1384.4,107.5 L1384.8,106.8 L1385.9,106.0 L1386.0,106.0 L1387.2,106.2 L1388.3,107.4 L1388.5,107.6 L1388.9,108.4 L1389.5,110.0 L1390.7,114.1 L1391.0,115.5 L1391.9,118.8 L1393.0,123.8 L1393.6,126.3 L1394.2,129.1 L1394.9,132.3 L1395.4,134.5 L1396.1,137.9 L1396.6,139.8 L1397.7,144.9 L1398.7,148.7 L1398.9,149.6 L1399.5,151.8 L1400.1,153.3 L1401.2,155.8 L1401.3,155.9 L1402.4,158.0 L1403.6,159.7 L1403.8,159.9 L1404.8,161.0 L1405.0,161.2 L1406.0,162.0 L1406.3,162.2 L1407.1,162.6 L1408.3,163.0 L1408.9,163.1 L1409.5,163.1 L1409.6,163.1 L1410.7,163.5 L1411.4,163.6 L1411.8,163.7 L1413.0,163.8 L1413.6,163.8 L1414.0,163.8 L1414.2,163.8 L1415.1,163.9 L1415.4,164.1 L1416.5,164.5 L1416.5,164.5 L1417.7,165.0 L1418.9,165.5 L1419.0,165.5 L1420.1,165.9 L1421.0,166.2 L1421.2,166.2 L1421.5,166.2 L1421.6,166.2 L1422.4,166.3 L1423.6,166.3 L1424.1,166.4 L1424.8,166.4 L1425.9,166.4 L1426.5,166.4 L1426.7,166.6 L1427.1,166.9 L1428.3,167.8 L1429.2,168.5 L1429.5,168.7 L1429.5,168.7 L1430.6,169.4 L1431.8,170.0 L1431.8,170.0 L1433.0,170.7 L1433.4,170.9 L1434.2,169.9 L1434.3,169.8 L1435.3,168.5 L1435.8,167.9 L1436.1,167.7 L1436.5,167.8 L1436.9,167.9 L1437.7,168.2 L1438.9,168.7 L1439.4,169.0 L1440.0,169.3 L1440.7,169.7 L1441.2,169.8 L1442.0,170.0 L1442.2,170.0 L1442.4,170.0 L1443.6,170.3 L1444.5,170.5 L1444.7,170.6 L1445.9,170.8 L1446.2,170.9 L1447.1,171.7 L1447.1,171.7 L1449.6,173.8 L1450.2,174.3 L1450.8,174.5 L1452.1,173.9 L1454.0,172.8 L1454.7,173.2 L1457.2,174.8 L1457.7,175.1 L1458.1,175.3 L1459.8,176.4 L1460.9,177.3 L1462.3,178.1 L1463.6,178.9 L1464.9,178.4 L1467.4,177.2 L1467.7,177.0 L1469.1,176.0 L1470.0,175.6 L1472.5,174.4 L1475.1,173.2 L1475.7,172.9 L1476.0,172.8 L1477.6,175.0 L1479.2,177.1 L1480.2,176.9 L1481.7,176.7 L1482.7,176.6 L1485.3,176.3 L1487.4,176.0 L1487.8,176.1 L1489.7,176.7 L1490.3,177.0 L1491.1,177.4 L1492.9,177.5 L1495.4,177.9 L1496.6,178.0 L1498.0,178.7 L1499.3,179.1 L1500.5,179.4 L1501.2,179.5 L1503.1,179.3 L1505.6,179.1 L1505.8,179.0 L1508.2,178.2 L1508.8,178.0 L1510.3,177.6 L1510.7,177.9 L1513.3,179.9 L1515.8,182.0 L1515.8,182.0 L1518.4,181.0 L1518.4,181.0 L1520.9,180.2 L1521.8,180.0 L1523.4,179.1 L1526.0,177.7 L1526.4,177.5 L1528.5,179.9 L1529.5,181.0 L1531.1,182.4 L1533.2,184.3 L1533.6,183.7 L1536.2,179.7 L1536.9,178.5 L1538.7,179.7 L1539.1,179.9 L1541.3,181.4 L1541.5,181.6 L1543.8,180.4 L1546.4,179.0 L1547.0,178.7 L1548.9,180.6 L1550.7,182.3 L1551.5,182.3 L1551.8,182.2 L1554.0,182.3 L1555.2,182.5 L1556.6,182.0 L1559.1,181.1 L1560.7,180.5 L1561.6,180.4 L1563.0,180.1 L1564.2,179.6 L1566.2,178.7 L1566.7,179.1 L1569.3,181.2 L1570.8,182.5 L1570.9,182.5 L1571.8,182.4 L1574.4,182.1 L1575.4,182.0 L1576.9,181.1 L1579.5,179.5" stroke="#000" stroke-width="4.1"/>
<path d="M903.9,170.7 L904.7,170.8 L907.2,171.2 L909.8,171.7 L911.9,171.9 L912.3,171.9 L914.9,171.8 L917.4,171.5 L919.9,171.2 L921.4,171.1 L922.5,171.0 L925.0,170.8 L927.6,170.5 L930.1,170.3 L931.0,170.3 L932.7,170.3 L935.2,170.4 L937.8,170.4 L938.9,170.5 L940.3,170.6 L942.9,170.9 L945.4,171.3 L948.0,171.5 L948.5,171.5 L950.5,171.4 L953.0,171.3 L955.6,171.1 L958.0,170.9 L958.1,170.9 L958.2,170.9 L959.4,170.6 L960.5,170.2 L960.7,170.2 L961.7,169.8 L962.9,169.4 L963.2,169.3 L964.1,169.1 L965.2,168.8 L965.8,168.6 L966.0,168.6 L966.4,168.6 L967.6,168.6 L968.3,168.6 L968.8,168.6 L969.9,168.6 L970.9,168.6 L971.1,168.6 L972.3,168.6 L973.4,168.6 L973.5,168.6 L974.0,168.6 L974.6,168.6 L975.8,168.4 L976.0,168.4 L977.0,168.3 L978.2,168.1 L978.5,168.1 L979.3,167.9 L980.5,167.8 L981.1,167.7 L981.7,167.6 L982.9,167.4 L983.5,167.4 L983.6,167.4 L984.0,167.4 L985.2,167.4 L986.2,167.5 L986.4,167.5 L987.6,167.6 L988.7,167.7 L988.7,167.7 L989.9,167.9 L991.1,168.0 L991.2,168.0 L992.3,168.0 L993.1,168.0 L993.4,168.0 L993.8,167.9 L994.6,167.8 L995.8,167.7 L996.3,167.6 L997.0,167.5 L998.1,167.4 L998.9,167.3 L999.3,167.2 L1000.5,167.1 L1001.4,166.9 L1001.7,166.9 L1002.6,166.7 L1002.8,166.7 L1004.0,166.6 L1004.0,166.5 L1005.2,166.4 L1006.4,166.2 L1006.5,166.2 L1007.5,166.1 L1008.7,165.9 L1009.1,165.8 L1009.9,165.7 L1011.1,165.5 L1011.6,165.4 L1012.2,165.3 L1012.2,165.3 L1013.4,165.0 L1014.2,164.9 L1014.6,164.8 L1015.8,164.5 L1016.7,164.3 L1016.9,164.2 L1018.1,163.9 L1018.6,163.8 L1019.3,163.8 L1019.3,163.8 L1020.5,163.7 L1021.6,163.8 L1021.8,163.8 L1022.8,163.9 L1024.0,163.9 L1024.3,163.9 L1024.9,163.8 L1025.2,163.8 L1026.3,163.6 L1026.9,163.5 L1027.5,163.3 L1028.7,163.0 L1029.4,162.9 L1029.9,162.8 L1031.0,162.4 L1032.0,162.2 L1032.2,162.1 L1032.9,162.0 L1033.4,161.8 L1034.5,161.5 L1034.6,161.5 L1035.7,161.2 L1036.9,160.9 L1037.1,160.9 L1038.1,160.5 L1039.3,160.1 L1039.6,160.0 L1040.4,159.6 L1040.9,159.5 L1041.6,159.0 L1042.2,158.7 L1042.8,158.4 L1044.0,157.7 L1044.7,157.2 L1045.1,156.9 L1046.3,156.1 L1047.3,155.4 L1047.5,155.3 L1048.7,154.4 L1049.8,153.4 L1049.8,153.4 L1051.0,152.4 L1052.2,151.3 L1052.4,151.1 L1053.4,150.1 L1054.5,148.8 L1054.9,148.4 L1055.7,147.5 L1056.9,146.0 L1057.5,145.3 L1058.1,144.5 L1059.2,142.9 L1060.0,141.8 L1060.4,141.1 L1061.6,139.3 L1062.5,137.7 L1062.8,137.3 L1064.0,135.2 L1065.1,133.1 L1065.1,133.0 L1066.3,130.7 L1067.5,128.2 L1067.6,127.9 L1068.7,125.7 L1069.8,123.0 L1070.2,122.2 L1071.0,120.3 L1072.2,117.4 L1072.7,116.0 L1073.4,114.4 L1074.5,111.4 L1075.3,109.4 L1075.7,108.3 L1076.9,105.2 L1077.8,102.6 L1078.1,102.0 L1079.2,98.8 L1080.4,95.6 L1080.4,95.6 L1081.6,92.4 L1082.8,89.2 L1082.9,88.8 L1083.9,86.1 L1085.1,83.1 L1085.5,82.2 L1086.3,80.2 L1087.5,77.4 L1088.0,76.1 L1088.6,74.7 L1089.8,72.2 L1090.6,70.8 L1091.0,70.0 L1092.2,67.9 L1093.1,66.4 L1093.3,66.0 L1094.5,64.4 L1095.6,63.1 L1095.7,63.1 L1096.9,62.0 L1098.0,61.2 L1098.2,61.1 L1099.2,60.7 L1100.4,60.5 L1100.7,60.5 L1101.6,60.5 L1102.7,60.9 L1103.3,61.2 L1103.9,61.6 L1105.1,62.5 L1105.8,63.3 L1106.3,63.7 L1107.4,65.2 L1108.4,66.6 L1108.6,66.9 L1109.8,68.9 L1110.9,71.0 L1111.0,71.1 L1112.1,73.4 L1113.3,76.0 L1113.5,76.3 L1114.5,78.7 L1115.7,81.5 L1116.0,82.4 L1116.8,84.5 L1118.0,87.5 L1118.6,88.9 L1119.2,90.6 L1120.4,93.7 L1121.1,95.7 L1121.5,96.9 L1122.7,100.0 L1123.7,102.6 L1123.9,103.2 L1125.1,106.3 L1126.2,109.3 L1126.2,109.4 L1127.4,112.4 L1128.6,115.3 L1128.8,115.7 L1129.8,118.2 L1130.9,120.9 L1131.3,121.7 L1132.1,123.6 L1133.3,126.1 L1133.8,127.3 L1134.5,128.5 L1135.6,130.8 L1136.4,132.3 L1136.8,133.0 L1138.0,135.1 L1138.9,136.7 L1139.2,137.1 L1140.3,138.9 L1141.5,140.6 L1141.5,140.6 L1142.7,142.3 L1143.9,143.8 L1144.0,144.0 L1145.0,145.2 L1146.2,146.5 L1146.6,146.9 L1147.4,147.8 L1148.6,148.9 L1149.1,149.4 L1149.7,150.0 L1150.9,151.0 L1151.7,151.6 L1152.1,151.9 L1153.3,152.8 L1154.2,153.5 L1154.4,153.6 L1155.6,154.4 L1156.8,155.1 L1156.8,155.1 L1158.0,155.7 L1159.1,156.4 L1159.3,156.5 L1160.3,157.0 L1160.3,157.0 L1161.5,157.2 L1161.9,157.3 L1162.7,157.4 L1163.8,157.4 L1164.4,157.4 L1165.0,157.4 L1166.2,157.5 L1166.7,157.6 L1166.9,157.7 L1167.4,157.8 L1168.5,158.1 L1169.5,158.4 L1169.7,158.5 L1170.9,158.8 L1172.0,159.1 L1172.1,159.2 L1173.1,159.5 L1173.3,159.5 L1174.4,160.0 L1174.6,160.0 L1175.6,160.4 L1176.8,160.8 L1177.1,161.0 L1178.0,161.3 L1179.1,161.6 L1179.4,161.7 L1179.7,161.8 L1180.3,161.9 L1181.5,162.0 L1182.2,162.1 L1182.7,162.1 L1183.8,162.2 L1184.8,162.2 L1185.0,162.2 L1186.2,162.3 L1187.3,162.4 L1187.4,162.4 L1187.4,162.4 L1188.5,162.6 L1189.7,162.8 L1189.9,162.8 L1190.9,163.0 L1192.1,163.2 L1192.4,163.2 L1193.2,163.3 L1194.4,163.5 L1195.0,163.6 L1195.4,163.6 L1195.6,163.6 L1196.8,163.5 L1197.5,163.3 L1197.9,163.2 L1199.1,162.8 L1200.1,162.5 L1200.3,162.4 L1201.5,162.0 L1202.6,161.7 L1202.6,161.7 L1203.8,161.4 L1204.9,161.3 L1205.0,161.3 L1205.1,161.4 L1206.2,161.5 L1207.3,161.7 L1207.7,161.8 L1208.5,161.9 L1209.7,162.1 L1210.2,162.2 L1210.9,162.3 L1212.0,162.5 L1212.8,162.6 L1212.9,162.6 L1213.2,162.6 L1214.4,162.5 L1215.3,162.4 L1215.6,162.3 L1216.7,162.1 L1217.9,161.8 L1217.9,161.8 L1219.1,161.6 L1220.3,161.3 L1220.4,161.3 L1221.4,161.2 L1222.4,161.1 L1222.6,161.1 L1223.0,161.2 L1223.8,161.2 L1225.0,161.4 L1225.5,161.4 L1226.1,161.5 L1227.3,161.6 L1228.1,161.7 L1228.5,161.7 L1229.7,161.9 L1230.4,162.0 L1230.6,162.0 L1230.8,162.1 L1232.0,162.5 L1233.2,162.9 L1233.2,162.9 L1234.4,163.4 L1235.5,164.0 L1235.7,164.1 L1236.7,164.6 L1237.9,165.1 L1238.2,165.2 L1238.4,165.3 L1239.1,165.6 L1240.2,166.1 L1240.8,166.3 L1241.4,166.6 L1242.6,167.1 L1243.3,167.4 L1243.8,167.6 L1244.9,168.1 L1245.9,168.4 L1246.1,168.5 L1246.3,168.6 L1247.3,169.0 L1248.4,169.5 L1248.5,169.5 L1249.6,170.0 L1250.8,170.4 L1251.0,170.5 L1252.0,170.8 L1252.7,170.9 L1253.2,170.9 L1253.5,170.8 L1254.3,170.8 L1255.5,170.6 L1256.1,170.5 L1256.7,170.4 L1257.9,170.2 L1258.6,170.1 L1259.0,170.0 L1260.2,169.9 L1260.7,169.9 L1261.2,169.9 L1261.4,169.9 L1262.6,169.9 L1263.7,169.9 L1263.7,169.9 L1264.9,169.8 L1266.1,169.8 L1266.3,169.8 L1267.3,169.7 L1268.4,169.5 L1268.6,169.4 L1268.8,169.4 L1269.6,169.2 L1270.8,168.8 L1271.4,168.6 L1272.0,168.4 L1273.1,167.8 L1273.9,167.3 L1274.3,167.1 L1275.5,166.2 L1276.4,165.4 L1276.7,165.2 L1277.8,164.0 L1279.0,162.8 L1279.0,162.7 L1280.2,161.3 L1281.4,159.8 L1281.5,159.6 L1282.6,158.3 L1283.7,156.8 L1284.1,156.3 L1284.9,155.3 L1286.1,153.9 L1286.6,153.3 L1287.3,152.7 L1288.4,151.7 L1289.2,151.2 L1289.6,151.0 L1290.8,150.6 L1291.7,150.4 L1292.0,150.4 L1293.1,150.7 L1294.3,151.2 L1294.3,151.2 L1295.5,152.0 L1296.7,153.1 L1296.8,153.3 L1297.8,154.4 L1299.0,155.9 L1299.4,156.4 L1300.2,157.5 L1301.4,159.1 L1301.9,159.9 L1302.5,160.7 L1303.7,162.3 L1304.5,163.3 L1304.9,163.8 L1306.1,165.2 L1307.0,166.3 L1307.2,166.5 L1308.4,167.6 L1309.5,168.6 L1309.6,168.6 L1310.8,169.4 L1311.9,170.1 L1312.1,170.2 L1313.1,170.7 L1314.3,171.2 L1314.6,171.3 L1315.5,171.5 L1316.6,171.9 L1317.2,172.0 L1317.8,172.1 L1319.0,172.3 L1319.7,172.4 L1320.2,172.5 L1321.2,172.6 L1321.3,172.6 L1322.3,172.7 L1322.5,172.7 L1323.7,172.8 L1324.8,172.9 L1324.9,172.9 L1326.0,173.0 L1327.2,173.0 L1327.4,173.1 L1328.4,173.1 L1329.1,173.2 L1329.6,173.2 L1329.9,173.3 L1330.7,173.4 L1331.9,173.6 L1332.5,173.7 L1333.1,173.9 L1334.3,174.1 L1335.0,174.2 L1335.4,174.3 L1336.6,174.4 L1337.1,174.4 L1337.6,174.4 L1337.8,174.3 L1339.0,174.1 L1340.1,173.8 L1340.1,173.8 L1341.3,173.4 L1342.5,173.0 L1342.7,173.0 L1343.7,172.7 L1344.8,172.4 L1345.1,172.4 L1345.2,172.3 L1346.0,172.3 L1347.2,172.2 L1347.7,172.2 L1348.4,172.1 L1349.5,172.1 L1350.3,172.0 L1350.7,172.0 L1351.9,171.9 L1352.8,171.8 L1353.0,171.7 L1353.1,171.7 L1354.2,171.5 L1355.4,171.2 L1355.4,171.1 L1356.6,170.7 L1357.8,170.3 L1357.9,170.2 L1358.9,169.7 L1359.4,169.4 L1360.1,169.0 L1360.5,168.8 L1361.3,168.3 L1362.5,167.2 L1363.0,166.7 L1363.6,166.0 L1364.8,164.4 L1365.6,163.2 L1366.0,162.4 L1367.2,160.1 L1368.1,157.9 L1368.3,157.3 L1369.5,154.0 L1370.7,150.5 L1370.7,150.4 L1371.9,146.3 L1373.0,141.8 L1373.2,141.1 L1374.2,137.0 L1375.4,132.1 L1375.8,130.5 L1376.6,127.1 L1377.7,122.2 L1378.3,120.0 L1378.9,117.6 L1380.1,113.4 L1380.8,111.1 L1381.3,109.9 L1382.4,107.1 L1383.4,105.5 L1383.6,105.2 L1384.8,104.3 L1385.9,104.4 L1386.0,104.4 L1387.2,105.5 L1388.3,107.6 L1388.5,108.0 L1389.5,110.5 L1390.7,114.2 L1391.0,115.4 L1391.9,118.4 L1393.0,123.0 L1393.6,125.3 L1394.2,127.8 L1395.4,132.7 L1396.1,135.8 L1396.6,137.5 L1397.7,142.1 L1398.7,145.5 L1398.9,146.4 L1400.1,150.2 L1401.2,153.5 L1401.3,153.6 L1402.4,156.6 L1403.6,159.1 L1403.8,159.4 L1404.8,161.2 L1406.0,163.0 L1406.3,163.4 L1407.1,164.3 L1408.3,165.4 L1408.9,165.8 L1409.5,166.2 L1410.7,166.9 L1411.4,167.2 L1411.8,167.3 L1413.0,167.7 L1413.6,167.8 L1414.0,167.9 L1414.2,168.0 L1415.4,168.4 L1416.5,168.7 L1416.5,168.8 L1417.7,169.1 L1418.9,169.5 L1419.0,169.6 L1420.1,169.9 L1421.2,170.2 L1421.5,170.3 L1421.6,170.3 L1422.4,170.5 L1423.6,170.8 L1424.1,170.9 L1424.8,171.1 L1425.9,171.4 L1426.7,171.5 L1427.1,171.6 L1428.3,171.8 L1429.2,171.9 L1429.5,171.9 L1429.5,171.9 L1430.6,171.9 L1431.8,171.9 L1431.8,171.9 L1433.0,171.8 L1434.2,171.8 L1434.3,171.8 L1435.3,171.7 L1435.8,171.7 L1436.5,171.9 L1436.9,171.9 L1437.7,172.2 L1438.9,172.6 L1439.4,172.9 L1440.0,173.1 L1441.2,173.6 L1442.0,173.9 L1442.2,174.0 L1442.4,174.1 L1443.6,174.5 L1444.5,174.9 L1444.7,175.0 L1445.9,175.5 L1447.1,175.9 L1447.1,175.9 L1449.6,176.6 L1450.2,176.7 L1452.1,176.3 L1454.7,175.4 L1457.2,174.6 L1458.1,174.4 L1459.8,174.7 L1462.3,175.5 L1464.9,176.3 L1467.4,176.9 L1467.7,176.9 L1470.0,176.9 L1472.5,176.7 L1475.1,176.6 L1475.7,176.5 L1477.6,176.4 L1480.2,176.2 L1481.7,176.1 L1482.7,176.1 L1485.3,176.0 L1487.8,176.0 L1489.7,175.9 L1490.3,176.0 L1492.9,176.5 L1495.4,177.1 L1498.0,177.7 L1499.3,177.8 L1500.5,177.8 L1503.1,177.7 L1505.6,177.5 L1508.2,177.4 L1508.8,177.4 L1510.7,177.4 L1513.3,177.5 L1515.8,177.5 L1518.4,177.6 L1518.4,177.6 L1520.9,177.9 L1523.4,178.4 L1526.0,178.8 L1528.5,179.2 L1529.5,179.3 L1531.1,179.1 L1533.6,178.8 L1536.2,178.4 L1538.7,178.1 L1539.1,178.0 L1541.3,177.8 L1543.8,177.6 L1546.4,177.3 L1548.9,177.1 L1551.5,177.0 L1551.8,177.0 L1554.0,177.2 L1556.6,177.6 L1559.1,178.0 L1561.6,178.3 L1563.0,178.4 L1564.2,178.3 L1566.7,177.9 L1569.3,177.5 L1570.9,177.4 L1571.8,177.4 L1574.4,177.5 L1576.9,177.7 L1579.5,177.8" stroke="#f00" stroke-width="3.5"/>
</g>
<g stroke="#000" fill="none">
<rect x="919.0" y="50.2" width="646.4" height="142.5" fill="none" stroke="#000" stroke-width="1.6"/>
<path d="M977.8,192.7 V199.7 M977.8,50.2 V43.2 M1173.6,192.7 V199.7 M1173.6,50.2 V43.2 M1369.5,192.7 V199.7 M1369.5,50.2 V43.2 M1565.4,192.7 V199.7 M1565.4,50.2 V43.2 M912.0,159.5 H919.0 M1565.4,159.5 H1572.4 M912.0,65.0 H919.0 M1565.4,65.0 H1572.4" stroke-width="3.3"/>
</g>
<text x="977.8" y="229.5" text-anchor="middle">4800</text>
<text x="1173.6" y="229.5" text-anchor="middle">4900</text>
<text x="1369.5" y="229.5" text-anchor="middle">5000</text>
<text x="1565.4" y="229.5" text-anchor="middle">5100</text>
<text x="904.8" y="171.3" text-anchor="end">2</text>
<text x="904.8" y="76.8" text-anchor="end">4</text>
<text x="1242.6" y="39" text-anchor="middle">Regions of Interest</text>
<text x="1369.2" y="82">H<tspan font-style="italic">β</tspan> region</text>
<clipPath id="i2"><rect x="918.8" y="258.0" width="646.4" height="142.4"/></clipPath>
<rect x="918.8" y="258.0" width="646.4" height="142.4" fill="#fff"/>
<g clip-path="url(#i2)" fill="none" stroke-linejoin="round">
<path d="M906.5,346.6 L907.3,348.1 L908.1,348.2 L908.9,345.4 L909.7,342.5 L910.5,339.8 L911.3,337.0 L912.1,340.6 L913.0,347.0 L913.8,349.8 L914.6,346.0 L915.4,342.1 L916.2,338.5 L917.0,337.9 L917.8,337.4 L918.6,336.9 L919.4,336.3 L920.2,335.8 L921.0,335.3 L921.8,338.4 L922.6,341.5 L923.5,344.5 L924.3,344.8 L925.1,344.0 L925.9,343.0 L926.7,341.9 L927.5,344.8 L928.3,347.7 L929.1,350.7 L929.9,353.6 L930.7,355.5 L931.5,354.9 L932.3,354.3 L933.2,353.7 L934.0,352.7 L934.8,351.3 L935.6,349.8 L936.4,347.0 L937.2,344.3 L938.0,341.5 L938.8,339.9 L939.6,338.4 L940.4,337.0 L941.2,335.9 L942.0,334.7 L942.8,333.6 L943.7,332.4 L944.5,332.2 L945.3,332.1 L946.1,331.9 L946.9,331.9 L947.7,331.8 L948.5,331.2 L949.3,329.4 L950.1,327.5 L950.9,325.7 L951.7,323.8 L952.5,322.0 L953.4,321.0 L954.2,322.5 L955.0,324.0 L955.8,325.6 L956.6,327.6 L957.4,329.8 L958.2,332.0 L959.0,334.3 L959.8,336.7 L960.6,334.3 L961.4,330.6 L962.2,326.9 L963.0,326.0 L963.9,327.9 L964.7,329.7 L965.5,331.5 L966.3,333.3 L967.1,332.6 L967.9,331.4 L968.7,330.2 L969.5,329.0 L970.3,328.7 L971.1,332.3 L971.9,335.9 L972.7,339.5 L973.6,343.1 L974.4,343.5 L975.2,340.8 L976.0,338.1 L976.8,335.5 L977.6,332.8 L978.4,330.1 L979.2,327.4 L980.0,328.3 L980.8,333.0 L981.6,337.6 L982.4,340.6 L983.2,337.5 L984.1,334.3 L984.9,331.0 L985.7,327.8 L986.5,324.5 L987.3,321.2 L988.1,319.6 L988.9,325.2 L989.7,330.8 L990.5,336.3 L991.3,339.8 L992.1,340.7 L992.9,341.6 L993.8,342.5 L994.6,340.1 L995.4,336.4 L996.2,332.8 L997.0,329.2 L997.8,328.8 L998.6,331.2 L999.4,333.7 L1000.2,336.2 L1001.0,338.8 L1001.8,341.3 L1002.6,343.3 L1003.4,344.6 L1004.3,346.0 L1005.1,346.8 L1005.9,344.8 L1006.7,342.8 L1007.5,340.3 L1008.3,337.2 L1009.1,334.2 L1009.9,331.3 L1010.7,335.4 L1011.5,339.8 L1012.3,344.5 L1013.1,343.0 L1014.0,340.0 L1014.8,337.1 L1015.6,334.1 L1016.4,331.5 L1017.2,330.3 L1018.0,329.0 L1018.8,327.6 L1019.6,327.4 L1020.4,328.7 L1021.2,329.3 L1022.0,329.9 L1022.8,330.3 L1023.6,330.6 L1024.5,332.7 L1025.3,335.3 L1026.1,337.9 L1026.9,340.7 L1027.7,337.3 L1028.5,334.2 L1029.3,331.5 L1030.1,328.7 L1030.9,326.0 L1031.7,323.3 L1032.5,327.0 L1033.3,331.1 L1034.2,335.2 L1035.0,339.3 L1035.8,342.2 L1036.6,344.5 L1037.4,346.8 L1038.2,349.1 L1039.0,345.2 L1039.8,341.1 L1040.6,336.9 L1041.4,334.1 L1042.2,335.5 L1043.0,336.8 L1043.8,338.2 L1044.7,339.5 L1045.5,340.9 L1046.3,340.3 L1047.1,338.9 L1047.9,337.8 L1048.7,336.7 L1049.5,335.7 L1050.3,335.9 L1051.1,336.2 L1051.9,336.4 L1052.7,336.5 L1053.5,336.6 L1054.4,338.0 L1055.2,341.5 L1056.0,344.7 L1056.8,347.9 L1057.6,351.0 L1058.4,354.1 L1059.2,357.1 L1060.0,352.6 L1060.8,346.2 L1061.6,339.8 L1062.4,333.6 L1063.2,332.7 L1064.0,335.7 L1064.9,338.6 L1065.7,341.6 L1066.5,344.5 L1067.3,343.2 L1068.1,341.4 L1068.9,339.5 L1069.7,337.7 L1070.5,336.3 L1071.3,336.2 L1072.1,336.1 L1072.9,335.9 L1073.7,335.8 L1074.6,334.1 L1075.4,331.1 L1076.2,328.1 L1077.0,325.1 L1077.8,322.2 L1078.6,319.2 L1079.4,320.8 L1080.2,327.7 L1081.0,334.5 L1081.8,339.8 L1082.6,338.2 L1083.4,336.7 L1084.2,335.5 L1085.1,334.3 L1085.9,333.6 L1086.7,333.2 L1087.5,332.8 L1088.3,332.4 L1089.1,332.0 L1089.9,329.3 L1090.7,326.2 L1091.5,323.0 L1092.3,319.5 L1093.1,316.9 L1093.9,318.1 L1094.8,319.3 L1095.6,320.5 L1096.4,321.7 L1097.2,323.4 L1098.0,325.8 L1098.8,328.1 L1099.6,330.8 L1100.4,333.7 L1101.2,334.2 L1102.0,334.2 L1102.8,334.2 L1103.6,334.3 L1104.4,334.3 L1105.3,334.9 L1106.1,335.4 L1106.9,335.5 L1107.7,332.1 L1108.5,328.4 L1109.3,324.7 L1110.1,321.0 L1110.9,319.1 L1111.7,320.3 L1112.5,321.5 L1113.3,322.8 L1114.1,324.0 L1115.0,325.5 L1115.8,324.7 L1116.6,323.2 L1117.4,321.8 L1118.2,320.4 L1119.0,319.0 L1119.8,317.5 L1120.6,318.7 L1121.4,321.0 L1122.2,323.3 L1123.0,325.6 L1123.8,327.8 L1124.6,328.1 L1125.5,328.5 L1126.3,328.8 L1127.1,329.2 L1127.9,329.6 L1128.7,330.0 L1129.5,327.5 L1130.3,324.9 L1131.1,322.3 L1131.9,319.7 L1132.7,317.1 L1133.5,316.0 L1134.3,318.0 L1135.2,320.1 L1136.0,322.1 L1136.8,324.1 L1137.6,326.6 L1138.4,329.4 L1139.2,332.2 L1140.0,334.9 L1140.8,334.0 L1141.6,332.6 L1142.4,331.0 L1143.2,329.5 L1144.0,327.9 L1144.8,326.7 L1145.7,326.9 L1146.5,326.9 L1147.3,327.0 L1148.1,327.1 L1148.9,327.3 L1149.7,327.6 L1150.5,328.0 L1151.3,328.4 L1152.1,329.1 L1152.9,329.8 L1153.7,326.3 L1154.5,322.9 L1155.4,319.4 L1156.2,317.3 L1157.0,318.8 L1157.8,320.2 L1158.6,321.6 L1159.4,323.0 L1160.2,324.2 L1161.0,325.2 L1161.8,326.2 L1162.6,327.2 L1163.4,328.2 L1164.2,329.2 L1165.0,327.8 L1165.9,326.5 L1166.7,325.1 L1167.5,323.7 L1168.3,322.3 L1169.1,320.9 L1169.9,318.9 L1170.7,316.6 L1171.5,314.3 L1172.3,311.9 L1173.1,309.6 L1173.9,307.1 L1174.7,304.7 L1175.6,304.6 L1176.4,304.8 L1177.2,305.0 L1178.0,305.8 L1178.8,310.7 L1179.6,315.6 L1180.4,320.5 L1181.2,319.1 L1182.0,316.7 L1182.8,314.2 L1183.6,311.8 L1184.4,309.3 L1185.2,306.8 L1186.1,303.1 L1186.9,299.0 L1187.7,294.9 L1188.5,290.7 L1189.3,286.5 L1190.1,282.7 L1190.9,280.7 L1191.7,278.8 L1192.5,276.9 L1193.3,275.1 L1194.1,273.3 L1194.9,273.9 L1195.8,276.3 L1196.6,278.7 L1197.4,281.2 L1198.2,283.6 L1199.0,286.3 L1199.8,285.0 L1200.6,279.8 L1201.4,274.7 L1202.2,269.7 L1203.0,264.8 L1203.8,265.8 L1204.6,268.4 L1205.4,271.2 L1206.3,274.5 L1207.1,277.0 L1207.9,274.2 L1208.7,271.4 L1209.5,268.6 L1210.3,265.8 L1211.1,266.2 L1211.9,270.5 L1212.7,274.9 L1213.5,279.5 L1214.3,284.0 L1215.1,285.7 L1216.0,286.6 L1216.8,287.5 L1217.6,288.4 L1218.4,289.4 L1219.2,290.9 L1220.0,290.7 L1220.8,289.6 L1221.6,288.6 L1222.4,287.9 L1223.2,287.2 L1224.0,287.0 L1224.8,288.9 L1225.6,294.4 L1226.5,299.7 L1227.3,305.0 L1228.1,308.4 L1228.9,308.6 L1229.7,307.6 L1230.5,306.6 L1231.3,305.5 L1232.1,304.5 L1232.9,303.5 L1233.7,304.4 L1234.5,306.2 L1235.3,308.2 L1236.2,308.7 L1237.0,310.8 L1237.8,312.9 L1238.6,314.8 L1239.4,316.8 L1240.2,318.0 L1241.0,318.5 L1241.8,318.9 L1242.6,319.5 L1243.4,318.7 L1244.2,317.1 L1245.0,315.6 L1245.8,314.1 L1246.7,312.5 L1247.5,311.3 L1248.3,313.1 L1249.1,315.2 L1249.9,317.3 L1250.7,319.5 L1251.5,320.5 L1252.3,319.3 L1253.1,318.0 L1253.9,316.7 L1254.7,315.4 L1255.5,314.9 L1256.4,317.5 L1257.2,320.0 L1258.0,322.5 L1258.8,325.0 L1259.6,326.6 L1260.4,328.2 L1261.2,329.9 L1262.0,331.5 L1262.8,333.2 L1263.6,335.0 L1264.4,336.5 L1265.2,338.0 L1266.0,339.3 L1266.9,340.6 L1267.7,341.8 L1268.5,342.7 L1269.3,343.2 L1270.1,341.4 L1270.9,339.4 L1271.7,337.4 L1272.5,335.3 L1273.3,333.3 L1274.1,331.3 L1274.9,332.3 L1275.7,334.0 L1276.6,335.7 L1277.4,337.4 L1278.2,339.2 L1279.0,341.1 L1279.8,343.5 L1280.6,345.8 L1281.4,348.2 L1282.2,350.6 L1283.0,351.6 L1283.8,351.6 L1284.6,351.6 L1285.4,351.6 L1286.2,351.6 L1287.1,351.6 L1287.9,351.5 L1288.7,350.1 L1289.5,347.5 L1290.3,345.0 L1291.1,342.4 L1291.9,339.9 L1292.7,337.3 L1293.5,337.0 L1294.3,339.1 L1295.1,341.1 L1295.9,343.2 L1296.8,345.3 L1297.6,347.5 L1298.4,349.6 L1299.2,351.7 L1300.0,350.7 L1300.8,346.6 L1301.6,342.6 L1302.4,340.2 L1303.2,342.8 L1304.0,345.4 L1304.8,348.0 L1305.6,348.8 L1306.4,347.8 L1307.3,346.8 L1308.1,345.8 L1308.9,344.7 L1309.7,343.7 L1310.5,343.6 L1311.3,344.8 L1312.1,346.0 L1312.9,347.2 L1313.7,348.4 L1314.5,349.6 L1315.3,348.8 L1316.1,347.6 L1317.0,346.4 L1317.8,345.2 L1318.6,344.1 L1319.4,343.2 L1320.2,343.0 L1321.0,342.8 L1321.8,342.7 L1322.6,341.8 L1323.4,340.2 L1324.2,338.6 L1325.0,337.0 L1325.8,335.4 L1326.6,333.8 L1327.5,336.6 L1328.3,340.3 L1329.1,343.9 L1329.9,347.4 L1330.7,348.9 L1331.5,350.4 L1332.3,351.9 L1333.1,352.1 L1333.9,350.3 L1334.7,348.4 L1335.5,346.7 L1336.3,347.1 L1337.2,347.5 L1338.0,347.9 L1338.8,348.2 L1339.6,348.6 L1340.4,348.9 L1341.2,349.0 L1342.0,349.1 L1342.8,349.3 L1343.6,349.6 L1344.4,350.1 L1345.2,350.6 L1346.0,348.6 L1346.8,343.4 L1347.7,338.2 L1348.5,333.0 L1349.3,334.3 L1350.1,338.2 L1350.9,342.0 L1351.7,345.7 L1352.5,344.5 L1353.3,343.2 L1354.1,341.9 L1354.9,342.4 L1355.7,343.8 L1356.5,345.1 L1357.4,346.4 L1358.2,347.6 L1359.0,347.4 L1359.8,347.9 L1360.6,348.6 L1361.4,349.2 L1362.2,349.1 L1363.0,347.6 L1363.8,346.1 L1364.6,344.7 L1365.4,343.2 L1366.2,344.2 L1367.0,346.3 L1367.9,348.4 L1368.7,349.2 L1369.5,347.9 L1370.3,346.4 L1371.1,344.9 L1371.9,346.5 L1372.7,349.9 L1373.5,353.2 L1374.3,356.6 L1375.1,355.2 L1375.9,353.4 L1376.7,351.5 L1377.6,349.7 L1378.4,347.8 L1379.2,346.4 L1380.0,346.5 L1380.8,346.5 L1381.6,346.5 L1382.4,346.4 L1383.2,346.3 L1384.0,346.3 L1384.8,346.3 L1385.6,346.5 L1386.4,346.8 L1387.2,347.2 L1388.1,349.2 L1388.9,351.3 L1389.7,353.3 L1390.5,355.3 L1391.3,356.3 L1392.1,354.9 L1392.9,353.4 L1393.7,352.0 L1394.5,350.7 L1395.3,349.3 L1396.1,348.6 L1396.9,349.7 L1397.8,350.8 L1398.6,352.1 L1399.4,353.5 L1400.2,354.9 L1401.0,355.8 L1401.8,353.8 L1402.6,351.8 L1403.4,349.8 L1404.2,347.7 L1405.0,350.9 L1405.8,354.3 L1406.6,357.5 L1407.4,360.6 L1408.3,362.7 L1409.1,362.2 L1409.9,361.6 L1410.7,361.0 L1411.5,360.4 L1412.3,359.6 L1413.1,357.0 L1413.9,354.4 L1414.7,351.7 L1415.5,349.0 L1416.3,352.9 L1417.1,357.2 L1418.0,361.6 L1418.8,364.7 L1419.6,363.2 L1420.4,361.6 L1421.2,360.0 L1422.0,358.4 L1422.8,359.1 L1423.6,361.9 L1424.4,364.8 L1425.2,367.6 L1426.0,370.4 L1426.8,372.0 L1427.6,373.3 L1428.5,374.6 L1429.3,375.8 L1430.1,377.0 L1430.9,377.1 L1431.7,377.3 L1432.5,377.4 L1433.3,377.6 L1434.1,377.7 L1434.9,377.8 L1435.7,376.6 L1436.5,375.4 L1437.3,374.3 L1438.2,373.0 L1439.0,371.7 L1439.8,370.4 L1440.6,369.2 L1441.4,367.9 L1442.2,366.7 L1443.0,365.4 L1443.8,364.1 L1444.6,362.8 L1445.4,361.5 L1446.2,361.5 L1447.0,362.9 L1447.8,364.3 L1448.7,365.7 L1449.5,365.5 L1450.3,364.9 L1451.1,364.3 L1451.9,363.7 L1452.7,363.1 L1453.5,362.1 L1454.3,361.1 L1455.1,360.1 L1455.9,359.1 L1456.7,358.3 L1457.5,357.9 L1458.4,357.6 L1459.2,357.2 L1460.0,356.8 L1460.8,363.0 L1461.6,371.7 L1462.4,376.0 L1463.2,373.0 L1464.0,370.1 L1464.8,367.2 L1465.6,364.3 L1466.4,361.5 L1467.2,358.6 L1468.0,357.8 L1468.9,360.7 L1469.7,363.5 L1470.5,366.3 L1471.3,369.0 L1472.1,367.8 L1472.9,364.6 L1473.7,361.4 L1474.5,358.2 L1475.3,355.0 L1476.1,352.4 L1476.9,357.5 L1477.7,362.6 L1478.6,367.8 L1479.4,371.8 L1480.2,373.6 L1481.0,375.4 L1481.8,377.0 L1482.6,373.5 L1483.4,370.3 L1484.2,367.2 L1485.0,364.2 L1485.8,361.2 L1486.6,358.2 L1487.4,361.5 L1488.2,364.9 L1489.1,368.3 L1489.9,371.7 L1490.7,374.3 L1491.5,375.2 L1492.3,376.1 L1493.1,376.8 L1493.9,377.3 L1494.7,377.8 L1495.5,377.4 L1496.3,373.9 L1497.1,370.4 L1497.9,366.8 L1498.8,363.3 L1499.6,359.8 L1500.4,356.3 L1501.2,356.5 L1502.0,358.5 L1502.8,360.8 L1503.6,363.5 L1504.4,363.6 L1505.2,363.6 L1506.0,363.6 L1506.8,363.7 L1507.6,363.5 L1508.4,363.4 L1509.3,363.1 L1510.1,362.3 L1510.9,361.6 L1511.7,360.7 L1512.5,359.7 L1513.3,358.7 L1514.1,357.6 L1514.9,361.7 L1515.7,366.7 L1516.5,371.9 L1517.3,372.1 L1518.1,368.6 L1519.0,365.3 L1519.8,362.0 L1520.6,358.7 L1521.4,359.1 L1522.2,360.1 L1523.0,361.0 L1523.8,362.0 L1524.6,363.0 L1525.4,364.0 L1526.2,365.0 L1527.0,364.0 L1527.8,362.7 L1528.6,361.5 L1529.5,360.2 L1530.3,358.9 L1531.1,357.7 L1531.9,356.4 L1532.7,355.2 L1533.5,353.9 L1534.3,354.1 L1535.1,355.6 L1535.9,357.2 L1536.7,358.7 L1537.5,360.3 L1538.3,361.7 L1539.2,363.0 L1540.0,362.7 L1540.8,360.7 L1541.6,358.8 L1542.4,356.8 L1543.2,354.9 L1544.0,355.2 L1544.8,355.9 L1545.6,356.8 L1546.4,358.4 L1547.2,360.2 L1548.0,362.1 L1548.8,362.2 L1549.7,361.8 L1550.5,361.5 L1551.3,361.2 L1552.1,360.8 L1552.9,360.4 L1553.7,360.5 L1554.5,363.3 L1555.3,366.1 L1556.1,368.8 L1556.9,370.1 L1557.7,369.5 L1558.5,368.9 L1559.4,368.3 L1560.2,367.8 L1561.0,366.9 L1561.8,365.9 L1562.6,365.1 L1563.4,364.2 L1564.2,364.1 L1565.0,369.6 L1565.8,375.2 L1566.6,380.9 L1567.4,384.5 L1568.2,383.8 L1569.0,382.8 L1569.9,380.8 L1570.7,378.5 L1571.5,376.2 L1572.3,376.8 L1573.1,378.6 L1573.9,380.3 L1574.7,381.9 L1575.5,383.4 L1576.3,380.6 L1577.1,377.9 L1577.9,375.1 L1577.9,390.1 L1577.1,392.8 L1576.3,395.4 L1575.5,398.1 L1574.7,396.7 L1573.9,395.1 L1573.1,393.4 L1572.3,391.8 L1571.5,391.1 L1570.7,393.4 L1569.9,395.6 L1569.0,397.5 L1568.2,398.6 L1567.4,399.2 L1566.6,395.7 L1565.8,390.1 L1565.0,384.7 L1564.2,379.3 L1563.4,379.4 L1562.6,380.3 L1561.8,381.2 L1561.0,382.1 L1560.2,383.0 L1559.4,383.5 L1558.5,384.1 L1557.7,384.6 L1556.9,385.2 L1556.1,384.0 L1555.3,381.3 L1554.5,378.6 L1553.7,375.9 L1552.9,375.8 L1552.1,376.1 L1551.3,376.5 L1550.5,376.9 L1549.7,377.2 L1548.8,377.5 L1548.0,377.4 L1547.2,375.5 L1546.4,373.9 L1545.6,372.3 L1544.8,371.4 L1544.0,370.7 L1543.2,370.5 L1542.4,372.3 L1541.6,374.2 L1540.8,376.1 L1540.0,378.0 L1539.2,378.3 L1538.3,377.0 L1537.5,375.6 L1536.7,374.1 L1535.9,372.6 L1535.1,371.1 L1534.3,369.6 L1533.5,369.4 L1532.7,370.7 L1531.9,371.9 L1531.1,373.1 L1530.3,374.3 L1529.5,375.5 L1528.6,376.8 L1527.8,378.0 L1527.0,379.3 L1526.2,380.2 L1525.4,379.2 L1524.6,378.3 L1523.8,377.3 L1523.0,376.4 L1522.2,375.4 L1521.4,374.5 L1520.6,374.1 L1519.8,377.3 L1519.0,380.5 L1518.1,383.8 L1517.3,387.2 L1516.5,387.0 L1515.7,381.9 L1514.9,377.0 L1514.1,373.1 L1513.3,374.1 L1512.5,375.1 L1511.7,376.0 L1510.9,376.9 L1510.1,377.7 L1509.3,378.4 L1508.4,378.7 L1507.6,378.8 L1506.8,378.9 L1506.0,378.9 L1505.2,378.9 L1504.4,378.9 L1503.6,378.8 L1502.8,376.2 L1502.0,373.9 L1501.2,372.0 L1500.4,371.8 L1499.6,375.2 L1498.8,378.6 L1497.9,382.0 L1497.1,385.5 L1496.3,388.9 L1495.5,392.3 L1494.7,392.7 L1493.9,392.2 L1493.1,391.7 L1492.3,391.0 L1491.5,390.2 L1490.7,389.3 L1489.9,386.8 L1489.1,383.5 L1488.2,380.2 L1487.4,376.8 L1486.6,373.6 L1485.8,376.5 L1485.0,379.5 L1484.2,382.4 L1483.4,385.4 L1482.6,388.5 L1481.8,391.9 L1481.0,390.4 L1480.2,388.6 L1479.4,386.8 L1478.6,382.9 L1477.7,377.9 L1476.9,373.0 L1476.1,368.0 L1475.3,370.5 L1474.5,373.6 L1473.7,376.8 L1472.9,379.9 L1472.1,383.0 L1471.3,384.2 L1470.5,381.5 L1469.7,378.8 L1468.9,376.0 L1468.0,373.3 L1467.2,374.0 L1466.4,376.8 L1465.6,379.6 L1464.8,382.4 L1464.0,385.2 L1463.2,388.0 L1462.4,390.9 L1461.6,386.8 L1460.8,378.3 L1460.0,372.3 L1459.2,372.7 L1458.4,373.0 L1457.5,373.4 L1456.7,373.7 L1455.9,374.5 L1455.1,375.5 L1454.3,376.4 L1453.5,377.4 L1452.7,378.4 L1451.9,379.0 L1451.1,379.5 L1450.3,380.1 L1449.5,380.7 L1448.7,380.9 L1447.8,379.5 L1447.0,378.2 L1446.2,376.9 L1445.4,376.8 L1444.6,378.1 L1443.8,379.4 L1443.0,380.6 L1442.2,381.9 L1441.4,383.1 L1440.6,384.3 L1439.8,385.5 L1439.0,386.8 L1438.2,388.0 L1437.3,389.3 L1436.5,390.4 L1435.7,391.6 L1434.9,392.7 L1434.1,392.6 L1433.3,392.5 L1432.5,392.3 L1431.7,392.2 L1430.9,392.0 L1430.1,391.9 L1429.3,390.8 L1428.5,389.5 L1427.6,388.3 L1426.8,387.1 L1426.0,385.5 L1425.2,382.8 L1424.4,380.0 L1423.6,377.2 L1422.8,374.5 L1422.0,373.9 L1421.2,375.4 L1420.4,376.9 L1419.6,378.5 L1418.8,380.0 L1418.0,376.9 L1417.1,372.7 L1416.3,368.4 L1415.5,364.7 L1414.7,367.3 L1413.9,369.9 L1413.1,372.4 L1412.3,375.0 L1411.5,375.8 L1410.7,376.4 L1409.9,376.9 L1409.1,377.5 L1408.3,378.0 L1407.4,376.0 L1406.6,372.9 L1405.8,369.8 L1405.0,366.5 L1404.2,363.4 L1403.4,365.4 L1402.6,367.4 L1401.8,369.4 L1401.0,371.3 L1400.2,370.4 L1399.4,369.0 L1398.6,367.7 L1397.8,366.4 L1396.9,365.3 L1396.1,364.3 L1395.3,364.9 L1394.5,366.3 L1393.7,367.6 L1392.9,369.0 L1392.1,370.4 L1391.3,371.7 L1390.5,370.8 L1389.7,368.8 L1388.9,366.9 L1388.1,364.9 L1387.2,362.9 L1386.4,362.6 L1385.6,362.2 L1384.8,362.0 L1384.0,362.0 L1383.2,362.0 L1382.4,362.1 L1381.6,362.2 L1380.8,362.3 L1380.0,362.2 L1379.2,362.2 L1378.4,363.5 L1377.6,365.3 L1376.7,367.1 L1375.9,368.9 L1375.1,370.7 L1374.3,372.0 L1373.5,368.8 L1372.7,365.5 L1371.9,362.3 L1371.1,360.7 L1370.3,362.1 L1369.5,363.6 L1368.7,364.9 L1367.9,364.1 L1367.0,362.0 L1366.2,360.0 L1365.4,359.0 L1364.6,360.4 L1363.8,361.9 L1363.0,363.3 L1362.2,364.8 L1361.4,364.9 L1360.6,364.2 L1359.8,363.6 L1359.0,363.1 L1358.2,363.3 L1357.4,362.2 L1356.5,360.9 L1355.7,359.6 L1354.9,358.3 L1354.1,357.7 L1353.3,359.0 L1352.5,360.3 L1351.7,361.5 L1350.9,357.9 L1350.1,354.1 L1349.3,350.4 L1348.5,349.1 L1347.7,354.1 L1346.8,359.2 L1346.0,364.3 L1345.2,366.3 L1344.4,365.7 L1343.6,365.2 L1342.8,364.9 L1342.0,364.8 L1341.2,364.6 L1340.4,364.5 L1339.6,364.2 L1338.8,363.9 L1338.0,363.6 L1337.2,363.2 L1336.3,362.8 L1335.5,362.4 L1334.7,364.1 L1333.9,365.9 L1333.1,367.7 L1332.3,367.4 L1331.5,366.0 L1330.7,364.6 L1329.9,363.1 L1329.1,359.7 L1328.3,356.1 L1327.5,352.6 L1326.6,349.8 L1325.8,351.4 L1325.0,353.0 L1324.2,354.6 L1323.4,356.1 L1322.6,357.7 L1321.8,358.5 L1321.0,358.7 L1320.2,358.8 L1319.4,359.0 L1318.6,359.9 L1317.8,361.0 L1317.0,362.1 L1316.1,363.3 L1315.3,364.5 L1314.5,365.3 L1313.7,364.1 L1312.9,362.9 L1312.1,361.7 L1311.3,360.5 L1310.5,359.4 L1309.7,359.5 L1308.9,360.5 L1308.1,361.5 L1307.3,362.5 L1306.4,363.5 L1305.6,364.5 L1304.8,363.7 L1304.0,361.2 L1303.2,358.6 L1302.4,356.1 L1301.6,358.4 L1300.8,362.4 L1300.0,366.3 L1299.2,367.3 L1298.4,365.2 L1297.6,363.2 L1296.8,361.1 L1295.9,359.0 L1295.1,357.0 L1294.3,355.0 L1293.5,353.0 L1292.7,353.3 L1291.9,355.8 L1291.1,358.3 L1290.3,360.8 L1289.5,363.2 L1288.7,365.7 L1287.9,367.1 L1287.1,367.2 L1286.2,367.2 L1285.4,367.2 L1284.6,367.2 L1283.8,367.2 L1283.0,367.2 L1282.2,366.2 L1281.4,363.9 L1280.6,361.6 L1279.8,359.3 L1279.0,357.0 L1278.2,355.1 L1277.4,353.4 L1276.6,351.7 L1275.7,350.0 L1274.9,348.4 L1274.1,347.5 L1273.3,349.4 L1272.5,351.4 L1271.7,353.3 L1270.9,355.3 L1270.1,357.2 L1269.3,359.0 L1268.5,358.6 L1267.7,357.6 L1266.9,356.4 L1266.0,355.2 L1265.2,353.9 L1264.4,352.5 L1263.6,351.0 L1262.8,349.3 L1262.0,347.6 L1261.2,346.0 L1260.4,344.4 L1259.6,342.8 L1258.8,341.2 L1258.0,338.8 L1257.2,336.4 L1256.4,333.9 L1255.5,331.5 L1254.7,331.9 L1253.9,333.2 L1253.1,334.5 L1252.3,335.7 L1251.5,336.8 L1250.7,335.9 L1249.9,333.8 L1249.1,331.7 L1248.3,329.7 L1247.5,327.9 L1246.7,329.1 L1245.8,330.6 L1245.0,332.1 L1244.2,333.6 L1243.4,335.1 L1242.6,335.9 L1241.8,335.4 L1241.0,334.9 L1240.2,334.5 L1239.4,333.2 L1238.6,331.4 L1237.8,329.4 L1237.0,327.4 L1236.2,325.4 L1235.3,324.8 L1234.5,322.9 L1233.7,321.2 L1232.9,320.3 L1232.1,321.2 L1231.3,322.3 L1230.5,323.3 L1229.7,324.3 L1228.9,325.3 L1228.1,325.1 L1227.3,321.7 L1226.5,316.6 L1225.6,311.4 L1224.8,306.1 L1224.0,304.2 L1223.2,304.4 L1222.4,305.1 L1221.6,305.8 L1220.8,306.7 L1220.0,307.8 L1219.2,308.0 L1218.4,306.6 L1217.6,305.6 L1216.8,304.7 L1216.0,303.8 L1215.1,302.9 L1214.3,301.3 L1213.5,296.8 L1212.7,292.4 L1211.9,288.1 L1211.1,283.9 L1210.3,283.5 L1209.5,286.2 L1208.7,288.9 L1207.9,291.7 L1207.1,294.5 L1206.3,292.0 L1205.4,288.8 L1204.6,286.1 L1203.8,283.5 L1203.0,282.5 L1202.2,287.3 L1201.4,292.2 L1200.6,297.1 L1199.8,302.3 L1199.0,303.5 L1198.2,300.9 L1197.4,298.5 L1196.6,296.1 L1195.8,293.7 L1194.9,291.4 L1194.1,290.8 L1193.3,292.5 L1192.5,294.4 L1191.7,296.2 L1190.9,298.1 L1190.1,300.0 L1189.3,303.7 L1188.5,307.8 L1187.7,311.9 L1186.9,315.9 L1186.1,319.9 L1185.2,323.5 L1184.4,325.9 L1183.6,328.4 L1182.8,330.8 L1182.0,333.1 L1181.2,335.5 L1180.4,336.8 L1179.6,332.2 L1178.8,327.4 L1178.0,322.5 L1177.2,321.7 L1176.4,321.6 L1175.6,321.4 L1174.7,321.5 L1173.9,323.9 L1173.1,326.2 L1172.3,328.5 L1171.5,330.8 L1170.7,333.1 L1169.9,335.3 L1169.1,337.3 L1168.3,338.7 L1167.5,340.0 L1166.7,341.4 L1165.9,342.7 L1165.0,344.0 L1164.2,345.3 L1163.4,344.4 L1162.6,343.4 L1161.8,342.5 L1161.0,341.5 L1160.2,340.5 L1159.4,339.3 L1158.6,338.0 L1157.8,336.6 L1157.0,335.2 L1156.2,333.8 L1155.4,335.8 L1154.5,339.2 L1153.7,342.6 L1152.9,346.0 L1152.1,345.2 L1151.3,344.6 L1150.5,344.2 L1149.7,343.8 L1148.9,343.5 L1148.1,343.4 L1147.3,343.3 L1146.5,343.2 L1145.7,343.1 L1144.8,343.0 L1144.0,344.1 L1143.2,345.6 L1142.4,347.1 L1141.6,348.6 L1140.8,350.0 L1140.0,351.0 L1139.2,348.3 L1138.4,345.6 L1137.6,342.9 L1136.8,340.4 L1136.0,338.4 L1135.2,336.5 L1134.3,334.5 L1133.5,332.5 L1132.7,333.5 L1131.9,336.1 L1131.1,338.6 L1130.3,341.2 L1129.5,343.7 L1128.7,346.1 L1127.9,345.7 L1127.1,345.4 L1126.3,345.0 L1125.5,344.7 L1124.6,344.3 L1123.8,344.0 L1123.0,341.8 L1122.2,339.6 L1121.4,337.4 L1120.6,335.2 L1119.8,334.0 L1119.0,335.4 L1118.2,336.8 L1117.4,338.2 L1116.6,339.5 L1115.8,340.9 L1115.0,341.7 L1114.1,340.3 L1113.3,339.1 L1112.5,337.9 L1111.7,336.7 L1110.9,335.6 L1110.1,337.3 L1109.3,341.0 L1108.5,344.6 L1107.7,348.1 L1106.9,351.5 L1106.1,351.4 L1105.3,350.9 L1104.4,350.4 L1103.6,350.3 L1102.8,350.3 L1102.0,350.2 L1101.2,350.3 L1100.4,349.8 L1099.6,346.9 L1098.8,344.3 L1098.0,342.0 L1097.2,339.7 L1096.4,338.1 L1095.6,336.9 L1094.8,335.7 L1093.9,334.5 L1093.1,333.3 L1092.3,335.9 L1091.5,339.3 L1090.7,342.5 L1089.9,345.5 L1089.1,348.1 L1088.3,348.5 L1087.5,348.8 L1086.7,349.2 L1085.9,349.7 L1085.1,350.4 L1084.2,351.5 L1083.4,352.7 L1082.6,354.1 L1081.8,355.7 L1081.0,350.6 L1080.2,343.9 L1079.4,337.2 L1078.6,335.6 L1077.8,338.5 L1077.0,341.4 L1076.2,344.3 L1075.4,347.2 L1074.6,350.1 L1073.7,351.8 L1072.9,351.9 L1072.1,352.0 L1071.3,352.2 L1070.5,352.3 L1069.7,353.7 L1068.9,355.5 L1068.1,357.2 L1067.3,359.0 L1066.5,360.3 L1065.7,357.4 L1064.9,354.5 L1064.0,351.7 L1063.2,348.8 L1062.4,349.6 L1061.6,355.7 L1060.8,361.9 L1060.0,368.2 L1059.2,372.5 L1058.4,369.6 L1057.6,366.7 L1056.8,363.6 L1056.0,360.5 L1055.2,357.3 L1054.4,353.9 L1053.5,352.6 L1052.7,352.5 L1051.9,352.3 L1051.1,352.2 L1050.3,351.9 L1049.5,351.7 L1048.7,352.6 L1047.9,353.7 L1047.1,354.8 L1046.3,356.2 L1045.5,356.8 L1044.7,355.4 L1043.8,354.1 L1043.0,352.8 L1042.2,351.5 L1041.4,350.2 L1040.6,352.9 L1039.8,356.9 L1039.0,360.9 L1038.2,364.8 L1037.4,362.5 L1036.6,360.3 L1035.8,358.0 L1035.0,355.3 L1034.2,351.3 L1033.3,347.2 L1032.5,343.2 L1031.7,339.6 L1030.9,342.2 L1030.1,344.9 L1029.3,347.6 L1028.5,350.3 L1027.7,353.2 L1026.9,356.6 L1026.1,353.9 L1025.3,351.3 L1024.5,348.8 L1023.6,346.7 L1022.8,346.4 L1022.0,346.0 L1021.2,345.5 L1020.4,344.9 L1019.6,343.6 L1018.8,343.8 L1018.0,345.2 L1017.2,346.4 L1016.4,347.6 L1015.6,350.2 L1014.8,353.0 L1014.0,355.9 L1013.1,358.9 L1012.3,360.2 L1011.5,355.7 L1010.7,351.5 L1009.9,347.4 L1009.1,350.2 L1008.3,353.2 L1007.5,356.2 L1006.7,358.7 L1005.9,360.6 L1005.1,362.5 L1004.3,361.7 L1003.4,360.4 L1002.6,359.1 L1001.8,357.2 L1001.0,354.7 L1000.2,352.2 L999.4,349.8 L998.6,347.3 L997.8,344.9 L997.0,345.4 L996.2,348.8 L995.4,352.4 L994.6,356.0 L993.8,358.3 L992.9,357.4 L992.1,356.5 L991.3,355.7 L990.5,352.3 L989.7,346.9 L988.9,341.5 L988.1,336.1 L987.3,337.5 L986.5,340.8 L985.7,344.0 L984.9,347.1 L984.1,350.3 L983.2,353.4 L982.4,356.4 L981.6,353.6 L980.8,349.0 L980.0,344.5 L979.2,343.6 L978.4,346.2 L977.6,348.9 L976.8,351.5 L976.0,354.1 L975.2,356.7 L974.4,359.3 L973.6,358.9 L972.7,355.4 L971.9,351.9 L971.1,348.4 L970.3,344.9 L969.5,345.2 L968.7,346.3 L967.9,347.5 L967.1,348.6 L966.3,349.4 L965.5,347.6 L964.7,345.9 L963.9,344.1 L963.0,342.3 L962.2,343.1 L961.4,346.7 L960.6,350.3 L959.8,352.6 L959.0,350.3 L958.2,348.1 L957.4,346.0 L956.6,343.8 L955.8,341.8 L955.0,340.3 L954.2,338.8 L953.4,337.4 L952.5,338.4 L951.7,340.1 L950.9,341.9 L950.1,343.7 L949.3,345.5 L948.5,347.4 L947.7,347.9 L946.9,348.0 L946.1,348.0 L945.3,348.2 L944.5,348.3 L943.7,348.5 L942.8,349.6 L942.0,350.7 L941.2,351.9 L940.4,353.0 L939.6,354.3 L938.8,355.8 L938.0,357.4 L937.2,360.0 L936.4,362.7 L935.6,365.4 L934.8,366.9 L934.0,368.2 L933.2,369.2 L932.3,369.8 L931.5,370.4 L930.7,371.0 L929.9,369.2 L929.1,366.3 L928.3,363.4 L927.5,360.6 L926.7,357.7 L925.9,358.8 L925.1,359.8 L924.3,360.6 L923.5,360.3 L922.6,357.4 L921.8,354.3 L921.0,351.3 L920.2,351.8 L919.4,352.3 L918.6,352.8 L917.8,353.4 L917.0,353.9 L916.2,354.4 L915.4,357.9 L914.6,361.7 L913.8,365.5 L913.0,362.7 L912.1,356.5 L911.3,353.0 L910.5,355.7 L909.7,358.4 L908.9,361.1 L908.1,363.9 L907.3,363.8 L906.5,362.3Z" fill="#808080" fill-opacity="0.6" stroke="none"/>
<path d="M906.2,353.9 L907.2,355.8 L907.8,357.1 L908.3,355.5 L910.4,348.2 L911.6,344.2 L912.5,351.0 L913.5,359.0 L914.6,353.8 L916.1,346.5 L916.7,346.1 L917.7,345.4 L918.8,344.7 L920.9,343.4 L921.0,343.3 L923.0,350.6 L923.7,353.3 L925.1,351.9 L925.6,351.3 L926.7,349.8 L927.2,351.5 L929.3,359.1 L930.5,363.4 L931.4,362.8 L933.5,361.2 L933.5,361.2 L935.4,358.1 L935.6,357.6 L937.7,350.5 L938.0,349.3 L939.8,346.0 L940.1,345.5 L941.9,342.9 L943.7,340.4 L944.0,340.3 L946.1,340.0 L947.9,339.8 L948.2,339.9 L948.3,339.9 L950.3,335.2 L952.4,330.5 L953.2,328.9 L954.5,331.2 L955.8,333.8 L956.2,334.8 L956.6,335.7 L958.7,341.4 L960.0,345.1 L960.8,341.6 L962.4,334.3 L962.6,333.2 L962.9,333.8 L965.0,338.5 L966.4,341.6 L967.1,340.6 L969.2,337.6 L970.2,336.1 L971.3,341.1 L972.9,348.2 L973.4,350.3 L974.0,352.7 L975.5,347.7 L977.6,340.8 L979.6,334.1 L979.7,334.6 L981.8,346.5 L982.3,349.2 L983.4,344.8 L983.9,342.9 L986.0,334.6 L987.9,326.7 L988.1,327.9 L990.2,342.1 L991.0,347.3 L992.3,348.8 L994.0,350.6 L994.4,348.8 L996.5,339.4 L996.6,339.1 L997.4,335.6 L998.6,339.2 L1000.7,345.7 L1002.3,350.7 L1002.8,351.5 L1004.9,354.9 L1004.9,354.9 L1007.0,350.0 L1007.1,349.8 L1009.1,342.2 L1009.9,339.1 L1011.2,345.9 L1012.3,352.3 L1012.5,353.5 L1013.3,350.3 L1015.4,342.7 L1016.3,339.7 L1017.5,337.9 L1019.3,334.8 L1019.6,335.5 L1020.2,336.6 L1021.7,337.8 L1023.8,338.7 L1023.8,338.8 L1025.9,345.3 L1026.9,348.7 L1028.0,343.9 L1028.1,343.6 L1030.1,336.8 L1031.8,331.3 L1032.2,333.5 L1034.3,344.1 L1035.2,348.4 L1036.4,352.0 L1038.2,357.0 L1038.5,355.5 L1038.6,355.0 L1040.6,344.9 L1041.2,341.8 L1042.7,344.3 L1044.8,347.7 L1045.8,349.3 L1046.5,347.8 L1046.9,347.1 L1049.0,344.2 L1049.5,343.6 L1051.1,344.2 L1053.2,344.6 L1054.1,344.6 L1054.4,346.1 L1055.3,350.1 L1057.4,358.3 L1059.4,365.4 L1059.5,364.2 L1061.6,347.8 L1062.3,342.9 L1062.8,339.1 L1063.7,342.5 L1065.8,350.1 L1066.5,352.7 L1067.9,349.6 L1070.0,345.0 L1070.3,344.4 L1072.1,344.0 L1072.8,343.9 L1074.1,343.7 L1074.2,343.3 L1076.3,335.6 L1078.4,328.0 L1079.0,325.9 L1080.5,338.5 L1081.7,348.1 L1082.6,346.2 L1083.3,345.0 L1084.7,342.8 L1085.4,341.8 L1086.8,341.1 L1088.9,340.1 L1089.2,339.9 L1091.0,333.1 L1091.2,332.7 L1093.0,324.9 L1093.1,325.1 L1095.2,328.2 L1096.8,330.5 L1097.3,332.0 L1099.0,337.0 L1099.4,338.3 L1100.6,342.3 L1101.5,342.2 L1103.6,342.3 L1104.3,342.3 L1105.7,343.2 L1106.8,343.8 L1106.9,343.3 L1107.8,339.4 L1109.9,329.9 L1110.6,326.9 L1112.0,329.0 L1114.1,332.2 L1114.8,333.3 L1115.1,333.9 L1116.2,332.0 L1118.3,328.3 L1120.0,325.4 L1120.4,326.5 L1122.5,332.3 L1123.8,335.9 L1124.6,336.2 L1126.8,337.1 L1128.0,337.7 L1128.7,338.1 L1128.9,337.7 L1131.0,331.0 L1133.1,324.3 L1133.3,323.6 L1135.2,328.3 L1137.0,333.0 L1137.3,333.7 L1139.4,340.8 L1140.1,343.2 L1141.1,341.5 L1141.5,340.9 L1143.6,336.9 L1144.6,334.8 L1145.7,335.0 L1147.8,335.2 L1149.1,335.4 L1149.9,335.7 L1151.6,336.7 L1152.0,337.0 L1152.9,338.0 L1154.1,333.1 L1155.9,325.2 L1156.2,325.6 L1158.3,329.3 L1159.5,331.3 L1160.4,332.5 L1160.5,332.7 L1162.5,335.1 L1164.3,337.3 L1164.6,336.8 L1166.7,333.2 L1168.8,329.7 L1169.2,329.0 L1170.0,326.8 L1170.9,324.4 L1173.0,318.4 L1174.8,312.8 L1175.1,312.9 L1177.2,313.3 L1177.9,313.5 L1177.9,313.6 L1179.3,322.0 L1180.5,329.3 L1181.4,326.8 L1183.5,320.6 L1185.4,314.6 L1185.6,313.9 L1185.8,313.0 L1187.7,303.4 L1189.8,292.6 L1190.0,291.7 L1191.9,287.1 L1193.7,283.1 L1194.0,282.4 L1194.5,281.3 L1196.1,285.9 L1198.2,292.3 L1199.4,296.2 L1200.2,290.8 L1200.3,290.5 L1202.4,277.5 L1203.2,272.7 L1204.5,276.7 L1205.5,280.1 L1206.6,284.5 L1207.0,286.1 L1208.7,280.1 L1210.7,273.2 L1210.8,273.4 L1212.0,280.0 L1212.9,284.5 L1214.5,293.7 L1215.0,294.1 L1217.1,296.4 L1218.6,298.3 L1219.2,299.4 L1219.4,300.0 L1221.3,297.5 L1223.4,295.6 L1223.9,295.3 L1224.7,296.7 L1225.5,301.9 L1227.6,315.4 L1227.8,316.4 L1228.5,317.4 L1229.7,316.0 L1231.8,313.2 L1233.1,311.7 L1233.9,313.0 L1235.7,317.3 L1236.0,317.0 L1236.1,316.8 L1238.1,322.0 L1239.8,326.1 L1240.2,326.2 L1242.3,327.4 L1242.3,327.4 L1242.9,328.0 L1244.4,325.0 L1246.5,321.1 L1247.4,319.5 L1247.5,319.7 L1248.6,322.1 L1250.7,327.7 L1251.2,329.1 L1252.8,326.7 L1254.1,324.7 L1254.9,323.3 L1255.3,322.6 L1257.0,327.7 L1258.7,333.0 L1259.1,333.7 L1261.2,337.9 L1262.0,339.5 L1263.3,342.3 L1263.7,343.1 L1265.4,346.2 L1267.5,349.5 L1268.6,350.8 L1269.3,351.1 L1269.6,350.5 L1271.7,345.3 L1273.8,340.2 L1274.2,339.1 L1275.1,340.7 L1275.9,342.3 L1278.0,346.8 L1278.8,348.5 L1280.1,352.3 L1282.2,358.4 L1282.6,359.4 L1284.3,359.4 L1285.6,359.4 L1286.4,359.4 L1288.2,359.3 L1288.5,358.4 L1290.6,351.9 L1292.7,345.3 L1293.1,344.0 L1294.8,348.2 L1296.1,351.6 L1296.9,353.6 L1299.0,359.1 L1299.6,360.5 L1301.1,352.9 L1302.2,347.5 L1303.2,350.7 L1305.2,357.1 L1305.3,357.0 L1306.7,355.4 L1307.4,354.5 L1309.5,351.8 L1310.1,351.0 L1311.6,353.1 L1313.7,356.2 L1314.7,357.7 L1315.8,355.9 L1317.2,353.9 L1317.9,352.9 L1319.2,351.1 L1320.0,350.9 L1322.1,350.5 L1322.2,350.5 L1324.2,346.6 L1326.3,342.5 L1326.8,341.6 L1327.7,345.6 L1328.4,348.9 L1329.8,355.1 L1330.5,356.4 L1332.6,360.2 L1332.8,360.6 L1334.7,356.3 L1335.5,354.5 L1335.6,354.6 L1336.8,355.2 L1338.9,356.1 L1340.4,356.7 L1341.0,356.8 L1343.1,357.2 L1343.4,357.3 L1345.2,358.5 L1345.7,358.8 L1347.3,348.2 L1348.7,339.5 L1349.4,343.1 L1351.3,352.0 L1351.5,352.9 L1351.7,353.7 L1353.6,350.6 L1354.4,349.4 L1355.7,351.7 L1357.8,355.1 L1357.9,355.2 L1358.1,355.5 L1359.0,355.2 L1359.9,355.9 L1361.9,357.4 L1362.0,357.2 L1364.1,353.4 L1365.7,350.6 L1366.2,352.1 L1368.3,357.5 L1368.4,357.6 L1369.5,355.7 L1370.4,354.0 L1371.4,352.3 L1372.5,357.0 L1374.4,364.6 L1374.6,364.0 L1376.7,359.3 L1378.7,355.0 L1378.8,354.5 L1378.9,354.3 L1380.9,354.4 L1383.0,354.1 L1383.5,354.1 L1385.1,354.2 L1385.2,354.2 L1387.2,355.1 L1387.2,355.1 L1389.4,360.3 L1391.0,364.5 L1391.5,363.7 L1393.6,360.1 L1395.7,356.5 L1395.8,356.4 L1395.9,356.2 L1397.8,358.6 L1399.9,362.1 L1400.9,363.9 L1402.0,361.2 L1404.1,356.0 L1404.3,355.5 L1406.2,363.4 L1406.3,363.8 L1408.0,370.5 L1408.3,370.4 L1410.4,368.9 L1412.2,367.6 L1412.5,366.8 L1414.6,360.0 L1415.6,356.6 L1416.7,362.4 L1418.1,370.0 L1418.6,372.6 L1418.8,372.3 L1420.9,368.3 L1422.4,365.4 L1423.0,367.3 L1425.1,374.6 L1426.2,378.5 L1427.2,380.0 L1427.3,380.2 L1429.3,383.3 L1430.0,384.4 L1431.4,384.7 L1433.5,385.1 L1434.9,385.3 L1435.6,384.3 L1437.7,381.3 L1437.8,381.1 L1439.4,378.5 L1439.8,378.0 L1441.9,374.8 L1444.0,371.5 L1445.8,368.5 L1446.1,368.9 L1448.2,372.4 L1448.9,373.6 L1450.3,372.5 L1450.9,372.0 L1452.4,371.0 L1452.6,370.8 L1454.5,368.6 L1456.4,366.2 L1456.6,366.1 L1458.7,365.1 L1460.2,364.5 L1460.8,370.7 L1461.5,377.8 L1462.1,384.6 L1462.9,381.7 L1465.0,374.2 L1467.1,366.9 L1467.8,364.5 L1469.2,369.5 L1471.3,376.6 L1471.5,377.4 L1472.0,375.9 L1473.4,370.4 L1475.5,362.1 L1476.1,359.8 L1477.6,369.3 L1479.1,378.7 L1479.7,380.0 L1481.7,384.6 L1481.8,384.4 L1482.5,381.5 L1483.9,376.0 L1486.0,368.2 L1486.6,365.9 L1488.1,371.9 L1490.2,380.6 L1490.4,381.5 L1492.3,383.6 L1493.0,384.2 L1494.4,385.1 L1495.3,385.6 L1496.5,380.7 L1498.6,371.7 L1500.6,362.9 L1500.7,363.0 L1502.2,366.7 L1502.8,368.5 L1503.7,371.3 L1504.9,371.2 L1507.0,371.3 L1508.2,371.0 L1508.8,371.1 L1509.1,370.9 L1511.2,368.9 L1513.3,366.4 L1514.2,365.2 L1515.4,372.3 L1516.9,381.7 L1517.5,378.9 L1518.0,376.9 L1519.6,370.3 L1520.7,366.0 L1521.7,367.2 L1523.8,369.7 L1525.9,372.2 L1526.3,372.7 L1528.0,370.1 L1529.8,367.4 L1530.1,366.9 L1532.2,363.6 L1533.9,361.1 L1534.3,361.9 L1536.4,365.8 L1537.7,368.2 L1538.5,369.6 L1539.6,371.3 L1540.6,368.8 L1542.7,363.8 L1543.3,362.4 L1544.8,363.6 L1545.6,364.4 L1546.9,367.1 L1548.3,370.2 L1549.0,369.8 L1551.1,368.9 L1553.2,367.9 L1553.4,367.8 L1553.5,367.7 L1555.3,373.7 L1556.6,377.9 L1557.4,377.3 L1559.5,375.8 L1560.3,375.3 L1561.6,373.7 L1563.7,371.4 L1563.9,371.2 L1564.1,371.2 L1565.8,382.7 L1567.2,392.0 L1567.9,391.6 L1569.2,390.0 L1570.0,387.7 L1571.7,383.0 L1572.1,384.0 L1574.2,388.3 L1575.5,390.9 L1576.3,388.0" stroke="#000" stroke-width="4.1"/>
<path d="M906.2,354.1 L907.2,353.9 L908.3,354.1 L910.4,354.7 L912.5,355.5 L914.6,356.3 L916.7,357.2 L917.7,357.6 L918.8,358.0 L920.9,358.9 L923.0,359.7 L925.1,360.3 L925.6,360.4 L927.2,360.2 L929.3,359.8 L931.4,359.2 L933.5,358.6 L933.5,358.6 L935.6,356.1 L937.7,352.7 L939.8,349.5 L940.1,349.2 L941.9,347.2 L944.0,345.1 L946.1,343.2 L947.9,341.6 L948.2,341.5 L950.3,340.3 L952.4,339.1 L954.5,338.2 L955.8,337.9 L956.6,338.3 L958.7,340.4 L960.8,343.0 L962.4,344.5 L962.9,344.6 L965.0,345.3 L967.1,345.9 L969.2,346.4 L971.3,346.9 L972.9,347.3 L973.4,347.4 L975.5,347.8 L977.6,348.3 L979.7,348.7 L981.8,349.0 L983.4,349.2 L983.9,349.1 L986.0,348.9 L988.1,348.6 L990.2,348.2 L992.3,347.8 L994.4,347.5 L996.5,347.3 L996.6,347.3 L998.6,347.7 L1000.7,348.3 L1002.8,349.0 L1004.9,349.7 L1007.0,350.1 L1007.1,350.1 L1009.1,347.8 L1011.2,344.5 L1012.3,343.5 L1013.3,344.0 L1015.4,345.9 L1017.5,348.1 L1019.6,349.8 L1020.2,350.1 L1021.7,349.2 L1023.8,347.2 L1025.9,345.0 L1028.0,343.6 L1028.1,343.5 L1030.1,343.8 L1032.2,344.2 L1034.3,344.7 L1036.4,345.1 L1038.5,345.4 L1038.6,345.4 L1040.6,345.2 L1042.7,344.9 L1044.8,344.6 L1046.5,344.5 L1046.9,344.6 L1049.0,346.0 L1051.1,347.9 L1053.2,349.6 L1054.4,350.1 L1055.3,349.7 L1057.4,348.1 L1059.5,346.0 L1061.6,344.0 L1062.3,343.5 L1063.7,342.7 L1065.8,341.5 L1067.9,340.4 L1070.0,339.3 L1072.1,338.2 L1072.8,337.9 L1074.2,337.2 L1076.3,336.0 L1078.4,335.0 L1080.5,334.0 L1082.6,333.3 L1083.3,333.2 L1084.7,333.4 L1086.8,334.0 L1088.9,334.6 L1091.0,335.1 L1091.2,335.1 L1093.1,334.5 L1095.2,333.6 L1097.3,332.7 L1099.0,332.3 L1099.4,332.3 L1101.5,333.3 L1103.6,334.5 L1105.7,335.6 L1106.9,336.0 L1107.8,335.7 L1109.9,334.5 L1112.0,332.9 L1114.1,331.6 L1114.8,331.3 L1116.2,331.0 L1118.3,330.6 L1120.4,330.3 L1122.5,330.0 L1124.6,329.7 L1126.8,329.5 L1128.0,329.4 L1128.9,329.4 L1131.0,329.4 L1133.1,329.4 L1135.2,329.4 L1137.3,329.4 L1139.4,329.4 L1141.1,329.4 L1141.5,329.4 L1143.6,328.8 L1145.7,327.9 L1147.8,326.9 L1149.9,326.1 L1151.6,325.7 L1152.0,325.7 L1154.1,326.2 L1156.2,326.8 L1158.3,327.4 L1159.5,327.6 L1160.4,327.5 L1162.5,327.2 L1164.6,326.9 L1166.7,326.5 L1168.8,326.0 L1170.0,325.7 L1170.9,325.3 L1173.0,324.2 L1175.1,323.0 L1177.2,321.5 L1177.9,321.0 L1179.3,319.4 L1181.4,316.5 L1183.5,313.3 L1185.6,310.0 L1185.8,309.7 L1187.7,306.2 L1189.8,302.1 L1191.9,298.0 L1193.7,294.7 L1194.0,294.1 L1196.1,290.6 L1198.2,287.2 L1200.2,284.4 L1200.3,284.3 L1202.4,282.5 L1204.5,281.0 L1205.5,280.6 L1206.6,280.8 L1208.7,281.3 L1210.8,282.0 L1212.0,282.5 L1212.9,283.0 L1215.0,284.6 L1217.1,286.5 L1218.6,288.1 L1219.2,289.1 L1221.3,293.6 L1223.4,299.0 L1223.9,300.3 L1225.5,308.6 L1227.6,318.6 L1227.8,319.1 L1229.7,318.8 L1231.8,318.3 L1233.1,318.2 L1233.9,320.4 L1235.7,326.6 L1236.0,326.5 L1238.1,325.5 L1240.2,324.0 L1242.3,322.9 L1242.3,322.9 L1244.4,322.4 L1246.5,322.0 L1247.5,321.9 L1248.6,322.5 L1250.7,324.6 L1252.8,327.1 L1254.1,328.5 L1254.9,329.3 L1257.0,331.3 L1259.1,333.3 L1261.2,335.3 L1262.0,336.0 L1263.3,337.5 L1265.4,339.9 L1267.5,342.0 L1268.6,342.6 L1269.6,342.5 L1271.7,342.1 L1273.8,341.8 L1275.1,341.6 L1275.9,341.8 L1278.0,342.2 L1280.1,342.8 L1282.2,343.4 L1284.3,344.1 L1285.6,344.5 L1286.4,344.7 L1288.5,345.2 L1290.6,345.8 L1292.7,346.3 L1294.8,346.9 L1296.1,347.3 L1296.9,347.5 L1299.0,348.3 L1301.1,349.1 L1303.2,349.9 L1305.3,350.6 L1306.7,351.0 L1307.4,351.2 L1309.5,351.6 L1311.6,351.9 L1313.7,352.3 L1315.8,352.6 L1317.2,352.9 L1317.9,353.1 L1320.0,353.8 L1322.1,354.6 L1324.2,355.4 L1326.3,356.2 L1327.7,356.7 L1328.4,357.0 L1330.5,357.8 L1332.6,358.7 L1334.7,359.3 L1335.6,359.5 L1336.8,359.3 L1338.9,358.7 L1341.0,358.1 L1343.1,357.7 L1343.4,357.6 L1345.2,358.1 L1347.3,359.0 L1349.4,359.9 L1351.3,360.4 L1351.5,360.4 L1353.6,360.1 L1355.7,359.6 L1357.8,359.0 L1357.9,358.9 L1359.0,358.2 L1359.9,358.4 L1362.0,359.1 L1364.1,360.0 L1366.2,361.0 L1368.3,361.7 L1369.5,361.9 L1370.4,361.9 L1372.5,361.9 L1374.6,361.9 L1376.7,361.9 L1378.7,361.9 L1378.8,361.9 L1380.9,360.8 L1383.0,359.4 L1385.1,358.2 L1385.2,358.2 L1387.2,357.9 L1389.4,357.7 L1391.5,357.5 L1393.6,357.3 L1395.7,357.2 L1395.8,357.2 L1397.8,358.5 L1399.9,360.5 L1402.0,362.9 L1404.1,365.4 L1406.2,367.5 L1406.3,367.6 L1408.3,368.9 L1410.4,370.2 L1412.5,371.5 L1414.6,372.6 L1416.7,373.6 L1418.1,374.1 L1418.8,374.2 L1420.9,374.5 L1423.0,374.7 L1425.1,374.9 L1427.2,375.1 L1427.3,375.1 L1429.3,375.3 L1431.4,375.5 L1433.5,375.7 L1435.6,375.9 L1437.7,376.0 L1437.8,376.0 L1439.8,375.8 L1441.9,375.5 L1444.0,375.1 L1446.1,374.8 L1448.2,374.4 L1450.3,374.2 L1450.9,374.1 L1452.4,374.1 L1454.5,374.1 L1456.6,374.1 L1458.7,374.1 L1460.8,374.1 L1461.5,374.1 L1462.9,374.4 L1465.0,375.0 L1467.1,375.7 L1469.2,376.4 L1471.3,376.9 L1472.0,377.0 L1473.4,376.8 L1475.5,376.4 L1477.6,375.9 L1479.7,375.5 L1481.8,375.1 L1482.5,375.1 L1483.9,375.5 L1486.0,376.4 L1488.1,377.6 L1490.2,378.8 L1492.3,379.6 L1493.0,379.8 L1494.4,379.7 L1496.5,379.4 L1498.6,379.2 L1500.7,378.9 L1502.2,378.8 L1502.8,379.1 L1504.9,380.6 L1507.0,382.5 L1508.8,383.5 L1509.1,383.4 L1511.2,382.1 L1513.3,380.2 L1515.4,378.1 L1517.5,376.3 L1518.0,376.0 L1519.6,375.3 L1521.7,374.4 L1523.8,373.5 L1525.9,372.8 L1528.0,372.0 L1529.8,371.3 L1530.1,371.2 L1532.2,370.5 L1534.3,369.8 L1536.4,369.0 L1537.7,368.5 L1538.5,368.0 L1540.6,366.6 L1542.7,365.1 L1544.8,364.0 L1545.6,363.8 L1546.9,364.6 L1549.0,366.5 L1551.1,368.9 L1553.2,371.1 L1553.4,371.3 L1555.3,372.7 L1557.4,374.1 L1559.5,375.4 L1561.6,376.9 L1563.7,378.6 L1563.9,378.8 L1565.8,382.3 L1567.9,386.6 L1569.2,388.2 L1570.0,388.1 L1572.1,387.5 L1574.2,386.6 L1576.3,385.7" stroke="#f00" stroke-width="3.5"/>
</g>
<g stroke="#000" fill="none">
<rect x="918.8" y="258.0" width="646.4" height="142.4" fill="none" stroke="#000" stroke-width="1.6"/>
<path d="M918.8,400.4 V407.4 M918.8,258.0 V251.0 M1080.4,400.4 V407.4 M1080.4,258.0 V251.0 M1242.0,400.4 V407.4 M1242.0,258.0 V251.0 M1403.6,400.4 V407.4 M1403.6,258.0 V251.0 M1565.2,400.4 V407.4 M1565.2,258.0 V251.0 M911.8,388.2 H918.8 M1565.2,388.2 H1572.2 M911.8,335.0 H918.8 M1565.2,335.0 H1572.2 M911.8,281.7 H918.8 M1565.2,281.7 H1572.2" stroke-width="3.3"/>
<path d="M951.1,400.4 V404.4 M951.1,258.0 V254.0 M983.4,400.4 V404.4 M983.4,258.0 V254.0 M1015.8,400.4 V404.4 M1015.8,258.0 V254.0 M1048.1,400.4 V404.4 M1048.1,258.0 V254.0 M1112.7,400.4 V404.4 M1112.7,258.0 V254.0 M1145.0,400.4 V404.4 M1145.0,258.0 V254.0 M1177.4,400.4 V404.4 M1177.4,258.0 V254.0 M1209.7,400.4 V404.4 M1209.7,258.0 V254.0 M1274.3,400.4 V404.4 M1274.3,258.0 V254.0 M1306.6,400.4 V404.4 M1306.6,258.0 V254.0 M1339.0,400.4 V404.4 M1339.0,258.0 V254.0 M1371.3,400.4 V404.4 M1371.3,258.0 V254.0 M1435.9,400.4 V404.4 M1435.9,258.0 V254.0 M1468.2,400.4 V404.4 M1468.2,258.0 V254.0 M1500.6,400.4 V404.4 M1500.6,258.0 V254.0 M1532.9,400.4 V404.4 M1532.9,258.0 V254.0 M914.8,398.9 H918.8 M1565.2,398.9 H1569.2 M914.8,377.6 H918.8 M1565.2,377.6 H1569.2 M914.8,366.9 H918.8 M1565.2,366.9 H1569.2 M914.8,356.3 H918.8 M1565.2,356.3 H1569.2 M914.8,345.6 H918.8 M1565.2,345.6 H1569.2 M914.8,324.3 H918.8 M1565.2,324.3 H1569.2 M914.8,313.6 H918.8 M1565.2,313.6 H1569.2 M914.8,303.0 H918.8 M1565.2,303.0 H1569.2 M914.8,292.3 H918.8 M1565.2,292.3 H1569.2 M914.8,271.0 H918.8 M1565.2,271.0 H1569.2 M914.8,260.3 H918.8 M1565.2,260.3 H1569.2" stroke-width="2.8"/>
</g>
<text x="918.8" y="438" text-anchor="middle">5700</text>
<text x="1080.4" y="438" text-anchor="middle">5800</text>
<text x="1242.0" y="438" text-anchor="middle">5900</text>
<text x="1403.6" y="438" text-anchor="middle">6000</text>
<text x="1565.2" y="438" text-anchor="middle">6100</text>
<text x="904.8" y="400.0" text-anchor="end">1.25</text>
<text x="904.8" y="346.8" text-anchor="end">1.50</text>
<text x="904.8" y="293.5" text-anchor="end">1.75</text>
<text x="1374.4" y="292.3">HeI region</text>
</g>
<g font-family="'DejaVu Sans','Liberation Sans',sans-serif" font-size="32.0" fill="#000">
<rect x="1777.8" y="26.7" width="245.5" height="150.7" rx="5" fill="#fff" fill-opacity="0.8" stroke="#ccc" stroke-width="1.8"/>
<path d="M1789,52.7 H1856.5" stroke="#000" stroke-width="4.4"/>
<path d="M1789,99.8 H1856.5" stroke="#f00" stroke-width="3.6"/>
<rect x="1789.5" y="134.9" width="66.3" height="23.7" fill="#808080" fill-opacity="0.6"/>
<text x="1880.4" y="64.1">Data</text>
<text x="1880.4" y="111">Model</text>
<text x="1880.2" y="156.4">1<tspan font-style="italic">σ</tspan><tspan dx="1.4"> error</tspan></text>
<rect x="1503.6" y="1036.9" width="519.7" height="63.8" rx="5" fill="#fff" fill-opacity="0.8" stroke="#ccc" stroke-width="1.8"/>
<path d="M1514.3,1068.9 H1582" stroke="#808080" stroke-width="4.2"/>
<text x="1604.2" y="1079.3" font-size="32.3">Data - Model (<tspan font-style="italic">χ</tspan><tspan font-style="italic" font-size="22.3" dy="4.8">ν</tspan><tspan font-size="22.3" dy="-17">2</tspan><tspan dy="12.2" dx="1.2">=1.738)</tspan></text>
</g>
<g font-family="'Liberation Sans','DejaVu Sans',sans-serif">
<text x="560.1" y="101.2" textLength="54.7" lengthAdjust="spacingAndGlyphs" fill="#000" font-size="43.5">Hβ</text>
<text x="704.2" y="186.3" textLength="93.8" lengthAdjust="spacingAndGlyphs" fill="#000" font-size="43.5">[OIII]</text>
<text x="1626.3" y="481.3" textLength="67.2" lengthAdjust="spacingAndGlyphs" fill="#000" font-size="43.5">HeI</text>
<text x="427.2" y="576.6" textLength="186.7" lengthAdjust="spacingAndGlyphs" fill="#a6a6a6" font-size="42.0">H<tspan font-style="italic">β</tspan>,broad</text>
<text x="177.7" y="617.3" textLength="237.6" lengthAdjust="spacingAndGlyphs" fill="#4472c4" font-size="42.0">FeII pseudo-</text>
<text x="178.9" y="674.2" textLength="209.5" lengthAdjust="spacingAndGlyphs" fill="#4472c4" font-size="42.0">continuum</text>
<text x="471.6" y="680.5" textLength="78.1" lengthAdjust="spacingAndGlyphs" fill="#0c1da0" font-size="42.0">HeII</text>
<text x="792.5" y="664.2" textLength="165.3" lengthAdjust="spacingAndGlyphs" fill="#8b3fca" font-size="42.0">systemic</text>
<text x="1082.8" y="682.2" textLength="244.4" lengthAdjust="spacingAndGlyphs" fill="#961100" font-size="42.0">coronal lines</text>
<text x="1431.9" y="701.5" textLength="191.9" lengthAdjust="spacingAndGlyphs" fill="#a6a6a6" font-size="42.0">HeI,broad</text>
<text x="1685.8" y="719.1" textLength="213.9" lengthAdjust="spacingAndGlyphs" fill="#f4994f" font-size="42.0">host galaxy</text>
<text x="1789.6" y="656.5" textLength="209.4" lengthAdjust="spacingAndGlyphs" fill="#4bb3bd" font-size="42.0" transform="rotate(3.60 1789.6 656.5)">continuum</text>
<text x="1713.8" y="68.3" textLength="51.2" lengthAdjust="spacingAndGlyphs" fill="#000" font-size="44.4">(a)</text>
<text x="1437.7" y="1079.2" textLength="53.4" lengthAdjust="spacingAndGlyphs" fill="#000" font-size="44.4">(b)</text>
</g>
<path d="M727.5,222.6 V203.8 H774.4 V222.6" fill="none" stroke="#000" stroke-width="6.6" stroke-linejoin="round"/>
<path d="M298.1,686.1 L298.1,708.9 L291.2,708.9 L301.6,729.9 L312.0,708.9 L305.1,708.9 L305.1,686.1Z" fill="#4472c4"/>
<path d="M502.3,696.6 L486.5,740.3 L480.0,737.9 L482.6,761.2 L499.5,745.0 L493.1,742.7 L508.9,699.0Z" fill="#0c1da0"/>
<path d="M1123.6,692.8 L1083.4,756.4 L1077.6,752.7 L1075.1,776.0 L1095.1,763.8 L1089.3,760.1 L1129.6,696.6Z" fill="#961100"/>
</svg>
</body></html>
